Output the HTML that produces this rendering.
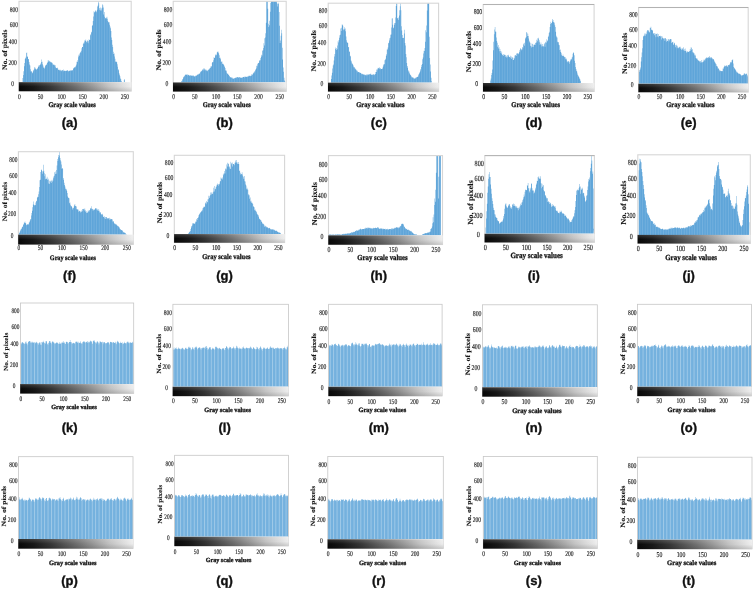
<!DOCTYPE html><html><head><meta charset="utf-8"><title>Histograms</title>
<style>html,body{margin:0;padding:0;background:#fff}svg{display:block}text{text-rendering:geometricPrecision}.t{font-family:"Liberation Serif",serif;fill:#1c1c1c;stroke:#1c1c1c;stroke-width:0.15px}.ax{font-family:"Liberation Serif",serif;font-weight:bold;fill:#151515;stroke:#151515;stroke-width:0.3px}.ay{font-family:"Liberation Serif",serif;font-weight:bold;fill:#151515;stroke:#151515;stroke-width:0.1px}.pl{font-family:"Liberation Sans",sans-serif;font-size:13px;font-weight:bold;fill:#111;stroke:#111;stroke-width:0.35px}</style></head><body>
<svg width="753" height="589" viewBox="0 0 753 589">
<defs>
<linearGradient id="gg" x1="0" y1="0" x2="1" y2="0"><stop offset="0" stop-color="rgb(8,8,8)"/><stop offset="0.13" stop-color="rgb(24,24,24)"/><stop offset="0.28" stop-color="rgb(54,54,54)"/><stop offset="0.4" stop-color="rgb(84,84,84)"/><stop offset="0.52" stop-color="rgb(114,114,114)"/><stop offset="0.65" stop-color="rgb(150,150,150)"/><stop offset="0.8" stop-color="rgb(194,194,194)"/><stop offset="1" stop-color="rgb(238,238,238)"/></linearGradient>
<linearGradient id="gv" x1="0" y1="0" x2="0" y2="1"><stop offset="0" stop-color="#fff" stop-opacity="0.17"/><stop offset="0.5" stop-color="#fff" stop-opacity="0"/><stop offset="0.5" stop-color="#000" stop-opacity="0"/><stop offset="1" stop-color="#000" stop-opacity="0.14"/></linearGradient>
<pattern id="st" width="2.6" height="10" patternUnits="userSpaceOnUse"><rect x="0" y="0" width="0.5" height="10" fill="#ffffff" fill-opacity="0.22"/></pattern>
<pattern id="st2" width="3.4" height="10" patternUnits="userSpaceOnUse"><rect x="0" y="0" width="0.9" height="10" fill="#ffffff" fill-opacity="0.33"/></pattern>
</defs>
<rect width="753" height="589" fill="#ffffff"/>
<g>
<clipPath id="ca"><rect x="19.00" y="1.30" width="112.20" height="80.90"/></clipPath>
<g clip-path="url(#ca)"><polygon points="22.18,82.20 22.18,82.18 22.63,82.18 22.63,78.00 23.08,78.00 23.08,75.01 23.53,75.01 23.53,71.17 23.98,71.17 23.98,66.34 24.43,66.34 24.43,63.00 24.88,63.00 24.88,59.01 25.33,59.01 25.33,57.98 25.78,57.98 25.78,56.87 26.23,56.87 26.23,52.99 26.68,52.99 26.68,52.45 27.13,52.45 27.13,56.56 27.58,56.56 27.58,56.66 28.03,56.66 28.03,59.29 28.48,59.29 28.48,58.92 28.93,58.92 28.93,61.96 29.38,61.96 29.38,64.46 29.83,64.46 29.83,65.58 30.28,65.58 30.28,69.31 30.73,69.31 30.73,71.38 31.18,71.38 31.18,71.16 31.63,71.16 31.63,71.38 32.08,71.38 32.08,72.44 32.53,72.44 32.53,73.28 32.98,73.28 32.98,71.34 33.43,71.34 33.43,69.91 33.88,69.91 33.88,69.14 34.33,69.14 34.33,67.22 34.78,67.22 34.78,67.62 35.23,67.62 35.23,68.58 35.68,68.58 35.68,69.21 36.13,69.21 36.13,69.24 36.58,69.24 36.58,69.65 37.03,69.65 37.03,68.70 37.48,68.70 37.48,68.26 37.93,68.26 37.93,67.00 38.38,67.00 38.38,65.50 38.83,65.50 38.83,66.40 39.28,66.40 39.28,65.21 39.73,65.21 39.73,64.97 40.18,64.97 40.18,63.43 40.63,63.43 40.63,64.56 41.08,64.56 41.08,62.06 41.53,62.06 41.53,59.51 41.98,59.51 41.98,61.73 42.43,61.73 42.43,64.31 42.88,64.31 42.88,65.62 43.33,65.62 43.33,67.43 43.78,67.43 43.78,67.67 44.23,67.67 44.23,68.84 44.68,68.84 44.68,67.50 45.13,67.50 45.13,65.67 45.58,65.67 45.58,65.27 46.03,65.27 46.03,64.95 46.48,64.95 46.48,64.21 46.93,64.21 46.93,62.78 47.38,62.78 47.38,62.41 47.83,62.41 47.83,60.35 48.28,60.35 48.28,60.45 48.73,60.45 48.73,62.08 49.18,62.08 49.18,61.18 49.63,61.18 49.63,60.67 50.08,60.67 50.08,61.80 50.53,61.80 50.53,62.34 50.98,62.34 50.98,62.46 51.43,62.46 51.43,62.19 51.88,62.19 51.88,62.87 52.33,62.87 52.33,63.55 52.78,63.55 52.78,64.71 53.23,64.71 53.23,64.60 53.68,64.60 53.68,64.76 54.13,64.76 54.13,65.44 54.58,65.44 54.58,64.86 55.03,64.86 55.03,65.36 55.48,65.36 55.48,67.25 55.93,67.25 55.93,68.27 56.38,68.27 56.38,67.90 56.83,67.90 56.83,67.84 57.28,67.84 57.28,67.70 57.73,67.70 57.73,68.67 58.18,68.67 58.18,69.90 58.63,69.90 58.63,69.79 59.08,69.79 59.08,69.66 59.53,69.66 59.53,70.55 59.98,70.55 59.98,69.71 60.43,69.71 60.43,70.52 60.88,70.52 60.88,71.30 61.33,71.30 61.33,70.60 61.78,70.60 61.78,70.36 62.23,70.36 62.23,69.98 62.68,69.98 62.68,70.44 63.13,70.44 63.13,71.14 63.58,71.14 63.58,69.40 64.03,69.40 64.03,70.76 64.48,70.76 64.48,70.79 64.93,70.79 64.93,70.98 65.38,70.98 65.38,70.79 65.83,70.79 65.83,70.99 66.28,70.99 66.28,70.55 66.73,70.55 66.73,70.70 67.18,70.70 67.18,70.54 67.63,70.54 67.63,69.96 68.08,69.96 68.08,71.46 68.53,71.46 68.53,71.01 68.98,71.01 68.98,70.45 69.43,70.45 69.43,70.97 69.88,70.97 69.88,70.83 70.33,70.83 70.33,70.49 70.78,70.49 70.78,70.36 71.23,70.36 71.23,70.58 71.68,70.58 71.68,70.62 72.13,70.62 72.13,70.49 72.58,70.49 72.58,69.94 73.03,69.94 73.03,68.45 73.48,68.45 73.48,68.13 73.93,68.13 73.93,67.33 74.38,67.33 74.38,67.49 74.83,67.49 74.83,67.42 75.28,67.42 75.28,66.63 75.73,66.63 75.73,65.83 76.18,65.83 76.18,64.57 76.63,64.57 76.63,61.82 77.08,61.82 77.08,62.02 77.53,62.02 77.53,60.24 77.98,60.24 77.98,57.16 78.43,57.16 78.43,55.54 78.88,55.54 78.88,54.17 79.33,54.17 79.33,55.70 79.78,55.70 79.78,53.09 80.23,53.09 80.23,51.68 80.68,51.68 80.68,52.60 81.13,52.60 81.13,50.67 81.58,50.67 81.58,48.22 82.03,48.22 82.03,47.02 82.48,47.02 82.48,46.99 82.93,46.99 82.93,43.95 83.38,43.95 83.38,42.87 83.83,42.87 83.83,43.56 84.28,43.56 84.28,41.46 84.73,41.46 84.73,39.92 85.18,39.92 85.18,41.02 85.63,41.02 85.63,39.49 86.08,39.49 86.08,41.54 86.53,41.54 86.53,42.14 86.98,42.14 86.98,41.21 87.43,41.21 87.43,40.37 87.88,40.37 87.88,43.36 88.33,43.36 88.33,41.16 88.78,41.16 88.78,39.28 89.23,39.28 89.23,39.99 89.68,39.99 89.68,39.88 90.13,39.88 90.13,35.34 90.58,35.34 90.58,34.28 91.03,34.28 91.03,32.60 91.48,32.60 91.48,31.74 91.93,31.74 91.93,25.91 92.38,25.91 92.38,24.93 92.83,24.93 92.83,21.00 93.28,21.00 93.28,16.59 93.73,16.59 93.73,11.34 94.18,11.34 94.18,12.59 94.63,12.59 94.63,12.11 95.08,12.11 95.08,11.17 95.53,11.17 95.53,10.18 95.98,10.18 95.98,12.35 96.43,12.35 96.43,11.27 96.88,11.27 96.88,9.81 97.33,9.81 97.33,6.44 97.78,6.44 97.78,5.55 98.23,5.55 98.23,0.79 98.68,0.79 98.68,3.18 99.13,3.18 99.13,8.10 99.58,8.10 99.58,9.64 100.03,9.64 100.03,7.58 100.48,7.58 100.48,10.46 100.93,10.46 100.93,8.50 101.38,8.50 101.38,10.59 101.83,10.59 101.83,7.76 102.28,7.76 102.28,4.35 102.73,4.35 102.73,5.13 103.18,5.13 103.18,7.59 103.63,7.59 103.63,14.61 104.08,14.61 104.08,12.11 104.53,12.11 104.53,16.75 104.98,16.75 104.98,18.58 105.43,18.58 105.43,18.05 105.88,18.05 105.88,17.50 106.33,17.50 106.33,18.53 106.78,18.53 106.78,16.63 107.23,16.63 107.23,18.66 107.68,18.66 107.68,21.01 108.13,21.01 108.13,22.06 108.58,22.06 108.58,22.38 109.03,22.38 109.03,22.20 109.48,22.20 109.48,24.78 109.93,24.78 109.93,26.53 110.38,26.53 110.38,28.30 110.83,28.30 110.83,30.95 111.28,30.95 111.28,37.47 111.73,37.47 111.73,39.89 112.18,39.89 112.18,44.84 112.63,44.84 112.63,47.12 113.08,47.12 113.08,51.64 113.53,51.64 113.53,54.05 113.98,54.05 113.98,53.43 114.43,53.43 114.43,56.50 114.88,56.50 114.88,58.84 115.33,58.84 115.33,61.60 115.78,61.60 115.78,61.90 116.23,61.90 116.23,61.62 116.68,61.62 116.68,62.21 117.13,62.21 117.13,64.27 117.58,64.27 117.58,66.84 118.03,66.84 118.03,69.20 118.48,69.20 118.48,70.32 118.93,70.32 118.93,73.23 119.38,73.23 119.38,74.70 119.83,74.70 119.83,76.22 120.28,76.22 120.28,78.53 120.73,78.53 120.73,79.25 121.18,79.25 121.18,81.05 121.63,81.05 121.63,82.18 122.08,82.18 122.08,82.18 122.53,82.18 122.53,82.18 122.98,82.18 122.98,82.18 123.43,82.18 123.43,82.18 123.88,82.18 123.88,79.71 124.33,79.71 124.33,79.27 124.78,79.27 124.78,82.14 125.23,82.14 124.79,82.20" fill="#5fa5d9"/><polygon points="22.18,82.20 22.18,82.18 22.63,82.18 22.63,78.00 23.08,78.00 23.08,75.01 23.53,75.01 23.53,71.17 23.98,71.17 23.98,66.34 24.43,66.34 24.43,63.00 24.88,63.00 24.88,59.01 25.33,59.01 25.33,57.98 25.78,57.98 25.78,56.87 26.23,56.87 26.23,52.99 26.68,52.99 26.68,52.45 27.13,52.45 27.13,56.56 27.58,56.56 27.58,56.66 28.03,56.66 28.03,59.29 28.48,59.29 28.48,58.92 28.93,58.92 28.93,61.96 29.38,61.96 29.38,64.46 29.83,64.46 29.83,65.58 30.28,65.58 30.28,69.31 30.73,69.31 30.73,71.38 31.18,71.38 31.18,71.16 31.63,71.16 31.63,71.38 32.08,71.38 32.08,72.44 32.53,72.44 32.53,73.28 32.98,73.28 32.98,71.34 33.43,71.34 33.43,69.91 33.88,69.91 33.88,69.14 34.33,69.14 34.33,67.22 34.78,67.22 34.78,67.62 35.23,67.62 35.23,68.58 35.68,68.58 35.68,69.21 36.13,69.21 36.13,69.24 36.58,69.24 36.58,69.65 37.03,69.65 37.03,68.70 37.48,68.70 37.48,68.26 37.93,68.26 37.93,67.00 38.38,67.00 38.38,65.50 38.83,65.50 38.83,66.40 39.28,66.40 39.28,65.21 39.73,65.21 39.73,64.97 40.18,64.97 40.18,63.43 40.63,63.43 40.63,64.56 41.08,64.56 41.08,62.06 41.53,62.06 41.53,59.51 41.98,59.51 41.98,61.73 42.43,61.73 42.43,64.31 42.88,64.31 42.88,65.62 43.33,65.62 43.33,67.43 43.78,67.43 43.78,67.67 44.23,67.67 44.23,68.84 44.68,68.84 44.68,67.50 45.13,67.50 45.13,65.67 45.58,65.67 45.58,65.27 46.03,65.27 46.03,64.95 46.48,64.95 46.48,64.21 46.93,64.21 46.93,62.78 47.38,62.78 47.38,62.41 47.83,62.41 47.83,60.35 48.28,60.35 48.28,60.45 48.73,60.45 48.73,62.08 49.18,62.08 49.18,61.18 49.63,61.18 49.63,60.67 50.08,60.67 50.08,61.80 50.53,61.80 50.53,62.34 50.98,62.34 50.98,62.46 51.43,62.46 51.43,62.19 51.88,62.19 51.88,62.87 52.33,62.87 52.33,63.55 52.78,63.55 52.78,64.71 53.23,64.71 53.23,64.60 53.68,64.60 53.68,64.76 54.13,64.76 54.13,65.44 54.58,65.44 54.58,64.86 55.03,64.86 55.03,65.36 55.48,65.36 55.48,67.25 55.93,67.25 55.93,68.27 56.38,68.27 56.38,67.90 56.83,67.90 56.83,67.84 57.28,67.84 57.28,67.70 57.73,67.70 57.73,68.67 58.18,68.67 58.18,69.90 58.63,69.90 58.63,69.79 59.08,69.79 59.08,69.66 59.53,69.66 59.53,70.55 59.98,70.55 59.98,69.71 60.43,69.71 60.43,70.52 60.88,70.52 60.88,71.30 61.33,71.30 61.33,70.60 61.78,70.60 61.78,70.36 62.23,70.36 62.23,69.98 62.68,69.98 62.68,70.44 63.13,70.44 63.13,71.14 63.58,71.14 63.58,69.40 64.03,69.40 64.03,70.76 64.48,70.76 64.48,70.79 64.93,70.79 64.93,70.98 65.38,70.98 65.38,70.79 65.83,70.79 65.83,70.99 66.28,70.99 66.28,70.55 66.73,70.55 66.73,70.70 67.18,70.70 67.18,70.54 67.63,70.54 67.63,69.96 68.08,69.96 68.08,71.46 68.53,71.46 68.53,71.01 68.98,71.01 68.98,70.45 69.43,70.45 69.43,70.97 69.88,70.97 69.88,70.83 70.33,70.83 70.33,70.49 70.78,70.49 70.78,70.36 71.23,70.36 71.23,70.58 71.68,70.58 71.68,70.62 72.13,70.62 72.13,70.49 72.58,70.49 72.58,69.94 73.03,69.94 73.03,68.45 73.48,68.45 73.48,68.13 73.93,68.13 73.93,67.33 74.38,67.33 74.38,67.49 74.83,67.49 74.83,67.42 75.28,67.42 75.28,66.63 75.73,66.63 75.73,65.83 76.18,65.83 76.18,64.57 76.63,64.57 76.63,61.82 77.08,61.82 77.08,62.02 77.53,62.02 77.53,60.24 77.98,60.24 77.98,57.16 78.43,57.16 78.43,55.54 78.88,55.54 78.88,54.17 79.33,54.17 79.33,55.70 79.78,55.70 79.78,53.09 80.23,53.09 80.23,51.68 80.68,51.68 80.68,52.60 81.13,52.60 81.13,50.67 81.58,50.67 81.58,48.22 82.03,48.22 82.03,47.02 82.48,47.02 82.48,46.99 82.93,46.99 82.93,43.95 83.38,43.95 83.38,42.87 83.83,42.87 83.83,43.56 84.28,43.56 84.28,41.46 84.73,41.46 84.73,39.92 85.18,39.92 85.18,41.02 85.63,41.02 85.63,39.49 86.08,39.49 86.08,41.54 86.53,41.54 86.53,42.14 86.98,42.14 86.98,41.21 87.43,41.21 87.43,40.37 87.88,40.37 87.88,43.36 88.33,43.36 88.33,41.16 88.78,41.16 88.78,39.28 89.23,39.28 89.23,39.99 89.68,39.99 89.68,39.88 90.13,39.88 90.13,35.34 90.58,35.34 90.58,34.28 91.03,34.28 91.03,32.60 91.48,32.60 91.48,31.74 91.93,31.74 91.93,25.91 92.38,25.91 92.38,24.93 92.83,24.93 92.83,21.00 93.28,21.00 93.28,16.59 93.73,16.59 93.73,11.34 94.18,11.34 94.18,12.59 94.63,12.59 94.63,12.11 95.08,12.11 95.08,11.17 95.53,11.17 95.53,10.18 95.98,10.18 95.98,12.35 96.43,12.35 96.43,11.27 96.88,11.27 96.88,9.81 97.33,9.81 97.33,6.44 97.78,6.44 97.78,5.55 98.23,5.55 98.23,0.79 98.68,0.79 98.68,3.18 99.13,3.18 99.13,8.10 99.58,8.10 99.58,9.64 100.03,9.64 100.03,7.58 100.48,7.58 100.48,10.46 100.93,10.46 100.93,8.50 101.38,8.50 101.38,10.59 101.83,10.59 101.83,7.76 102.28,7.76 102.28,4.35 102.73,4.35 102.73,5.13 103.18,5.13 103.18,7.59 103.63,7.59 103.63,14.61 104.08,14.61 104.08,12.11 104.53,12.11 104.53,16.75 104.98,16.75 104.98,18.58 105.43,18.58 105.43,18.05 105.88,18.05 105.88,17.50 106.33,17.50 106.33,18.53 106.78,18.53 106.78,16.63 107.23,16.63 107.23,18.66 107.68,18.66 107.68,21.01 108.13,21.01 108.13,22.06 108.58,22.06 108.58,22.38 109.03,22.38 109.03,22.20 109.48,22.20 109.48,24.78 109.93,24.78 109.93,26.53 110.38,26.53 110.38,28.30 110.83,28.30 110.83,30.95 111.28,30.95 111.28,37.47 111.73,37.47 111.73,39.89 112.18,39.89 112.18,44.84 112.63,44.84 112.63,47.12 113.08,47.12 113.08,51.64 113.53,51.64 113.53,54.05 113.98,54.05 113.98,53.43 114.43,53.43 114.43,56.50 114.88,56.50 114.88,58.84 115.33,58.84 115.33,61.60 115.78,61.60 115.78,61.90 116.23,61.90 116.23,61.62 116.68,61.62 116.68,62.21 117.13,62.21 117.13,64.27 117.58,64.27 117.58,66.84 118.03,66.84 118.03,69.20 118.48,69.20 118.48,70.32 118.93,70.32 118.93,73.23 119.38,73.23 119.38,74.70 119.83,74.70 119.83,76.22 120.28,76.22 120.28,78.53 120.73,78.53 120.73,79.25 121.18,79.25 121.18,81.05 121.63,81.05 121.63,82.18 122.08,82.18 122.08,82.18 122.53,82.18 122.53,82.18 122.98,82.18 122.98,82.18 123.43,82.18 123.43,82.18 123.88,82.18 123.88,79.71 124.33,79.71 124.33,79.27 124.78,79.27 124.78,82.14 125.23,82.14 124.79,82.20" fill="url(#st)"/></g>
<rect x="19.00" y="1.30" width="112.20" height="89.70" fill="none" stroke="#d6d6d6" stroke-width="1.1"/>
<rect x="18.80" y="82.20" width="112.60" height="9.00" fill="url(#gg)"/><rect x="18.80" y="82.20" width="112.60" height="9.00" fill="url(#gv)"/>
<text font-size="7.2" class="t" transform="translate(18.00,11.80) scale(0.77,1)" text-anchor="end">800</text>
<text font-size="7.2" class="t" transform="translate(18.00,27.20) scale(0.77,1)" text-anchor="end">600</text>
<text font-size="7.2" class="t" transform="translate(17.10,44.20) scale(0.77,1)" text-anchor="end">400</text>
<text font-size="7.2" class="t" transform="translate(16.70,65.10) scale(0.77,1)" text-anchor="end">200</text>
<text font-size="7.2" class="t" transform="translate(14.00,85.90) scale(0.77,1)" text-anchor="end">0</text>
<text font-size="7.2" class="t" transform="translate(19.40,98.70) scale(0.77,1)" text-anchor="middle">0</text>
<text font-size="7.2" class="t" transform="translate(40.49,98.70) scale(0.77,1)" text-anchor="middle">50</text>
<text font-size="7.2" class="t" transform="translate(61.58,98.70) scale(0.77,1)" text-anchor="middle">100</text>
<text font-size="7.2" class="t" transform="translate(82.67,98.70) scale(0.77,1)" text-anchor="middle">150</text>
<text font-size="7.2" class="t" transform="translate(103.76,98.70) scale(0.77,1)" text-anchor="middle">200</text>
<text font-size="7.2" class="t" transform="translate(124.85,98.70) scale(0.77,1)" text-anchor="middle">250</text>
<text font-size="7.2" class="ax" transform="translate(72.10,107.10) scale(0.886,1)" text-anchor="middle">Gray scale values</text>
<text font-size="7.0" class="ay" transform="translate(7.10,49.75) rotate(-90) scale(1.103,1)" text-anchor="middle">No. of pixels</text>
<text class="pl" x="69.60" y="127.00" text-anchor="middle">(a)</text>
</g>
<g>
<clipPath id="cb"><rect x="173.20" y="1.30" width="113.00" height="81.20"/></clipPath>
<g clip-path="url(#cb)"><polygon points="180.85,82.50 180.85,82.50 181.30,82.50 181.30,81.21 181.75,81.21 181.75,80.64 182.20,80.64 182.20,79.60 182.65,79.60 182.65,78.89 183.10,78.89 183.10,77.43 183.55,77.43 183.55,76.71 184.00,76.71 184.00,76.58 184.45,76.58 184.45,75.81 184.90,75.81 184.90,74.65 185.35,74.65 185.35,74.82 185.80,74.82 185.80,74.51 186.25,74.51 186.25,75.12 186.70,75.12 186.70,74.31 187.15,74.31 187.15,74.54 187.60,74.54 187.60,75.55 188.05,75.55 188.05,74.91 188.50,74.91 188.50,74.87 188.95,74.87 188.95,75.68 189.40,75.68 189.40,75.54 189.85,75.54 189.85,75.00 190.30,75.00 190.30,75.62 190.75,75.62 190.75,75.85 191.20,75.85 191.20,75.30 191.65,75.30 191.65,76.01 192.10,76.01 192.10,75.43 192.55,75.43 192.55,75.80 193.00,75.80 193.00,75.57 193.45,75.57 193.45,75.82 193.90,75.82 193.90,76.85 194.35,76.85 194.35,75.98 194.80,75.98 194.80,76.52 195.25,76.52 195.25,75.63 195.70,75.63 195.70,75.65 196.15,75.65 196.15,75.81 196.60,75.81 196.60,75.37 197.05,75.37 197.05,74.40 197.50,74.40 197.50,74.85 197.95,74.85 197.95,74.72 198.40,74.72 198.40,73.89 198.85,73.89 198.85,73.46 199.30,73.46 199.30,74.04 199.75,74.04 199.75,72.94 200.20,72.94 200.20,71.86 200.65,71.86 200.65,71.71 201.10,71.71 201.10,70.74 201.55,70.74 201.55,71.20 202.00,71.20 202.00,70.16 202.45,70.16 202.45,69.16 202.90,69.16 202.90,70.24 203.35,70.24 203.35,68.59 203.80,68.59 203.80,68.69 204.25,68.69 204.25,68.47 204.70,68.47 204.70,70.13 205.15,70.13 205.15,69.26 205.60,69.26 205.60,70.32 206.05,70.32 206.05,69.85 206.50,69.85 206.50,70.84 206.95,70.84 206.95,71.15 207.40,71.15 207.40,70.55 207.85,70.55 207.85,70.07 208.30,70.07 208.30,69.78 208.75,69.78 208.75,69.35 209.20,69.35 209.20,69.32 209.65,69.32 209.65,68.00 210.10,68.00 210.10,68.08 210.55,68.08 210.55,66.52 211.00,66.52 211.00,66.85 211.45,66.85 211.45,66.02 211.90,66.02 211.90,62.87 212.35,62.87 212.35,61.92 212.80,61.92 212.80,62.00 213.25,62.00 213.25,60.27 213.70,60.27 213.70,57.25 214.15,57.25 214.15,57.94 214.60,57.94 214.60,57.74 215.05,57.74 215.05,55.41 215.50,55.41 215.50,54.51 215.95,54.51 215.95,54.62 216.40,54.62 216.40,55.26 216.85,55.26 216.85,52.39 217.30,52.39 217.30,52.11 217.75,52.11 217.75,51.28 218.20,51.28 218.20,52.47 218.65,52.47 218.65,53.47 219.10,53.47 219.10,55.36 219.55,55.36 219.55,58.05 220.00,58.05 220.00,57.77 220.45,57.77 220.45,59.35 220.90,59.35 220.90,61.98 221.35,61.98 221.35,61.62 221.80,61.62 221.80,61.56 222.25,61.56 222.25,64.12 222.70,64.12 222.70,63.56 223.15,63.56 223.15,64.22 223.60,64.22 223.60,64.65 224.05,64.65 224.05,65.84 224.50,65.84 224.50,66.97 224.95,66.97 224.95,68.11 225.40,68.11 225.40,70.40 225.85,70.40 225.85,70.33 226.30,70.33 226.30,71.37 226.75,71.37 226.75,72.90 227.20,72.90 227.20,73.93 227.65,73.93 227.65,73.55 228.10,73.55 228.10,74.79 228.55,74.79 228.55,74.81 229.00,74.81 229.00,75.63 229.45,75.63 229.45,76.23 229.90,76.23 229.90,77.16 230.35,77.16 230.35,77.20 230.80,77.20 230.80,77.18 231.25,77.18 231.25,77.82 231.70,77.82 231.70,77.57 232.15,77.57 232.15,77.86 232.60,77.86 232.60,78.72 233.05,78.72 233.05,78.55 233.50,78.55 233.50,78.66 233.95,78.66 233.95,78.06 234.40,78.06 234.40,78.56 234.85,78.56 234.85,78.12 235.30,78.12 235.30,77.61 235.75,77.61 235.75,78.22 236.20,78.22 236.20,77.59 236.65,77.59 236.65,77.32 237.10,77.32 237.10,77.14 237.55,77.14 237.55,76.99 238.00,76.99 238.00,77.13 238.45,77.13 238.45,77.70 238.90,77.70 238.90,77.12 239.35,77.12 239.35,77.28 239.80,77.28 239.80,77.52 240.25,77.52 240.25,77.66 240.70,77.66 240.70,77.51 241.15,77.51 241.15,77.98 241.60,77.98 241.60,77.44 242.05,77.44 242.05,77.51 242.50,77.51 242.50,77.47 242.95,77.47 242.95,77.04 243.40,77.04 243.40,77.03 243.85,77.03 243.85,76.84 244.30,76.84 244.30,77.39 244.75,77.39 244.75,76.62 245.20,76.62 245.20,77.12 245.65,77.12 245.65,76.49 246.10,76.49 246.10,76.88 246.55,76.88 246.55,76.79 247.00,76.79 247.00,76.34 247.45,76.34 247.45,76.95 247.90,76.95 247.90,76.53 248.35,76.53 248.35,76.31 248.80,76.31 248.80,75.59 249.25,75.59 249.25,75.95 249.70,75.95 249.70,75.68 250.15,75.68 250.15,75.85 250.60,75.85 250.60,76.33 251.05,76.33 251.05,75.81 251.50,75.81 251.50,74.29 251.95,74.29 251.95,74.69 252.40,74.69 252.40,74.61 252.85,74.61 252.85,73.60 253.30,73.60 253.30,72.46 253.75,72.46 253.75,73.21 254.20,73.21 254.20,71.53 254.65,71.53 254.65,71.50 255.10,71.50 255.10,70.33 255.55,70.33 255.55,69.27 256.00,69.27 256.00,68.50 256.45,68.50 256.45,65.64 256.90,65.64 256.90,66.25 257.35,66.25 257.35,64.33 257.80,64.33 257.80,63.14 258.25,63.14 258.25,62.98 258.70,62.98 258.70,62.77 259.15,62.77 259.15,60.46 259.60,60.46 259.60,60.58 260.05,60.58 260.05,60.20 260.50,60.20 260.50,58.00 260.95,58.00 260.95,56.76 261.40,56.76 261.40,54.64 261.85,54.64 261.85,55.44 262.30,55.44 262.30,50.78 262.75,50.78 262.75,50.31 263.20,50.31 263.20,48.11 263.65,48.11 263.65,43.26 264.10,43.26 264.10,45.49 264.55,45.49 264.55,38.30 265.00,38.30 265.00,37.57 265.45,37.57 265.45,33.25 265.90,33.25 265.90,22.67 266.35,22.67 266.35,-0.03 266.80,-0.03 266.80,-3.64 267.25,-3.64 267.25,-3.43 267.70,-3.43 267.70,8.75 268.15,8.75 268.15,23.82 268.60,23.82 268.60,27.04 269.05,27.04 269.05,25.29 269.50,25.29 269.50,20.64 269.95,20.64 269.95,11.73 270.40,11.73 270.40,3.04 270.85,3.04 270.85,-1.13 271.30,-1.13 271.30,-3.09 271.75,-3.09 271.75,-1.72 272.20,-1.72 272.20,-3.44 272.65,-3.44 272.65,-1.43 273.10,-1.43 273.10,-5.09 273.55,-5.09 273.55,-3.46 274.00,-3.46 274.00,-2.85 274.45,-2.85 274.45,-1.90 274.90,-1.90 274.90,-3.53 275.35,-3.53 275.35,-2.40 275.80,-2.40 275.80,-1.13 276.25,-1.13 276.25,-1.94 276.70,-1.94 276.70,2.50 277.15,2.50 277.15,3.84 277.60,3.84 277.60,6.60 278.05,6.60 278.05,4.01 278.50,4.01 278.50,2.72 278.95,2.72 278.95,12.09 279.40,12.09 279.40,25.63 279.85,25.63 279.85,43.07 280.30,43.07 280.30,40.44 280.75,40.44 280.75,35.66 281.20,35.66 281.20,29.77 281.65,29.77 281.65,33.34 282.10,33.34 282.10,47.87 282.55,47.87 282.55,59.57 283.00,59.57 283.00,67.40 283.45,67.40 283.45,71.66 283.90,71.66 283.90,77.75 284.35,77.75 284.35,80.56 284.80,80.56 284.80,81.60 285.25,81.60 285.21,82.50" fill="#5fa5d9"/><polygon points="180.85,82.50 180.85,82.50 181.30,82.50 181.30,81.21 181.75,81.21 181.75,80.64 182.20,80.64 182.20,79.60 182.65,79.60 182.65,78.89 183.10,78.89 183.10,77.43 183.55,77.43 183.55,76.71 184.00,76.71 184.00,76.58 184.45,76.58 184.45,75.81 184.90,75.81 184.90,74.65 185.35,74.65 185.35,74.82 185.80,74.82 185.80,74.51 186.25,74.51 186.25,75.12 186.70,75.12 186.70,74.31 187.15,74.31 187.15,74.54 187.60,74.54 187.60,75.55 188.05,75.55 188.05,74.91 188.50,74.91 188.50,74.87 188.95,74.87 188.95,75.68 189.40,75.68 189.40,75.54 189.85,75.54 189.85,75.00 190.30,75.00 190.30,75.62 190.75,75.62 190.75,75.85 191.20,75.85 191.20,75.30 191.65,75.30 191.65,76.01 192.10,76.01 192.10,75.43 192.55,75.43 192.55,75.80 193.00,75.80 193.00,75.57 193.45,75.57 193.45,75.82 193.90,75.82 193.90,76.85 194.35,76.85 194.35,75.98 194.80,75.98 194.80,76.52 195.25,76.52 195.25,75.63 195.70,75.63 195.70,75.65 196.15,75.65 196.15,75.81 196.60,75.81 196.60,75.37 197.05,75.37 197.05,74.40 197.50,74.40 197.50,74.85 197.95,74.85 197.95,74.72 198.40,74.72 198.40,73.89 198.85,73.89 198.85,73.46 199.30,73.46 199.30,74.04 199.75,74.04 199.75,72.94 200.20,72.94 200.20,71.86 200.65,71.86 200.65,71.71 201.10,71.71 201.10,70.74 201.55,70.74 201.55,71.20 202.00,71.20 202.00,70.16 202.45,70.16 202.45,69.16 202.90,69.16 202.90,70.24 203.35,70.24 203.35,68.59 203.80,68.59 203.80,68.69 204.25,68.69 204.25,68.47 204.70,68.47 204.70,70.13 205.15,70.13 205.15,69.26 205.60,69.26 205.60,70.32 206.05,70.32 206.05,69.85 206.50,69.85 206.50,70.84 206.95,70.84 206.95,71.15 207.40,71.15 207.40,70.55 207.85,70.55 207.85,70.07 208.30,70.07 208.30,69.78 208.75,69.78 208.75,69.35 209.20,69.35 209.20,69.32 209.65,69.32 209.65,68.00 210.10,68.00 210.10,68.08 210.55,68.08 210.55,66.52 211.00,66.52 211.00,66.85 211.45,66.85 211.45,66.02 211.90,66.02 211.90,62.87 212.35,62.87 212.35,61.92 212.80,61.92 212.80,62.00 213.25,62.00 213.25,60.27 213.70,60.27 213.70,57.25 214.15,57.25 214.15,57.94 214.60,57.94 214.60,57.74 215.05,57.74 215.05,55.41 215.50,55.41 215.50,54.51 215.95,54.51 215.95,54.62 216.40,54.62 216.40,55.26 216.85,55.26 216.85,52.39 217.30,52.39 217.30,52.11 217.75,52.11 217.75,51.28 218.20,51.28 218.20,52.47 218.65,52.47 218.65,53.47 219.10,53.47 219.10,55.36 219.55,55.36 219.55,58.05 220.00,58.05 220.00,57.77 220.45,57.77 220.45,59.35 220.90,59.35 220.90,61.98 221.35,61.98 221.35,61.62 221.80,61.62 221.80,61.56 222.25,61.56 222.25,64.12 222.70,64.12 222.70,63.56 223.15,63.56 223.15,64.22 223.60,64.22 223.60,64.65 224.05,64.65 224.05,65.84 224.50,65.84 224.50,66.97 224.95,66.97 224.95,68.11 225.40,68.11 225.40,70.40 225.85,70.40 225.85,70.33 226.30,70.33 226.30,71.37 226.75,71.37 226.75,72.90 227.20,72.90 227.20,73.93 227.65,73.93 227.65,73.55 228.10,73.55 228.10,74.79 228.55,74.79 228.55,74.81 229.00,74.81 229.00,75.63 229.45,75.63 229.45,76.23 229.90,76.23 229.90,77.16 230.35,77.16 230.35,77.20 230.80,77.20 230.80,77.18 231.25,77.18 231.25,77.82 231.70,77.82 231.70,77.57 232.15,77.57 232.15,77.86 232.60,77.86 232.60,78.72 233.05,78.72 233.05,78.55 233.50,78.55 233.50,78.66 233.95,78.66 233.95,78.06 234.40,78.06 234.40,78.56 234.85,78.56 234.85,78.12 235.30,78.12 235.30,77.61 235.75,77.61 235.75,78.22 236.20,78.22 236.20,77.59 236.65,77.59 236.65,77.32 237.10,77.32 237.10,77.14 237.55,77.14 237.55,76.99 238.00,76.99 238.00,77.13 238.45,77.13 238.45,77.70 238.90,77.70 238.90,77.12 239.35,77.12 239.35,77.28 239.80,77.28 239.80,77.52 240.25,77.52 240.25,77.66 240.70,77.66 240.70,77.51 241.15,77.51 241.15,77.98 241.60,77.98 241.60,77.44 242.05,77.44 242.05,77.51 242.50,77.51 242.50,77.47 242.95,77.47 242.95,77.04 243.40,77.04 243.40,77.03 243.85,77.03 243.85,76.84 244.30,76.84 244.30,77.39 244.75,77.39 244.75,76.62 245.20,76.62 245.20,77.12 245.65,77.12 245.65,76.49 246.10,76.49 246.10,76.88 246.55,76.88 246.55,76.79 247.00,76.79 247.00,76.34 247.45,76.34 247.45,76.95 247.90,76.95 247.90,76.53 248.35,76.53 248.35,76.31 248.80,76.31 248.80,75.59 249.25,75.59 249.25,75.95 249.70,75.95 249.70,75.68 250.15,75.68 250.15,75.85 250.60,75.85 250.60,76.33 251.05,76.33 251.05,75.81 251.50,75.81 251.50,74.29 251.95,74.29 251.95,74.69 252.40,74.69 252.40,74.61 252.85,74.61 252.85,73.60 253.30,73.60 253.30,72.46 253.75,72.46 253.75,73.21 254.20,73.21 254.20,71.53 254.65,71.53 254.65,71.50 255.10,71.50 255.10,70.33 255.55,70.33 255.55,69.27 256.00,69.27 256.00,68.50 256.45,68.50 256.45,65.64 256.90,65.64 256.90,66.25 257.35,66.25 257.35,64.33 257.80,64.33 257.80,63.14 258.25,63.14 258.25,62.98 258.70,62.98 258.70,62.77 259.15,62.77 259.15,60.46 259.60,60.46 259.60,60.58 260.05,60.58 260.05,60.20 260.50,60.20 260.50,58.00 260.95,58.00 260.95,56.76 261.40,56.76 261.40,54.64 261.85,54.64 261.85,55.44 262.30,55.44 262.30,50.78 262.75,50.78 262.75,50.31 263.20,50.31 263.20,48.11 263.65,48.11 263.65,43.26 264.10,43.26 264.10,45.49 264.55,45.49 264.55,38.30 265.00,38.30 265.00,37.57 265.45,37.57 265.45,33.25 265.90,33.25 265.90,22.67 266.35,22.67 266.35,-0.03 266.80,-0.03 266.80,-3.64 267.25,-3.64 267.25,-3.43 267.70,-3.43 267.70,8.75 268.15,8.75 268.15,23.82 268.60,23.82 268.60,27.04 269.05,27.04 269.05,25.29 269.50,25.29 269.50,20.64 269.95,20.64 269.95,11.73 270.40,11.73 270.40,3.04 270.85,3.04 270.85,-1.13 271.30,-1.13 271.30,-3.09 271.75,-3.09 271.75,-1.72 272.20,-1.72 272.20,-3.44 272.65,-3.44 272.65,-1.43 273.10,-1.43 273.10,-5.09 273.55,-5.09 273.55,-3.46 274.00,-3.46 274.00,-2.85 274.45,-2.85 274.45,-1.90 274.90,-1.90 274.90,-3.53 275.35,-3.53 275.35,-2.40 275.80,-2.40 275.80,-1.13 276.25,-1.13 276.25,-1.94 276.70,-1.94 276.70,2.50 277.15,2.50 277.15,3.84 277.60,3.84 277.60,6.60 278.05,6.60 278.05,4.01 278.50,4.01 278.50,2.72 278.95,2.72 278.95,12.09 279.40,12.09 279.40,25.63 279.85,25.63 279.85,43.07 280.30,43.07 280.30,40.44 280.75,40.44 280.75,35.66 281.20,35.66 281.20,29.77 281.65,29.77 281.65,33.34 282.10,33.34 282.10,47.87 282.55,47.87 282.55,59.57 283.00,59.57 283.00,67.40 283.45,67.40 283.45,71.66 283.90,71.66 283.90,77.75 284.35,77.75 284.35,80.56 284.80,80.56 284.80,81.60 285.25,81.60 285.21,82.50" fill="url(#st)"/></g>
<rect x="173.20" y="1.30" width="113.00" height="90.00" fill="none" stroke="#d6d6d6" stroke-width="1.1"/>
<rect x="173.00" y="82.50" width="113.40" height="9.00" fill="url(#gg)"/><rect x="173.00" y="82.50" width="113.40" height="9.00" fill="url(#gv)"/>
<text font-size="7.31" class="t" transform="translate(172.20,11.83) scale(0.77,1)" text-anchor="end">800</text>
<text font-size="7.31" class="t" transform="translate(172.20,27.23) scale(0.77,1)" text-anchor="end">600</text>
<text font-size="7.31" class="t" transform="translate(171.30,44.23) scale(0.77,1)" text-anchor="end">400</text>
<text font-size="7.31" class="t" transform="translate(170.90,65.13) scale(0.77,1)" text-anchor="end">200</text>
<text font-size="7.31" class="t" transform="translate(168.20,85.93) scale(0.77,1)" text-anchor="end">0</text>
<text font-size="7.31" class="t" transform="translate(173.60,98.70) scale(0.77,1)" text-anchor="middle">0</text>
<text font-size="7.31" class="t" transform="translate(194.84,98.70) scale(0.77,1)" text-anchor="middle">50</text>
<text font-size="7.31" class="t" transform="translate(216.08,98.70) scale(0.77,1)" text-anchor="middle">100</text>
<text font-size="7.31" class="t" transform="translate(237.32,98.70) scale(0.77,1)" text-anchor="middle">150</text>
<text font-size="7.31" class="t" transform="translate(258.56,98.70) scale(0.77,1)" text-anchor="middle">200</text>
<text font-size="7.31" class="t" transform="translate(279.80,98.70) scale(0.77,1)" text-anchor="middle">250</text>
<text font-size="7.31" class="ax" transform="translate(226.70,107.10) scale(0.886,1)" text-anchor="middle">Gray scale values</text>
<text font-size="7.1" class="ay" transform="translate(161.30,49.90) rotate(-90) scale(1.103,1)" text-anchor="middle">No. of pixels</text>
<text class="pl" x="224.60" y="127.00" text-anchor="middle">(b)</text>
</g>
<g>
<clipPath id="cc"><rect x="328.20" y="3.20" width="110.40" height="79.50"/></clipPath>
<g clip-path="url(#cc)"><polygon points="330.59,82.70 330.59,82.66 331.04,82.66 331.04,79.08 331.49,79.08 331.49,75.47 331.94,75.47 331.94,72.74 332.39,72.74 332.39,68.61 332.84,68.61 332.84,65.46 333.29,65.46 333.29,64.47 333.74,64.47 333.74,60.43 334.19,60.43 334.19,56.56 334.64,56.56 334.64,54.04 335.09,54.04 335.09,47.60 335.54,47.60 335.54,48.95 335.99,48.95 335.99,49.92 336.44,49.92 336.44,48.07 336.89,48.07 336.89,49.21 337.34,49.21 337.34,45.56 337.79,45.56 337.79,41.14 338.24,41.14 338.24,42.39 338.69,42.39 338.69,40.00 339.14,40.00 339.14,37.75 339.59,37.75 339.59,35.29 340.04,35.29 340.04,34.66 340.49,34.66 340.49,28.52 340.94,28.52 340.94,31.02 341.39,31.02 341.39,27.83 341.84,27.83 341.84,24.38 342.29,24.38 342.29,24.69 342.74,24.69 342.74,25.73 343.19,25.73 343.19,29.35 343.64,29.35 343.64,30.28 344.09,30.28 344.09,29.26 344.54,29.26 344.54,27.16 344.99,27.16 344.99,28.52 345.44,28.52 345.44,31.27 345.89,31.27 345.89,36.39 346.34,36.39 346.34,40.34 346.79,40.34 346.79,42.08 347.24,42.08 347.24,42.80 347.69,42.80 347.69,43.01 348.14,43.01 348.14,47.14 348.59,47.14 348.59,47.11 349.04,47.11 349.04,51.92 349.49,51.92 349.49,51.21 349.94,51.21 349.94,56.38 350.39,56.38 350.39,55.67 350.84,55.67 350.84,60.41 351.29,60.41 351.29,61.59 351.74,61.59 351.74,63.23 352.19,63.23 352.19,63.74 352.64,63.74 352.64,64.39 353.09,64.39 353.09,65.60 353.54,65.60 353.54,67.34 353.99,67.34 353.99,67.06 354.44,67.06 354.44,67.68 354.89,67.68 354.89,69.14 355.34,69.14 355.34,68.54 355.79,68.54 355.79,69.50 356.24,69.50 356.24,70.36 356.69,70.36 356.69,70.81 357.14,70.81 357.14,70.65 357.59,70.65 357.59,72.13 358.04,72.13 358.04,72.11 358.49,72.11 358.49,71.92 358.94,71.92 358.94,72.52 359.39,72.52 359.39,72.26 359.84,72.26 359.84,72.89 360.29,72.89 360.29,72.72 360.74,72.72 360.74,73.12 361.19,73.12 361.19,73.76 361.64,73.76 361.64,74.14 362.09,74.14 362.09,73.74 362.54,73.74 362.54,74.16 362.99,74.16 362.99,74.32 363.44,74.32 363.44,74.51 363.89,74.51 363.89,75.06 364.34,75.06 364.34,74.17 364.79,74.17 364.79,75.04 365.24,75.04 365.24,74.82 365.69,74.82 365.69,75.39 366.14,75.39 366.14,75.18 366.59,75.18 366.59,74.30 367.04,74.30 367.04,74.30 367.49,74.30 367.49,75.25 367.94,75.25 367.94,74.47 368.39,74.47 368.39,74.84 368.84,74.84 368.84,74.04 369.29,74.04 369.29,74.62 369.74,74.62 369.74,74.33 370.19,74.33 370.19,74.33 370.64,74.33 370.64,73.59 371.09,73.59 371.09,74.81 371.54,74.81 371.54,74.76 371.99,74.76 371.99,74.73 372.44,74.73 372.44,74.66 372.89,74.66 372.89,74.22 373.34,74.22 373.34,74.29 373.79,74.29 373.79,75.30 374.24,75.30 374.24,74.71 374.69,74.71 374.69,74.29 375.14,74.29 375.14,73.92 375.59,73.92 375.59,71.95 376.04,71.95 376.04,71.95 376.49,71.95 376.49,69.51 376.94,69.51 376.94,70.25 377.39,70.25 377.39,68.65 377.84,68.65 377.84,67.81 378.29,67.81 378.29,67.94 378.74,67.94 378.74,68.63 379.19,68.63 379.19,67.37 379.64,67.37 379.64,68.60 380.09,68.60 380.09,69.35 380.54,69.35 380.54,67.93 380.99,67.93 380.99,69.07 381.44,69.07 381.44,68.94 381.89,68.94 381.89,68.80 382.34,68.80 382.34,68.51 382.79,68.51 382.79,66.63 383.24,66.63 383.24,65.26 383.69,65.26 383.69,63.95 384.14,63.95 384.14,64.20 384.59,64.20 384.59,60.34 385.04,60.34 385.04,59.83 385.49,59.83 385.49,58.66 385.94,58.66 385.94,55.64 386.39,55.64 386.39,54.33 386.84,54.33 386.84,49.51 387.29,49.51 387.29,49.41 387.74,49.41 387.74,47.48 388.19,47.48 388.19,43.25 388.64,43.25 388.64,42.84 389.09,42.84 389.09,40.54 389.54,40.54 389.54,38.17 389.99,38.17 389.99,37.81 390.44,37.81 390.44,34.80 390.89,34.80 390.89,34.61 391.34,34.61 391.34,27.44 391.79,27.44 391.79,18.44 392.24,18.44 392.24,18.34 392.69,18.34 392.69,24.75 393.14,24.75 393.14,28.16 393.59,28.16 393.59,27.42 394.04,27.42 394.04,24.63 394.49,24.63 394.49,23.02 394.94,23.02 394.94,23.12 395.39,23.12 395.39,17.46 395.84,17.46 395.84,6.04 396.29,6.04 396.29,1.89 396.74,1.89 396.74,3.43 397.19,3.43 397.19,18.05 397.64,18.05 397.64,18.50 398.09,18.50 398.09,19.97 398.54,19.97 398.54,17.58 398.99,17.58 398.99,15.39 399.44,15.39 399.44,10.13 399.89,10.13 399.89,6.35 400.34,6.35 400.34,-1.49 400.79,-1.49 400.79,10.35 401.24,10.35 401.24,26.19 401.69,26.19 401.69,30.59 402.14,30.59 402.14,34.89 402.59,34.89 402.59,37.96 403.04,37.96 403.04,37.73 403.49,37.73 403.49,37.88 403.94,37.88 403.94,33.52 404.39,33.52 404.39,29.79 404.84,29.79 404.84,43.09 405.29,43.09 405.29,45.60 405.74,45.60 405.74,53.92 406.19,53.92 406.19,57.14 406.64,57.14 406.64,63.03 407.09,63.03 407.09,66.00 407.54,66.00 407.54,67.65 407.99,67.65 407.99,70.13 408.44,70.13 408.44,71.40 408.89,71.40 408.89,71.42 409.34,71.42 409.34,73.17 409.79,73.17 409.79,74.28 410.24,74.28 410.24,75.12 410.69,75.12 410.69,75.53 411.14,75.53 411.14,76.28 411.59,76.28 411.59,77.31 412.04,77.31 412.04,77.29 412.49,77.29 412.49,77.45 412.94,77.45 412.94,78.38 413.39,78.38 413.39,77.59 413.84,77.59 413.84,78.10 414.29,78.10 414.29,78.72 414.74,78.72 414.74,78.75 415.19,78.75 415.19,78.34 415.64,78.34 415.64,77.40 416.09,77.40 416.09,77.81 416.54,77.81 416.54,76.89 416.99,76.89 416.99,76.97 417.44,76.97 417.44,76.80 417.89,76.80 417.89,76.55 418.34,76.55 418.34,74.65 418.79,74.65 418.79,73.91 419.24,73.91 419.24,72.94 419.69,72.94 419.69,72.00 420.14,72.00 420.14,70.46 420.59,70.46 420.59,69.07 421.04,69.07 421.04,66.96 421.49,66.96 421.49,65.11 421.94,65.11 421.94,63.92 422.39,63.92 422.39,59.26 422.84,59.26 422.84,57.55 423.29,57.55 423.29,53.42 423.74,53.42 423.74,50.66 424.19,50.66 424.19,50.93 424.64,50.93 424.64,48.06 425.09,48.06 425.09,41.85 425.54,41.85 425.54,30.20 425.99,30.20 425.99,32.23 426.44,32.23 426.44,25.43 426.89,25.43 426.89,10.49 427.34,10.49 427.34,0.29 427.79,0.29 427.79,-0.29 428.24,-0.29 428.24,0.53 428.69,0.53 428.69,-1.06 429.14,-1.06 429.14,36.70 429.59,36.70 429.59,57.96 430.04,57.96 430.04,64.43 430.49,64.43 430.49,71.39 430.94,71.39 430.94,77.77 431.39,77.77 431.39,81.12 431.84,81.12 431.60,82.70" fill="#5fa5d9"/><polygon points="330.59,82.70 330.59,82.66 331.04,82.66 331.04,79.08 331.49,79.08 331.49,75.47 331.94,75.47 331.94,72.74 332.39,72.74 332.39,68.61 332.84,68.61 332.84,65.46 333.29,65.46 333.29,64.47 333.74,64.47 333.74,60.43 334.19,60.43 334.19,56.56 334.64,56.56 334.64,54.04 335.09,54.04 335.09,47.60 335.54,47.60 335.54,48.95 335.99,48.95 335.99,49.92 336.44,49.92 336.44,48.07 336.89,48.07 336.89,49.21 337.34,49.21 337.34,45.56 337.79,45.56 337.79,41.14 338.24,41.14 338.24,42.39 338.69,42.39 338.69,40.00 339.14,40.00 339.14,37.75 339.59,37.75 339.59,35.29 340.04,35.29 340.04,34.66 340.49,34.66 340.49,28.52 340.94,28.52 340.94,31.02 341.39,31.02 341.39,27.83 341.84,27.83 341.84,24.38 342.29,24.38 342.29,24.69 342.74,24.69 342.74,25.73 343.19,25.73 343.19,29.35 343.64,29.35 343.64,30.28 344.09,30.28 344.09,29.26 344.54,29.26 344.54,27.16 344.99,27.16 344.99,28.52 345.44,28.52 345.44,31.27 345.89,31.27 345.89,36.39 346.34,36.39 346.34,40.34 346.79,40.34 346.79,42.08 347.24,42.08 347.24,42.80 347.69,42.80 347.69,43.01 348.14,43.01 348.14,47.14 348.59,47.14 348.59,47.11 349.04,47.11 349.04,51.92 349.49,51.92 349.49,51.21 349.94,51.21 349.94,56.38 350.39,56.38 350.39,55.67 350.84,55.67 350.84,60.41 351.29,60.41 351.29,61.59 351.74,61.59 351.74,63.23 352.19,63.23 352.19,63.74 352.64,63.74 352.64,64.39 353.09,64.39 353.09,65.60 353.54,65.60 353.54,67.34 353.99,67.34 353.99,67.06 354.44,67.06 354.44,67.68 354.89,67.68 354.89,69.14 355.34,69.14 355.34,68.54 355.79,68.54 355.79,69.50 356.24,69.50 356.24,70.36 356.69,70.36 356.69,70.81 357.14,70.81 357.14,70.65 357.59,70.65 357.59,72.13 358.04,72.13 358.04,72.11 358.49,72.11 358.49,71.92 358.94,71.92 358.94,72.52 359.39,72.52 359.39,72.26 359.84,72.26 359.84,72.89 360.29,72.89 360.29,72.72 360.74,72.72 360.74,73.12 361.19,73.12 361.19,73.76 361.64,73.76 361.64,74.14 362.09,74.14 362.09,73.74 362.54,73.74 362.54,74.16 362.99,74.16 362.99,74.32 363.44,74.32 363.44,74.51 363.89,74.51 363.89,75.06 364.34,75.06 364.34,74.17 364.79,74.17 364.79,75.04 365.24,75.04 365.24,74.82 365.69,74.82 365.69,75.39 366.14,75.39 366.14,75.18 366.59,75.18 366.59,74.30 367.04,74.30 367.04,74.30 367.49,74.30 367.49,75.25 367.94,75.25 367.94,74.47 368.39,74.47 368.39,74.84 368.84,74.84 368.84,74.04 369.29,74.04 369.29,74.62 369.74,74.62 369.74,74.33 370.19,74.33 370.19,74.33 370.64,74.33 370.64,73.59 371.09,73.59 371.09,74.81 371.54,74.81 371.54,74.76 371.99,74.76 371.99,74.73 372.44,74.73 372.44,74.66 372.89,74.66 372.89,74.22 373.34,74.22 373.34,74.29 373.79,74.29 373.79,75.30 374.24,75.30 374.24,74.71 374.69,74.71 374.69,74.29 375.14,74.29 375.14,73.92 375.59,73.92 375.59,71.95 376.04,71.95 376.04,71.95 376.49,71.95 376.49,69.51 376.94,69.51 376.94,70.25 377.39,70.25 377.39,68.65 377.84,68.65 377.84,67.81 378.29,67.81 378.29,67.94 378.74,67.94 378.74,68.63 379.19,68.63 379.19,67.37 379.64,67.37 379.64,68.60 380.09,68.60 380.09,69.35 380.54,69.35 380.54,67.93 380.99,67.93 380.99,69.07 381.44,69.07 381.44,68.94 381.89,68.94 381.89,68.80 382.34,68.80 382.34,68.51 382.79,68.51 382.79,66.63 383.24,66.63 383.24,65.26 383.69,65.26 383.69,63.95 384.14,63.95 384.14,64.20 384.59,64.20 384.59,60.34 385.04,60.34 385.04,59.83 385.49,59.83 385.49,58.66 385.94,58.66 385.94,55.64 386.39,55.64 386.39,54.33 386.84,54.33 386.84,49.51 387.29,49.51 387.29,49.41 387.74,49.41 387.74,47.48 388.19,47.48 388.19,43.25 388.64,43.25 388.64,42.84 389.09,42.84 389.09,40.54 389.54,40.54 389.54,38.17 389.99,38.17 389.99,37.81 390.44,37.81 390.44,34.80 390.89,34.80 390.89,34.61 391.34,34.61 391.34,27.44 391.79,27.44 391.79,18.44 392.24,18.44 392.24,18.34 392.69,18.34 392.69,24.75 393.14,24.75 393.14,28.16 393.59,28.16 393.59,27.42 394.04,27.42 394.04,24.63 394.49,24.63 394.49,23.02 394.94,23.02 394.94,23.12 395.39,23.12 395.39,17.46 395.84,17.46 395.84,6.04 396.29,6.04 396.29,1.89 396.74,1.89 396.74,3.43 397.19,3.43 397.19,18.05 397.64,18.05 397.64,18.50 398.09,18.50 398.09,19.97 398.54,19.97 398.54,17.58 398.99,17.58 398.99,15.39 399.44,15.39 399.44,10.13 399.89,10.13 399.89,6.35 400.34,6.35 400.34,-1.49 400.79,-1.49 400.79,10.35 401.24,10.35 401.24,26.19 401.69,26.19 401.69,30.59 402.14,30.59 402.14,34.89 402.59,34.89 402.59,37.96 403.04,37.96 403.04,37.73 403.49,37.73 403.49,37.88 403.94,37.88 403.94,33.52 404.39,33.52 404.39,29.79 404.84,29.79 404.84,43.09 405.29,43.09 405.29,45.60 405.74,45.60 405.74,53.92 406.19,53.92 406.19,57.14 406.64,57.14 406.64,63.03 407.09,63.03 407.09,66.00 407.54,66.00 407.54,67.65 407.99,67.65 407.99,70.13 408.44,70.13 408.44,71.40 408.89,71.40 408.89,71.42 409.34,71.42 409.34,73.17 409.79,73.17 409.79,74.28 410.24,74.28 410.24,75.12 410.69,75.12 410.69,75.53 411.14,75.53 411.14,76.28 411.59,76.28 411.59,77.31 412.04,77.31 412.04,77.29 412.49,77.29 412.49,77.45 412.94,77.45 412.94,78.38 413.39,78.38 413.39,77.59 413.84,77.59 413.84,78.10 414.29,78.10 414.29,78.72 414.74,78.72 414.74,78.75 415.19,78.75 415.19,78.34 415.64,78.34 415.64,77.40 416.09,77.40 416.09,77.81 416.54,77.81 416.54,76.89 416.99,76.89 416.99,76.97 417.44,76.97 417.44,76.80 417.89,76.80 417.89,76.55 418.34,76.55 418.34,74.65 418.79,74.65 418.79,73.91 419.24,73.91 419.24,72.94 419.69,72.94 419.69,72.00 420.14,72.00 420.14,70.46 420.59,70.46 420.59,69.07 421.04,69.07 421.04,66.96 421.49,66.96 421.49,65.11 421.94,65.11 421.94,63.92 422.39,63.92 422.39,59.26 422.84,59.26 422.84,57.55 423.29,57.55 423.29,53.42 423.74,53.42 423.74,50.66 424.19,50.66 424.19,50.93 424.64,50.93 424.64,48.06 425.09,48.06 425.09,41.85 425.54,41.85 425.54,30.20 425.99,30.20 425.99,32.23 426.44,32.23 426.44,25.43 426.89,25.43 426.89,10.49 427.34,10.49 427.34,0.29 427.79,0.29 427.79,-0.29 428.24,-0.29 428.24,0.53 428.69,0.53 428.69,-1.06 429.14,-1.06 429.14,36.70 429.59,36.70 429.59,57.96 430.04,57.96 430.04,64.43 430.49,64.43 430.49,71.39 430.94,71.39 430.94,77.77 431.39,77.77 431.39,81.12 431.84,81.12 431.60,82.70" fill="url(#st)"/></g>
<rect x="328.20" y="3.20" width="110.40" height="88.10" fill="none" stroke="#d6d6d6" stroke-width="1.1"/>
<rect x="328.00" y="82.70" width="110.80" height="8.80" fill="url(#gg)"/><rect x="328.00" y="82.70" width="110.80" height="8.80" fill="url(#gv)"/>
<text font-size="7.32" class="t" transform="translate(327.20,13.14) scale(0.77,1)" text-anchor="end">800</text>
<text font-size="7.32" class="t" transform="translate(327.20,28.34) scale(0.77,1)" text-anchor="end">600</text>
<text font-size="7.32" class="t" transform="translate(326.30,45.44) scale(0.77,1)" text-anchor="end">400</text>
<text font-size="7.32" class="t" transform="translate(325.90,65.94) scale(0.77,1)" text-anchor="end">200</text>
<text font-size="7.32" class="t" transform="translate(323.20,85.94) scale(0.77,1)" text-anchor="end">0</text>
<text font-size="7.32" class="t" transform="translate(328.60,98.70) scale(0.77,1)" text-anchor="middle">0</text>
<text font-size="7.32" class="t" transform="translate(349.35,98.70) scale(0.77,1)" text-anchor="middle">50</text>
<text font-size="7.32" class="t" transform="translate(370.10,98.70) scale(0.77,1)" text-anchor="middle">100</text>
<text font-size="7.32" class="t" transform="translate(390.86,98.70) scale(0.77,1)" text-anchor="middle">150</text>
<text font-size="7.32" class="t" transform="translate(411.61,98.70) scale(0.77,1)" text-anchor="middle">200</text>
<text font-size="7.32" class="t" transform="translate(432.36,98.70) scale(0.77,1)" text-anchor="middle">250</text>
<text font-size="7.32" class="ax" transform="translate(380.40,107.10) scale(0.886,1)" text-anchor="middle">Gray scale values</text>
<text font-size="7.12" class="ay" transform="translate(316.30,50.85) rotate(-90) scale(1.102,1)" text-anchor="middle">No. of pixels</text>
<text class="pl" x="378.80" y="127.00" text-anchor="middle">(c)</text>
</g>
<g>
<clipPath id="cd"><rect x="483.20" y="4.50" width="110.90" height="78.50"/></clipPath>
<g clip-path="url(#cd)"><polygon points="489.89,83.00 489.89,82.98 490.34,82.98 490.34,80.52 490.79,80.52 490.79,78.54 491.24,78.54 491.24,75.09 491.69,75.09 491.69,72.94 492.14,72.94 492.14,69.46 492.59,69.46 492.59,60.56 493.04,60.56 493.04,50.25 493.49,50.25 493.49,41.73 493.94,41.73 493.94,34.17 494.39,34.17 494.39,29.56 494.84,29.56 494.84,27.10 495.29,27.10 495.29,31.54 495.74,31.54 495.74,31.77 496.19,31.77 496.19,37.62 496.64,37.62 496.64,41.12 497.09,41.12 497.09,42.67 497.54,42.67 497.54,46.68 497.99,46.68 497.99,45.07 498.44,45.07 498.44,48.46 498.89,48.46 498.89,47.22 499.34,47.22 499.34,51.36 499.79,51.36 499.79,48.90 500.24,48.90 500.24,51.08 500.69,51.08 500.69,53.01 501.14,53.01 501.14,53.76 501.59,53.76 501.59,51.47 502.04,51.47 502.04,54.83 502.49,54.83 502.49,55.25 502.94,55.25 502.94,53.98 503.39,53.98 503.39,56.04 503.84,56.04 503.84,54.83 504.29,54.83 504.29,54.70 504.74,54.70 504.74,54.73 505.19,54.73 505.19,55.22 505.64,55.22 505.64,56.93 506.09,56.93 506.09,55.72 506.54,55.72 506.54,57.47 506.99,57.47 506.99,57.16 507.44,57.16 507.44,54.89 507.89,54.89 507.89,55.63 508.34,55.63 508.34,54.67 508.79,54.67 508.79,56.65 509.24,56.65 509.24,57.00 509.69,57.00 509.69,57.19 510.14,57.19 510.14,55.87 510.59,55.87 510.59,57.80 511.04,57.80 511.04,56.51 511.49,56.51 511.49,58.98 511.94,58.98 511.94,57.98 512.39,57.98 512.39,57.05 512.84,57.05 512.84,59.92 513.29,59.92 513.29,59.98 513.74,59.98 513.74,57.67 514.19,57.67 514.19,58.52 514.64,58.52 514.64,55.41 515.09,55.41 515.09,55.20 515.54,55.20 515.54,55.30 515.99,55.30 515.99,56.04 516.44,56.04 516.44,53.59 516.89,53.59 516.89,53.48 517.34,53.48 517.34,53.35 517.79,53.35 517.79,53.46 518.24,53.46 518.24,54.23 518.69,54.23 518.69,53.30 519.14,53.30 519.14,50.33 519.59,50.33 519.59,52.02 520.04,52.02 520.04,49.27 520.49,49.27 520.49,47.92 520.94,47.92 520.94,49.06 521.39,49.06 521.39,50.14 521.84,50.14 521.84,49.49 522.29,49.49 522.29,46.88 522.74,46.88 522.74,47.70 523.19,47.70 523.19,44.42 523.64,44.42 523.64,43.55 524.09,43.55 524.09,45.86 524.54,45.86 524.54,42.79 524.99,42.79 524.99,38.80 525.44,38.80 525.44,37.72 525.89,37.72 525.89,37.17 526.34,37.17 526.34,31.94 526.79,31.94 526.79,32.86 527.24,32.86 527.24,35.94 527.69,35.94 527.69,33.80 528.14,33.80 528.14,36.11 528.59,36.11 528.59,38.41 529.04,38.41 529.04,40.86 529.49,40.86 529.49,42.29 529.94,42.29 529.94,42.69 530.39,42.69 530.39,45.80 530.84,45.80 530.84,46.28 531.29,46.28 531.29,47.42 531.74,47.42 531.74,43.48 532.19,43.48 532.19,43.99 532.64,43.99 532.64,47.01 533.09,47.01 533.09,44.66 533.54,44.66 533.54,46.75 533.99,46.75 533.99,44.62 534.44,44.62 534.44,44.64 534.89,44.64 534.89,44.95 535.34,44.95 535.34,42.98 535.79,42.98 535.79,42.51 536.24,42.51 536.24,39.66 536.69,39.66 536.69,42.58 537.14,42.58 537.14,40.87 537.59,40.87 537.59,38.29 538.04,38.29 538.04,37.63 538.49,37.63 538.49,38.81 538.94,38.81 538.94,42.22 539.39,42.22 539.39,40.23 539.84,40.23 539.84,44.90 540.29,44.90 540.29,44.11 540.74,44.11 540.74,42.39 541.19,42.39 541.19,44.52 541.64,44.52 541.64,46.52 542.09,46.52 542.09,44.02 542.54,44.02 542.54,46.23 542.99,46.23 542.99,46.26 543.44,46.26 543.44,46.47 543.89,46.47 543.89,44.14 544.34,44.14 544.34,43.32 544.79,43.32 544.79,46.72 545.24,46.72 545.24,42.45 545.69,42.45 545.69,41.79 546.14,41.79 546.14,42.72 546.59,42.72 546.59,39.24 547.04,39.24 547.04,41.26 547.49,41.26 547.49,40.27 547.94,40.27 547.94,36.96 548.39,36.96 548.39,35.87 548.84,35.87 548.84,33.10 549.29,33.10 549.29,31.75 549.74,31.75 549.74,27.08 550.19,27.08 550.19,23.96 550.64,23.96 550.64,21.78 551.09,21.78 551.09,23.33 551.54,23.33 551.54,22.92 551.99,22.92 551.99,19.10 552.44,19.10 552.44,21.43 552.89,21.43 552.89,19.91 553.34,19.91 553.34,22.20 553.79,22.20 553.79,21.94 554.24,21.94 554.24,23.26 554.69,23.26 554.69,25.36 555.14,25.36 555.14,27.02 555.59,27.02 555.59,31.77 556.04,31.77 556.04,35.83 556.49,35.83 556.49,37.33 556.94,37.33 556.94,37.61 557.39,37.61 557.39,41.87 557.84,41.87 557.84,42.57 558.29,42.57 558.29,41.93 558.74,41.93 558.74,44.83 559.19,44.83 559.19,45.22 559.64,45.22 559.64,50.00 560.09,50.00 560.09,51.88 560.54,51.88 560.54,49.38 560.99,49.38 560.99,52.76 561.44,52.76 561.44,54.75 561.89,54.75 561.89,55.74 562.34,55.74 562.34,55.99 562.79,55.99 562.79,54.40 563.24,54.40 563.24,56.32 563.69,56.32 563.69,56.05 564.14,56.05 564.14,57.27 564.59,57.27 564.59,57.03 565.04,57.03 565.04,57.34 565.49,57.34 565.49,59.27 565.94,59.27 565.94,58.60 566.39,58.60 566.39,59.43 566.84,59.43 566.84,61.56 567.29,61.56 567.29,62.31 567.74,62.31 567.74,60.92 568.19,60.92 568.19,61.10 568.64,61.10 568.64,62.36 569.09,62.36 569.09,61.79 569.54,61.79 569.54,63.82 569.99,63.82 569.99,61.15 570.44,61.15 570.44,59.41 570.89,59.41 570.89,59.79 571.34,59.79 571.34,58.99 571.79,58.99 571.79,57.54 572.24,57.54 572.24,56.87 572.69,56.87 572.69,53.83 573.14,53.83 573.14,52.17 573.59,52.17 573.59,52.97 574.04,52.97 574.04,55.24 574.49,55.24 574.49,60.63 574.94,60.63 574.94,62.95 575.39,62.95 575.39,67.00 575.84,67.00 575.84,68.99 576.29,68.99 576.29,70.63 576.74,70.63 576.74,71.60 577.19,71.60 577.19,73.44 577.64,73.44 577.64,74.91 578.09,74.91 578.09,75.80 578.54,75.80 578.54,76.83 578.99,76.83 578.99,77.56 579.44,77.56 579.44,78.70 579.89,78.70 579.89,79.48 580.34,79.48 580.34,80.95 580.79,80.95 580.79,82.77 581.24,82.77 580.85,83.00" fill="#5fa5d9"/><polygon points="489.89,83.00 489.89,82.98 490.34,82.98 490.34,80.52 490.79,80.52 490.79,78.54 491.24,78.54 491.24,75.09 491.69,75.09 491.69,72.94 492.14,72.94 492.14,69.46 492.59,69.46 492.59,60.56 493.04,60.56 493.04,50.25 493.49,50.25 493.49,41.73 493.94,41.73 493.94,34.17 494.39,34.17 494.39,29.56 494.84,29.56 494.84,27.10 495.29,27.10 495.29,31.54 495.74,31.54 495.74,31.77 496.19,31.77 496.19,37.62 496.64,37.62 496.64,41.12 497.09,41.12 497.09,42.67 497.54,42.67 497.54,46.68 497.99,46.68 497.99,45.07 498.44,45.07 498.44,48.46 498.89,48.46 498.89,47.22 499.34,47.22 499.34,51.36 499.79,51.36 499.79,48.90 500.24,48.90 500.24,51.08 500.69,51.08 500.69,53.01 501.14,53.01 501.14,53.76 501.59,53.76 501.59,51.47 502.04,51.47 502.04,54.83 502.49,54.83 502.49,55.25 502.94,55.25 502.94,53.98 503.39,53.98 503.39,56.04 503.84,56.04 503.84,54.83 504.29,54.83 504.29,54.70 504.74,54.70 504.74,54.73 505.19,54.73 505.19,55.22 505.64,55.22 505.64,56.93 506.09,56.93 506.09,55.72 506.54,55.72 506.54,57.47 506.99,57.47 506.99,57.16 507.44,57.16 507.44,54.89 507.89,54.89 507.89,55.63 508.34,55.63 508.34,54.67 508.79,54.67 508.79,56.65 509.24,56.65 509.24,57.00 509.69,57.00 509.69,57.19 510.14,57.19 510.14,55.87 510.59,55.87 510.59,57.80 511.04,57.80 511.04,56.51 511.49,56.51 511.49,58.98 511.94,58.98 511.94,57.98 512.39,57.98 512.39,57.05 512.84,57.05 512.84,59.92 513.29,59.92 513.29,59.98 513.74,59.98 513.74,57.67 514.19,57.67 514.19,58.52 514.64,58.52 514.64,55.41 515.09,55.41 515.09,55.20 515.54,55.20 515.54,55.30 515.99,55.30 515.99,56.04 516.44,56.04 516.44,53.59 516.89,53.59 516.89,53.48 517.34,53.48 517.34,53.35 517.79,53.35 517.79,53.46 518.24,53.46 518.24,54.23 518.69,54.23 518.69,53.30 519.14,53.30 519.14,50.33 519.59,50.33 519.59,52.02 520.04,52.02 520.04,49.27 520.49,49.27 520.49,47.92 520.94,47.92 520.94,49.06 521.39,49.06 521.39,50.14 521.84,50.14 521.84,49.49 522.29,49.49 522.29,46.88 522.74,46.88 522.74,47.70 523.19,47.70 523.19,44.42 523.64,44.42 523.64,43.55 524.09,43.55 524.09,45.86 524.54,45.86 524.54,42.79 524.99,42.79 524.99,38.80 525.44,38.80 525.44,37.72 525.89,37.72 525.89,37.17 526.34,37.17 526.34,31.94 526.79,31.94 526.79,32.86 527.24,32.86 527.24,35.94 527.69,35.94 527.69,33.80 528.14,33.80 528.14,36.11 528.59,36.11 528.59,38.41 529.04,38.41 529.04,40.86 529.49,40.86 529.49,42.29 529.94,42.29 529.94,42.69 530.39,42.69 530.39,45.80 530.84,45.80 530.84,46.28 531.29,46.28 531.29,47.42 531.74,47.42 531.74,43.48 532.19,43.48 532.19,43.99 532.64,43.99 532.64,47.01 533.09,47.01 533.09,44.66 533.54,44.66 533.54,46.75 533.99,46.75 533.99,44.62 534.44,44.62 534.44,44.64 534.89,44.64 534.89,44.95 535.34,44.95 535.34,42.98 535.79,42.98 535.79,42.51 536.24,42.51 536.24,39.66 536.69,39.66 536.69,42.58 537.14,42.58 537.14,40.87 537.59,40.87 537.59,38.29 538.04,38.29 538.04,37.63 538.49,37.63 538.49,38.81 538.94,38.81 538.94,42.22 539.39,42.22 539.39,40.23 539.84,40.23 539.84,44.90 540.29,44.90 540.29,44.11 540.74,44.11 540.74,42.39 541.19,42.39 541.19,44.52 541.64,44.52 541.64,46.52 542.09,46.52 542.09,44.02 542.54,44.02 542.54,46.23 542.99,46.23 542.99,46.26 543.44,46.26 543.44,46.47 543.89,46.47 543.89,44.14 544.34,44.14 544.34,43.32 544.79,43.32 544.79,46.72 545.24,46.72 545.24,42.45 545.69,42.45 545.69,41.79 546.14,41.79 546.14,42.72 546.59,42.72 546.59,39.24 547.04,39.24 547.04,41.26 547.49,41.26 547.49,40.27 547.94,40.27 547.94,36.96 548.39,36.96 548.39,35.87 548.84,35.87 548.84,33.10 549.29,33.10 549.29,31.75 549.74,31.75 549.74,27.08 550.19,27.08 550.19,23.96 550.64,23.96 550.64,21.78 551.09,21.78 551.09,23.33 551.54,23.33 551.54,22.92 551.99,22.92 551.99,19.10 552.44,19.10 552.44,21.43 552.89,21.43 552.89,19.91 553.34,19.91 553.34,22.20 553.79,22.20 553.79,21.94 554.24,21.94 554.24,23.26 554.69,23.26 554.69,25.36 555.14,25.36 555.14,27.02 555.59,27.02 555.59,31.77 556.04,31.77 556.04,35.83 556.49,35.83 556.49,37.33 556.94,37.33 556.94,37.61 557.39,37.61 557.39,41.87 557.84,41.87 557.84,42.57 558.29,42.57 558.29,41.93 558.74,41.93 558.74,44.83 559.19,44.83 559.19,45.22 559.64,45.22 559.64,50.00 560.09,50.00 560.09,51.88 560.54,51.88 560.54,49.38 560.99,49.38 560.99,52.76 561.44,52.76 561.44,54.75 561.89,54.75 561.89,55.74 562.34,55.74 562.34,55.99 562.79,55.99 562.79,54.40 563.24,54.40 563.24,56.32 563.69,56.32 563.69,56.05 564.14,56.05 564.14,57.27 564.59,57.27 564.59,57.03 565.04,57.03 565.04,57.34 565.49,57.34 565.49,59.27 565.94,59.27 565.94,58.60 566.39,58.60 566.39,59.43 566.84,59.43 566.84,61.56 567.29,61.56 567.29,62.31 567.74,62.31 567.74,60.92 568.19,60.92 568.19,61.10 568.64,61.10 568.64,62.36 569.09,62.36 569.09,61.79 569.54,61.79 569.54,63.82 569.99,63.82 569.99,61.15 570.44,61.15 570.44,59.41 570.89,59.41 570.89,59.79 571.34,59.79 571.34,58.99 571.79,58.99 571.79,57.54 572.24,57.54 572.24,56.87 572.69,56.87 572.69,53.83 573.14,53.83 573.14,52.17 573.59,52.17 573.59,52.97 574.04,52.97 574.04,55.24 574.49,55.24 574.49,60.63 574.94,60.63 574.94,62.95 575.39,62.95 575.39,67.00 575.84,67.00 575.84,68.99 576.29,68.99 576.29,70.63 576.74,70.63 576.74,71.60 577.19,71.60 577.19,73.44 577.64,73.44 577.64,74.91 578.09,74.91 578.09,75.80 578.54,75.80 578.54,76.83 578.99,76.83 578.99,77.56 579.44,77.56 579.44,78.70 579.89,78.70 579.89,79.48 580.34,79.48 580.34,80.95 580.79,80.95 580.79,82.77 581.24,82.77 580.85,83.00" fill="url(#st)"/></g>
<rect x="483.20" y="4.50" width="110.90" height="86.90" fill="none" stroke="#d6d6d6" stroke-width="1.1"/>
<line x1="483.20" y1="4.50" x2="594.10" y2="4.50" stroke="#a8a8a8" stroke-width="0.8"/>
<rect x="483.00" y="83.00" width="111.30" height="8.60" fill="url(#gg)"/><rect x="483.00" y="83.00" width="111.30" height="8.60" fill="url(#gv)"/>
<text font-size="7.38" class="t" transform="translate(482.20,14.36) scale(0.77,1)" text-anchor="end">800</text>
<text font-size="7.38" class="t" transform="translate(482.20,29.56) scale(0.77,1)" text-anchor="end">600</text>
<text font-size="7.38" class="t" transform="translate(481.30,46.16) scale(0.77,1)" text-anchor="end">400</text>
<text font-size="7.38" class="t" transform="translate(480.90,66.26) scale(0.77,1)" text-anchor="end">200</text>
<text font-size="7.38" class="t" transform="translate(478.20,86.26) scale(0.77,1)" text-anchor="end">0</text>
<text font-size="7.38" class="t" transform="translate(483.60,98.70) scale(0.77,1)" text-anchor="middle">0</text>
<text font-size="7.38" class="t" transform="translate(504.45,98.70) scale(0.77,1)" text-anchor="middle">50</text>
<text font-size="7.38" class="t" transform="translate(525.29,98.70) scale(0.77,1)" text-anchor="middle">100</text>
<text font-size="7.38" class="t" transform="translate(546.14,98.70) scale(0.77,1)" text-anchor="middle">150</text>
<text font-size="7.38" class="t" transform="translate(566.98,98.70) scale(0.77,1)" text-anchor="middle">200</text>
<text font-size="7.38" class="t" transform="translate(587.83,98.70) scale(0.77,1)" text-anchor="middle">250</text>
<text font-size="7.38" class="ax" transform="translate(535.65,107.10) scale(0.886,1)" text-anchor="middle">Gray scale values</text>
<text font-size="7.18" class="ay" transform="translate(471.30,51.55) rotate(-90) scale(1.102,1)" text-anchor="middle">No. of pixels</text>
<text class="pl" x="533.80" y="127.00" text-anchor="middle">(d)</text>
</g>
<g>
<clipPath id="ce"><rect x="638.60" y="7.50" width="109.60" height="76.30"/></clipPath>
<g clip-path="url(#ce)"><polygon points="638.59,83.80 638.59,72.02 639.04,72.02 639.04,71.65 639.49,71.65 639.49,69.92 639.94,69.92 639.94,69.55 640.39,69.55 640.39,67.39 640.84,67.39 640.84,61.48 641.29,61.48 641.29,57.25 641.74,57.25 641.74,52.39 642.19,52.39 642.19,48.32 642.64,48.32 642.64,40.01 643.09,40.01 643.09,35.87 643.54,35.87 643.54,36.55 643.99,36.55 643.99,35.60 644.44,35.60 644.44,33.61 644.89,33.61 644.89,35.88 645.34,35.88 645.34,33.51 645.79,33.51 645.79,34.44 646.24,34.44 646.24,33.67 646.69,33.67 646.69,31.62 647.14,31.62 647.14,30.09 647.59,30.09 647.59,30.59 648.04,30.59 648.04,31.19 648.49,31.19 648.49,30.02 648.94,30.02 648.94,31.81 649.39,31.81 649.39,32.51 649.84,32.51 649.84,27.67 650.29,27.67 650.29,27.88 650.74,27.88 650.74,26.87 651.19,26.87 651.19,30.11 651.64,30.11 651.64,29.61 652.09,29.61 652.09,30.38 652.54,30.38 652.54,30.20 652.99,30.20 652.99,33.18 653.44,33.18 653.44,33.71 653.89,33.71 653.89,32.93 654.34,32.93 654.34,35.20 654.79,35.20 654.79,33.18 655.24,33.18 655.24,34.28 655.69,34.28 655.69,37.21 656.14,37.21 656.14,34.11 656.59,34.11 656.59,33.85 657.04,33.85 657.04,33.47 657.49,33.47 657.49,36.40 657.94,36.40 657.94,37.17 658.39,37.17 658.39,33.90 658.84,33.90 658.84,36.01 659.29,36.01 659.29,35.95 659.74,35.95 659.74,35.95 660.19,35.95 660.19,35.84 660.64,35.84 660.64,36.80 661.09,36.80 661.09,35.96 661.54,35.96 661.54,39.51 661.99,39.51 661.99,36.44 662.44,36.44 662.44,38.03 662.89,38.03 662.89,38.61 663.34,38.61 663.34,38.80 663.79,38.80 663.79,38.10 664.24,38.10 664.24,38.52 664.69,38.52 664.69,40.79 665.14,40.79 665.14,37.88 665.59,37.88 665.59,38.45 666.04,38.45 666.04,39.35 666.49,39.35 666.49,41.72 666.94,41.72 666.94,40.78 667.39,40.78 667.39,40.97 667.84,40.97 667.84,39.37 668.29,39.37 668.29,39.36 668.74,39.36 668.74,41.44 669.19,41.44 669.19,39.36 669.64,39.36 669.64,40.15 670.09,40.15 670.09,38.95 670.54,38.95 670.54,39.11 670.99,39.11 670.99,39.18 671.44,39.18 671.44,42.94 671.89,42.94 671.89,42.29 672.34,42.29 672.34,42.28 672.79,42.28 672.79,41.75 673.24,41.75 673.24,44.91 673.69,44.91 673.69,44.15 674.14,44.15 674.14,42.72 674.59,42.72 674.59,43.37 675.04,43.37 675.04,47.21 675.49,47.21 675.49,44.89 675.94,44.89 675.94,45.74 676.39,45.74 676.39,44.68 676.84,44.68 676.84,48.26 677.29,48.26 677.29,45.78 677.74,45.78 677.74,47.37 678.19,47.37 678.19,48.27 678.64,48.27 678.64,47.71 679.09,47.71 679.09,47.26 679.54,47.26 679.54,46.87 679.99,46.87 679.99,48.68 680.44,48.68 680.44,46.85 680.89,46.85 680.89,48.36 681.34,48.36 681.34,49.79 681.79,49.79 681.79,49.65 682.24,49.65 682.24,48.59 682.69,48.59 682.69,48.49 683.14,48.49 683.14,47.13 683.59,47.13 683.59,50.27 684.04,50.27 684.04,51.09 684.49,51.09 684.49,49.28 684.94,49.28 684.94,48.61 685.39,48.61 685.39,50.92 685.84,50.92 685.84,50.86 686.29,50.86 686.29,52.62 686.74,52.62 686.74,52.39 687.19,52.39 687.19,51.31 687.64,51.31 687.64,51.84 688.09,51.84 688.09,51.75 688.54,51.75 688.54,52.00 688.99,52.00 688.99,51.47 689.44,51.47 689.44,51.11 689.89,51.11 689.89,48.91 690.34,48.91 690.34,50.80 690.79,50.80 690.79,47.31 691.24,47.31 691.24,47.70 691.69,47.70 691.69,49.92 692.14,49.92 692.14,48.89 692.59,48.89 692.59,52.19 693.04,52.19 693.04,52.19 693.49,52.19 693.49,53.31 693.94,53.31 693.94,53.15 694.39,53.15 694.39,54.77 694.84,54.77 694.84,56.01 695.29,56.01 695.29,54.80 695.74,54.80 695.74,57.98 696.19,57.98 696.19,59.00 696.64,59.00 696.64,58.07 697.09,58.07 697.09,58.73 697.54,58.73 697.54,60.10 697.99,60.10 697.99,60.15 698.44,60.15 698.44,60.74 698.89,60.74 698.89,60.74 699.34,60.74 699.34,61.44 699.79,61.44 699.79,61.56 700.24,61.56 700.24,61.03 700.69,61.03 700.69,62.68 701.14,62.68 701.14,62.14 701.59,62.14 701.59,60.05 702.04,60.05 702.04,62.02 702.49,62.02 702.49,62.40 702.94,62.40 702.94,60.51 703.39,60.51 703.39,61.73 703.84,61.73 703.84,59.33 704.29,59.33 704.29,60.23 704.74,60.23 704.74,60.41 705.19,60.41 705.19,58.87 705.64,58.87 705.64,58.17 706.09,58.17 706.09,57.34 706.54,57.34 706.54,58.35 706.99,58.35 706.99,57.49 707.44,57.49 707.44,57.91 707.89,57.91 707.89,58.24 708.34,58.24 708.34,56.91 708.79,56.91 708.79,57.35 709.24,57.35 709.24,56.06 709.69,56.06 709.69,58.00 710.14,58.00 710.14,58.33 710.59,58.33 710.59,57.03 711.04,57.03 711.04,56.88 711.49,56.88 711.49,58.35 711.94,58.35 711.94,57.88 712.39,57.88 712.39,59.15 712.84,59.15 712.84,59.12 713.29,59.12 713.29,59.09 713.74,59.09 713.74,59.93 714.19,59.93 714.19,61.27 714.64,61.27 714.64,62.22 715.09,62.22 715.09,62.78 715.54,62.78 715.54,63.86 715.99,63.86 715.99,64.32 716.44,64.32 716.44,66.01 716.89,66.01 716.89,66.41 717.34,66.41 717.34,66.51 717.79,66.51 717.79,68.39 718.24,68.39 718.24,68.33 718.69,68.33 718.69,68.97 719.14,68.97 719.14,70.07 719.59,70.07 719.59,71.22 720.04,71.22 720.04,70.81 720.49,70.81 720.49,70.65 720.94,70.65 720.94,70.95 721.39,70.95 721.39,71.21 721.84,71.21 721.84,70.97 722.29,70.97 722.29,71.19 722.74,71.19 722.74,68.58 723.19,68.58 723.19,68.63 723.64,68.63 723.64,67.36 724.09,67.36 724.09,66.45 724.54,66.45 724.54,65.41 724.99,65.41 724.99,65.73 725.44,65.73 725.44,66.28 725.89,66.28 725.89,66.18 726.34,66.18 726.34,64.93 726.79,64.93 726.79,66.02 727.24,66.02 727.24,66.94 727.69,66.94 727.69,65.59 728.14,65.59 728.14,65.03 728.59,65.03 728.59,64.91 729.04,64.91 729.04,65.24 729.49,65.24 729.49,64.17 729.94,64.17 729.94,63.20 730.39,63.20 730.39,62.07 730.84,62.07 730.84,61.69 731.29,61.69 731.29,62.51 731.74,62.51 731.74,60.11 732.19,60.11 732.19,60.17 732.64,60.17 732.64,59.32 733.09,59.32 733.09,63.45 733.54,63.45 733.54,66.91 733.99,66.91 733.99,67.81 734.44,67.81 734.44,68.55 734.89,68.55 734.89,69.32 735.34,69.32 735.34,69.66 735.79,69.66 735.79,70.81 736.24,70.81 736.24,72.14 736.69,72.14 736.69,71.59 737.14,71.59 737.14,72.54 737.59,72.54 737.59,72.69 738.04,72.69 738.04,73.82 738.49,73.82 738.49,73.35 738.94,73.35 738.94,74.12 739.39,74.12 739.39,73.61 739.84,73.61 739.84,74.35 740.29,74.35 740.29,74.19 740.74,74.19 740.74,75.24 741.19,75.24 741.19,75.75 741.64,75.75 741.64,75.27 742.09,75.27 742.09,75.34 742.54,75.34 742.54,75.30 742.99,75.30 742.99,74.43 743.44,74.43 743.44,75.02 743.89,75.02 743.89,73.35 744.34,73.35 744.34,73.45 744.79,73.45 744.79,74.22 745.24,74.22 745.24,74.39 745.69,74.39 745.69,73.81 746.14,73.81 746.14,73.49 746.59,73.49 746.59,73.93 747.04,73.93 747.04,75.11 747.49,75.11 747.49,76.18 747.94,76.18 747.94,77.42 748.39,77.42 748.21,83.80" fill="#5fa5d9"/><polygon points="638.59,83.80 638.59,72.02 639.04,72.02 639.04,71.65 639.49,71.65 639.49,69.92 639.94,69.92 639.94,69.55 640.39,69.55 640.39,67.39 640.84,67.39 640.84,61.48 641.29,61.48 641.29,57.25 641.74,57.25 641.74,52.39 642.19,52.39 642.19,48.32 642.64,48.32 642.64,40.01 643.09,40.01 643.09,35.87 643.54,35.87 643.54,36.55 643.99,36.55 643.99,35.60 644.44,35.60 644.44,33.61 644.89,33.61 644.89,35.88 645.34,35.88 645.34,33.51 645.79,33.51 645.79,34.44 646.24,34.44 646.24,33.67 646.69,33.67 646.69,31.62 647.14,31.62 647.14,30.09 647.59,30.09 647.59,30.59 648.04,30.59 648.04,31.19 648.49,31.19 648.49,30.02 648.94,30.02 648.94,31.81 649.39,31.81 649.39,32.51 649.84,32.51 649.84,27.67 650.29,27.67 650.29,27.88 650.74,27.88 650.74,26.87 651.19,26.87 651.19,30.11 651.64,30.11 651.64,29.61 652.09,29.61 652.09,30.38 652.54,30.38 652.54,30.20 652.99,30.20 652.99,33.18 653.44,33.18 653.44,33.71 653.89,33.71 653.89,32.93 654.34,32.93 654.34,35.20 654.79,35.20 654.79,33.18 655.24,33.18 655.24,34.28 655.69,34.28 655.69,37.21 656.14,37.21 656.14,34.11 656.59,34.11 656.59,33.85 657.04,33.85 657.04,33.47 657.49,33.47 657.49,36.40 657.94,36.40 657.94,37.17 658.39,37.17 658.39,33.90 658.84,33.90 658.84,36.01 659.29,36.01 659.29,35.95 659.74,35.95 659.74,35.95 660.19,35.95 660.19,35.84 660.64,35.84 660.64,36.80 661.09,36.80 661.09,35.96 661.54,35.96 661.54,39.51 661.99,39.51 661.99,36.44 662.44,36.44 662.44,38.03 662.89,38.03 662.89,38.61 663.34,38.61 663.34,38.80 663.79,38.80 663.79,38.10 664.24,38.10 664.24,38.52 664.69,38.52 664.69,40.79 665.14,40.79 665.14,37.88 665.59,37.88 665.59,38.45 666.04,38.45 666.04,39.35 666.49,39.35 666.49,41.72 666.94,41.72 666.94,40.78 667.39,40.78 667.39,40.97 667.84,40.97 667.84,39.37 668.29,39.37 668.29,39.36 668.74,39.36 668.74,41.44 669.19,41.44 669.19,39.36 669.64,39.36 669.64,40.15 670.09,40.15 670.09,38.95 670.54,38.95 670.54,39.11 670.99,39.11 670.99,39.18 671.44,39.18 671.44,42.94 671.89,42.94 671.89,42.29 672.34,42.29 672.34,42.28 672.79,42.28 672.79,41.75 673.24,41.75 673.24,44.91 673.69,44.91 673.69,44.15 674.14,44.15 674.14,42.72 674.59,42.72 674.59,43.37 675.04,43.37 675.04,47.21 675.49,47.21 675.49,44.89 675.94,44.89 675.94,45.74 676.39,45.74 676.39,44.68 676.84,44.68 676.84,48.26 677.29,48.26 677.29,45.78 677.74,45.78 677.74,47.37 678.19,47.37 678.19,48.27 678.64,48.27 678.64,47.71 679.09,47.71 679.09,47.26 679.54,47.26 679.54,46.87 679.99,46.87 679.99,48.68 680.44,48.68 680.44,46.85 680.89,46.85 680.89,48.36 681.34,48.36 681.34,49.79 681.79,49.79 681.79,49.65 682.24,49.65 682.24,48.59 682.69,48.59 682.69,48.49 683.14,48.49 683.14,47.13 683.59,47.13 683.59,50.27 684.04,50.27 684.04,51.09 684.49,51.09 684.49,49.28 684.94,49.28 684.94,48.61 685.39,48.61 685.39,50.92 685.84,50.92 685.84,50.86 686.29,50.86 686.29,52.62 686.74,52.62 686.74,52.39 687.19,52.39 687.19,51.31 687.64,51.31 687.64,51.84 688.09,51.84 688.09,51.75 688.54,51.75 688.54,52.00 688.99,52.00 688.99,51.47 689.44,51.47 689.44,51.11 689.89,51.11 689.89,48.91 690.34,48.91 690.34,50.80 690.79,50.80 690.79,47.31 691.24,47.31 691.24,47.70 691.69,47.70 691.69,49.92 692.14,49.92 692.14,48.89 692.59,48.89 692.59,52.19 693.04,52.19 693.04,52.19 693.49,52.19 693.49,53.31 693.94,53.31 693.94,53.15 694.39,53.15 694.39,54.77 694.84,54.77 694.84,56.01 695.29,56.01 695.29,54.80 695.74,54.80 695.74,57.98 696.19,57.98 696.19,59.00 696.64,59.00 696.64,58.07 697.09,58.07 697.09,58.73 697.54,58.73 697.54,60.10 697.99,60.10 697.99,60.15 698.44,60.15 698.44,60.74 698.89,60.74 698.89,60.74 699.34,60.74 699.34,61.44 699.79,61.44 699.79,61.56 700.24,61.56 700.24,61.03 700.69,61.03 700.69,62.68 701.14,62.68 701.14,62.14 701.59,62.14 701.59,60.05 702.04,60.05 702.04,62.02 702.49,62.02 702.49,62.40 702.94,62.40 702.94,60.51 703.39,60.51 703.39,61.73 703.84,61.73 703.84,59.33 704.29,59.33 704.29,60.23 704.74,60.23 704.74,60.41 705.19,60.41 705.19,58.87 705.64,58.87 705.64,58.17 706.09,58.17 706.09,57.34 706.54,57.34 706.54,58.35 706.99,58.35 706.99,57.49 707.44,57.49 707.44,57.91 707.89,57.91 707.89,58.24 708.34,58.24 708.34,56.91 708.79,56.91 708.79,57.35 709.24,57.35 709.24,56.06 709.69,56.06 709.69,58.00 710.14,58.00 710.14,58.33 710.59,58.33 710.59,57.03 711.04,57.03 711.04,56.88 711.49,56.88 711.49,58.35 711.94,58.35 711.94,57.88 712.39,57.88 712.39,59.15 712.84,59.15 712.84,59.12 713.29,59.12 713.29,59.09 713.74,59.09 713.74,59.93 714.19,59.93 714.19,61.27 714.64,61.27 714.64,62.22 715.09,62.22 715.09,62.78 715.54,62.78 715.54,63.86 715.99,63.86 715.99,64.32 716.44,64.32 716.44,66.01 716.89,66.01 716.89,66.41 717.34,66.41 717.34,66.51 717.79,66.51 717.79,68.39 718.24,68.39 718.24,68.33 718.69,68.33 718.69,68.97 719.14,68.97 719.14,70.07 719.59,70.07 719.59,71.22 720.04,71.22 720.04,70.81 720.49,70.81 720.49,70.65 720.94,70.65 720.94,70.95 721.39,70.95 721.39,71.21 721.84,71.21 721.84,70.97 722.29,70.97 722.29,71.19 722.74,71.19 722.74,68.58 723.19,68.58 723.19,68.63 723.64,68.63 723.64,67.36 724.09,67.36 724.09,66.45 724.54,66.45 724.54,65.41 724.99,65.41 724.99,65.73 725.44,65.73 725.44,66.28 725.89,66.28 725.89,66.18 726.34,66.18 726.34,64.93 726.79,64.93 726.79,66.02 727.24,66.02 727.24,66.94 727.69,66.94 727.69,65.59 728.14,65.59 728.14,65.03 728.59,65.03 728.59,64.91 729.04,64.91 729.04,65.24 729.49,65.24 729.49,64.17 729.94,64.17 729.94,63.20 730.39,63.20 730.39,62.07 730.84,62.07 730.84,61.69 731.29,61.69 731.29,62.51 731.74,62.51 731.74,60.11 732.19,60.11 732.19,60.17 732.64,60.17 732.64,59.32 733.09,59.32 733.09,63.45 733.54,63.45 733.54,66.91 733.99,66.91 733.99,67.81 734.44,67.81 734.44,68.55 734.89,68.55 734.89,69.32 735.34,69.32 735.34,69.66 735.79,69.66 735.79,70.81 736.24,70.81 736.24,72.14 736.69,72.14 736.69,71.59 737.14,71.59 737.14,72.54 737.59,72.54 737.59,72.69 738.04,72.69 738.04,73.82 738.49,73.82 738.49,73.35 738.94,73.35 738.94,74.12 739.39,74.12 739.39,73.61 739.84,73.61 739.84,74.35 740.29,74.35 740.29,74.19 740.74,74.19 740.74,75.24 741.19,75.24 741.19,75.75 741.64,75.75 741.64,75.27 742.09,75.27 742.09,75.34 742.54,75.34 742.54,75.30 742.99,75.30 742.99,74.43 743.44,74.43 743.44,75.02 743.89,75.02 743.89,73.35 744.34,73.35 744.34,73.45 744.79,73.45 744.79,74.22 745.24,74.22 745.24,74.39 745.69,74.39 745.69,73.81 746.14,73.81 746.14,73.49 746.59,73.49 746.59,73.93 747.04,73.93 747.04,75.11 747.49,75.11 747.49,76.18 747.94,76.18 747.94,77.42 748.39,77.42 748.21,83.80" fill="url(#st)"/></g>
<rect x="638.60" y="7.50" width="109.60" height="84.50" fill="none" stroke="#d6d6d6" stroke-width="1.1"/>
<line x1="638.60" y1="7.50" x2="748.20" y2="7.50" stroke="#a8a8a8" stroke-width="0.8"/>
<rect x="638.40" y="83.80" width="110.00" height="8.40" fill="url(#gg)"/><rect x="638.40" y="83.80" width="110.00" height="8.40" fill="url(#gv)"/>
<text font-size="7.32" class="t" transform="translate(637.60,17.44) scale(0.77,1)" text-anchor="end">800</text>
<text font-size="7.32" class="t" transform="translate(637.60,31.94) scale(0.77,1)" text-anchor="end">600</text>
<text font-size="7.32" class="t" transform="translate(636.70,47.84) scale(0.77,1)" text-anchor="end">400</text>
<text font-size="7.32" class="t" transform="translate(636.30,67.64) scale(0.77,1)" text-anchor="end">200</text>
<text font-size="7.32" class="t" transform="translate(633.60,87.04) scale(0.77,1)" text-anchor="end">0</text>
<text font-size="7.32" class="t" transform="translate(639.00,99.40) scale(0.77,1)" text-anchor="middle">0</text>
<text font-size="7.32" class="t" transform="translate(659.60,99.40) scale(0.77,1)" text-anchor="middle">50</text>
<text font-size="7.32" class="t" transform="translate(680.20,99.40) scale(0.77,1)" text-anchor="middle">100</text>
<text font-size="7.32" class="t" transform="translate(700.80,99.40) scale(0.77,1)" text-anchor="middle">150</text>
<text font-size="7.32" class="t" transform="translate(721.41,99.40) scale(0.77,1)" text-anchor="middle">200</text>
<text font-size="7.32" class="t" transform="translate(742.01,99.40) scale(0.77,1)" text-anchor="middle">250</text>
<text font-size="7.32" class="ax" transform="translate(690.40,107.40) scale(0.886,1)" text-anchor="middle">Gray scale values</text>
<text font-size="7.12" class="ay" transform="translate(626.70,53.35) rotate(-90) scale(1.102,1)" text-anchor="middle">No. of pixels</text>
<text class="pl" x="688.70" y="127.00" text-anchor="middle">(e)</text>
</g>
<g>
<clipPath id="cf"><rect x="18.40" y="151.70" width="114.90" height="83.00"/></clipPath>
<g clip-path="url(#cf)"><polygon points="18.51,234.70 18.51,234.57 18.96,234.57 18.96,233.23 19.41,233.23 19.41,232.44 19.86,232.44 19.86,231.22 20.31,231.22 20.31,230.36 20.76,230.36 20.76,229.16 21.21,229.16 21.21,228.98 21.66,228.98 21.66,227.72 22.11,227.72 22.11,227.08 22.56,227.08 22.56,226.47 23.01,226.47 23.01,224.93 23.46,224.93 23.46,223.98 23.91,223.98 23.91,222.48 24.36,222.48 24.36,222.76 24.81,222.76 24.81,221.49 25.26,221.49 25.26,222.94 25.71,222.94 25.71,223.53 26.16,223.53 26.16,225.34 26.61,225.34 26.61,224.64 27.06,224.64 27.06,224.41 27.51,224.41 27.51,224.15 27.96,224.15 27.96,224.39 28.41,224.39 28.41,224.33 28.86,224.33 28.86,222.38 29.31,222.38 29.31,222.15 29.76,222.15 29.76,220.64 30.21,220.64 30.21,219.44 30.66,219.44 30.66,218.90 31.11,218.90 31.11,215.38 31.56,215.38 31.56,212.91 32.01,212.91 32.01,210.65 32.46,210.65 32.46,207.37 32.91,207.37 32.91,204.56 33.36,204.56 33.36,201.53 33.81,201.53 33.81,204.70 34.26,204.70 34.26,205.32 34.71,205.32 34.71,205.40 35.16,205.40 35.16,204.91 35.61,204.91 35.61,202.57 36.06,202.57 36.06,201.29 36.51,201.29 36.51,200.75 36.96,200.75 36.96,197.84 37.41,197.84 37.41,196.85 37.86,196.85 37.86,197.00 38.31,197.00 38.31,194.33 38.76,194.33 38.76,191.44 39.21,191.44 39.21,186.95 39.66,186.95 39.66,180.25 40.11,180.25 40.11,179.70 40.56,179.70 40.56,172.02 41.01,172.02 41.01,169.42 41.46,169.42 41.46,169.90 41.91,169.90 41.91,171.00 42.36,171.00 42.36,173.69 42.81,173.69 42.81,171.72 43.26,171.72 43.26,164.78 43.71,164.78 43.71,170.65 44.16,170.65 44.16,173.22 44.61,173.22 44.61,176.15 45.06,176.15 45.06,174.25 45.51,174.25 45.51,179.29 45.96,179.29 45.96,178.75 46.41,178.75 46.41,178.77 46.86,178.77 46.86,176.68 47.31,176.68 47.31,180.02 47.76,180.02 47.76,178.41 48.21,178.41 48.21,179.55 48.66,179.55 48.66,183.44 49.11,183.44 49.11,180.79 49.56,180.79 49.56,184.01 50.01,184.01 50.01,181.84 50.46,181.84 50.46,180.85 50.91,180.85 50.91,182.91 51.36,182.91 51.36,180.66 51.81,180.66 51.81,179.65 52.26,179.65 52.26,181.84 52.71,181.84 52.71,180.87 53.16,180.87 53.16,176.43 53.61,176.43 53.61,178.37 54.06,178.37 54.06,175.85 54.51,175.85 54.51,172.30 54.96,172.30 54.96,171.40 55.41,171.40 55.41,174.11 55.86,174.11 55.86,173.63 56.31,173.63 56.31,169.95 56.76,169.95 56.76,165.46 57.21,165.46 57.21,159.11 57.66,159.11 57.66,161.02 58.11,161.02 58.11,155.02 58.56,155.02 58.56,157.28 59.01,157.28 59.01,150.88 59.46,150.88 59.46,155.62 59.91,155.62 59.91,158.07 60.36,158.07 60.36,160.33 60.81,160.33 60.81,161.55 61.26,161.55 61.26,164.47 61.71,164.47 61.71,168.81 62.16,168.81 62.16,167.89 62.61,167.89 62.61,168.87 63.06,168.87 63.06,178.06 63.51,178.06 63.51,179.73 63.96,179.73 63.96,182.81 64.41,182.81 64.41,184.91 64.86,184.91 64.86,186.41 65.31,186.41 65.31,188.69 65.76,188.69 65.76,188.75 66.21,188.75 66.21,189.40 66.66,189.40 66.66,190.86 67.11,190.86 67.11,193.08 67.56,193.08 67.56,196.43 68.01,196.43 68.01,197.58 68.46,197.58 68.46,198.10 68.91,198.10 68.91,198.30 69.36,198.30 69.36,203.17 69.81,203.17 69.81,202.42 70.26,202.42 70.26,204.75 70.71,204.75 70.71,205.78 71.16,205.78 71.16,206.19 71.61,206.19 71.61,206.46 72.06,206.46 72.06,209.56 72.51,209.56 72.51,207.71 72.96,207.71 72.96,207.81 73.41,207.81 73.41,208.33 73.86,208.33 73.86,206.34 74.31,206.34 74.31,204.81 74.76,204.81 74.76,204.37 75.21,204.37 75.21,206.01 75.66,206.01 75.66,205.99 76.11,205.99 76.11,206.57 76.56,206.57 76.56,209.27 77.01,209.27 77.01,209.74 77.46,209.74 77.46,209.06 77.91,209.06 77.91,209.40 78.36,209.40 78.36,211.77 78.81,211.77 78.81,210.61 79.26,210.61 79.26,211.35 79.71,211.35 79.71,211.00 80.16,211.00 80.16,212.56 80.61,212.56 80.61,211.43 81.06,211.43 81.06,211.93 81.51,211.93 81.51,210.53 81.96,210.53 81.96,211.21 82.41,211.21 82.41,209.09 82.86,209.09 82.86,208.93 83.31,208.93 83.31,209.16 83.76,209.16 83.76,208.82 84.21,208.82 84.21,210.61 84.66,210.61 84.66,208.51 85.11,208.51 85.11,210.14 85.56,210.14 85.56,211.69 86.01,211.69 86.01,211.28 86.46,211.28 86.46,212.92 86.91,212.92 86.91,212.76 87.36,212.76 87.36,212.59 87.81,212.59 87.81,210.53 88.26,210.53 88.26,210.69 88.71,210.69 88.71,212.06 89.16,212.06 89.16,210.31 89.61,210.31 89.61,210.23 90.06,210.23 90.06,208.50 90.51,208.50 90.51,208.36 90.96,208.36 90.96,206.28 91.41,206.28 91.41,208.43 91.86,208.43 91.86,208.71 92.31,208.71 92.31,209.03 92.76,209.03 92.76,210.57 93.21,210.57 93.21,210.37 93.66,210.37 93.66,209.21 94.11,209.21 94.11,209.94 94.56,209.94 94.56,209.14 95.01,209.14 95.01,208.23 95.46,208.23 95.46,208.38 95.91,208.38 95.91,207.90 96.36,207.90 96.36,209.50 96.81,209.50 96.81,208.77 97.26,208.77 97.26,210.38 97.71,210.38 97.71,209.41 98.16,209.41 98.16,211.03 98.61,211.03 98.61,209.28 99.06,209.28 99.06,212.60 99.51,212.60 99.51,210.83 99.96,210.83 99.96,212.20 100.41,212.20 100.41,212.44 100.86,212.44 100.86,214.37 101.31,214.37 101.31,214.44 101.76,214.44 101.76,214.23 102.21,214.23 102.21,213.79 102.66,213.79 102.66,215.26 103.11,215.26 103.11,216.69 103.56,216.69 103.56,217.11 104.01,217.11 104.01,216.24 104.46,216.24 104.46,218.26 104.91,218.26 104.91,217.08 105.36,217.08 105.36,218.89 105.81,218.89 105.81,217.09 106.26,217.09 106.26,217.05 106.71,217.05 106.71,218.46 107.16,218.46 107.16,217.90 107.61,217.90 107.61,218.68 108.06,218.68 108.06,218.54 108.51,218.54 108.51,217.99 108.96,217.99 108.96,219.66 109.41,219.66 109.41,217.84 109.86,217.84 109.86,218.56 110.31,218.56 110.31,219.26 110.76,219.26 110.76,219.48 111.21,219.48 111.21,218.96 111.66,218.96 111.66,219.10 112.11,219.10 112.11,219.52 112.56,219.52 112.56,221.42 113.01,221.42 113.01,221.16 113.46,221.16 113.46,221.42 113.91,221.42 113.91,223.26 114.36,223.26 114.36,223.43 114.81,223.43 114.81,223.92 115.26,223.92 115.26,223.70 115.71,223.70 115.71,224.75 116.16,224.75 116.16,224.13 116.61,224.13 116.61,225.26 117.06,225.26 117.06,225.68 117.51,225.68 117.51,225.63 117.96,225.63 117.96,226.05 118.41,226.05 118.41,226.78 118.86,226.78 118.86,227.43 119.31,227.43 119.31,227.40 119.76,227.40 119.76,228.91 120.21,228.91 120.21,229.13 120.66,229.13 120.66,229.82 121.11,229.82 121.11,230.17 121.56,230.17 121.56,229.91 122.01,229.91 122.01,230.21 122.46,230.21 122.46,230.90 122.91,230.90 122.91,231.85 123.36,231.85 123.36,232.42 123.81,232.42 123.81,232.19 124.26,232.19 124.26,232.63 124.71,232.63 124.71,232.71 125.16,232.71 125.16,233.31 125.61,233.31 125.61,233.51 126.06,233.51 126.06,234.18 126.51,234.18 126.51,234.43 126.96,234.43 126.70,234.70" fill="#5fa5d9"/><polygon points="18.51,234.70 18.51,234.57 18.96,234.57 18.96,233.23 19.41,233.23 19.41,232.44 19.86,232.44 19.86,231.22 20.31,231.22 20.31,230.36 20.76,230.36 20.76,229.16 21.21,229.16 21.21,228.98 21.66,228.98 21.66,227.72 22.11,227.72 22.11,227.08 22.56,227.08 22.56,226.47 23.01,226.47 23.01,224.93 23.46,224.93 23.46,223.98 23.91,223.98 23.91,222.48 24.36,222.48 24.36,222.76 24.81,222.76 24.81,221.49 25.26,221.49 25.26,222.94 25.71,222.94 25.71,223.53 26.16,223.53 26.16,225.34 26.61,225.34 26.61,224.64 27.06,224.64 27.06,224.41 27.51,224.41 27.51,224.15 27.96,224.15 27.96,224.39 28.41,224.39 28.41,224.33 28.86,224.33 28.86,222.38 29.31,222.38 29.31,222.15 29.76,222.15 29.76,220.64 30.21,220.64 30.21,219.44 30.66,219.44 30.66,218.90 31.11,218.90 31.11,215.38 31.56,215.38 31.56,212.91 32.01,212.91 32.01,210.65 32.46,210.65 32.46,207.37 32.91,207.37 32.91,204.56 33.36,204.56 33.36,201.53 33.81,201.53 33.81,204.70 34.26,204.70 34.26,205.32 34.71,205.32 34.71,205.40 35.16,205.40 35.16,204.91 35.61,204.91 35.61,202.57 36.06,202.57 36.06,201.29 36.51,201.29 36.51,200.75 36.96,200.75 36.96,197.84 37.41,197.84 37.41,196.85 37.86,196.85 37.86,197.00 38.31,197.00 38.31,194.33 38.76,194.33 38.76,191.44 39.21,191.44 39.21,186.95 39.66,186.95 39.66,180.25 40.11,180.25 40.11,179.70 40.56,179.70 40.56,172.02 41.01,172.02 41.01,169.42 41.46,169.42 41.46,169.90 41.91,169.90 41.91,171.00 42.36,171.00 42.36,173.69 42.81,173.69 42.81,171.72 43.26,171.72 43.26,164.78 43.71,164.78 43.71,170.65 44.16,170.65 44.16,173.22 44.61,173.22 44.61,176.15 45.06,176.15 45.06,174.25 45.51,174.25 45.51,179.29 45.96,179.29 45.96,178.75 46.41,178.75 46.41,178.77 46.86,178.77 46.86,176.68 47.31,176.68 47.31,180.02 47.76,180.02 47.76,178.41 48.21,178.41 48.21,179.55 48.66,179.55 48.66,183.44 49.11,183.44 49.11,180.79 49.56,180.79 49.56,184.01 50.01,184.01 50.01,181.84 50.46,181.84 50.46,180.85 50.91,180.85 50.91,182.91 51.36,182.91 51.36,180.66 51.81,180.66 51.81,179.65 52.26,179.65 52.26,181.84 52.71,181.84 52.71,180.87 53.16,180.87 53.16,176.43 53.61,176.43 53.61,178.37 54.06,178.37 54.06,175.85 54.51,175.85 54.51,172.30 54.96,172.30 54.96,171.40 55.41,171.40 55.41,174.11 55.86,174.11 55.86,173.63 56.31,173.63 56.31,169.95 56.76,169.95 56.76,165.46 57.21,165.46 57.21,159.11 57.66,159.11 57.66,161.02 58.11,161.02 58.11,155.02 58.56,155.02 58.56,157.28 59.01,157.28 59.01,150.88 59.46,150.88 59.46,155.62 59.91,155.62 59.91,158.07 60.36,158.07 60.36,160.33 60.81,160.33 60.81,161.55 61.26,161.55 61.26,164.47 61.71,164.47 61.71,168.81 62.16,168.81 62.16,167.89 62.61,167.89 62.61,168.87 63.06,168.87 63.06,178.06 63.51,178.06 63.51,179.73 63.96,179.73 63.96,182.81 64.41,182.81 64.41,184.91 64.86,184.91 64.86,186.41 65.31,186.41 65.31,188.69 65.76,188.69 65.76,188.75 66.21,188.75 66.21,189.40 66.66,189.40 66.66,190.86 67.11,190.86 67.11,193.08 67.56,193.08 67.56,196.43 68.01,196.43 68.01,197.58 68.46,197.58 68.46,198.10 68.91,198.10 68.91,198.30 69.36,198.30 69.36,203.17 69.81,203.17 69.81,202.42 70.26,202.42 70.26,204.75 70.71,204.75 70.71,205.78 71.16,205.78 71.16,206.19 71.61,206.19 71.61,206.46 72.06,206.46 72.06,209.56 72.51,209.56 72.51,207.71 72.96,207.71 72.96,207.81 73.41,207.81 73.41,208.33 73.86,208.33 73.86,206.34 74.31,206.34 74.31,204.81 74.76,204.81 74.76,204.37 75.21,204.37 75.21,206.01 75.66,206.01 75.66,205.99 76.11,205.99 76.11,206.57 76.56,206.57 76.56,209.27 77.01,209.27 77.01,209.74 77.46,209.74 77.46,209.06 77.91,209.06 77.91,209.40 78.36,209.40 78.36,211.77 78.81,211.77 78.81,210.61 79.26,210.61 79.26,211.35 79.71,211.35 79.71,211.00 80.16,211.00 80.16,212.56 80.61,212.56 80.61,211.43 81.06,211.43 81.06,211.93 81.51,211.93 81.51,210.53 81.96,210.53 81.96,211.21 82.41,211.21 82.41,209.09 82.86,209.09 82.86,208.93 83.31,208.93 83.31,209.16 83.76,209.16 83.76,208.82 84.21,208.82 84.21,210.61 84.66,210.61 84.66,208.51 85.11,208.51 85.11,210.14 85.56,210.14 85.56,211.69 86.01,211.69 86.01,211.28 86.46,211.28 86.46,212.92 86.91,212.92 86.91,212.76 87.36,212.76 87.36,212.59 87.81,212.59 87.81,210.53 88.26,210.53 88.26,210.69 88.71,210.69 88.71,212.06 89.16,212.06 89.16,210.31 89.61,210.31 89.61,210.23 90.06,210.23 90.06,208.50 90.51,208.50 90.51,208.36 90.96,208.36 90.96,206.28 91.41,206.28 91.41,208.43 91.86,208.43 91.86,208.71 92.31,208.71 92.31,209.03 92.76,209.03 92.76,210.57 93.21,210.57 93.21,210.37 93.66,210.37 93.66,209.21 94.11,209.21 94.11,209.94 94.56,209.94 94.56,209.14 95.01,209.14 95.01,208.23 95.46,208.23 95.46,208.38 95.91,208.38 95.91,207.90 96.36,207.90 96.36,209.50 96.81,209.50 96.81,208.77 97.26,208.77 97.26,210.38 97.71,210.38 97.71,209.41 98.16,209.41 98.16,211.03 98.61,211.03 98.61,209.28 99.06,209.28 99.06,212.60 99.51,212.60 99.51,210.83 99.96,210.83 99.96,212.20 100.41,212.20 100.41,212.44 100.86,212.44 100.86,214.37 101.31,214.37 101.31,214.44 101.76,214.44 101.76,214.23 102.21,214.23 102.21,213.79 102.66,213.79 102.66,215.26 103.11,215.26 103.11,216.69 103.56,216.69 103.56,217.11 104.01,217.11 104.01,216.24 104.46,216.24 104.46,218.26 104.91,218.26 104.91,217.08 105.36,217.08 105.36,218.89 105.81,218.89 105.81,217.09 106.26,217.09 106.26,217.05 106.71,217.05 106.71,218.46 107.16,218.46 107.16,217.90 107.61,217.90 107.61,218.68 108.06,218.68 108.06,218.54 108.51,218.54 108.51,217.99 108.96,217.99 108.96,219.66 109.41,219.66 109.41,217.84 109.86,217.84 109.86,218.56 110.31,218.56 110.31,219.26 110.76,219.26 110.76,219.48 111.21,219.48 111.21,218.96 111.66,218.96 111.66,219.10 112.11,219.10 112.11,219.52 112.56,219.52 112.56,221.42 113.01,221.42 113.01,221.16 113.46,221.16 113.46,221.42 113.91,221.42 113.91,223.26 114.36,223.26 114.36,223.43 114.81,223.43 114.81,223.92 115.26,223.92 115.26,223.70 115.71,223.70 115.71,224.75 116.16,224.75 116.16,224.13 116.61,224.13 116.61,225.26 117.06,225.26 117.06,225.68 117.51,225.68 117.51,225.63 117.96,225.63 117.96,226.05 118.41,226.05 118.41,226.78 118.86,226.78 118.86,227.43 119.31,227.43 119.31,227.40 119.76,227.40 119.76,228.91 120.21,228.91 120.21,229.13 120.66,229.13 120.66,229.82 121.11,229.82 121.11,230.17 121.56,230.17 121.56,229.91 122.01,229.91 122.01,230.21 122.46,230.21 122.46,230.90 122.91,230.90 122.91,231.85 123.36,231.85 123.36,232.42 123.81,232.42 123.81,232.19 124.26,232.19 124.26,232.63 124.71,232.63 124.71,232.71 125.16,232.71 125.16,233.31 125.61,233.31 125.61,233.51 126.06,233.51 126.06,234.18 126.51,234.18 126.51,234.43 126.96,234.43 126.70,234.70" fill="url(#st)"/></g>
<rect x="18.40" y="151.70" width="114.90" height="92.60" fill="none" stroke="#d6d6d6" stroke-width="1.1"/>
<rect x="18.20" y="234.70" width="115.30" height="9.80" fill="url(#gg)"/><rect x="18.20" y="234.70" width="115.30" height="9.80" fill="url(#gv)"/>
<text font-size="6.99" class="t" transform="translate(17.40,162.14) scale(0.77,1)" text-anchor="end">800</text>
<text font-size="6.99" class="t" transform="translate(17.40,178.14) scale(0.77,1)" text-anchor="end">600</text>
<text font-size="6.99" class="t" transform="translate(16.50,195.14) scale(0.77,1)" text-anchor="end">400</text>
<text font-size="6.99" class="t" transform="translate(16.10,216.14) scale(0.77,1)" text-anchor="end">200</text>
<text font-size="6.99" class="t" transform="translate(13.40,238.14) scale(0.77,1)" text-anchor="end">0</text>
<text font-size="6.99" class="t" transform="translate(18.80,250.40) scale(0.77,1)" text-anchor="middle">0</text>
<text font-size="6.99" class="t" transform="translate(40.40,250.40) scale(0.77,1)" text-anchor="middle">50</text>
<text font-size="6.99" class="t" transform="translate(62.00,250.40) scale(0.77,1)" text-anchor="middle">100</text>
<text font-size="6.99" class="t" transform="translate(83.59,250.40) scale(0.77,1)" text-anchor="middle">150</text>
<text font-size="6.99" class="t" transform="translate(105.19,250.40) scale(0.77,1)" text-anchor="middle">200</text>
<text font-size="6.99" class="t" transform="translate(126.79,250.40) scale(0.77,1)" text-anchor="middle">250</text>
<text font-size="6.99" class="ax" transform="translate(72.85,259.70) scale(0.886,1)" text-anchor="middle">Gray scale values</text>
<text font-size="6.79" class="ay" transform="translate(6.50,201.60) rotate(-90) scale(1.103,1)" text-anchor="middle">No. of pixels</text>
<text class="pl" x="69.60" y="280.30" text-anchor="middle">(f)</text>
</g>
<g>
<clipPath id="cg"><rect x="174.30" y="155.30" width="110.30" height="78.80"/></clipPath>
<g clip-path="url(#cg)"><polygon points="187.87,234.10 187.87,234.10 188.32,234.10 188.32,233.27 188.77,233.27 188.77,232.81 189.22,232.81 189.22,232.07 189.67,232.07 189.67,231.53 190.12,231.53 190.12,230.98 190.57,230.98 190.57,228.93 191.02,228.93 191.02,227.61 191.47,227.61 191.47,225.88 191.92,225.88 191.92,225.52 192.37,225.52 192.37,223.39 192.82,223.39 192.82,223.09 193.27,223.09 193.27,223.25 193.72,223.25 193.72,223.95 194.17,223.95 194.17,223.18 194.62,223.18 194.62,223.93 195.07,223.93 195.07,222.52 195.52,222.52 195.52,221.39 195.97,221.39 195.97,221.70 196.42,221.70 196.42,219.11 196.87,219.11 196.87,219.99 197.32,219.99 197.32,217.93 197.77,217.93 197.77,218.08 198.22,218.08 198.22,216.69 198.67,216.69 198.67,215.03 199.12,215.03 199.12,214.20 199.57,214.20 199.57,213.51 200.02,213.51 200.02,212.78 200.47,212.78 200.47,212.19 200.92,212.19 200.92,211.66 201.37,211.66 201.37,210.74 201.82,210.74 201.82,211.37 202.27,211.37 202.27,209.82 202.72,209.82 202.72,208.02 203.17,208.02 203.17,206.63 203.62,206.63 203.62,207.75 204.07,207.75 204.07,206.50 204.52,206.50 204.52,206.90 204.97,206.90 204.97,203.27 205.42,203.27 205.42,202.56 205.87,202.56 205.87,204.35 206.32,204.35 206.32,200.95 206.77,200.95 206.77,202.59 207.22,202.59 207.22,202.02 207.67,202.02 207.67,199.25 208.12,199.25 208.12,199.14 208.57,199.14 208.57,195.86 209.02,195.86 209.02,197.90 209.47,197.90 209.47,196.30 209.92,196.30 209.92,195.25 210.37,195.25 210.37,192.40 210.82,192.40 210.82,194.83 211.27,194.83 211.27,193.60 211.72,193.60 211.72,192.04 212.17,192.04 212.17,193.97 212.62,193.97 212.62,193.51 213.07,193.51 213.07,191.70 213.52,191.70 213.52,187.79 213.97,187.79 213.97,191.47 214.42,191.47 214.42,186.04 214.87,186.04 214.87,189.23 215.32,189.23 215.32,188.80 215.77,188.80 215.77,186.69 216.22,186.69 216.22,186.43 216.67,186.43 216.67,184.72 217.12,184.72 217.12,184.85 217.57,184.85 217.57,183.59 218.02,183.59 218.02,185.71 218.47,185.71 218.47,184.12 218.92,184.12 218.92,184.51 219.37,184.51 219.37,183.63 219.82,183.63 219.82,181.43 220.27,181.43 220.27,181.07 220.72,181.07 220.72,177.40 221.17,177.40 221.17,178.47 221.62,178.47 221.62,178.70 222.07,178.70 222.07,177.44 222.52,177.44 222.52,179.54 222.97,179.54 222.97,173.74 223.42,173.74 223.42,175.18 223.87,175.18 223.87,173.58 224.32,173.58 224.32,170.90 224.77,170.90 224.77,173.61 225.22,173.61 225.22,169.32 225.67,169.32 225.67,168.14 226.12,168.14 226.12,169.40 226.57,169.40 226.57,164.44 227.02,164.44 227.02,166.56 227.47,166.56 227.47,162.83 227.92,162.83 227.92,163.68 228.37,163.68 228.37,163.67 228.82,163.67 228.82,166.79 229.27,166.79 229.27,166.45 229.72,166.45 229.72,168.38 230.17,168.38 230.17,168.88 230.62,168.88 230.62,161.83 231.07,161.83 231.07,163.02 231.52,163.02 231.52,164.14 231.97,164.14 231.97,162.43 232.42,162.43 232.42,166.62 232.87,166.62 232.87,164.05 233.32,164.05 233.32,163.98 233.77,163.98 233.77,164.28 234.22,164.28 234.22,165.23 234.67,165.23 234.67,162.70 235.12,162.70 235.12,160.52 235.57,160.52 235.57,162.58 236.02,162.58 236.02,162.39 236.47,162.39 236.47,159.98 236.92,159.98 236.92,162.17 237.37,162.17 237.37,163.65 237.82,163.65 237.82,164.05 238.27,164.05 238.27,161.93 238.72,161.93 238.72,163.99 239.17,163.99 239.17,170.93 239.62,170.93 239.62,170.41 240.07,170.41 240.07,172.68 240.52,172.68 240.52,174.55 240.97,174.55 240.97,173.98 241.42,173.98 241.42,174.36 241.87,174.36 241.87,172.20 242.32,172.20 242.32,174.45 242.77,174.45 242.77,175.91 243.22,175.91 243.22,177.22 243.67,177.22 243.67,178.90 244.12,178.90 244.12,175.93 244.57,175.93 244.57,181.34 245.02,181.34 245.02,181.39 245.47,181.39 245.47,184.39 245.92,184.39 245.92,185.60 246.37,185.60 246.37,189.24 246.82,189.24 246.82,187.85 247.27,187.85 247.27,189.25 247.72,189.25 247.72,189.70 248.17,189.70 248.17,195.16 248.62,195.16 248.62,194.08 249.07,194.08 249.07,195.14 249.52,195.14 249.52,198.67 249.97,198.67 249.97,197.47 250.42,197.47 250.42,201.53 250.87,201.53 250.87,200.63 251.32,200.63 251.32,202.83 251.77,202.83 251.77,202.46 252.22,202.46 252.22,203.28 252.67,203.28 252.67,203.88 253.12,203.88 253.12,206.10 253.57,206.10 253.57,206.97 254.02,206.97 254.02,207.22 254.47,207.22 254.47,210.34 254.92,210.34 254.92,209.48 255.37,209.48 255.37,210.78 255.82,210.78 255.82,210.97 256.27,210.97 256.27,212.12 256.72,212.12 256.72,213.55 257.17,213.55 257.17,214.38 257.62,214.38 257.62,214.49 258.07,214.49 258.07,215.27 258.52,215.27 258.52,216.73 258.97,216.73 258.97,218.54 259.42,218.54 259.42,218.98 259.87,218.98 259.87,219.67 260.32,219.67 260.32,219.66 260.77,219.66 260.77,220.35 261.22,220.35 261.22,221.46 261.67,221.46 261.67,221.95 262.12,221.95 262.12,223.86 262.57,223.86 262.57,223.28 263.02,223.28 263.02,223.71 263.47,223.71 263.47,224.22 263.92,224.22 263.92,224.85 264.37,224.85 264.37,226.51 264.82,226.51 264.82,226.65 265.27,226.65 265.27,225.72 265.72,225.72 265.72,226.37 266.17,226.37 266.17,226.78 266.62,226.78 266.62,227.39 267.07,227.39 267.07,227.66 267.52,227.66 267.52,227.09 267.97,227.09 267.97,228.33 268.42,228.33 268.42,228.17 268.87,228.17 268.87,227.83 269.32,227.83 269.32,228.00 269.77,228.00 269.77,228.40 270.22,228.40 270.22,229.09 270.67,229.09 270.67,229.54 271.12,229.54 271.12,229.27 271.57,229.27 271.57,229.60 272.02,229.60 272.02,229.18 272.47,229.18 272.47,229.41 272.92,229.41 272.92,229.52 273.37,229.52 273.37,229.45 273.82,229.45 273.82,229.88 274.27,229.88 274.27,229.81 274.72,229.81 274.72,230.63 275.17,230.63 275.17,230.74 275.62,230.74 275.62,230.82 276.07,230.82 276.07,230.53 276.52,230.53 276.52,230.89 276.97,230.89 276.97,231.75 277.42,231.75 277.42,231.41 277.87,231.41 277.87,231.93 278.32,231.93 278.32,232.38 278.77,232.38 278.77,232.57 279.22,232.57 279.22,232.78 279.67,232.78 279.67,232.46 280.12,232.46 280.12,233.04 280.57,233.04 280.57,233.63 281.02,233.63 280.90,234.10" fill="#5fa5d9"/><polygon points="187.87,234.10 187.87,234.10 188.32,234.10 188.32,233.27 188.77,233.27 188.77,232.81 189.22,232.81 189.22,232.07 189.67,232.07 189.67,231.53 190.12,231.53 190.12,230.98 190.57,230.98 190.57,228.93 191.02,228.93 191.02,227.61 191.47,227.61 191.47,225.88 191.92,225.88 191.92,225.52 192.37,225.52 192.37,223.39 192.82,223.39 192.82,223.09 193.27,223.09 193.27,223.25 193.72,223.25 193.72,223.95 194.17,223.95 194.17,223.18 194.62,223.18 194.62,223.93 195.07,223.93 195.07,222.52 195.52,222.52 195.52,221.39 195.97,221.39 195.97,221.70 196.42,221.70 196.42,219.11 196.87,219.11 196.87,219.99 197.32,219.99 197.32,217.93 197.77,217.93 197.77,218.08 198.22,218.08 198.22,216.69 198.67,216.69 198.67,215.03 199.12,215.03 199.12,214.20 199.57,214.20 199.57,213.51 200.02,213.51 200.02,212.78 200.47,212.78 200.47,212.19 200.92,212.19 200.92,211.66 201.37,211.66 201.37,210.74 201.82,210.74 201.82,211.37 202.27,211.37 202.27,209.82 202.72,209.82 202.72,208.02 203.17,208.02 203.17,206.63 203.62,206.63 203.62,207.75 204.07,207.75 204.07,206.50 204.52,206.50 204.52,206.90 204.97,206.90 204.97,203.27 205.42,203.27 205.42,202.56 205.87,202.56 205.87,204.35 206.32,204.35 206.32,200.95 206.77,200.95 206.77,202.59 207.22,202.59 207.22,202.02 207.67,202.02 207.67,199.25 208.12,199.25 208.12,199.14 208.57,199.14 208.57,195.86 209.02,195.86 209.02,197.90 209.47,197.90 209.47,196.30 209.92,196.30 209.92,195.25 210.37,195.25 210.37,192.40 210.82,192.40 210.82,194.83 211.27,194.83 211.27,193.60 211.72,193.60 211.72,192.04 212.17,192.04 212.17,193.97 212.62,193.97 212.62,193.51 213.07,193.51 213.07,191.70 213.52,191.70 213.52,187.79 213.97,187.79 213.97,191.47 214.42,191.47 214.42,186.04 214.87,186.04 214.87,189.23 215.32,189.23 215.32,188.80 215.77,188.80 215.77,186.69 216.22,186.69 216.22,186.43 216.67,186.43 216.67,184.72 217.12,184.72 217.12,184.85 217.57,184.85 217.57,183.59 218.02,183.59 218.02,185.71 218.47,185.71 218.47,184.12 218.92,184.12 218.92,184.51 219.37,184.51 219.37,183.63 219.82,183.63 219.82,181.43 220.27,181.43 220.27,181.07 220.72,181.07 220.72,177.40 221.17,177.40 221.17,178.47 221.62,178.47 221.62,178.70 222.07,178.70 222.07,177.44 222.52,177.44 222.52,179.54 222.97,179.54 222.97,173.74 223.42,173.74 223.42,175.18 223.87,175.18 223.87,173.58 224.32,173.58 224.32,170.90 224.77,170.90 224.77,173.61 225.22,173.61 225.22,169.32 225.67,169.32 225.67,168.14 226.12,168.14 226.12,169.40 226.57,169.40 226.57,164.44 227.02,164.44 227.02,166.56 227.47,166.56 227.47,162.83 227.92,162.83 227.92,163.68 228.37,163.68 228.37,163.67 228.82,163.67 228.82,166.79 229.27,166.79 229.27,166.45 229.72,166.45 229.72,168.38 230.17,168.38 230.17,168.88 230.62,168.88 230.62,161.83 231.07,161.83 231.07,163.02 231.52,163.02 231.52,164.14 231.97,164.14 231.97,162.43 232.42,162.43 232.42,166.62 232.87,166.62 232.87,164.05 233.32,164.05 233.32,163.98 233.77,163.98 233.77,164.28 234.22,164.28 234.22,165.23 234.67,165.23 234.67,162.70 235.12,162.70 235.12,160.52 235.57,160.52 235.57,162.58 236.02,162.58 236.02,162.39 236.47,162.39 236.47,159.98 236.92,159.98 236.92,162.17 237.37,162.17 237.37,163.65 237.82,163.65 237.82,164.05 238.27,164.05 238.27,161.93 238.72,161.93 238.72,163.99 239.17,163.99 239.17,170.93 239.62,170.93 239.62,170.41 240.07,170.41 240.07,172.68 240.52,172.68 240.52,174.55 240.97,174.55 240.97,173.98 241.42,173.98 241.42,174.36 241.87,174.36 241.87,172.20 242.32,172.20 242.32,174.45 242.77,174.45 242.77,175.91 243.22,175.91 243.22,177.22 243.67,177.22 243.67,178.90 244.12,178.90 244.12,175.93 244.57,175.93 244.57,181.34 245.02,181.34 245.02,181.39 245.47,181.39 245.47,184.39 245.92,184.39 245.92,185.60 246.37,185.60 246.37,189.24 246.82,189.24 246.82,187.85 247.27,187.85 247.27,189.25 247.72,189.25 247.72,189.70 248.17,189.70 248.17,195.16 248.62,195.16 248.62,194.08 249.07,194.08 249.07,195.14 249.52,195.14 249.52,198.67 249.97,198.67 249.97,197.47 250.42,197.47 250.42,201.53 250.87,201.53 250.87,200.63 251.32,200.63 251.32,202.83 251.77,202.83 251.77,202.46 252.22,202.46 252.22,203.28 252.67,203.28 252.67,203.88 253.12,203.88 253.12,206.10 253.57,206.10 253.57,206.97 254.02,206.97 254.02,207.22 254.47,207.22 254.47,210.34 254.92,210.34 254.92,209.48 255.37,209.48 255.37,210.78 255.82,210.78 255.82,210.97 256.27,210.97 256.27,212.12 256.72,212.12 256.72,213.55 257.17,213.55 257.17,214.38 257.62,214.38 257.62,214.49 258.07,214.49 258.07,215.27 258.52,215.27 258.52,216.73 258.97,216.73 258.97,218.54 259.42,218.54 259.42,218.98 259.87,218.98 259.87,219.67 260.32,219.67 260.32,219.66 260.77,219.66 260.77,220.35 261.22,220.35 261.22,221.46 261.67,221.46 261.67,221.95 262.12,221.95 262.12,223.86 262.57,223.86 262.57,223.28 263.02,223.28 263.02,223.71 263.47,223.71 263.47,224.22 263.92,224.22 263.92,224.85 264.37,224.85 264.37,226.51 264.82,226.51 264.82,226.65 265.27,226.65 265.27,225.72 265.72,225.72 265.72,226.37 266.17,226.37 266.17,226.78 266.62,226.78 266.62,227.39 267.07,227.39 267.07,227.66 267.52,227.66 267.52,227.09 267.97,227.09 267.97,228.33 268.42,228.33 268.42,228.17 268.87,228.17 268.87,227.83 269.32,227.83 269.32,228.00 269.77,228.00 269.77,228.40 270.22,228.40 270.22,229.09 270.67,229.09 270.67,229.54 271.12,229.54 271.12,229.27 271.57,229.27 271.57,229.60 272.02,229.60 272.02,229.18 272.47,229.18 272.47,229.41 272.92,229.41 272.92,229.52 273.37,229.52 273.37,229.45 273.82,229.45 273.82,229.88 274.27,229.88 274.27,229.81 274.72,229.81 274.72,230.63 275.17,230.63 275.17,230.74 275.62,230.74 275.62,230.82 276.07,230.82 276.07,230.53 276.52,230.53 276.52,230.89 276.97,230.89 276.97,231.75 277.42,231.75 277.42,231.41 277.87,231.41 277.87,231.93 278.32,231.93 278.32,232.38 278.77,232.38 278.77,232.57 279.22,232.57 279.22,232.78 279.67,232.78 279.67,232.46 280.12,232.46 280.12,233.04 280.57,233.04 280.57,233.63 281.02,233.63 280.90,234.10" fill="url(#st)"/></g>
<rect x="174.30" y="155.30" width="110.30" height="87.20" fill="none" stroke="#d6d6d6" stroke-width="1.1"/>
<rect x="174.10" y="234.10" width="110.70" height="8.60" fill="url(#gg)"/><rect x="174.10" y="234.10" width="110.70" height="8.60" fill="url(#gv)"/>
<text font-size="7.34" class="t" transform="translate(173.30,165.24) scale(0.77,1)" text-anchor="end">800</text>
<text font-size="7.34" class="t" transform="translate(173.30,180.24) scale(0.77,1)" text-anchor="end">600</text>
<text font-size="7.34" class="t" transform="translate(172.40,197.24) scale(0.77,1)" text-anchor="end">400</text>
<text font-size="7.34" class="t" transform="translate(172.00,217.24) scale(0.77,1)" text-anchor="end">200</text>
<text font-size="7.34" class="t" transform="translate(169.30,237.74) scale(0.77,1)" text-anchor="end">0</text>
<text font-size="7.34" class="t" transform="translate(174.70,249.90) scale(0.77,1)" text-anchor="middle">0</text>
<text font-size="7.34" class="t" transform="translate(195.43,249.90) scale(0.77,1)" text-anchor="middle">50</text>
<text font-size="7.34" class="t" transform="translate(216.17,249.90) scale(0.77,1)" text-anchor="middle">100</text>
<text font-size="7.34" class="t" transform="translate(236.90,249.90) scale(0.77,1)" text-anchor="middle">150</text>
<text font-size="7.34" class="t" transform="translate(257.63,249.90) scale(0.77,1)" text-anchor="middle">200</text>
<text font-size="7.34" class="t" transform="translate(278.37,249.90) scale(0.77,1)" text-anchor="middle">250</text>
<text font-size="7.34" class="ax" transform="translate(226.45,258.60) scale(0.886,1)" text-anchor="middle">Gray scale values</text>
<text font-size="7.13" class="ay" transform="translate(162.40,202.50) rotate(-90) scale(1.103,1)" text-anchor="middle">No. of pixels</text>
<text class="pl" x="224.60" y="280.30" text-anchor="middle">(g)</text>
</g>
<g>
<clipPath id="ch"><rect x="328.50" y="155.60" width="114.00" height="79.80"/></clipPath>
<g clip-path="url(#ch)"><polygon points="328.83,235.40 328.83,235.37 329.28,235.37 329.28,234.36 329.73,234.36 329.73,234.48 330.18,234.48 330.18,234.49 330.63,234.49 330.63,234.52 331.08,234.52 331.08,234.68 331.53,234.68 331.53,234.81 331.98,234.81 331.98,234.62 332.43,234.62 332.43,234.72 332.88,234.72 332.88,234.57 333.33,234.57 333.33,234.52 333.78,234.52 333.78,234.78 334.23,234.78 334.23,234.90 334.68,234.90 334.68,234.62 335.13,234.62 335.13,234.65 335.58,234.65 335.58,234.25 336.03,234.25 336.03,234.79 336.48,234.79 336.48,234.62 336.93,234.62 336.93,234.61 337.38,234.61 337.38,234.27 337.83,234.27 337.83,234.55 338.28,234.55 338.28,234.56 338.73,234.56 338.73,234.23 339.18,234.23 339.18,234.40 339.63,234.40 339.63,234.62 340.08,234.62 340.08,234.63 340.53,234.63 340.53,234.57 340.98,234.57 340.98,234.53 341.43,234.53 341.43,234.67 341.88,234.67 341.88,234.51 342.33,234.51 342.33,233.93 342.78,233.93 342.78,234.09 343.23,234.09 343.23,233.79 343.68,233.79 343.68,234.37 344.13,234.37 344.13,234.16 344.58,234.16 344.58,233.75 345.03,233.75 345.03,233.67 345.48,233.67 345.48,233.64 345.93,233.64 345.93,233.88 346.38,233.88 346.38,233.72 346.83,233.72 346.83,233.30 347.28,233.30 347.28,233.74 347.73,233.74 347.73,233.35 348.18,233.35 348.18,233.23 348.63,233.23 348.63,233.69 349.08,233.69 349.08,233.50 349.53,233.50 349.53,233.37 349.98,233.37 349.98,233.27 350.43,233.27 350.43,232.88 350.88,232.88 350.88,232.32 351.33,232.32 351.33,232.48 351.78,232.48 351.78,232.57 352.23,232.57 352.23,232.75 352.68,232.75 352.68,232.09 353.13,232.09 353.13,231.70 353.58,231.70 353.58,232.33 354.03,232.33 354.03,231.92 354.48,231.92 354.48,231.85 354.93,231.85 354.93,231.31 355.38,231.31 355.38,230.92 355.83,230.92 355.83,230.75 356.28,230.75 356.28,230.36 356.73,230.36 356.73,230.41 357.18,230.41 357.18,230.43 357.63,230.43 357.63,230.69 358.08,230.69 358.08,230.50 358.53,230.50 358.53,229.77 358.98,229.77 358.98,229.33 359.43,229.33 359.43,230.09 359.88,230.09 359.88,228.83 360.33,228.83 360.33,228.79 360.78,228.79 360.78,229.40 361.23,229.40 361.23,229.19 361.68,229.19 361.68,229.54 362.13,229.54 362.13,229.05 362.58,229.05 362.58,229.10 363.03,229.10 363.03,229.07 363.48,229.07 363.48,229.07 363.93,229.07 363.93,228.93 364.38,228.93 364.38,228.38 364.83,228.38 364.83,228.49 365.28,228.49 365.28,228.60 365.73,228.60 365.73,227.56 366.18,227.56 366.18,228.16 366.63,228.16 366.63,227.95 367.08,227.95 367.08,228.39 367.53,228.39 367.53,227.54 367.98,227.54 367.98,228.34 368.43,228.34 368.43,227.52 368.88,227.52 368.88,227.87 369.33,227.87 369.33,228.02 369.78,228.02 369.78,227.73 370.23,227.73 370.23,228.31 370.68,228.31 370.68,228.45 371.13,228.45 371.13,228.73 371.58,228.73 371.58,227.98 372.03,227.98 372.03,228.70 372.48,228.70 372.48,228.29 372.93,228.29 372.93,228.58 373.38,228.58 373.38,227.69 373.83,227.69 373.83,227.98 374.28,227.98 374.28,228.33 374.73,228.33 374.73,228.10 375.18,228.10 375.18,227.42 375.63,227.42 375.63,227.90 376.08,227.90 376.08,228.08 376.53,228.08 376.53,228.28 376.98,228.28 376.98,227.27 377.43,227.27 377.43,227.44 377.88,227.44 377.88,227.82 378.33,227.82 378.33,227.51 378.78,227.51 378.78,228.74 379.23,228.74 379.23,228.75 379.68,228.75 379.68,228.81 380.13,228.81 380.13,228.61 380.58,228.61 380.58,228.38 381.03,228.38 381.03,228.65 381.48,228.65 381.48,228.21 381.93,228.21 381.93,229.22 382.38,229.22 382.38,228.50 382.83,228.50 382.83,229.24 383.28,229.24 383.28,228.79 383.73,228.79 383.73,228.63 384.18,228.63 384.18,228.97 384.63,228.97 384.63,228.94 385.08,228.94 385.08,229.77 385.53,229.77 385.53,228.73 385.98,228.73 385.98,229.13 386.43,229.13 386.43,229.22 386.88,229.22 386.88,229.32 387.33,229.32 387.33,228.72 387.78,228.72 387.78,229.67 388.23,229.67 388.23,229.15 388.68,229.15 388.68,229.48 389.13,229.48 389.13,228.99 389.58,228.99 389.58,229.02 390.03,229.02 390.03,229.05 390.48,229.05 390.48,229.07 390.93,229.07 390.93,229.60 391.38,229.60 391.38,228.59 391.83,228.59 391.83,228.20 392.28,228.20 392.28,229.25 392.73,229.25 392.73,228.13 393.18,228.13 393.18,228.92 393.63,228.92 393.63,228.42 394.08,228.42 394.08,228.54 394.53,228.54 394.53,227.80 394.98,227.80 394.98,227.69 395.43,227.69 395.43,227.99 395.88,227.99 395.88,227.35 396.33,227.35 396.33,227.40 396.78,227.40 396.78,226.99 397.23,226.99 397.23,227.82 397.68,227.82 397.68,227.41 398.13,227.41 398.13,228.32 398.58,228.32 398.58,227.30 399.03,227.30 399.03,227.63 399.48,227.63 399.48,226.83 399.93,226.83 399.93,226.40 400.38,226.40 400.38,226.11 400.83,226.11 400.83,225.48 401.28,225.48 401.28,223.93 401.73,223.93 401.73,223.86 402.18,223.86 402.18,223.96 402.63,223.96 402.63,223.47 403.08,223.47 403.08,223.94 403.53,223.94 403.53,225.27 403.98,225.27 403.98,227.04 404.43,227.04 404.43,226.60 404.88,226.60 404.88,228.54 405.33,228.54 405.33,228.01 405.78,228.01 405.78,229.18 406.23,229.18 406.23,228.88 406.68,228.88 406.68,228.83 407.13,228.83 407.13,229.87 407.58,229.87 407.58,230.05 408.03,230.05 408.03,229.42 408.48,229.42 408.48,229.88 408.93,229.88 408.93,229.93 409.38,229.93 409.38,230.74 409.83,230.74 409.83,231.15 410.28,231.15 410.28,231.32 410.73,231.32 410.73,230.84 411.18,230.84 411.18,231.17 411.63,231.17 411.63,231.93 412.08,231.93 412.08,232.70 412.53,232.70 412.53,232.52 412.98,232.52 412.98,233.40 413.43,233.40 413.43,233.49 413.88,233.49 413.88,233.94 414.33,233.94 414.33,234.59 414.78,234.59 414.78,234.32 415.23,234.32 415.23,234.61 415.68,234.61 415.68,234.43 416.13,234.43 416.13,234.48 416.58,234.48 416.58,234.54 417.03,234.54 417.03,234.94 417.48,234.94 417.48,234.91 417.93,234.91 417.93,235.09 418.38,235.09 418.38,234.90 418.83,234.90 418.83,234.91 419.28,234.91 419.28,234.94 419.73,234.94 419.73,234.98 420.18,234.98 420.18,235.01 420.63,235.01 420.63,235.04 421.08,235.04 421.08,234.91 421.53,234.91 421.53,234.94 421.98,234.94 421.98,234.40 422.43,234.40 422.43,234.50 422.88,234.50 422.88,234.23 423.33,234.23 423.33,234.09 423.78,234.09 423.78,233.70 424.23,233.70 424.23,233.61 424.68,233.61 424.68,233.45 425.13,233.45 425.13,233.14 425.58,233.14 425.58,233.12 426.03,233.12 426.03,232.93 426.48,232.93 426.48,233.14 426.93,233.14 426.93,232.77 427.38,232.77 427.38,232.85 427.83,232.85 427.83,232.52 428.28,232.52 428.28,232.58 428.73,232.58 428.73,232.52 429.18,232.52 429.18,231.71 429.63,231.71 429.63,232.22 430.08,232.22 430.08,231.41 430.53,231.41 430.53,229.10 430.98,229.10 430.98,228.84 431.43,228.84 431.43,228.06 431.88,228.06 431.88,226.62 432.33,226.62 432.33,223.22 432.78,223.22 432.78,217.16 433.23,217.16 433.23,222.26 433.68,222.26 433.68,214.60 434.13,214.60 434.13,204.98 434.58,204.98 434.58,198.40 435.03,198.40 435.03,201.67 435.48,201.67 435.48,189.85 435.93,189.85 435.93,172.76 436.38,172.76 436.38,149.77 436.83,149.77 436.83,151.60 437.28,151.60 437.28,149.53 437.73,149.53 437.73,148.58 438.18,148.58 438.18,198.53 438.63,198.53 438.63,176.65 439.08,176.65 439.08,150.16 439.53,150.16 439.53,152.07 439.98,152.07 439.98,151.62 440.43,151.62 440.43,152.09 440.88,152.09 440.85,235.40" fill="#5fa5d9"/><polygon points="328.83,235.40 328.83,235.37 329.28,235.37 329.28,234.36 329.73,234.36 329.73,234.48 330.18,234.48 330.18,234.49 330.63,234.49 330.63,234.52 331.08,234.52 331.08,234.68 331.53,234.68 331.53,234.81 331.98,234.81 331.98,234.62 332.43,234.62 332.43,234.72 332.88,234.72 332.88,234.57 333.33,234.57 333.33,234.52 333.78,234.52 333.78,234.78 334.23,234.78 334.23,234.90 334.68,234.90 334.68,234.62 335.13,234.62 335.13,234.65 335.58,234.65 335.58,234.25 336.03,234.25 336.03,234.79 336.48,234.79 336.48,234.62 336.93,234.62 336.93,234.61 337.38,234.61 337.38,234.27 337.83,234.27 337.83,234.55 338.28,234.55 338.28,234.56 338.73,234.56 338.73,234.23 339.18,234.23 339.18,234.40 339.63,234.40 339.63,234.62 340.08,234.62 340.08,234.63 340.53,234.63 340.53,234.57 340.98,234.57 340.98,234.53 341.43,234.53 341.43,234.67 341.88,234.67 341.88,234.51 342.33,234.51 342.33,233.93 342.78,233.93 342.78,234.09 343.23,234.09 343.23,233.79 343.68,233.79 343.68,234.37 344.13,234.37 344.13,234.16 344.58,234.16 344.58,233.75 345.03,233.75 345.03,233.67 345.48,233.67 345.48,233.64 345.93,233.64 345.93,233.88 346.38,233.88 346.38,233.72 346.83,233.72 346.83,233.30 347.28,233.30 347.28,233.74 347.73,233.74 347.73,233.35 348.18,233.35 348.18,233.23 348.63,233.23 348.63,233.69 349.08,233.69 349.08,233.50 349.53,233.50 349.53,233.37 349.98,233.37 349.98,233.27 350.43,233.27 350.43,232.88 350.88,232.88 350.88,232.32 351.33,232.32 351.33,232.48 351.78,232.48 351.78,232.57 352.23,232.57 352.23,232.75 352.68,232.75 352.68,232.09 353.13,232.09 353.13,231.70 353.58,231.70 353.58,232.33 354.03,232.33 354.03,231.92 354.48,231.92 354.48,231.85 354.93,231.85 354.93,231.31 355.38,231.31 355.38,230.92 355.83,230.92 355.83,230.75 356.28,230.75 356.28,230.36 356.73,230.36 356.73,230.41 357.18,230.41 357.18,230.43 357.63,230.43 357.63,230.69 358.08,230.69 358.08,230.50 358.53,230.50 358.53,229.77 358.98,229.77 358.98,229.33 359.43,229.33 359.43,230.09 359.88,230.09 359.88,228.83 360.33,228.83 360.33,228.79 360.78,228.79 360.78,229.40 361.23,229.40 361.23,229.19 361.68,229.19 361.68,229.54 362.13,229.54 362.13,229.05 362.58,229.05 362.58,229.10 363.03,229.10 363.03,229.07 363.48,229.07 363.48,229.07 363.93,229.07 363.93,228.93 364.38,228.93 364.38,228.38 364.83,228.38 364.83,228.49 365.28,228.49 365.28,228.60 365.73,228.60 365.73,227.56 366.18,227.56 366.18,228.16 366.63,228.16 366.63,227.95 367.08,227.95 367.08,228.39 367.53,228.39 367.53,227.54 367.98,227.54 367.98,228.34 368.43,228.34 368.43,227.52 368.88,227.52 368.88,227.87 369.33,227.87 369.33,228.02 369.78,228.02 369.78,227.73 370.23,227.73 370.23,228.31 370.68,228.31 370.68,228.45 371.13,228.45 371.13,228.73 371.58,228.73 371.58,227.98 372.03,227.98 372.03,228.70 372.48,228.70 372.48,228.29 372.93,228.29 372.93,228.58 373.38,228.58 373.38,227.69 373.83,227.69 373.83,227.98 374.28,227.98 374.28,228.33 374.73,228.33 374.73,228.10 375.18,228.10 375.18,227.42 375.63,227.42 375.63,227.90 376.08,227.90 376.08,228.08 376.53,228.08 376.53,228.28 376.98,228.28 376.98,227.27 377.43,227.27 377.43,227.44 377.88,227.44 377.88,227.82 378.33,227.82 378.33,227.51 378.78,227.51 378.78,228.74 379.23,228.74 379.23,228.75 379.68,228.75 379.68,228.81 380.13,228.81 380.13,228.61 380.58,228.61 380.58,228.38 381.03,228.38 381.03,228.65 381.48,228.65 381.48,228.21 381.93,228.21 381.93,229.22 382.38,229.22 382.38,228.50 382.83,228.50 382.83,229.24 383.28,229.24 383.28,228.79 383.73,228.79 383.73,228.63 384.18,228.63 384.18,228.97 384.63,228.97 384.63,228.94 385.08,228.94 385.08,229.77 385.53,229.77 385.53,228.73 385.98,228.73 385.98,229.13 386.43,229.13 386.43,229.22 386.88,229.22 386.88,229.32 387.33,229.32 387.33,228.72 387.78,228.72 387.78,229.67 388.23,229.67 388.23,229.15 388.68,229.15 388.68,229.48 389.13,229.48 389.13,228.99 389.58,228.99 389.58,229.02 390.03,229.02 390.03,229.05 390.48,229.05 390.48,229.07 390.93,229.07 390.93,229.60 391.38,229.60 391.38,228.59 391.83,228.59 391.83,228.20 392.28,228.20 392.28,229.25 392.73,229.25 392.73,228.13 393.18,228.13 393.18,228.92 393.63,228.92 393.63,228.42 394.08,228.42 394.08,228.54 394.53,228.54 394.53,227.80 394.98,227.80 394.98,227.69 395.43,227.69 395.43,227.99 395.88,227.99 395.88,227.35 396.33,227.35 396.33,227.40 396.78,227.40 396.78,226.99 397.23,226.99 397.23,227.82 397.68,227.82 397.68,227.41 398.13,227.41 398.13,228.32 398.58,228.32 398.58,227.30 399.03,227.30 399.03,227.63 399.48,227.63 399.48,226.83 399.93,226.83 399.93,226.40 400.38,226.40 400.38,226.11 400.83,226.11 400.83,225.48 401.28,225.48 401.28,223.93 401.73,223.93 401.73,223.86 402.18,223.86 402.18,223.96 402.63,223.96 402.63,223.47 403.08,223.47 403.08,223.94 403.53,223.94 403.53,225.27 403.98,225.27 403.98,227.04 404.43,227.04 404.43,226.60 404.88,226.60 404.88,228.54 405.33,228.54 405.33,228.01 405.78,228.01 405.78,229.18 406.23,229.18 406.23,228.88 406.68,228.88 406.68,228.83 407.13,228.83 407.13,229.87 407.58,229.87 407.58,230.05 408.03,230.05 408.03,229.42 408.48,229.42 408.48,229.88 408.93,229.88 408.93,229.93 409.38,229.93 409.38,230.74 409.83,230.74 409.83,231.15 410.28,231.15 410.28,231.32 410.73,231.32 410.73,230.84 411.18,230.84 411.18,231.17 411.63,231.17 411.63,231.93 412.08,231.93 412.08,232.70 412.53,232.70 412.53,232.52 412.98,232.52 412.98,233.40 413.43,233.40 413.43,233.49 413.88,233.49 413.88,233.94 414.33,233.94 414.33,234.59 414.78,234.59 414.78,234.32 415.23,234.32 415.23,234.61 415.68,234.61 415.68,234.43 416.13,234.43 416.13,234.48 416.58,234.48 416.58,234.54 417.03,234.54 417.03,234.94 417.48,234.94 417.48,234.91 417.93,234.91 417.93,235.09 418.38,235.09 418.38,234.90 418.83,234.90 418.83,234.91 419.28,234.91 419.28,234.94 419.73,234.94 419.73,234.98 420.18,234.98 420.18,235.01 420.63,235.01 420.63,235.04 421.08,235.04 421.08,234.91 421.53,234.91 421.53,234.94 421.98,234.94 421.98,234.40 422.43,234.40 422.43,234.50 422.88,234.50 422.88,234.23 423.33,234.23 423.33,234.09 423.78,234.09 423.78,233.70 424.23,233.70 424.23,233.61 424.68,233.61 424.68,233.45 425.13,233.45 425.13,233.14 425.58,233.14 425.58,233.12 426.03,233.12 426.03,232.93 426.48,232.93 426.48,233.14 426.93,233.14 426.93,232.77 427.38,232.77 427.38,232.85 427.83,232.85 427.83,232.52 428.28,232.52 428.28,232.58 428.73,232.58 428.73,232.52 429.18,232.52 429.18,231.71 429.63,231.71 429.63,232.22 430.08,232.22 430.08,231.41 430.53,231.41 430.53,229.10 430.98,229.10 430.98,228.84 431.43,228.84 431.43,228.06 431.88,228.06 431.88,226.62 432.33,226.62 432.33,223.22 432.78,223.22 432.78,217.16 433.23,217.16 433.23,222.26 433.68,222.26 433.68,214.60 434.13,214.60 434.13,204.98 434.58,204.98 434.58,198.40 435.03,198.40 435.03,201.67 435.48,201.67 435.48,189.85 435.93,189.85 435.93,172.76 436.38,172.76 436.38,149.77 436.83,149.77 436.83,151.60 437.28,151.60 437.28,149.53 437.73,149.53 437.73,148.58 438.18,148.58 438.18,198.53 438.63,198.53 438.63,176.65 439.08,176.65 439.08,150.16 439.53,150.16 439.53,152.07 439.98,152.07 439.98,151.62 440.43,151.62 440.43,152.09 440.88,152.09 440.85,235.40" fill="url(#st)"/></g>
<rect x="328.50" y="155.60" width="114.00" height="88.90" fill="none" stroke="#d6d6d6" stroke-width="1.1"/>
<rect x="328.30" y="235.40" width="114.40" height="9.30" fill="url(#gg)"/><rect x="328.30" y="235.40" width="114.40" height="9.30" fill="url(#gv)"/>
<text font-size="7.65" class="t" transform="translate(327.50,166.54) scale(0.77,1)" text-anchor="end">800</text>
<text font-size="7.65" class="t" transform="translate(327.50,181.84) scale(0.77,1)" text-anchor="end">600</text>
<text font-size="7.65" class="t" transform="translate(326.60,198.34) scale(0.77,1)" text-anchor="end">400</text>
<text font-size="7.65" class="t" transform="translate(326.20,218.74) scale(0.77,1)" text-anchor="end">200</text>
<text font-size="7.65" class="t" transform="translate(323.50,238.94) scale(0.77,1)" text-anchor="end">0</text>
<text font-size="7.65" class="t" transform="translate(328.90,251.60) scale(0.77,1)" text-anchor="middle">0</text>
<text font-size="7.65" class="t" transform="translate(350.33,251.60) scale(0.77,1)" text-anchor="middle">50</text>
<text font-size="7.65" class="t" transform="translate(371.76,251.60) scale(0.77,1)" text-anchor="middle">100</text>
<text font-size="7.65" class="t" transform="translate(393.19,251.60) scale(0.77,1)" text-anchor="middle">150</text>
<text font-size="7.65" class="t" transform="translate(414.61,251.60) scale(0.77,1)" text-anchor="middle">200</text>
<text font-size="7.65" class="t" transform="translate(436.04,251.60) scale(0.77,1)" text-anchor="middle">250</text>
<text font-size="7.65" class="ax" transform="translate(382.50,260.00) scale(0.886,1)" text-anchor="middle">Gray scale values</text>
<text font-size="7.44" class="ay" transform="translate(316.60,203.65) rotate(-90) scale(1.103,1)" text-anchor="middle">No. of pixels</text>
<text class="pl" x="378.80" y="280.30" text-anchor="middle">(h)</text>
</g>
<g>
<clipPath id="ci"><rect x="484.80" y="155.60" width="109.60" height="78.20"/></clipPath>
<g clip-path="url(#ci)"><polygon points="485.11,233.80 485.11,233.78 485.56,233.78 485.56,227.51 486.01,227.51 486.01,218.45 486.46,218.45 486.46,211.27 486.91,211.27 486.91,203.73 487.36,203.73 487.36,192.72 487.81,192.72 487.81,186.61 488.26,186.61 488.26,178.84 488.71,178.84 488.71,174.33 489.16,174.33 489.16,172.11 489.61,172.11 489.61,176.96 490.06,176.96 490.06,177.07 490.51,177.07 490.51,184.53 490.96,184.53 490.96,188.67 491.41,188.67 491.41,193.73 491.86,193.73 491.86,198.28 492.31,198.28 492.31,200.95 492.76,200.95 492.76,204.05 493.21,204.05 493.21,207.73 493.66,207.73 493.66,210.01 494.11,210.01 494.11,210.17 494.56,210.17 494.56,214.13 495.01,214.13 495.01,214.46 495.46,214.46 495.46,216.63 495.91,216.63 495.91,217.59 496.36,217.59 496.36,217.74 496.81,217.74 496.81,217.90 497.26,217.90 497.26,220.07 497.71,220.07 497.71,220.93 498.16,220.93 498.16,221.16 498.61,221.16 498.61,221.37 499.06,221.37 499.06,223.71 499.51,223.71 499.51,223.32 499.96,223.32 499.96,222.86 500.41,222.86 500.41,222.39 500.86,222.39 500.86,221.96 501.31,221.96 501.31,221.73 501.76,221.73 501.76,221.32 502.21,221.32 502.21,221.80 502.66,221.80 502.66,220.24 503.11,220.24 503.11,218.55 503.56,218.55 503.56,216.03 504.01,216.03 504.01,214.00 504.46,214.00 504.46,208.68 504.91,208.68 504.91,205.13 505.36,205.13 505.36,203.86 505.81,203.86 505.81,203.53 506.26,203.53 506.26,206.20 506.71,206.20 506.71,207.59 507.16,207.59 507.16,207.81 507.61,207.81 507.61,207.59 508.06,207.59 508.06,206.03 508.51,206.03 508.51,204.78 508.96,204.78 508.96,204.00 509.41,204.00 509.41,204.41 509.86,204.41 509.86,206.12 510.31,206.12 510.31,207.57 510.76,207.57 510.76,208.29 511.21,208.29 511.21,208.85 511.66,208.85 511.66,207.00 512.11,207.00 512.11,204.49 512.56,204.49 512.56,204.47 513.01,204.47 513.01,203.38 513.46,203.38 513.46,205.63 513.91,205.63 513.91,204.02 514.36,204.02 514.36,205.88 514.81,205.88 514.81,205.38 515.26,205.38 515.26,206.28 515.71,206.28 515.71,207.62 516.16,207.62 516.16,207.42 516.61,207.42 516.61,205.97 517.06,205.97 517.06,208.23 517.51,208.23 517.51,207.80 517.96,207.80 517.96,210.18 518.41,210.18 518.41,208.11 518.86,208.11 518.86,207.10 519.31,207.10 519.31,208.41 519.76,208.41 519.76,205.84 520.21,205.84 520.21,203.78 520.66,203.78 520.66,205.38 521.11,205.38 521.11,204.95 521.56,204.95 521.56,202.50 522.01,202.50 522.01,200.36 522.46,200.36 522.46,202.16 522.91,202.16 522.91,199.19 523.36,199.19 523.36,197.33 523.81,197.33 523.81,194.61 524.26,194.61 524.26,196.50 524.71,196.50 524.71,191.77 525.16,191.77 525.16,189.83 525.61,189.83 525.61,189.63 526.06,189.63 526.06,189.98 526.51,189.98 526.51,190.31 526.96,190.31 526.96,185.06 527.41,185.06 527.41,186.11 527.86,186.11 527.86,183.07 528.31,183.07 528.31,188.20 528.76,188.20 528.76,188.22 529.21,188.22 529.21,191.22 529.66,191.22 529.66,192.52 530.11,192.52 530.11,189.54 530.56,189.54 530.56,187.71 531.01,187.71 531.01,183.74 531.46,183.74 531.46,183.57 531.91,183.57 531.91,188.13 532.36,188.13 532.36,190.18 532.81,190.18 532.81,190.96 533.26,190.96 533.26,190.17 533.71,190.17 533.71,193.51 534.16,193.51 534.16,192.69 534.61,192.69 534.61,191.42 535.06,191.42 535.06,189.58 535.51,189.58 535.51,187.80 535.96,187.80 535.96,184.77 536.41,184.77 536.41,183.47 536.86,183.47 536.86,180.70 537.31,180.70 537.31,181.08 537.76,181.08 537.76,176.98 538.21,176.98 538.21,177.70 538.66,177.70 538.66,176.23 539.11,176.23 539.11,179.05 539.56,179.05 539.56,178.16 540.01,178.16 540.01,176.25 540.46,176.25 540.46,178.65 540.91,178.65 540.91,183.30 541.36,183.30 541.36,188.15 541.81,188.15 541.81,183.85 542.26,183.85 542.26,186.88 542.71,186.88 542.71,185.77 543.16,185.77 543.16,184.92 543.61,184.92 543.61,190.26 544.06,190.26 544.06,191.13 544.51,191.13 544.51,191.60 544.96,191.60 544.96,195.58 545.41,195.58 545.41,195.17 545.86,195.17 545.86,196.64 546.31,196.64 546.31,197.94 546.76,197.94 546.76,198.84 547.21,198.84 547.21,197.94 547.66,197.94 547.66,201.99 548.11,201.99 548.11,200.88 548.56,200.88 548.56,202.35 549.01,202.35 549.01,201.99 549.46,201.99 549.46,204.02 549.91,204.02 549.91,202.86 550.36,202.86 550.36,203.34 550.81,203.34 550.81,204.59 551.26,204.59 551.26,207.06 551.71,207.06 551.71,206.24 552.16,206.24 552.16,206.23 552.61,206.23 552.61,203.91 553.06,203.91 553.06,205.00 553.51,205.00 553.51,206.04 553.96,206.04 553.96,206.80 554.41,206.80 554.41,206.56 554.86,206.56 554.86,206.11 555.31,206.11 555.31,207.84 555.76,207.84 555.76,210.35 556.21,210.35 556.21,210.90 556.66,210.90 556.66,210.81 557.11,210.81 557.11,210.80 557.56,210.80 557.56,212.26 558.01,212.26 558.01,212.93 558.46,212.93 558.46,212.75 558.91,212.75 558.91,213.52 559.36,213.52 559.36,212.43 559.81,212.43 559.81,210.83 560.26,210.83 560.26,212.31 560.71,212.31 560.71,212.08 561.16,212.08 561.16,210.70 561.61,210.70 561.61,212.18 562.06,212.18 562.06,213.73 562.51,213.73 562.51,213.12 562.96,213.12 562.96,213.48 563.41,213.48 563.41,213.54 563.86,213.54 563.86,214.01 564.31,214.01 564.31,216.02 564.76,216.02 564.76,214.87 565.21,214.87 565.21,215.92 565.66,215.92 565.66,215.56 566.11,215.56 566.11,216.99 566.56,216.99 566.56,217.77 567.01,217.77 567.01,218.28 567.46,218.28 567.46,219.33 567.91,219.33 567.91,218.35 568.36,218.35 568.36,219.01 568.81,219.01 568.81,220.08 569.26,220.08 569.26,220.79 569.71,220.79 569.71,222.59 570.16,222.59 570.16,222.10 570.61,222.10 570.61,221.81 571.06,221.81 571.06,222.04 571.51,222.04 571.51,220.18 571.96,220.18 571.96,219.53 572.41,219.53 572.41,218.69 572.86,218.69 572.86,217.47 573.31,217.47 573.31,216.32 573.76,216.32 573.76,216.42 574.21,216.42 574.21,213.26 574.66,213.26 574.66,210.25 575.11,210.25 575.11,206.89 575.56,206.89 575.56,201.11 576.01,201.11 576.01,194.92 576.46,194.92 576.46,190.66 576.91,190.66 576.91,190.12 577.36,190.12 577.36,189.51 577.81,189.51 577.81,190.83 578.26,190.83 578.26,190.03 578.71,190.03 578.71,188.31 579.16,188.31 579.16,184.05 579.61,184.05 579.61,186.76 580.06,186.76 580.06,186.47 580.51,186.47 580.51,193.72 580.96,193.72 580.96,188.47 581.41,188.47 581.41,190.04 581.86,190.04 581.86,188.88 582.31,188.88 582.31,187.87 582.76,187.87 582.76,193.59 583.21,193.59 583.21,192.63 583.66,192.63 583.66,193.02 584.11,193.02 584.11,195.85 584.56,195.85 584.56,197.57 585.01,197.57 585.01,201.22 585.46,201.22 585.46,201.69 585.91,201.69 585.91,200.27 586.36,200.27 586.36,195.84 586.81,195.84 586.81,195.13 587.26,195.13 587.26,189.99 587.71,189.99 587.71,186.61 588.16,186.61 588.16,181.39 588.61,181.39 588.61,178.88 589.06,178.88 589.06,177.46 589.51,177.46 589.51,179.85 589.96,179.85 589.96,171.24 590.41,171.24 590.41,167.95 590.86,167.95 590.86,163.68 591.31,163.68 591.31,153.99 591.76,153.99 591.76,160.60 592.21,160.60 592.21,173.80 592.66,173.80 592.66,171.55 593.11,171.55 593.11,188.56 593.56,188.56 593.56,228.64 594.01,228.64 593.62,233.80" fill="#5fa5d9"/><polygon points="485.11,233.80 485.11,233.78 485.56,233.78 485.56,227.51 486.01,227.51 486.01,218.45 486.46,218.45 486.46,211.27 486.91,211.27 486.91,203.73 487.36,203.73 487.36,192.72 487.81,192.72 487.81,186.61 488.26,186.61 488.26,178.84 488.71,178.84 488.71,174.33 489.16,174.33 489.16,172.11 489.61,172.11 489.61,176.96 490.06,176.96 490.06,177.07 490.51,177.07 490.51,184.53 490.96,184.53 490.96,188.67 491.41,188.67 491.41,193.73 491.86,193.73 491.86,198.28 492.31,198.28 492.31,200.95 492.76,200.95 492.76,204.05 493.21,204.05 493.21,207.73 493.66,207.73 493.66,210.01 494.11,210.01 494.11,210.17 494.56,210.17 494.56,214.13 495.01,214.13 495.01,214.46 495.46,214.46 495.46,216.63 495.91,216.63 495.91,217.59 496.36,217.59 496.36,217.74 496.81,217.74 496.81,217.90 497.26,217.90 497.26,220.07 497.71,220.07 497.71,220.93 498.16,220.93 498.16,221.16 498.61,221.16 498.61,221.37 499.06,221.37 499.06,223.71 499.51,223.71 499.51,223.32 499.96,223.32 499.96,222.86 500.41,222.86 500.41,222.39 500.86,222.39 500.86,221.96 501.31,221.96 501.31,221.73 501.76,221.73 501.76,221.32 502.21,221.32 502.21,221.80 502.66,221.80 502.66,220.24 503.11,220.24 503.11,218.55 503.56,218.55 503.56,216.03 504.01,216.03 504.01,214.00 504.46,214.00 504.46,208.68 504.91,208.68 504.91,205.13 505.36,205.13 505.36,203.86 505.81,203.86 505.81,203.53 506.26,203.53 506.26,206.20 506.71,206.20 506.71,207.59 507.16,207.59 507.16,207.81 507.61,207.81 507.61,207.59 508.06,207.59 508.06,206.03 508.51,206.03 508.51,204.78 508.96,204.78 508.96,204.00 509.41,204.00 509.41,204.41 509.86,204.41 509.86,206.12 510.31,206.12 510.31,207.57 510.76,207.57 510.76,208.29 511.21,208.29 511.21,208.85 511.66,208.85 511.66,207.00 512.11,207.00 512.11,204.49 512.56,204.49 512.56,204.47 513.01,204.47 513.01,203.38 513.46,203.38 513.46,205.63 513.91,205.63 513.91,204.02 514.36,204.02 514.36,205.88 514.81,205.88 514.81,205.38 515.26,205.38 515.26,206.28 515.71,206.28 515.71,207.62 516.16,207.62 516.16,207.42 516.61,207.42 516.61,205.97 517.06,205.97 517.06,208.23 517.51,208.23 517.51,207.80 517.96,207.80 517.96,210.18 518.41,210.18 518.41,208.11 518.86,208.11 518.86,207.10 519.31,207.10 519.31,208.41 519.76,208.41 519.76,205.84 520.21,205.84 520.21,203.78 520.66,203.78 520.66,205.38 521.11,205.38 521.11,204.95 521.56,204.95 521.56,202.50 522.01,202.50 522.01,200.36 522.46,200.36 522.46,202.16 522.91,202.16 522.91,199.19 523.36,199.19 523.36,197.33 523.81,197.33 523.81,194.61 524.26,194.61 524.26,196.50 524.71,196.50 524.71,191.77 525.16,191.77 525.16,189.83 525.61,189.83 525.61,189.63 526.06,189.63 526.06,189.98 526.51,189.98 526.51,190.31 526.96,190.31 526.96,185.06 527.41,185.06 527.41,186.11 527.86,186.11 527.86,183.07 528.31,183.07 528.31,188.20 528.76,188.20 528.76,188.22 529.21,188.22 529.21,191.22 529.66,191.22 529.66,192.52 530.11,192.52 530.11,189.54 530.56,189.54 530.56,187.71 531.01,187.71 531.01,183.74 531.46,183.74 531.46,183.57 531.91,183.57 531.91,188.13 532.36,188.13 532.36,190.18 532.81,190.18 532.81,190.96 533.26,190.96 533.26,190.17 533.71,190.17 533.71,193.51 534.16,193.51 534.16,192.69 534.61,192.69 534.61,191.42 535.06,191.42 535.06,189.58 535.51,189.58 535.51,187.80 535.96,187.80 535.96,184.77 536.41,184.77 536.41,183.47 536.86,183.47 536.86,180.70 537.31,180.70 537.31,181.08 537.76,181.08 537.76,176.98 538.21,176.98 538.21,177.70 538.66,177.70 538.66,176.23 539.11,176.23 539.11,179.05 539.56,179.05 539.56,178.16 540.01,178.16 540.01,176.25 540.46,176.25 540.46,178.65 540.91,178.65 540.91,183.30 541.36,183.30 541.36,188.15 541.81,188.15 541.81,183.85 542.26,183.85 542.26,186.88 542.71,186.88 542.71,185.77 543.16,185.77 543.16,184.92 543.61,184.92 543.61,190.26 544.06,190.26 544.06,191.13 544.51,191.13 544.51,191.60 544.96,191.60 544.96,195.58 545.41,195.58 545.41,195.17 545.86,195.17 545.86,196.64 546.31,196.64 546.31,197.94 546.76,197.94 546.76,198.84 547.21,198.84 547.21,197.94 547.66,197.94 547.66,201.99 548.11,201.99 548.11,200.88 548.56,200.88 548.56,202.35 549.01,202.35 549.01,201.99 549.46,201.99 549.46,204.02 549.91,204.02 549.91,202.86 550.36,202.86 550.36,203.34 550.81,203.34 550.81,204.59 551.26,204.59 551.26,207.06 551.71,207.06 551.71,206.24 552.16,206.24 552.16,206.23 552.61,206.23 552.61,203.91 553.06,203.91 553.06,205.00 553.51,205.00 553.51,206.04 553.96,206.04 553.96,206.80 554.41,206.80 554.41,206.56 554.86,206.56 554.86,206.11 555.31,206.11 555.31,207.84 555.76,207.84 555.76,210.35 556.21,210.35 556.21,210.90 556.66,210.90 556.66,210.81 557.11,210.81 557.11,210.80 557.56,210.80 557.56,212.26 558.01,212.26 558.01,212.93 558.46,212.93 558.46,212.75 558.91,212.75 558.91,213.52 559.36,213.52 559.36,212.43 559.81,212.43 559.81,210.83 560.26,210.83 560.26,212.31 560.71,212.31 560.71,212.08 561.16,212.08 561.16,210.70 561.61,210.70 561.61,212.18 562.06,212.18 562.06,213.73 562.51,213.73 562.51,213.12 562.96,213.12 562.96,213.48 563.41,213.48 563.41,213.54 563.86,213.54 563.86,214.01 564.31,214.01 564.31,216.02 564.76,216.02 564.76,214.87 565.21,214.87 565.21,215.92 565.66,215.92 565.66,215.56 566.11,215.56 566.11,216.99 566.56,216.99 566.56,217.77 567.01,217.77 567.01,218.28 567.46,218.28 567.46,219.33 567.91,219.33 567.91,218.35 568.36,218.35 568.36,219.01 568.81,219.01 568.81,220.08 569.26,220.08 569.26,220.79 569.71,220.79 569.71,222.59 570.16,222.59 570.16,222.10 570.61,222.10 570.61,221.81 571.06,221.81 571.06,222.04 571.51,222.04 571.51,220.18 571.96,220.18 571.96,219.53 572.41,219.53 572.41,218.69 572.86,218.69 572.86,217.47 573.31,217.47 573.31,216.32 573.76,216.32 573.76,216.42 574.21,216.42 574.21,213.26 574.66,213.26 574.66,210.25 575.11,210.25 575.11,206.89 575.56,206.89 575.56,201.11 576.01,201.11 576.01,194.92 576.46,194.92 576.46,190.66 576.91,190.66 576.91,190.12 577.36,190.12 577.36,189.51 577.81,189.51 577.81,190.83 578.26,190.83 578.26,190.03 578.71,190.03 578.71,188.31 579.16,188.31 579.16,184.05 579.61,184.05 579.61,186.76 580.06,186.76 580.06,186.47 580.51,186.47 580.51,193.72 580.96,193.72 580.96,188.47 581.41,188.47 581.41,190.04 581.86,190.04 581.86,188.88 582.31,188.88 582.31,187.87 582.76,187.87 582.76,193.59 583.21,193.59 583.21,192.63 583.66,192.63 583.66,193.02 584.11,193.02 584.11,195.85 584.56,195.85 584.56,197.57 585.01,197.57 585.01,201.22 585.46,201.22 585.46,201.69 585.91,201.69 585.91,200.27 586.36,200.27 586.36,195.84 586.81,195.84 586.81,195.13 587.26,195.13 587.26,189.99 587.71,189.99 587.71,186.61 588.16,186.61 588.16,181.39 588.61,181.39 588.61,178.88 589.06,178.88 589.06,177.46 589.51,177.46 589.51,179.85 589.96,179.85 589.96,171.24 590.41,171.24 590.41,167.95 590.86,167.95 590.86,163.68 591.31,163.68 591.31,153.99 591.76,153.99 591.76,160.60 592.21,160.60 592.21,173.80 592.66,173.80 592.66,171.55 593.11,171.55 593.11,188.56 593.56,188.56 593.56,228.64 594.01,228.64 593.62,233.80" fill="url(#st)"/></g>
<rect x="484.80" y="155.60" width="109.60" height="86.60" fill="none" stroke="#d6d6d6" stroke-width="1.1"/>
<line x1="484.80" y1="155.60" x2="594.40" y2="155.60" stroke="#a8a8a8" stroke-width="0.8"/>
<rect x="484.60" y="233.80" width="110.00" height="8.60" fill="url(#gg)"/><rect x="484.60" y="233.80" width="110.00" height="8.60" fill="url(#gv)"/>
<text font-size="7.96" class="t" transform="translate(483.80,166.03) scale(0.77,1)" text-anchor="end">800</text>
<text font-size="7.96" class="t" transform="translate(483.80,180.93) scale(0.77,1)" text-anchor="end">600</text>
<text font-size="7.96" class="t" transform="translate(482.90,198.03) scale(0.77,1)" text-anchor="end">400</text>
<text font-size="7.96" class="t" transform="translate(482.50,217.93) scale(0.77,1)" text-anchor="end">200</text>
<text font-size="7.96" class="t" transform="translate(479.80,237.43) scale(0.77,1)" text-anchor="end">0</text>
<text font-size="7.96" class="t" transform="translate(485.20,250.00) scale(0.77,1)" text-anchor="middle">0</text>
<text font-size="7.96" class="t" transform="translate(505.80,250.00) scale(0.77,1)" text-anchor="middle">50</text>
<text font-size="7.96" class="t" transform="translate(526.40,250.00) scale(0.77,1)" text-anchor="middle">100</text>
<text font-size="7.96" class="t" transform="translate(547.00,250.00) scale(0.77,1)" text-anchor="middle">150</text>
<text font-size="7.96" class="t" transform="translate(567.61,250.00) scale(0.77,1)" text-anchor="middle">200</text>
<text font-size="7.96" class="t" transform="translate(588.21,250.00) scale(0.77,1)" text-anchor="middle">250</text>
<text font-size="7.96" class="ax" transform="translate(536.60,258.10) scale(0.886,1)" text-anchor="middle">Gray scale values</text>
<text font-size="7.74" class="ay" transform="translate(472.90,202.50) rotate(-90) scale(1.102,1)" text-anchor="middle">No. of pixels</text>
<text class="pl" x="533.80" y="280.30" text-anchor="middle">(i)</text>
</g>
<g>
<clipPath id="cj"><rect x="637.80" y="154.80" width="112.50" height="80.10"/></clipPath>
<g clip-path="url(#cj)"><polygon points="638.27,234.90 638.27,234.89 638.72,234.89 638.72,170.36 639.17,170.36 639.17,163.54 639.62,163.54 639.62,158.67 640.07,158.67 640.07,159.27 640.52,159.27 640.52,161.43 640.97,161.43 640.97,162.35 641.42,162.35 641.42,169.09 641.87,169.09 641.87,172.11 642.32,172.11 642.32,176.17 642.77,176.17 642.77,181.11 643.22,181.11 643.22,185.12 643.67,185.12 643.67,188.94 644.12,188.94 644.12,194.29 644.57,194.29 644.57,197.62 645.02,197.62 645.02,199.98 645.47,199.98 645.47,201.17 645.92,201.17 645.92,205.14 646.37,205.14 646.37,208.10 646.82,208.10 646.82,212.43 647.27,212.43 647.27,213.81 647.72,213.81 647.72,213.38 648.17,213.38 648.17,215.57 648.62,215.57 648.62,215.03 649.07,215.03 649.07,218.01 649.52,218.01 649.52,216.85 649.97,216.85 649.97,219.25 650.42,219.25 650.42,219.52 650.87,219.52 650.87,220.68 651.32,220.68 651.32,221.10 651.77,221.10 651.77,221.15 652.22,221.15 652.22,221.11 652.67,221.11 652.67,221.88 653.12,221.88 653.12,223.66 653.57,223.66 653.57,223.87 654.02,223.87 654.02,223.31 654.47,223.31 654.47,225.14 654.92,225.14 654.92,224.61 655.37,224.61 655.37,225.07 655.82,225.07 655.82,226.68 656.27,226.68 656.27,226.96 656.72,226.96 656.72,226.42 657.17,226.42 657.17,227.31 657.62,227.31 657.62,226.78 658.07,226.78 658.07,227.00 658.52,227.00 658.52,228.07 658.97,228.07 658.97,227.68 659.42,227.68 659.42,227.69 659.87,227.69 659.87,228.82 660.32,228.82 660.32,228.53 660.77,228.53 660.77,228.98 661.22,228.98 661.22,229.24 661.67,229.24 661.67,229.12 662.12,229.12 662.12,228.64 662.57,228.64 662.57,228.85 663.02,228.85 663.02,229.79 663.47,229.79 663.47,229.49 663.92,229.49 663.92,229.12 664.37,229.12 664.37,229.76 664.82,229.76 664.82,229.89 665.27,229.89 665.27,229.08 665.72,229.08 665.72,229.56 666.17,229.56 666.17,229.99 666.62,229.99 666.62,229.04 667.07,229.04 667.07,229.76 667.52,229.76 667.52,229.30 667.97,229.30 667.97,229.54 668.42,229.54 668.42,228.64 668.87,228.64 668.87,229.01 669.32,229.01 669.32,228.49 669.77,228.49 669.77,228.22 670.22,228.22 670.22,228.94 670.67,228.94 670.67,227.84 671.12,227.84 671.12,227.76 671.57,227.76 671.57,228.62 672.02,228.62 672.02,227.65 672.47,227.65 672.47,228.62 672.92,228.62 672.92,227.88 673.37,227.88 673.37,228.09 673.82,228.09 673.82,227.98 674.27,227.98 674.27,227.48 674.72,227.48 674.72,227.55 675.17,227.55 675.17,227.58 675.62,227.58 675.62,227.44 676.07,227.44 676.07,227.76 676.52,227.76 676.52,228.21 676.97,228.21 676.97,227.43 677.42,227.43 677.42,227.43 677.87,227.43 677.87,227.85 678.32,227.85 678.32,228.13 678.77,228.13 678.77,227.78 679.22,227.78 679.22,227.70 679.67,227.70 679.67,227.69 680.12,227.69 680.12,228.70 680.57,228.70 680.57,228.58 681.02,228.58 681.02,227.86 681.47,227.86 681.47,228.03 681.92,228.03 681.92,228.05 682.37,228.05 682.37,228.59 682.82,228.59 682.82,228.09 683.27,228.09 683.27,227.51 683.72,227.51 683.72,227.93 684.17,227.93 684.17,228.44 684.62,228.44 684.62,227.77 685.07,227.77 685.07,228.19 685.52,228.19 685.52,227.28 685.97,227.28 685.97,227.51 686.42,227.51 686.42,227.29 686.87,227.29 686.87,227.20 687.32,227.20 687.32,227.44 687.77,227.44 687.77,226.61 688.22,226.61 688.22,226.12 688.67,226.12 688.67,226.59 689.12,226.59 689.12,226.46 689.57,226.46 689.57,226.14 690.02,226.14 690.02,226.67 690.47,226.67 690.47,225.13 690.92,225.13 690.92,225.90 691.37,225.90 691.37,225.68 691.82,225.68 691.82,224.98 692.27,224.98 692.27,225.12 692.72,225.12 692.72,225.27 693.17,225.27 693.17,224.71 693.62,224.71 693.62,224.83 694.07,224.83 694.07,223.28 694.52,223.28 694.52,222.48 694.97,222.48 694.97,222.71 695.42,222.71 695.42,221.08 695.87,221.08 695.87,221.89 696.32,221.89 696.32,220.43 696.77,220.43 696.77,220.22 697.22,220.22 697.22,219.74 697.67,219.74 697.67,217.49 698.12,217.49 698.12,216.72 698.57,216.72 698.57,217.33 699.02,217.33 699.02,214.91 699.47,214.91 699.47,215.61 699.92,215.61 699.92,213.81 700.37,213.81 700.37,215.40 700.82,215.40 700.82,214.13 701.27,214.13 701.27,213.70 701.72,213.70 701.72,212.99 702.17,212.99 702.17,212.35 702.62,212.35 702.62,212.50 703.07,212.50 703.07,209.96 703.52,209.96 703.52,211.92 703.97,211.92 703.97,211.37 704.42,211.37 704.42,208.34 704.87,208.34 704.87,206.49 705.32,206.49 705.32,207.65 705.77,207.65 705.77,207.33 706.22,207.33 706.22,205.92 706.67,205.92 706.67,205.25 707.12,205.25 707.12,204.72 707.57,204.72 707.57,203.75 708.02,203.75 708.02,199.70 708.47,199.70 708.47,200.21 708.92,200.21 708.92,198.99 709.37,198.99 709.37,203.36 709.82,203.36 709.82,205.70 710.27,205.70 710.27,206.63 710.72,206.63 710.72,209.40 711.17,209.40 711.17,208.86 711.62,208.86 711.62,209.24 712.07,209.24 712.07,210.15 712.52,210.15 712.52,203.60 712.97,203.60 712.97,195.55 713.42,195.55 713.42,188.79 713.87,188.79 713.87,185.10 714.32,185.10 714.32,176.20 714.77,176.20 714.77,177.47 715.22,177.47 715.22,180.22 715.67,180.22 715.67,174.97 716.12,174.97 716.12,172.53 716.57,172.53 716.57,170.72 717.02,170.72 717.02,166.60 717.47,166.60 717.47,165.34 717.92,165.34 717.92,164.71 718.37,164.71 718.37,161.98 718.82,161.98 718.82,169.00 719.27,169.00 719.27,175.98 719.72,175.98 719.72,178.43 720.17,178.43 720.17,178.90 720.62,178.90 720.62,179.06 721.07,179.06 721.07,180.16 721.52,180.16 721.52,184.47 721.97,184.47 721.97,186.78 722.42,186.78 722.42,187.20 722.87,187.20 722.87,189.81 723.32,189.81 723.32,193.68 723.77,193.68 723.77,194.02 724.22,194.02 724.22,193.57 724.67,193.57 724.67,193.58 725.12,193.58 725.12,196.94 725.57,196.94 725.57,197.47 726.02,197.47 726.02,196.12 726.47,196.12 726.47,195.40 726.92,195.40 726.92,197.05 727.37,197.05 727.37,195.17 727.82,195.17 727.82,191.24 728.27,191.24 728.27,188.79 728.72,188.79 728.72,193.48 729.17,193.48 729.17,193.43 729.62,193.43 729.62,195.53 730.07,195.53 730.07,200.42 730.52,200.42 730.52,200.00 730.97,200.00 730.97,202.91 731.42,202.91 731.42,205.73 731.87,205.73 731.87,205.46 732.32,205.46 732.32,205.79 732.77,205.79 732.77,208.96 733.22,208.96 733.22,208.19 733.67,208.19 733.67,206.44 734.12,206.44 734.12,209.02 734.57,209.02 734.57,208.47 735.02,208.47 735.02,206.58 735.47,206.58 735.47,203.43 735.92,203.43 735.92,203.13 736.37,203.13 736.37,196.12 736.82,196.12 736.82,204.78 737.27,204.78 737.27,211.58 737.72,211.58 737.72,214.39 738.17,214.39 738.17,216.27 738.62,216.27 738.62,218.48 739.07,218.48 739.07,221.53 739.52,221.53 739.52,223.08 739.97,223.08 739.97,224.73 740.42,224.73 740.42,225.74 740.87,225.74 740.87,226.63 741.32,226.63 741.32,226.38 741.77,226.38 741.77,225.65 742.22,225.65 742.22,224.91 742.67,224.91 742.67,219.96 743.12,219.96 743.12,214.05 743.57,214.05 743.57,209.62 744.02,209.62 744.02,206.23 744.47,206.23 744.47,201.49 744.92,201.49 744.92,198.18 745.37,198.18 745.37,198.01 745.82,198.01 745.82,195.42 746.27,195.42 746.27,191.96 746.72,191.96 746.72,189.59 747.17,189.59 747.17,185.21 747.62,185.21 747.62,186.82 748.07,186.82 748.07,194.18 748.52,194.18 748.52,203.84 748.97,203.84 748.97,222.31 749.42,222.31 749.17,234.90" fill="#5fa5d9"/><polygon points="638.27,234.90 638.27,234.89 638.72,234.89 638.72,170.36 639.17,170.36 639.17,163.54 639.62,163.54 639.62,158.67 640.07,158.67 640.07,159.27 640.52,159.27 640.52,161.43 640.97,161.43 640.97,162.35 641.42,162.35 641.42,169.09 641.87,169.09 641.87,172.11 642.32,172.11 642.32,176.17 642.77,176.17 642.77,181.11 643.22,181.11 643.22,185.12 643.67,185.12 643.67,188.94 644.12,188.94 644.12,194.29 644.57,194.29 644.57,197.62 645.02,197.62 645.02,199.98 645.47,199.98 645.47,201.17 645.92,201.17 645.92,205.14 646.37,205.14 646.37,208.10 646.82,208.10 646.82,212.43 647.27,212.43 647.27,213.81 647.72,213.81 647.72,213.38 648.17,213.38 648.17,215.57 648.62,215.57 648.62,215.03 649.07,215.03 649.07,218.01 649.52,218.01 649.52,216.85 649.97,216.85 649.97,219.25 650.42,219.25 650.42,219.52 650.87,219.52 650.87,220.68 651.32,220.68 651.32,221.10 651.77,221.10 651.77,221.15 652.22,221.15 652.22,221.11 652.67,221.11 652.67,221.88 653.12,221.88 653.12,223.66 653.57,223.66 653.57,223.87 654.02,223.87 654.02,223.31 654.47,223.31 654.47,225.14 654.92,225.14 654.92,224.61 655.37,224.61 655.37,225.07 655.82,225.07 655.82,226.68 656.27,226.68 656.27,226.96 656.72,226.96 656.72,226.42 657.17,226.42 657.17,227.31 657.62,227.31 657.62,226.78 658.07,226.78 658.07,227.00 658.52,227.00 658.52,228.07 658.97,228.07 658.97,227.68 659.42,227.68 659.42,227.69 659.87,227.69 659.87,228.82 660.32,228.82 660.32,228.53 660.77,228.53 660.77,228.98 661.22,228.98 661.22,229.24 661.67,229.24 661.67,229.12 662.12,229.12 662.12,228.64 662.57,228.64 662.57,228.85 663.02,228.85 663.02,229.79 663.47,229.79 663.47,229.49 663.92,229.49 663.92,229.12 664.37,229.12 664.37,229.76 664.82,229.76 664.82,229.89 665.27,229.89 665.27,229.08 665.72,229.08 665.72,229.56 666.17,229.56 666.17,229.99 666.62,229.99 666.62,229.04 667.07,229.04 667.07,229.76 667.52,229.76 667.52,229.30 667.97,229.30 667.97,229.54 668.42,229.54 668.42,228.64 668.87,228.64 668.87,229.01 669.32,229.01 669.32,228.49 669.77,228.49 669.77,228.22 670.22,228.22 670.22,228.94 670.67,228.94 670.67,227.84 671.12,227.84 671.12,227.76 671.57,227.76 671.57,228.62 672.02,228.62 672.02,227.65 672.47,227.65 672.47,228.62 672.92,228.62 672.92,227.88 673.37,227.88 673.37,228.09 673.82,228.09 673.82,227.98 674.27,227.98 674.27,227.48 674.72,227.48 674.72,227.55 675.17,227.55 675.17,227.58 675.62,227.58 675.62,227.44 676.07,227.44 676.07,227.76 676.52,227.76 676.52,228.21 676.97,228.21 676.97,227.43 677.42,227.43 677.42,227.43 677.87,227.43 677.87,227.85 678.32,227.85 678.32,228.13 678.77,228.13 678.77,227.78 679.22,227.78 679.22,227.70 679.67,227.70 679.67,227.69 680.12,227.69 680.12,228.70 680.57,228.70 680.57,228.58 681.02,228.58 681.02,227.86 681.47,227.86 681.47,228.03 681.92,228.03 681.92,228.05 682.37,228.05 682.37,228.59 682.82,228.59 682.82,228.09 683.27,228.09 683.27,227.51 683.72,227.51 683.72,227.93 684.17,227.93 684.17,228.44 684.62,228.44 684.62,227.77 685.07,227.77 685.07,228.19 685.52,228.19 685.52,227.28 685.97,227.28 685.97,227.51 686.42,227.51 686.42,227.29 686.87,227.29 686.87,227.20 687.32,227.20 687.32,227.44 687.77,227.44 687.77,226.61 688.22,226.61 688.22,226.12 688.67,226.12 688.67,226.59 689.12,226.59 689.12,226.46 689.57,226.46 689.57,226.14 690.02,226.14 690.02,226.67 690.47,226.67 690.47,225.13 690.92,225.13 690.92,225.90 691.37,225.90 691.37,225.68 691.82,225.68 691.82,224.98 692.27,224.98 692.27,225.12 692.72,225.12 692.72,225.27 693.17,225.27 693.17,224.71 693.62,224.71 693.62,224.83 694.07,224.83 694.07,223.28 694.52,223.28 694.52,222.48 694.97,222.48 694.97,222.71 695.42,222.71 695.42,221.08 695.87,221.08 695.87,221.89 696.32,221.89 696.32,220.43 696.77,220.43 696.77,220.22 697.22,220.22 697.22,219.74 697.67,219.74 697.67,217.49 698.12,217.49 698.12,216.72 698.57,216.72 698.57,217.33 699.02,217.33 699.02,214.91 699.47,214.91 699.47,215.61 699.92,215.61 699.92,213.81 700.37,213.81 700.37,215.40 700.82,215.40 700.82,214.13 701.27,214.13 701.27,213.70 701.72,213.70 701.72,212.99 702.17,212.99 702.17,212.35 702.62,212.35 702.62,212.50 703.07,212.50 703.07,209.96 703.52,209.96 703.52,211.92 703.97,211.92 703.97,211.37 704.42,211.37 704.42,208.34 704.87,208.34 704.87,206.49 705.32,206.49 705.32,207.65 705.77,207.65 705.77,207.33 706.22,207.33 706.22,205.92 706.67,205.92 706.67,205.25 707.12,205.25 707.12,204.72 707.57,204.72 707.57,203.75 708.02,203.75 708.02,199.70 708.47,199.70 708.47,200.21 708.92,200.21 708.92,198.99 709.37,198.99 709.37,203.36 709.82,203.36 709.82,205.70 710.27,205.70 710.27,206.63 710.72,206.63 710.72,209.40 711.17,209.40 711.17,208.86 711.62,208.86 711.62,209.24 712.07,209.24 712.07,210.15 712.52,210.15 712.52,203.60 712.97,203.60 712.97,195.55 713.42,195.55 713.42,188.79 713.87,188.79 713.87,185.10 714.32,185.10 714.32,176.20 714.77,176.20 714.77,177.47 715.22,177.47 715.22,180.22 715.67,180.22 715.67,174.97 716.12,174.97 716.12,172.53 716.57,172.53 716.57,170.72 717.02,170.72 717.02,166.60 717.47,166.60 717.47,165.34 717.92,165.34 717.92,164.71 718.37,164.71 718.37,161.98 718.82,161.98 718.82,169.00 719.27,169.00 719.27,175.98 719.72,175.98 719.72,178.43 720.17,178.43 720.17,178.90 720.62,178.90 720.62,179.06 721.07,179.06 721.07,180.16 721.52,180.16 721.52,184.47 721.97,184.47 721.97,186.78 722.42,186.78 722.42,187.20 722.87,187.20 722.87,189.81 723.32,189.81 723.32,193.68 723.77,193.68 723.77,194.02 724.22,194.02 724.22,193.57 724.67,193.57 724.67,193.58 725.12,193.58 725.12,196.94 725.57,196.94 725.57,197.47 726.02,197.47 726.02,196.12 726.47,196.12 726.47,195.40 726.92,195.40 726.92,197.05 727.37,197.05 727.37,195.17 727.82,195.17 727.82,191.24 728.27,191.24 728.27,188.79 728.72,188.79 728.72,193.48 729.17,193.48 729.17,193.43 729.62,193.43 729.62,195.53 730.07,195.53 730.07,200.42 730.52,200.42 730.52,200.00 730.97,200.00 730.97,202.91 731.42,202.91 731.42,205.73 731.87,205.73 731.87,205.46 732.32,205.46 732.32,205.79 732.77,205.79 732.77,208.96 733.22,208.96 733.22,208.19 733.67,208.19 733.67,206.44 734.12,206.44 734.12,209.02 734.57,209.02 734.57,208.47 735.02,208.47 735.02,206.58 735.47,206.58 735.47,203.43 735.92,203.43 735.92,203.13 736.37,203.13 736.37,196.12 736.82,196.12 736.82,204.78 737.27,204.78 737.27,211.58 737.72,211.58 737.72,214.39 738.17,214.39 738.17,216.27 738.62,216.27 738.62,218.48 739.07,218.48 739.07,221.53 739.52,221.53 739.52,223.08 739.97,223.08 739.97,224.73 740.42,224.73 740.42,225.74 740.87,225.74 740.87,226.63 741.32,226.63 741.32,226.38 741.77,226.38 741.77,225.65 742.22,225.65 742.22,224.91 742.67,224.91 742.67,219.96 743.12,219.96 743.12,214.05 743.57,214.05 743.57,209.62 744.02,209.62 744.02,206.23 744.47,206.23 744.47,201.49 744.92,201.49 744.92,198.18 745.37,198.18 745.37,198.01 745.82,198.01 745.82,195.42 746.27,195.42 746.27,191.96 746.72,191.96 746.72,189.59 747.17,189.59 747.17,185.21 747.62,185.21 747.62,186.82 748.07,186.82 748.07,194.18 748.52,194.18 748.52,203.84 748.97,203.84 748.97,222.31 749.42,222.31 749.17,234.90" fill="url(#st)"/></g>
<rect x="637.80" y="154.80" width="112.50" height="88.50" fill="none" stroke="#d6d6d6" stroke-width="1.1"/>
<rect x="637.60" y="234.90" width="112.90" height="8.60" fill="url(#gg)"/><rect x="637.60" y="234.90" width="112.90" height="8.60" fill="url(#gv)"/>
<text font-size="7.85" class="t" transform="translate(636.80,165.40) scale(0.77,1)" text-anchor="end">800</text>
<text font-size="7.85" class="t" transform="translate(636.80,180.90) scale(0.77,1)" text-anchor="end">600</text>
<text font-size="7.85" class="t" transform="translate(635.90,197.80) scale(0.77,1)" text-anchor="end">400</text>
<text font-size="7.85" class="t" transform="translate(635.50,218.00) scale(0.77,1)" text-anchor="end">200</text>
<text font-size="7.85" class="t" transform="translate(632.80,238.80) scale(0.77,1)" text-anchor="end">0</text>
<text font-size="7.85" class="t" transform="translate(638.20,250.90) scale(0.77,1)" text-anchor="middle">0</text>
<text font-size="7.85" class="t" transform="translate(659.35,250.90) scale(0.77,1)" text-anchor="middle">50</text>
<text font-size="7.85" class="t" transform="translate(680.49,250.90) scale(0.77,1)" text-anchor="middle">100</text>
<text font-size="7.85" class="t" transform="translate(701.64,250.90) scale(0.77,1)" text-anchor="middle">150</text>
<text font-size="7.85" class="t" transform="translate(722.79,250.90) scale(0.77,1)" text-anchor="middle">200</text>
<text font-size="7.85" class="t" transform="translate(743.93,250.90) scale(0.77,1)" text-anchor="middle">250</text>
<text font-size="7.85" class="ax" transform="translate(691.05,259.90) scale(0.886,1)" text-anchor="middle">Gray scale values</text>
<text font-size="7.63" class="ay" transform="translate(625.90,202.65) rotate(-90) scale(1.103,1)" text-anchor="middle">No. of pixels</text>
<text class="pl" x="688.70" y="280.30" text-anchor="middle">(j)</text>
</g>
<g>
<clipPath id="ck"><rect x="20.40" y="303.00" width="113.30" height="81.10"/></clipPath>
<g clip-path="url(#ck)"><polygon points="20.40,384.10 20.40,343.24 20.85,343.24 20.85,344.37 21.30,344.37 21.30,343.28 21.75,343.28 21.75,342.31 22.20,342.31 22.20,342.49 22.65,342.49 22.65,341.99 23.10,341.99 23.10,343.25 23.55,343.25 23.55,343.31 24.00,343.31 24.00,343.41 24.45,343.41 24.45,343.91 24.90,343.91 24.90,343.44 25.35,343.44 25.35,341.93 25.80,341.93 25.80,341.36 26.25,341.36 26.25,342.84 26.70,342.84 26.70,343.88 27.15,343.88 27.15,343.35 27.60,343.35 27.60,345.27 28.05,345.27 28.05,342.02 28.50,342.02 28.50,341.50 28.95,341.50 28.95,341.08 29.40,341.08 29.40,341.34 29.85,341.34 29.85,341.04 30.30,341.04 30.30,342.51 30.75,342.51 30.75,342.60 31.20,342.60 31.20,342.65 31.65,342.65 31.65,341.66 32.10,341.66 32.10,342.70 32.55,342.70 32.55,341.74 33.00,341.74 33.00,342.09 33.45,342.09 33.45,342.94 33.90,342.94 33.90,342.70 34.35,342.70 34.35,341.99 34.80,341.99 34.80,343.52 35.25,343.52 35.25,342.81 35.70,342.81 35.70,342.42 36.15,342.42 36.15,341.75 36.60,341.75 36.60,342.54 37.05,342.54 37.05,343.54 37.50,343.54 37.50,342.83 37.95,342.83 37.95,344.77 38.40,344.77 38.40,343.35 38.85,343.35 38.85,343.27 39.30,343.27 39.30,342.38 39.75,342.38 39.75,342.00 40.20,342.00 40.20,343.45 40.65,343.45 40.65,345.03 41.10,345.03 41.10,344.63 41.55,344.63 41.55,342.05 42.00,342.05 42.00,342.66 42.45,342.66 42.45,342.03 42.90,342.03 42.90,340.75 43.35,340.75 43.35,341.90 43.80,341.90 43.80,342.42 44.25,342.42 44.25,342.90 44.70,342.90 44.70,343.52 45.15,343.52 45.15,343.55 45.60,343.55 45.60,341.19 46.05,341.19 46.05,341.41 46.50,341.41 46.50,341.07 46.95,341.07 46.95,343.53 47.40,343.53 47.40,344.17 47.85,344.17 47.85,344.86 48.30,344.86 48.30,342.91 48.75,342.91 48.75,342.54 49.20,342.54 49.20,340.96 49.65,340.96 49.65,341.12 50.10,341.12 50.10,341.47 50.55,341.47 50.55,343.12 51.00,343.12 51.00,344.13 51.45,344.13 51.45,342.68 51.90,342.68 51.90,342.11 52.35,342.11 52.35,341.37 52.80,341.37 52.80,341.41 53.25,341.41 53.25,342.10 53.70,342.10 53.70,342.96 54.15,342.96 54.15,342.69 54.60,342.69 54.60,343.98 55.05,343.98 55.05,343.77 55.50,343.77 55.50,343.09 55.95,343.09 55.95,342.94 56.40,342.94 56.40,342.13 56.85,342.13 56.85,342.47 57.30,342.47 57.30,342.87 57.75,342.87 57.75,343.21 58.20,343.21 58.20,343.69 58.65,343.69 58.65,343.98 59.10,343.98 59.10,343.64 59.55,343.64 59.55,342.33 60.00,342.33 60.00,343.76 60.45,343.76 60.45,343.57 60.90,343.57 60.90,342.62 61.35,342.62 61.35,343.42 61.80,343.42 61.80,342.84 62.25,342.84 62.25,342.82 62.70,342.82 62.70,341.79 63.15,341.79 63.15,341.30 63.60,341.30 63.60,342.95 64.05,342.95 64.05,342.26 64.50,342.26 64.50,343.24 64.95,343.24 64.95,344.00 65.40,344.00 65.40,343.63 65.85,343.63 65.85,342.04 66.30,342.04 66.30,341.77 66.75,341.77 66.75,341.63 67.20,341.63 67.20,342.04 67.65,342.04 67.65,343.58 68.10,343.58 68.10,343.61 68.55,343.61 68.55,342.71 69.00,342.71 69.00,342.01 69.45,342.01 69.45,342.05 69.90,342.05 69.90,339.92 70.35,339.92 70.35,341.98 70.80,341.98 70.80,342.18 71.25,342.18 71.25,342.19 71.70,342.19 71.70,343.80 72.15,343.80 72.15,343.12 72.60,343.12 72.60,343.75 73.05,343.75 73.05,342.82 73.50,342.82 73.50,342.96 73.95,342.96 73.95,343.53 74.40,343.53 74.40,343.21 74.85,343.21 74.85,343.44 75.30,343.44 75.30,341.79 75.75,341.79 75.75,341.93 76.20,341.93 76.20,341.58 76.65,341.58 76.65,341.74 77.10,341.74 77.10,341.75 77.55,341.75 77.55,342.95 78.00,342.95 78.00,343.29 78.45,343.29 78.45,341.72 78.90,341.72 78.90,342.79 79.35,342.79 79.35,342.94 79.80,342.94 79.80,342.52 80.25,342.52 80.25,341.22 80.70,341.22 80.70,343.36 81.15,343.36 81.15,343.59 81.60,343.59 81.60,343.49 82.05,343.49 82.05,343.43 82.50,343.43 82.50,342.07 82.95,342.07 82.95,341.85 83.40,341.85 83.40,341.38 83.85,341.38 83.85,341.17 84.30,341.17 84.30,341.74 84.75,341.74 84.75,342.49 85.20,342.49 85.20,342.51 85.65,342.51 85.65,342.40 86.10,342.40 86.10,341.74 86.55,341.74 86.55,342.01 87.00,342.01 87.00,341.06 87.45,341.06 87.45,342.74 87.90,342.74 87.90,341.80 88.35,341.80 88.35,342.24 88.80,342.24 88.80,343.08 89.25,343.08 89.25,342.02 89.70,342.02 89.70,341.38 90.15,341.38 90.15,341.15 90.60,341.15 90.60,340.58 91.05,340.58 91.05,341.36 91.50,341.36 91.50,341.85 91.95,341.85 91.95,343.87 92.40,343.87 92.40,343.74 92.85,343.74 92.85,341.34 93.30,341.34 93.30,341.00 93.75,341.00 93.75,340.04 94.20,340.04 94.20,340.74 94.65,340.74 94.65,341.98 95.10,341.98 95.10,342.62 95.55,342.62 95.55,342.72 96.00,342.72 96.00,343.46 96.45,343.46 96.45,342.15 96.90,342.15 96.90,341.21 97.35,341.21 97.35,341.48 97.80,341.48 97.80,342.28 98.25,342.28 98.25,342.64 98.70,342.64 98.70,344.45 99.15,344.45 99.15,343.16 99.60,343.16 99.60,341.39 100.05,341.39 100.05,341.51 100.50,341.51 100.50,341.63 100.95,341.63 100.95,342.23 101.40,342.23 101.40,342.15 101.85,342.15 101.85,342.23 102.30,342.23 102.30,341.85 102.75,341.85 102.75,344.13 103.20,344.13 103.20,342.60 103.65,342.60 103.65,342.36 104.10,342.36 104.10,341.90 104.55,341.90 104.55,342.57 105.00,342.57 105.00,343.04 105.45,343.04 105.45,343.41 105.90,343.41 105.90,343.45 106.35,343.45 106.35,343.00 106.80,343.00 106.80,343.07 107.25,343.07 107.25,341.96 107.70,341.96 107.70,342.62 108.15,342.62 108.15,341.93 108.60,341.93 108.60,342.86 109.05,342.86 109.05,344.75 109.50,344.75 109.50,343.49 109.95,343.49 109.95,341.95 110.40,341.95 110.40,341.80 110.85,341.80 110.85,341.97 111.30,341.97 111.30,342.21 111.75,342.21 111.75,342.58 112.20,342.58 112.20,342.93 112.65,342.93 112.65,342.18 113.10,342.18 113.10,341.98 113.55,341.98 113.55,342.42 114.00,342.42 114.00,342.72 114.45,342.72 114.45,343.02 114.90,343.02 114.90,342.76 115.35,342.76 115.35,341.87 115.80,341.87 115.80,343.53 116.25,343.53 116.25,344.36 116.70,344.36 116.70,342.19 117.15,342.19 117.15,341.41 117.60,341.41 117.60,340.74 118.05,340.74 118.05,341.78 118.50,341.78 118.50,342.50 118.95,342.50 118.95,343.42 119.40,343.42 119.40,343.37 119.85,343.37 119.85,342.98 120.30,342.98 120.30,341.65 120.75,341.65 120.75,342.88 121.20,342.88 121.20,342.80 121.65,342.80 121.65,343.00 122.10,343.00 122.10,342.36 122.55,342.36 122.55,344.26 123.00,344.26 123.00,343.75 123.45,343.75 123.45,343.52 123.90,343.52 123.90,343.10 124.35,343.10 124.35,341.65 124.80,341.65 124.80,342.88 125.25,342.88 125.25,343.45 125.70,343.45 125.70,343.06 126.15,343.06 126.15,343.60 126.60,343.60 126.60,342.16 127.05,342.16 127.05,342.34 127.50,342.34 127.50,341.51 127.95,341.51 127.95,341.82 128.40,341.82 128.40,342.68 128.85,342.68 128.85,343.56 129.30,343.56 129.30,342.49 129.75,342.49 129.75,343.11 130.20,343.11 130.20,342.30 130.65,342.30 130.65,342.59 131.10,342.59 131.10,342.89 131.55,342.89 131.55,342.70 132.00,342.70 132.00,341.65 132.45,341.65 132.45,342.55 132.90,342.55 132.90,343.32 133.35,343.32 133.35,342.20 133.70,342.20 133.70,384.10" fill="#74b1de"/><polygon points="20.40,384.10 20.40,343.24 20.85,343.24 20.85,344.37 21.30,344.37 21.30,343.28 21.75,343.28 21.75,342.31 22.20,342.31 22.20,342.49 22.65,342.49 22.65,341.99 23.10,341.99 23.10,343.25 23.55,343.25 23.55,343.31 24.00,343.31 24.00,343.41 24.45,343.41 24.45,343.91 24.90,343.91 24.90,343.44 25.35,343.44 25.35,341.93 25.80,341.93 25.80,341.36 26.25,341.36 26.25,342.84 26.70,342.84 26.70,343.88 27.15,343.88 27.15,343.35 27.60,343.35 27.60,345.27 28.05,345.27 28.05,342.02 28.50,342.02 28.50,341.50 28.95,341.50 28.95,341.08 29.40,341.08 29.40,341.34 29.85,341.34 29.85,341.04 30.30,341.04 30.30,342.51 30.75,342.51 30.75,342.60 31.20,342.60 31.20,342.65 31.65,342.65 31.65,341.66 32.10,341.66 32.10,342.70 32.55,342.70 32.55,341.74 33.00,341.74 33.00,342.09 33.45,342.09 33.45,342.94 33.90,342.94 33.90,342.70 34.35,342.70 34.35,341.99 34.80,341.99 34.80,343.52 35.25,343.52 35.25,342.81 35.70,342.81 35.70,342.42 36.15,342.42 36.15,341.75 36.60,341.75 36.60,342.54 37.05,342.54 37.05,343.54 37.50,343.54 37.50,342.83 37.95,342.83 37.95,344.77 38.40,344.77 38.40,343.35 38.85,343.35 38.85,343.27 39.30,343.27 39.30,342.38 39.75,342.38 39.75,342.00 40.20,342.00 40.20,343.45 40.65,343.45 40.65,345.03 41.10,345.03 41.10,344.63 41.55,344.63 41.55,342.05 42.00,342.05 42.00,342.66 42.45,342.66 42.45,342.03 42.90,342.03 42.90,340.75 43.35,340.75 43.35,341.90 43.80,341.90 43.80,342.42 44.25,342.42 44.25,342.90 44.70,342.90 44.70,343.52 45.15,343.52 45.15,343.55 45.60,343.55 45.60,341.19 46.05,341.19 46.05,341.41 46.50,341.41 46.50,341.07 46.95,341.07 46.95,343.53 47.40,343.53 47.40,344.17 47.85,344.17 47.85,344.86 48.30,344.86 48.30,342.91 48.75,342.91 48.75,342.54 49.20,342.54 49.20,340.96 49.65,340.96 49.65,341.12 50.10,341.12 50.10,341.47 50.55,341.47 50.55,343.12 51.00,343.12 51.00,344.13 51.45,344.13 51.45,342.68 51.90,342.68 51.90,342.11 52.35,342.11 52.35,341.37 52.80,341.37 52.80,341.41 53.25,341.41 53.25,342.10 53.70,342.10 53.70,342.96 54.15,342.96 54.15,342.69 54.60,342.69 54.60,343.98 55.05,343.98 55.05,343.77 55.50,343.77 55.50,343.09 55.95,343.09 55.95,342.94 56.40,342.94 56.40,342.13 56.85,342.13 56.85,342.47 57.30,342.47 57.30,342.87 57.75,342.87 57.75,343.21 58.20,343.21 58.20,343.69 58.65,343.69 58.65,343.98 59.10,343.98 59.10,343.64 59.55,343.64 59.55,342.33 60.00,342.33 60.00,343.76 60.45,343.76 60.45,343.57 60.90,343.57 60.90,342.62 61.35,342.62 61.35,343.42 61.80,343.42 61.80,342.84 62.25,342.84 62.25,342.82 62.70,342.82 62.70,341.79 63.15,341.79 63.15,341.30 63.60,341.30 63.60,342.95 64.05,342.95 64.05,342.26 64.50,342.26 64.50,343.24 64.95,343.24 64.95,344.00 65.40,344.00 65.40,343.63 65.85,343.63 65.85,342.04 66.30,342.04 66.30,341.77 66.75,341.77 66.75,341.63 67.20,341.63 67.20,342.04 67.65,342.04 67.65,343.58 68.10,343.58 68.10,343.61 68.55,343.61 68.55,342.71 69.00,342.71 69.00,342.01 69.45,342.01 69.45,342.05 69.90,342.05 69.90,339.92 70.35,339.92 70.35,341.98 70.80,341.98 70.80,342.18 71.25,342.18 71.25,342.19 71.70,342.19 71.70,343.80 72.15,343.80 72.15,343.12 72.60,343.12 72.60,343.75 73.05,343.75 73.05,342.82 73.50,342.82 73.50,342.96 73.95,342.96 73.95,343.53 74.40,343.53 74.40,343.21 74.85,343.21 74.85,343.44 75.30,343.44 75.30,341.79 75.75,341.79 75.75,341.93 76.20,341.93 76.20,341.58 76.65,341.58 76.65,341.74 77.10,341.74 77.10,341.75 77.55,341.75 77.55,342.95 78.00,342.95 78.00,343.29 78.45,343.29 78.45,341.72 78.90,341.72 78.90,342.79 79.35,342.79 79.35,342.94 79.80,342.94 79.80,342.52 80.25,342.52 80.25,341.22 80.70,341.22 80.70,343.36 81.15,343.36 81.15,343.59 81.60,343.59 81.60,343.49 82.05,343.49 82.05,343.43 82.50,343.43 82.50,342.07 82.95,342.07 82.95,341.85 83.40,341.85 83.40,341.38 83.85,341.38 83.85,341.17 84.30,341.17 84.30,341.74 84.75,341.74 84.75,342.49 85.20,342.49 85.20,342.51 85.65,342.51 85.65,342.40 86.10,342.40 86.10,341.74 86.55,341.74 86.55,342.01 87.00,342.01 87.00,341.06 87.45,341.06 87.45,342.74 87.90,342.74 87.90,341.80 88.35,341.80 88.35,342.24 88.80,342.24 88.80,343.08 89.25,343.08 89.25,342.02 89.70,342.02 89.70,341.38 90.15,341.38 90.15,341.15 90.60,341.15 90.60,340.58 91.05,340.58 91.05,341.36 91.50,341.36 91.50,341.85 91.95,341.85 91.95,343.87 92.40,343.87 92.40,343.74 92.85,343.74 92.85,341.34 93.30,341.34 93.30,341.00 93.75,341.00 93.75,340.04 94.20,340.04 94.20,340.74 94.65,340.74 94.65,341.98 95.10,341.98 95.10,342.62 95.55,342.62 95.55,342.72 96.00,342.72 96.00,343.46 96.45,343.46 96.45,342.15 96.90,342.15 96.90,341.21 97.35,341.21 97.35,341.48 97.80,341.48 97.80,342.28 98.25,342.28 98.25,342.64 98.70,342.64 98.70,344.45 99.15,344.45 99.15,343.16 99.60,343.16 99.60,341.39 100.05,341.39 100.05,341.51 100.50,341.51 100.50,341.63 100.95,341.63 100.95,342.23 101.40,342.23 101.40,342.15 101.85,342.15 101.85,342.23 102.30,342.23 102.30,341.85 102.75,341.85 102.75,344.13 103.20,344.13 103.20,342.60 103.65,342.60 103.65,342.36 104.10,342.36 104.10,341.90 104.55,341.90 104.55,342.57 105.00,342.57 105.00,343.04 105.45,343.04 105.45,343.41 105.90,343.41 105.90,343.45 106.35,343.45 106.35,343.00 106.80,343.00 106.80,343.07 107.25,343.07 107.25,341.96 107.70,341.96 107.70,342.62 108.15,342.62 108.15,341.93 108.60,341.93 108.60,342.86 109.05,342.86 109.05,344.75 109.50,344.75 109.50,343.49 109.95,343.49 109.95,341.95 110.40,341.95 110.40,341.80 110.85,341.80 110.85,341.97 111.30,341.97 111.30,342.21 111.75,342.21 111.75,342.58 112.20,342.58 112.20,342.93 112.65,342.93 112.65,342.18 113.10,342.18 113.10,341.98 113.55,341.98 113.55,342.42 114.00,342.42 114.00,342.72 114.45,342.72 114.45,343.02 114.90,343.02 114.90,342.76 115.35,342.76 115.35,341.87 115.80,341.87 115.80,343.53 116.25,343.53 116.25,344.36 116.70,344.36 116.70,342.19 117.15,342.19 117.15,341.41 117.60,341.41 117.60,340.74 118.05,340.74 118.05,341.78 118.50,341.78 118.50,342.50 118.95,342.50 118.95,343.42 119.40,343.42 119.40,343.37 119.85,343.37 119.85,342.98 120.30,342.98 120.30,341.65 120.75,341.65 120.75,342.88 121.20,342.88 121.20,342.80 121.65,342.80 121.65,343.00 122.10,343.00 122.10,342.36 122.55,342.36 122.55,344.26 123.00,344.26 123.00,343.75 123.45,343.75 123.45,343.52 123.90,343.52 123.90,343.10 124.35,343.10 124.35,341.65 124.80,341.65 124.80,342.88 125.25,342.88 125.25,343.45 125.70,343.45 125.70,343.06 126.15,343.06 126.15,343.60 126.60,343.60 126.60,342.16 127.05,342.16 127.05,342.34 127.50,342.34 127.50,341.51 127.95,341.51 127.95,341.82 128.40,341.82 128.40,342.68 128.85,342.68 128.85,343.56 129.30,343.56 129.30,342.49 129.75,342.49 129.75,343.11 130.20,343.11 130.20,342.30 130.65,342.30 130.65,342.59 131.10,342.59 131.10,342.89 131.55,342.89 131.55,342.70 132.00,342.70 132.00,341.65 132.45,341.65 132.45,342.55 132.90,342.55 132.90,343.32 133.35,343.32 133.35,342.20 133.70,342.20 133.70,384.10" fill="url(#st2)"/></g>
<rect x="20.40" y="303.00" width="113.30" height="90.30" fill="none" stroke="#c6c6c6" stroke-width="0.8"/>
<rect x="20.20" y="384.10" width="113.70" height="9.40" fill="url(#gg)"/><rect x="20.20" y="384.10" width="113.70" height="9.40" fill="url(#gv)"/>
<text font-size="6.94" class="t" transform="translate(19.40,312.92) scale(0.77,1)" text-anchor="end">800</text>
<text font-size="6.94" class="t" transform="translate(19.40,328.72) scale(0.77,1)" text-anchor="end">600</text>
<text font-size="6.94" class="t" transform="translate(18.50,345.82) scale(0.77,1)" text-anchor="end">400</text>
<text font-size="6.94" class="t" transform="translate(18.10,366.72) scale(0.77,1)" text-anchor="end">200</text>
<text font-size="6.94" class="t" transform="translate(15.40,387.72) scale(0.77,1)" text-anchor="end">0</text>
<text font-size="6.94" class="t" transform="translate(20.80,400.80) scale(0.77,1)" text-anchor="middle">0</text>
<text font-size="6.94" class="t" transform="translate(42.10,400.80) scale(0.77,1)" text-anchor="middle">50</text>
<text font-size="6.94" class="t" transform="translate(63.39,400.80) scale(0.77,1)" text-anchor="middle">100</text>
<text font-size="6.94" class="t" transform="translate(84.69,400.80) scale(0.77,1)" text-anchor="middle">150</text>
<text font-size="6.94" class="t" transform="translate(105.99,400.80) scale(0.77,1)" text-anchor="middle">200</text>
<text font-size="6.94" class="t" transform="translate(127.28,400.80) scale(0.77,1)" text-anchor="middle">250</text>
<text font-size="6.39" class="ax" transform="translate(74.05,409.10) scale(0.963,1)" text-anchor="middle">Gray scale values</text>
<text font-size="6.21" class="ay" transform="translate(8.00,351.75) rotate(-90) scale(1.178,1)" text-anchor="middle">No. of pixels</text>
<text class="pl" x="69.60" y="432.00" text-anchor="middle">(k)</text>
</g>
<g>
<clipPath id="cl"><rect x="172.90" y="304.30" width="115.50" height="82.50"/></clipPath>
<g clip-path="url(#cl)"><polygon points="172.90,386.80 172.90,347.63 173.35,347.63 173.35,349.53 173.80,349.53 173.80,349.94 174.25,349.94 174.25,349.11 174.70,349.11 174.70,347.41 175.15,347.41 175.15,348.44 175.60,348.44 175.60,348.35 176.05,348.35 176.05,348.97 176.50,348.97 176.50,347.56 176.95,347.56 176.95,349.41 177.40,349.41 177.40,349.03 177.85,349.03 177.85,348.37 178.30,348.37 178.30,347.61 178.75,347.61 178.75,348.93 179.20,348.93 179.20,348.88 179.65,348.88 179.65,348.05 180.10,348.05 180.10,349.06 180.55,349.06 180.55,349.42 181.00,349.42 181.00,349.16 181.45,349.16 181.45,348.59 181.90,348.59 181.90,348.01 182.35,348.01 182.35,347.67 182.80,347.67 182.80,348.77 183.25,348.77 183.25,348.82 183.70,348.82 183.70,349.73 184.15,349.73 184.15,349.89 184.60,349.89 184.60,348.93 185.05,348.93 185.05,348.31 185.50,348.31 185.50,347.63 185.95,347.63 185.95,347.84 186.40,347.84 186.40,349.09 186.85,349.09 186.85,348.80 187.30,348.80 187.30,349.08 187.75,349.08 187.75,348.67 188.20,348.67 188.20,346.83 188.65,346.83 188.65,347.49 189.10,347.49 189.10,346.67 189.55,346.67 189.55,347.98 190.00,347.98 190.00,347.40 190.45,347.40 190.45,348.20 190.90,348.20 190.90,350.13 191.35,350.13 191.35,349.30 191.80,349.30 191.80,349.01 192.25,349.01 192.25,347.13 192.70,347.13 192.70,347.56 193.15,347.56 193.15,348.79 193.60,348.79 193.60,349.40 194.05,349.40 194.05,349.87 194.50,349.87 194.50,347.73 194.95,347.73 194.95,347.70 195.40,347.70 195.40,347.01 195.85,347.01 195.85,346.23 196.30,346.23 196.30,347.22 196.75,347.22 196.75,347.83 197.20,347.83 197.20,349.43 197.65,349.43 197.65,349.35 198.10,349.35 198.10,348.10 198.55,348.10 198.55,347.65 199.00,347.65 199.00,347.71 199.45,347.71 199.45,347.04 199.90,347.04 199.90,347.67 200.35,347.67 200.35,348.81 200.80,348.81 200.80,350.11 201.25,350.11 201.25,348.32 201.70,348.32 201.70,348.33 202.15,348.33 202.15,348.19 202.60,348.19 202.60,347.59 203.05,347.59 203.05,348.05 203.50,348.05 203.50,347.25 203.95,347.25 203.95,347.39 204.40,347.39 204.40,348.11 204.85,348.11 204.85,348.70 205.30,348.70 205.30,346.83 205.75,346.83 205.75,346.43 206.20,346.43 206.20,345.94 206.65,345.94 206.65,347.98 207.10,347.98 207.10,347.65 207.55,347.65 207.55,349.67 208.00,349.67 208.00,349.41 208.45,349.41 208.45,348.65 208.90,348.65 208.90,347.92 209.35,347.92 209.35,346.93 209.80,346.93 209.80,347.30 210.25,347.30 210.25,347.35 210.70,347.35 210.70,349.24 211.15,349.24 211.15,349.93 211.60,349.93 211.60,349.34 212.05,349.34 212.05,348.87 212.50,348.87 212.50,347.84 212.95,347.84 212.95,348.21 213.40,348.21 213.40,348.87 213.85,348.87 213.85,349.20 214.30,349.20 214.30,350.11 214.75,350.11 214.75,348.71 215.20,348.71 215.20,346.92 215.65,346.92 215.65,346.52 216.10,346.52 216.10,346.80 216.55,346.80 216.55,347.41 217.00,347.41 217.00,348.43 217.45,348.43 217.45,347.79 217.90,347.79 217.90,348.05 218.35,348.05 218.35,349.28 218.80,349.28 218.80,348.63 219.25,348.63 219.25,347.77 219.70,347.77 219.70,348.06 220.15,348.06 220.15,348.99 220.60,348.99 220.60,349.05 221.05,349.05 221.05,349.34 221.50,349.34 221.50,350.20 221.95,350.20 221.95,348.61 222.40,348.61 222.40,348.45 222.85,348.45 222.85,348.39 223.30,348.39 223.30,348.31 223.75,348.31 223.75,348.54 224.20,348.54 224.20,349.72 224.65,349.72 224.65,350.23 225.10,350.23 225.10,347.90 225.55,347.90 225.55,348.10 226.00,348.10 226.00,346.50 226.45,346.50 226.45,346.27 226.90,346.27 226.90,346.90 227.35,346.90 227.35,348.57 227.80,348.57 227.80,348.27 228.25,348.27 228.25,349.68 228.70,349.68 228.70,348.50 229.15,348.50 229.15,347.73 229.60,347.73 229.60,346.69 230.05,346.69 230.05,347.12 230.50,347.12 230.50,347.59 230.95,347.59 230.95,348.80 231.40,348.80 231.40,348.55 231.85,348.55 231.85,348.41 232.30,348.41 232.30,348.19 232.75,348.19 232.75,348.13 233.20,348.13 233.20,346.60 233.65,346.60 233.65,347.38 234.10,347.38 234.10,348.08 234.55,348.08 234.55,349.14 235.00,349.14 235.00,349.41 235.45,349.41 235.45,348.06 235.90,348.06 235.90,347.82 236.35,347.82 236.35,345.65 236.80,345.65 236.80,346.14 237.25,346.14 237.25,347.43 237.70,347.43 237.70,348.19 238.15,348.19 238.15,349.35 238.60,349.35 238.60,347.91 239.05,347.91 239.05,347.61 239.50,347.61 239.50,348.72 239.95,348.72 239.95,348.64 240.40,348.64 240.40,348.18 240.85,348.18 240.85,348.96 241.30,348.96 241.30,349.30 241.75,349.30 241.75,348.01 242.20,348.01 242.20,348.84 242.65,348.84 242.65,346.92 243.10,346.92 243.10,347.92 243.55,347.92 243.55,346.48 244.00,346.48 244.00,348.32 244.45,348.32 244.45,348.63 244.90,348.63 244.90,348.38 245.35,348.38 245.35,348.76 245.80,348.76 245.80,348.09 246.25,348.09 246.25,347.46 246.70,347.46 246.70,347.78 247.15,347.78 247.15,348.14 247.60,348.14 247.60,348.33 248.05,348.33 248.05,347.96 248.50,347.96 248.50,348.17 248.95,348.17 248.95,348.51 249.40,348.51 249.40,347.77 249.85,347.77 249.85,348.19 250.30,348.19 250.30,346.58 250.75,346.58 250.75,346.99 251.20,346.99 251.20,348.52 251.65,348.52 251.65,348.11 252.10,348.11 252.10,349.20 252.55,349.20 252.55,349.03 253.00,349.03 253.00,347.40 253.45,347.40 253.45,347.31 253.90,347.31 253.90,348.21 254.35,348.21 254.35,348.66 254.80,348.66 254.80,349.28 255.25,349.28 255.25,349.07 255.70,349.07 255.70,349.82 256.15,349.82 256.15,348.95 256.60,348.95 256.60,346.87 257.05,346.87 257.05,347.09 257.50,347.09 257.50,348.31 257.95,348.31 257.95,348.66 258.40,348.66 258.40,348.95 258.85,348.95 258.85,350.27 259.30,350.27 259.30,348.27 259.75,348.27 259.75,347.82 260.20,347.82 260.20,346.18 260.65,346.18 260.65,347.25 261.10,347.25 261.10,348.30 261.55,348.30 261.55,349.61 262.00,349.61 262.00,350.75 262.45,350.75 262.45,348.99 262.90,348.99 262.90,348.63 263.35,348.63 263.35,347.84 263.80,347.84 263.80,347.24 264.25,347.24 264.25,347.97 264.70,347.97 264.70,348.83 265.15,348.83 265.15,349.09 265.60,349.09 265.60,348.72 266.05,348.72 266.05,348.96 266.50,348.96 266.50,348.32 266.95,348.32 266.95,347.50 267.40,347.50 267.40,347.71 267.85,347.71 267.85,348.89 268.30,348.89 268.30,348.96 268.75,348.96 268.75,348.79 269.20,348.79 269.20,348.73 269.65,348.73 269.65,347.42 270.10,347.42 270.10,347.58 270.55,347.58 270.55,346.23 271.00,346.23 271.00,347.46 271.45,347.46 271.45,347.88 271.90,347.88 271.90,348.08 272.35,348.08 272.35,347.39 272.80,347.39 272.80,348.32 273.25,348.32 273.25,347.52 273.70,347.52 273.70,348.61 274.15,348.61 274.15,348.98 274.60,348.98 274.60,348.74 275.05,348.74 275.05,347.97 275.50,347.97 275.50,348.27 275.95,348.27 275.95,348.56 276.40,348.56 276.40,347.98 276.85,347.98 276.85,348.53 277.30,348.53 277.30,347.38 277.75,347.38 277.75,347.78 278.20,347.78 278.20,348.60 278.65,348.60 278.65,348.31 279.10,348.31 279.10,348.54 279.55,348.54 279.55,348.70 280.00,348.70 280.00,348.53 280.45,348.53 280.45,347.95 280.90,347.95 280.90,347.96 281.35,347.96 281.35,348.16 281.80,348.16 281.80,348.88 282.25,348.88 282.25,348.43 282.70,348.43 282.70,349.93 283.15,349.93 283.15,348.09 283.60,348.09 283.60,348.15 284.05,348.15 284.05,346.84 284.50,346.84 284.50,347.97 284.95,347.97 284.95,348.98 285.40,348.98 285.40,348.24 285.85,348.24 285.85,350.08 286.30,350.08 286.30,349.11 286.75,349.11 286.75,347.22 287.20,347.22 287.20,347.22 287.65,347.22 287.65,345.66 288.10,345.66 288.10,348.22 288.40,348.22 288.40,386.80" fill="#74b1de"/><polygon points="172.90,386.80 172.90,347.63 173.35,347.63 173.35,349.53 173.80,349.53 173.80,349.94 174.25,349.94 174.25,349.11 174.70,349.11 174.70,347.41 175.15,347.41 175.15,348.44 175.60,348.44 175.60,348.35 176.05,348.35 176.05,348.97 176.50,348.97 176.50,347.56 176.95,347.56 176.95,349.41 177.40,349.41 177.40,349.03 177.85,349.03 177.85,348.37 178.30,348.37 178.30,347.61 178.75,347.61 178.75,348.93 179.20,348.93 179.20,348.88 179.65,348.88 179.65,348.05 180.10,348.05 180.10,349.06 180.55,349.06 180.55,349.42 181.00,349.42 181.00,349.16 181.45,349.16 181.45,348.59 181.90,348.59 181.90,348.01 182.35,348.01 182.35,347.67 182.80,347.67 182.80,348.77 183.25,348.77 183.25,348.82 183.70,348.82 183.70,349.73 184.15,349.73 184.15,349.89 184.60,349.89 184.60,348.93 185.05,348.93 185.05,348.31 185.50,348.31 185.50,347.63 185.95,347.63 185.95,347.84 186.40,347.84 186.40,349.09 186.85,349.09 186.85,348.80 187.30,348.80 187.30,349.08 187.75,349.08 187.75,348.67 188.20,348.67 188.20,346.83 188.65,346.83 188.65,347.49 189.10,347.49 189.10,346.67 189.55,346.67 189.55,347.98 190.00,347.98 190.00,347.40 190.45,347.40 190.45,348.20 190.90,348.20 190.90,350.13 191.35,350.13 191.35,349.30 191.80,349.30 191.80,349.01 192.25,349.01 192.25,347.13 192.70,347.13 192.70,347.56 193.15,347.56 193.15,348.79 193.60,348.79 193.60,349.40 194.05,349.40 194.05,349.87 194.50,349.87 194.50,347.73 194.95,347.73 194.95,347.70 195.40,347.70 195.40,347.01 195.85,347.01 195.85,346.23 196.30,346.23 196.30,347.22 196.75,347.22 196.75,347.83 197.20,347.83 197.20,349.43 197.65,349.43 197.65,349.35 198.10,349.35 198.10,348.10 198.55,348.10 198.55,347.65 199.00,347.65 199.00,347.71 199.45,347.71 199.45,347.04 199.90,347.04 199.90,347.67 200.35,347.67 200.35,348.81 200.80,348.81 200.80,350.11 201.25,350.11 201.25,348.32 201.70,348.32 201.70,348.33 202.15,348.33 202.15,348.19 202.60,348.19 202.60,347.59 203.05,347.59 203.05,348.05 203.50,348.05 203.50,347.25 203.95,347.25 203.95,347.39 204.40,347.39 204.40,348.11 204.85,348.11 204.85,348.70 205.30,348.70 205.30,346.83 205.75,346.83 205.75,346.43 206.20,346.43 206.20,345.94 206.65,345.94 206.65,347.98 207.10,347.98 207.10,347.65 207.55,347.65 207.55,349.67 208.00,349.67 208.00,349.41 208.45,349.41 208.45,348.65 208.90,348.65 208.90,347.92 209.35,347.92 209.35,346.93 209.80,346.93 209.80,347.30 210.25,347.30 210.25,347.35 210.70,347.35 210.70,349.24 211.15,349.24 211.15,349.93 211.60,349.93 211.60,349.34 212.05,349.34 212.05,348.87 212.50,348.87 212.50,347.84 212.95,347.84 212.95,348.21 213.40,348.21 213.40,348.87 213.85,348.87 213.85,349.20 214.30,349.20 214.30,350.11 214.75,350.11 214.75,348.71 215.20,348.71 215.20,346.92 215.65,346.92 215.65,346.52 216.10,346.52 216.10,346.80 216.55,346.80 216.55,347.41 217.00,347.41 217.00,348.43 217.45,348.43 217.45,347.79 217.90,347.79 217.90,348.05 218.35,348.05 218.35,349.28 218.80,349.28 218.80,348.63 219.25,348.63 219.25,347.77 219.70,347.77 219.70,348.06 220.15,348.06 220.15,348.99 220.60,348.99 220.60,349.05 221.05,349.05 221.05,349.34 221.50,349.34 221.50,350.20 221.95,350.20 221.95,348.61 222.40,348.61 222.40,348.45 222.85,348.45 222.85,348.39 223.30,348.39 223.30,348.31 223.75,348.31 223.75,348.54 224.20,348.54 224.20,349.72 224.65,349.72 224.65,350.23 225.10,350.23 225.10,347.90 225.55,347.90 225.55,348.10 226.00,348.10 226.00,346.50 226.45,346.50 226.45,346.27 226.90,346.27 226.90,346.90 227.35,346.90 227.35,348.57 227.80,348.57 227.80,348.27 228.25,348.27 228.25,349.68 228.70,349.68 228.70,348.50 229.15,348.50 229.15,347.73 229.60,347.73 229.60,346.69 230.05,346.69 230.05,347.12 230.50,347.12 230.50,347.59 230.95,347.59 230.95,348.80 231.40,348.80 231.40,348.55 231.85,348.55 231.85,348.41 232.30,348.41 232.30,348.19 232.75,348.19 232.75,348.13 233.20,348.13 233.20,346.60 233.65,346.60 233.65,347.38 234.10,347.38 234.10,348.08 234.55,348.08 234.55,349.14 235.00,349.14 235.00,349.41 235.45,349.41 235.45,348.06 235.90,348.06 235.90,347.82 236.35,347.82 236.35,345.65 236.80,345.65 236.80,346.14 237.25,346.14 237.25,347.43 237.70,347.43 237.70,348.19 238.15,348.19 238.15,349.35 238.60,349.35 238.60,347.91 239.05,347.91 239.05,347.61 239.50,347.61 239.50,348.72 239.95,348.72 239.95,348.64 240.40,348.64 240.40,348.18 240.85,348.18 240.85,348.96 241.30,348.96 241.30,349.30 241.75,349.30 241.75,348.01 242.20,348.01 242.20,348.84 242.65,348.84 242.65,346.92 243.10,346.92 243.10,347.92 243.55,347.92 243.55,346.48 244.00,346.48 244.00,348.32 244.45,348.32 244.45,348.63 244.90,348.63 244.90,348.38 245.35,348.38 245.35,348.76 245.80,348.76 245.80,348.09 246.25,348.09 246.25,347.46 246.70,347.46 246.70,347.78 247.15,347.78 247.15,348.14 247.60,348.14 247.60,348.33 248.05,348.33 248.05,347.96 248.50,347.96 248.50,348.17 248.95,348.17 248.95,348.51 249.40,348.51 249.40,347.77 249.85,347.77 249.85,348.19 250.30,348.19 250.30,346.58 250.75,346.58 250.75,346.99 251.20,346.99 251.20,348.52 251.65,348.52 251.65,348.11 252.10,348.11 252.10,349.20 252.55,349.20 252.55,349.03 253.00,349.03 253.00,347.40 253.45,347.40 253.45,347.31 253.90,347.31 253.90,348.21 254.35,348.21 254.35,348.66 254.80,348.66 254.80,349.28 255.25,349.28 255.25,349.07 255.70,349.07 255.70,349.82 256.15,349.82 256.15,348.95 256.60,348.95 256.60,346.87 257.05,346.87 257.05,347.09 257.50,347.09 257.50,348.31 257.95,348.31 257.95,348.66 258.40,348.66 258.40,348.95 258.85,348.95 258.85,350.27 259.30,350.27 259.30,348.27 259.75,348.27 259.75,347.82 260.20,347.82 260.20,346.18 260.65,346.18 260.65,347.25 261.10,347.25 261.10,348.30 261.55,348.30 261.55,349.61 262.00,349.61 262.00,350.75 262.45,350.75 262.45,348.99 262.90,348.99 262.90,348.63 263.35,348.63 263.35,347.84 263.80,347.84 263.80,347.24 264.25,347.24 264.25,347.97 264.70,347.97 264.70,348.83 265.15,348.83 265.15,349.09 265.60,349.09 265.60,348.72 266.05,348.72 266.05,348.96 266.50,348.96 266.50,348.32 266.95,348.32 266.95,347.50 267.40,347.50 267.40,347.71 267.85,347.71 267.85,348.89 268.30,348.89 268.30,348.96 268.75,348.96 268.75,348.79 269.20,348.79 269.20,348.73 269.65,348.73 269.65,347.42 270.10,347.42 270.10,347.58 270.55,347.58 270.55,346.23 271.00,346.23 271.00,347.46 271.45,347.46 271.45,347.88 271.90,347.88 271.90,348.08 272.35,348.08 272.35,347.39 272.80,347.39 272.80,348.32 273.25,348.32 273.25,347.52 273.70,347.52 273.70,348.61 274.15,348.61 274.15,348.98 274.60,348.98 274.60,348.74 275.05,348.74 275.05,347.97 275.50,347.97 275.50,348.27 275.95,348.27 275.95,348.56 276.40,348.56 276.40,347.98 276.85,347.98 276.85,348.53 277.30,348.53 277.30,347.38 277.75,347.38 277.75,347.78 278.20,347.78 278.20,348.60 278.65,348.60 278.65,348.31 279.10,348.31 279.10,348.54 279.55,348.54 279.55,348.70 280.00,348.70 280.00,348.53 280.45,348.53 280.45,347.95 280.90,347.95 280.90,347.96 281.35,347.96 281.35,348.16 281.80,348.16 281.80,348.88 282.25,348.88 282.25,348.43 282.70,348.43 282.70,349.93 283.15,349.93 283.15,348.09 283.60,348.09 283.60,348.15 284.05,348.15 284.05,346.84 284.50,346.84 284.50,347.97 284.95,347.97 284.95,348.98 285.40,348.98 285.40,348.24 285.85,348.24 285.85,350.08 286.30,350.08 286.30,349.11 286.75,349.11 286.75,347.22 287.20,347.22 287.20,347.22 287.65,347.22 287.65,345.66 288.10,345.66 288.10,348.22 288.40,348.22 288.40,386.80" fill="url(#st2)"/></g>
<rect x="172.90" y="304.30" width="115.50" height="91.60" fill="none" stroke="#c6c6c6" stroke-width="0.8"/>
<rect x="172.70" y="386.80" width="115.90" height="9.30" fill="url(#gg)"/><rect x="172.70" y="386.80" width="115.90" height="9.30" fill="url(#gv)"/>
<text font-size="7.11" class="t" transform="translate(171.90,315.07) scale(0.77,1)" text-anchor="end">800</text>
<text font-size="7.11" class="t" transform="translate(171.90,330.87) scale(0.77,1)" text-anchor="end">600</text>
<text font-size="7.11" class="t" transform="translate(171.00,348.37) scale(0.77,1)" text-anchor="end">400</text>
<text font-size="7.11" class="t" transform="translate(170.60,368.97) scale(0.77,1)" text-anchor="end">200</text>
<text font-size="7.11" class="t" transform="translate(167.90,389.97) scale(0.77,1)" text-anchor="end">0</text>
<text font-size="7.11" class="t" transform="translate(173.30,403.20) scale(0.77,1)" text-anchor="middle">0</text>
<text font-size="7.11" class="t" transform="translate(195.01,403.20) scale(0.77,1)" text-anchor="middle">50</text>
<text font-size="7.11" class="t" transform="translate(216.72,403.20) scale(0.77,1)" text-anchor="middle">100</text>
<text font-size="7.11" class="t" transform="translate(238.43,403.20) scale(0.77,1)" text-anchor="middle">150</text>
<text font-size="7.11" class="t" transform="translate(260.14,403.20) scale(0.77,1)" text-anchor="middle">200</text>
<text font-size="7.11" class="t" transform="translate(281.85,403.20) scale(0.77,1)" text-anchor="middle">250</text>
<text font-size="6.54" class="ax" transform="translate(227.65,412.40) scale(0.963,1)" text-anchor="middle">Gray scale values</text>
<text font-size="6.36" class="ay" transform="translate(160.50,353.70) rotate(-90) scale(1.198,1)" text-anchor="middle">No. of pixels</text>
<text class="pl" x="224.60" y="432.00" text-anchor="middle">(l)</text>
</g>
<g>
<clipPath id="cm"><rect x="328.60" y="304.30" width="113.50" height="82.50"/></clipPath>
<g clip-path="url(#cm)"><polygon points="328.60,386.80 328.60,344.13 329.05,344.13 329.05,345.11 329.50,345.11 329.50,346.13 329.95,346.13 329.95,345.68 330.40,345.68 330.40,345.20 330.85,345.20 330.85,345.61 331.30,345.61 331.30,345.66 331.75,345.66 331.75,344.04 332.20,344.04 332.20,344.82 332.65,344.82 332.65,344.71 333.10,344.71 333.10,345.19 333.55,345.19 333.55,346.38 334.00,346.38 334.00,344.46 334.45,344.46 334.45,344.12 334.90,344.12 334.90,343.78 335.35,343.78 335.35,343.66 335.80,343.66 335.80,345.27 336.25,345.27 336.25,345.35 336.70,345.35 336.70,344.99 337.15,344.99 337.15,346.09 337.60,346.09 337.60,346.00 338.05,346.00 338.05,344.26 338.50,344.26 338.50,343.75 338.95,343.75 338.95,344.59 339.40,344.59 339.40,345.57 339.85,345.57 339.85,346.67 340.30,346.67 340.30,346.73 340.75,346.73 340.75,345.47 341.20,345.47 341.20,345.63 341.65,345.63 341.65,345.30 342.10,345.30 342.10,345.49 342.55,345.49 342.55,344.70 343.00,344.70 343.00,345.15 343.45,345.15 343.45,346.49 343.90,346.49 343.90,345.11 344.35,345.11 344.35,345.84 344.80,345.84 344.80,344.76 345.25,344.76 345.25,343.88 345.70,343.88 345.70,345.37 346.15,345.37 346.15,344.12 346.60,344.12 346.60,344.93 347.05,344.93 347.05,345.91 347.50,345.91 347.50,346.63 347.95,346.63 347.95,345.43 348.40,345.43 348.40,344.93 348.85,344.93 348.85,345.57 349.30,345.57 349.30,345.44 349.75,345.44 349.75,345.92 350.20,345.92 350.20,346.08 350.65,346.08 350.65,346.54 351.10,346.54 351.10,344.18 351.55,344.18 351.55,342.98 352.00,342.98 352.00,342.46 352.45,342.46 352.45,342.98 352.90,342.98 352.90,344.04 353.35,344.04 353.35,344.95 353.80,344.95 353.80,346.15 354.25,346.15 354.25,344.37 354.70,344.37 354.70,344.87 355.15,344.87 355.15,344.47 355.60,344.47 355.60,342.35 356.05,342.35 356.05,343.44 356.50,343.44 356.50,344.62 356.95,344.62 356.95,345.14 357.40,345.14 357.40,344.71 357.85,344.71 357.85,345.39 358.30,345.39 358.30,344.34 358.75,344.34 358.75,343.09 359.20,343.09 359.20,343.48 359.65,343.48 359.65,345.74 360.10,345.74 360.10,346.60 360.55,346.60 360.55,346.39 361.00,346.39 361.00,345.68 361.45,345.68 361.45,343.77 361.90,343.77 361.90,344.08 362.35,344.08 362.35,343.87 362.80,343.87 362.80,343.83 363.25,343.83 363.25,345.20 363.70,345.20 363.70,344.49 364.15,344.49 364.15,344.50 364.60,344.50 364.60,343.87 365.05,343.87 365.05,344.16 365.50,344.16 365.50,343.57 365.95,343.57 365.95,343.45 366.40,343.45 366.40,343.63 366.85,343.63 366.85,345.10 367.30,345.10 367.30,345.23 367.75,345.23 367.75,347.38 368.20,347.38 368.20,345.47 368.65,345.47 368.65,345.17 369.10,345.17 369.10,343.93 369.55,343.93 369.55,344.11 370.00,344.11 370.00,346.48 370.45,346.48 370.45,347.02 370.90,347.02 370.90,347.32 371.35,347.32 371.35,345.97 371.80,345.97 371.80,345.35 372.25,345.35 372.25,344.96 372.70,344.96 372.70,345.92 373.15,345.92 373.15,345.08 373.60,345.08 373.60,346.07 374.05,346.07 374.05,345.55 374.50,345.55 374.50,345.63 374.95,345.63 374.95,344.20 375.40,344.20 375.40,343.75 375.85,343.75 375.85,344.64 376.30,344.64 376.30,344.28 376.75,344.28 376.75,344.45 377.20,344.45 377.20,344.31 377.65,344.31 377.65,344.05 378.10,344.05 378.10,343.99 378.55,343.99 378.55,343.44 379.00,343.44 379.00,343.39 379.45,343.39 379.45,343.03 379.90,343.03 379.90,344.55 380.35,344.55 380.35,344.63 380.80,344.63 380.80,344.02 381.25,344.02 381.25,345.04 381.70,345.04 381.70,345.03 382.15,345.03 382.15,344.40 382.60,344.40 382.60,343.94 383.05,343.94 383.05,345.06 383.50,345.06 383.50,345.55 383.95,345.55 383.95,346.66 384.40,346.66 384.40,346.26 384.85,346.26 384.85,345.16 385.30,345.16 385.30,345.63 385.75,345.63 385.75,345.75 386.20,345.75 386.20,344.95 386.65,344.95 386.65,345.73 387.10,345.73 387.10,346.07 387.55,346.07 387.55,345.64 388.00,345.64 388.00,345.28 388.45,345.28 388.45,346.22 388.90,346.22 388.90,345.17 389.35,345.17 389.35,343.53 389.80,343.53 389.80,344.34 390.25,344.34 390.25,345.01 390.70,345.01 390.70,346.55 391.15,346.55 391.15,346.51 391.60,346.51 391.60,344.47 392.05,344.47 392.05,345.26 392.50,345.26 392.50,344.77 392.95,344.77 392.95,344.22 393.40,344.22 393.40,344.68 393.85,344.68 393.85,343.88 394.30,343.88 394.30,344.93 394.75,344.93 394.75,345.44 395.20,345.44 395.20,344.83 395.65,344.83 395.65,344.64 396.10,344.64 396.10,344.15 396.55,344.15 396.55,343.54 397.00,343.54 397.00,344.77 397.45,344.77 397.45,345.40 397.90,345.40 397.90,346.55 398.35,346.55 398.35,346.54 398.80,346.54 398.80,344.71 399.25,344.71 399.25,345.69 399.70,345.69 399.70,343.80 400.15,343.80 400.15,344.11 400.60,344.11 400.60,345.30 401.05,345.30 401.05,345.38 401.50,345.38 401.50,346.04 401.95,346.04 401.95,346.86 402.40,346.86 402.40,344.89 402.85,344.89 402.85,344.43 403.30,344.43 403.30,343.69 403.75,343.69 403.75,344.93 404.20,344.93 404.20,345.07 404.65,345.07 404.65,346.45 405.10,346.45 405.10,347.12 405.55,347.12 405.55,344.80 406.00,344.80 406.00,344.84 406.45,344.84 406.45,343.56 406.90,343.56 406.90,344.75 407.35,344.75 407.35,345.96 407.80,345.96 407.80,345.58 408.25,345.58 408.25,347.43 408.70,347.43 408.70,345.25 409.15,345.25 409.15,345.96 409.60,345.96 409.60,344.61 410.05,344.61 410.05,344.97 410.50,344.97 410.50,344.27 410.95,344.27 410.95,344.81 411.40,344.81 411.40,345.88 411.85,345.88 411.85,346.48 412.30,346.48 412.30,344.77 412.75,344.77 412.75,344.14 413.20,344.14 413.20,343.79 413.65,343.79 413.65,343.60 414.10,343.60 414.10,345.51 414.55,345.51 414.55,345.30 415.00,345.30 415.00,346.71 415.45,346.71 415.45,345.37 415.90,345.37 415.90,345.10 416.35,345.10 416.35,345.05 416.80,345.05 416.80,343.42 417.25,343.42 417.25,344.08 417.70,344.08 417.70,344.24 418.15,344.24 418.15,345.28 418.60,345.28 418.60,344.89 419.05,344.89 419.05,344.44 419.50,344.44 419.50,345.03 419.95,345.03 419.95,344.90 420.40,344.90 420.40,344.41 420.85,344.41 420.85,344.89 421.30,344.89 421.30,343.78 421.75,343.78 421.75,345.60 422.20,345.60 422.20,344.89 422.65,344.89 422.65,344.70 423.10,344.70 423.10,344.41 423.55,344.41 423.55,342.20 424.00,342.20 424.00,344.38 424.45,344.38 424.45,345.11 424.90,345.11 424.90,345.54 425.35,345.54 425.35,345.50 425.80,345.50 425.80,344.42 426.25,344.42 426.25,344.69 426.70,344.69 426.70,344.48 427.15,344.48 427.15,344.62 427.60,344.62 427.60,343.52 428.05,343.52 428.05,344.99 428.50,344.99 428.50,345.67 428.95,345.67 428.95,344.93 429.40,344.93 429.40,344.38 429.85,344.38 429.85,345.30 430.30,345.30 430.30,343.37 430.75,343.37 430.75,344.84 431.20,344.84 431.20,344.66 431.65,344.66 431.65,344.91 432.10,344.91 432.10,345.57 432.55,345.57 432.55,344.54 433.00,344.54 433.00,344.49 433.45,344.49 433.45,342.96 433.90,342.96 433.90,343.32 434.35,343.32 434.35,344.03 434.80,344.03 434.80,344.54 435.25,344.54 435.25,344.86 435.70,344.86 435.70,344.98 436.15,344.98 436.15,345.09 436.60,345.09 436.60,344.66 437.05,344.66 437.05,343.52 437.50,343.52 437.50,344.41 437.95,344.41 437.95,344.85 438.40,344.85 438.40,345.25 438.85,345.25 438.85,345.49 439.30,345.49 439.30,345.08 439.75,345.08 439.75,344.50 440.20,344.50 440.20,343.60 440.65,343.60 440.65,343.47 441.10,343.47 441.10,343.79 441.55,343.79 441.55,345.19 442.00,345.19 442.00,344.76 442.10,344.76 442.10,386.80" fill="#74b1de"/><polygon points="328.60,386.80 328.60,344.13 329.05,344.13 329.05,345.11 329.50,345.11 329.50,346.13 329.95,346.13 329.95,345.68 330.40,345.68 330.40,345.20 330.85,345.20 330.85,345.61 331.30,345.61 331.30,345.66 331.75,345.66 331.75,344.04 332.20,344.04 332.20,344.82 332.65,344.82 332.65,344.71 333.10,344.71 333.10,345.19 333.55,345.19 333.55,346.38 334.00,346.38 334.00,344.46 334.45,344.46 334.45,344.12 334.90,344.12 334.90,343.78 335.35,343.78 335.35,343.66 335.80,343.66 335.80,345.27 336.25,345.27 336.25,345.35 336.70,345.35 336.70,344.99 337.15,344.99 337.15,346.09 337.60,346.09 337.60,346.00 338.05,346.00 338.05,344.26 338.50,344.26 338.50,343.75 338.95,343.75 338.95,344.59 339.40,344.59 339.40,345.57 339.85,345.57 339.85,346.67 340.30,346.67 340.30,346.73 340.75,346.73 340.75,345.47 341.20,345.47 341.20,345.63 341.65,345.63 341.65,345.30 342.10,345.30 342.10,345.49 342.55,345.49 342.55,344.70 343.00,344.70 343.00,345.15 343.45,345.15 343.45,346.49 343.90,346.49 343.90,345.11 344.35,345.11 344.35,345.84 344.80,345.84 344.80,344.76 345.25,344.76 345.25,343.88 345.70,343.88 345.70,345.37 346.15,345.37 346.15,344.12 346.60,344.12 346.60,344.93 347.05,344.93 347.05,345.91 347.50,345.91 347.50,346.63 347.95,346.63 347.95,345.43 348.40,345.43 348.40,344.93 348.85,344.93 348.85,345.57 349.30,345.57 349.30,345.44 349.75,345.44 349.75,345.92 350.20,345.92 350.20,346.08 350.65,346.08 350.65,346.54 351.10,346.54 351.10,344.18 351.55,344.18 351.55,342.98 352.00,342.98 352.00,342.46 352.45,342.46 352.45,342.98 352.90,342.98 352.90,344.04 353.35,344.04 353.35,344.95 353.80,344.95 353.80,346.15 354.25,346.15 354.25,344.37 354.70,344.37 354.70,344.87 355.15,344.87 355.15,344.47 355.60,344.47 355.60,342.35 356.05,342.35 356.05,343.44 356.50,343.44 356.50,344.62 356.95,344.62 356.95,345.14 357.40,345.14 357.40,344.71 357.85,344.71 357.85,345.39 358.30,345.39 358.30,344.34 358.75,344.34 358.75,343.09 359.20,343.09 359.20,343.48 359.65,343.48 359.65,345.74 360.10,345.74 360.10,346.60 360.55,346.60 360.55,346.39 361.00,346.39 361.00,345.68 361.45,345.68 361.45,343.77 361.90,343.77 361.90,344.08 362.35,344.08 362.35,343.87 362.80,343.87 362.80,343.83 363.25,343.83 363.25,345.20 363.70,345.20 363.70,344.49 364.15,344.49 364.15,344.50 364.60,344.50 364.60,343.87 365.05,343.87 365.05,344.16 365.50,344.16 365.50,343.57 365.95,343.57 365.95,343.45 366.40,343.45 366.40,343.63 366.85,343.63 366.85,345.10 367.30,345.10 367.30,345.23 367.75,345.23 367.75,347.38 368.20,347.38 368.20,345.47 368.65,345.47 368.65,345.17 369.10,345.17 369.10,343.93 369.55,343.93 369.55,344.11 370.00,344.11 370.00,346.48 370.45,346.48 370.45,347.02 370.90,347.02 370.90,347.32 371.35,347.32 371.35,345.97 371.80,345.97 371.80,345.35 372.25,345.35 372.25,344.96 372.70,344.96 372.70,345.92 373.15,345.92 373.15,345.08 373.60,345.08 373.60,346.07 374.05,346.07 374.05,345.55 374.50,345.55 374.50,345.63 374.95,345.63 374.95,344.20 375.40,344.20 375.40,343.75 375.85,343.75 375.85,344.64 376.30,344.64 376.30,344.28 376.75,344.28 376.75,344.45 377.20,344.45 377.20,344.31 377.65,344.31 377.65,344.05 378.10,344.05 378.10,343.99 378.55,343.99 378.55,343.44 379.00,343.44 379.00,343.39 379.45,343.39 379.45,343.03 379.90,343.03 379.90,344.55 380.35,344.55 380.35,344.63 380.80,344.63 380.80,344.02 381.25,344.02 381.25,345.04 381.70,345.04 381.70,345.03 382.15,345.03 382.15,344.40 382.60,344.40 382.60,343.94 383.05,343.94 383.05,345.06 383.50,345.06 383.50,345.55 383.95,345.55 383.95,346.66 384.40,346.66 384.40,346.26 384.85,346.26 384.85,345.16 385.30,345.16 385.30,345.63 385.75,345.63 385.75,345.75 386.20,345.75 386.20,344.95 386.65,344.95 386.65,345.73 387.10,345.73 387.10,346.07 387.55,346.07 387.55,345.64 388.00,345.64 388.00,345.28 388.45,345.28 388.45,346.22 388.90,346.22 388.90,345.17 389.35,345.17 389.35,343.53 389.80,343.53 389.80,344.34 390.25,344.34 390.25,345.01 390.70,345.01 390.70,346.55 391.15,346.55 391.15,346.51 391.60,346.51 391.60,344.47 392.05,344.47 392.05,345.26 392.50,345.26 392.50,344.77 392.95,344.77 392.95,344.22 393.40,344.22 393.40,344.68 393.85,344.68 393.85,343.88 394.30,343.88 394.30,344.93 394.75,344.93 394.75,345.44 395.20,345.44 395.20,344.83 395.65,344.83 395.65,344.64 396.10,344.64 396.10,344.15 396.55,344.15 396.55,343.54 397.00,343.54 397.00,344.77 397.45,344.77 397.45,345.40 397.90,345.40 397.90,346.55 398.35,346.55 398.35,346.54 398.80,346.54 398.80,344.71 399.25,344.71 399.25,345.69 399.70,345.69 399.70,343.80 400.15,343.80 400.15,344.11 400.60,344.11 400.60,345.30 401.05,345.30 401.05,345.38 401.50,345.38 401.50,346.04 401.95,346.04 401.95,346.86 402.40,346.86 402.40,344.89 402.85,344.89 402.85,344.43 403.30,344.43 403.30,343.69 403.75,343.69 403.75,344.93 404.20,344.93 404.20,345.07 404.65,345.07 404.65,346.45 405.10,346.45 405.10,347.12 405.55,347.12 405.55,344.80 406.00,344.80 406.00,344.84 406.45,344.84 406.45,343.56 406.90,343.56 406.90,344.75 407.35,344.75 407.35,345.96 407.80,345.96 407.80,345.58 408.25,345.58 408.25,347.43 408.70,347.43 408.70,345.25 409.15,345.25 409.15,345.96 409.60,345.96 409.60,344.61 410.05,344.61 410.05,344.97 410.50,344.97 410.50,344.27 410.95,344.27 410.95,344.81 411.40,344.81 411.40,345.88 411.85,345.88 411.85,346.48 412.30,346.48 412.30,344.77 412.75,344.77 412.75,344.14 413.20,344.14 413.20,343.79 413.65,343.79 413.65,343.60 414.10,343.60 414.10,345.51 414.55,345.51 414.55,345.30 415.00,345.30 415.00,346.71 415.45,346.71 415.45,345.37 415.90,345.37 415.90,345.10 416.35,345.10 416.35,345.05 416.80,345.05 416.80,343.42 417.25,343.42 417.25,344.08 417.70,344.08 417.70,344.24 418.15,344.24 418.15,345.28 418.60,345.28 418.60,344.89 419.05,344.89 419.05,344.44 419.50,344.44 419.50,345.03 419.95,345.03 419.95,344.90 420.40,344.90 420.40,344.41 420.85,344.41 420.85,344.89 421.30,344.89 421.30,343.78 421.75,343.78 421.75,345.60 422.20,345.60 422.20,344.89 422.65,344.89 422.65,344.70 423.10,344.70 423.10,344.41 423.55,344.41 423.55,342.20 424.00,342.20 424.00,344.38 424.45,344.38 424.45,345.11 424.90,345.11 424.90,345.54 425.35,345.54 425.35,345.50 425.80,345.50 425.80,344.42 426.25,344.42 426.25,344.69 426.70,344.69 426.70,344.48 427.15,344.48 427.15,344.62 427.60,344.62 427.60,343.52 428.05,343.52 428.05,344.99 428.50,344.99 428.50,345.67 428.95,345.67 428.95,344.93 429.40,344.93 429.40,344.38 429.85,344.38 429.85,345.30 430.30,345.30 430.30,343.37 430.75,343.37 430.75,344.84 431.20,344.84 431.20,344.66 431.65,344.66 431.65,344.91 432.10,344.91 432.10,345.57 432.55,345.57 432.55,344.54 433.00,344.54 433.00,344.49 433.45,344.49 433.45,342.96 433.90,342.96 433.90,343.32 434.35,343.32 434.35,344.03 434.80,344.03 434.80,344.54 435.25,344.54 435.25,344.86 435.70,344.86 435.70,344.98 436.15,344.98 436.15,345.09 436.60,345.09 436.60,344.66 437.05,344.66 437.05,343.52 437.50,343.52 437.50,344.41 437.95,344.41 437.95,344.85 438.40,344.85 438.40,345.25 438.85,345.25 438.85,345.49 439.30,345.49 439.30,345.08 439.75,345.08 439.75,344.50 440.20,344.50 440.20,343.60 440.65,343.60 440.65,343.47 441.10,343.47 441.10,343.79 441.55,343.79 441.55,345.19 442.00,345.19 442.00,344.76 442.10,344.76 442.10,386.80" fill="url(#st2)"/></g>
<rect x="328.60" y="304.30" width="113.50" height="91.60" fill="none" stroke="#c6c6c6" stroke-width="0.8"/>
<rect x="328.40" y="386.80" width="113.90" height="9.30" fill="url(#gg)"/><rect x="328.40" y="386.80" width="113.90" height="9.30" fill="url(#gv)"/>
<text font-size="7.25" class="t" transform="translate(327.60,315.11) scale(0.77,1)" text-anchor="end">800</text>
<text font-size="7.25" class="t" transform="translate(327.60,330.91) scale(0.77,1)" text-anchor="end">600</text>
<text font-size="7.25" class="t" transform="translate(326.70,348.41) scale(0.77,1)" text-anchor="end">400</text>
<text font-size="7.25" class="t" transform="translate(326.30,369.01) scale(0.77,1)" text-anchor="end">200</text>
<text font-size="7.25" class="t" transform="translate(323.60,390.01) scale(0.77,1)" text-anchor="end">0</text>
<text font-size="7.25" class="t" transform="translate(329.00,403.70) scale(0.77,1)" text-anchor="middle">0</text>
<text font-size="7.25" class="t" transform="translate(350.33,403.70) scale(0.77,1)" text-anchor="middle">50</text>
<text font-size="7.25" class="t" transform="translate(371.67,403.70) scale(0.77,1)" text-anchor="middle">100</text>
<text font-size="7.25" class="t" transform="translate(393.00,403.70) scale(0.77,1)" text-anchor="middle">150</text>
<text font-size="7.25" class="t" transform="translate(414.34,403.70) scale(0.77,1)" text-anchor="middle">200</text>
<text font-size="7.25" class="t" transform="translate(435.67,403.70) scale(0.77,1)" text-anchor="middle">250</text>
<text font-size="6.67" class="ax" transform="translate(382.35,412.40) scale(0.963,1)" text-anchor="middle">Gray scale values</text>
<text font-size="6.48" class="ay" transform="translate(316.20,353.70) rotate(-90) scale(1.199,1)" text-anchor="middle">No. of pixels</text>
<text class="pl" x="378.80" y="432.00" text-anchor="middle">(m)</text>
</g>
<g>
<clipPath id="cn"><rect x="482.50" y="304.80" width="114.80" height="82.50"/></clipPath>
<g clip-path="url(#cn)"><polygon points="482.50,387.30 482.50,346.71 482.95,346.71 482.95,347.63 483.40,347.63 483.40,346.71 483.85,346.71 483.85,346.92 484.30,346.92 484.30,347.69 484.75,347.69 484.75,346.84 485.20,346.84 485.20,346.08 485.65,346.08 485.65,346.76 486.10,346.76 486.10,347.30 486.55,347.30 486.55,346.57 487.00,346.57 487.00,347.15 487.45,347.15 487.45,346.41 487.90,346.41 487.90,345.24 488.35,345.24 488.35,345.50 488.80,345.50 488.80,346.93 489.25,346.93 489.25,347.81 489.70,347.81 489.70,348.68 490.15,348.68 490.15,348.18 490.60,348.18 490.60,347.56 491.05,347.56 491.05,346.36 491.50,346.36 491.50,344.40 491.95,344.40 491.95,346.76 492.40,346.76 492.40,347.47 492.85,347.47 492.85,347.05 493.30,347.05 493.30,348.31 493.75,348.31 493.75,347.59 494.20,347.59 494.20,347.67 494.65,347.67 494.65,347.38 495.10,347.38 495.10,348.13 495.55,348.13 495.55,348.12 496.00,348.12 496.00,347.43 496.45,347.43 496.45,347.88 496.90,347.88 496.90,348.93 497.35,348.93 497.35,348.32 497.80,348.32 497.80,346.36 498.25,346.36 498.25,346.01 498.70,346.01 498.70,346.16 499.15,346.16 499.15,346.74 499.60,346.74 499.60,348.17 500.05,348.17 500.05,349.30 500.50,349.30 500.50,347.34 500.95,347.34 500.95,347.60 501.40,347.60 501.40,346.38 501.85,346.38 501.85,346.03 502.30,346.03 502.30,345.61 502.75,345.61 502.75,347.78 503.20,347.78 503.20,348.33 503.65,348.33 503.65,347.69 504.10,347.69 504.10,347.53 504.55,347.53 504.55,347.53 505.00,347.53 505.00,347.77 505.45,347.77 505.45,346.68 505.90,346.68 505.90,347.78 506.35,347.78 506.35,347.18 506.80,347.18 506.80,348.45 507.25,348.45 507.25,347.97 507.70,347.97 507.70,347.50 508.15,347.50 508.15,347.28 508.60,347.28 508.60,346.13 509.05,346.13 509.05,346.61 509.50,346.61 509.50,348.16 509.95,348.16 509.95,347.53 510.40,347.53 510.40,348.52 510.85,348.52 510.85,345.85 511.30,345.85 511.30,346.25 511.75,346.25 511.75,345.92 512.20,345.92 512.20,347.32 512.65,347.32 512.65,345.68 513.10,345.68 513.10,347.35 513.55,347.35 513.55,346.42 514.00,346.42 514.00,349.37 514.45,349.37 514.45,347.40 514.90,347.40 514.90,345.98 515.35,345.98 515.35,345.43 515.80,345.43 515.80,345.85 516.25,345.85 516.25,348.36 516.70,348.36 516.70,348.85 517.15,348.85 517.15,348.70 517.60,348.70 517.60,348.44 518.05,348.44 518.05,347.59 518.50,347.59 518.50,346.43 518.95,346.43 518.95,347.28 519.40,347.28 519.40,346.73 519.85,346.73 519.85,348.32 520.30,348.32 520.30,347.43 520.75,347.43 520.75,347.01 521.20,347.01 521.20,347.40 521.65,347.40 521.65,346.41 522.10,346.41 522.10,346.30 522.55,346.30 522.55,346.99 523.00,346.99 523.00,346.22 523.45,346.22 523.45,347.76 523.90,347.76 523.90,347.55 524.35,347.55 524.35,348.35 524.80,348.35 524.80,346.67 525.25,346.67 525.25,346.64 525.70,346.64 525.70,346.40 526.15,346.40 526.15,346.23 526.60,346.23 526.60,348.18 527.05,348.18 527.05,348.96 527.50,348.96 527.50,346.62 527.95,346.62 527.95,346.92 528.40,346.92 528.40,345.89 528.85,345.89 528.85,346.43 529.30,346.43 529.30,345.17 529.75,345.17 529.75,346.42 530.20,346.42 530.20,347.44 530.65,347.44 530.65,347.10 531.10,347.10 531.10,347.51 531.55,347.51 531.55,347.58 532.00,347.58 532.00,347.29 532.45,347.29 532.45,347.30 532.90,347.30 532.90,347.37 533.35,347.37 533.35,348.01 533.80,348.01 533.80,347.07 534.25,347.07 534.25,346.59 534.70,346.59 534.70,347.96 535.15,347.96 535.15,346.91 535.60,346.91 535.60,346.34 536.05,346.34 536.05,347.59 536.50,347.59 536.50,346.90 536.95,346.90 536.95,347.13 537.40,347.13 537.40,347.35 537.85,347.35 537.85,346.69 538.30,346.69 538.30,346.74 538.75,346.74 538.75,345.62 539.20,345.62 539.20,345.52 539.65,345.52 539.65,346.48 540.10,346.48 540.10,347.39 540.55,347.39 540.55,346.44 541.00,346.44 541.00,347.51 541.45,347.51 541.45,346.92 541.90,346.92 541.90,346.02 542.35,346.02 542.35,346.50 542.80,346.50 542.80,345.06 543.25,345.06 543.25,346.36 543.70,346.36 543.70,346.88 544.15,346.88 544.15,349.40 544.60,349.40 544.60,348.48 545.05,348.48 545.05,347.86 545.50,347.86 545.50,346.84 545.95,346.84 545.95,345.88 546.40,345.88 546.40,346.82 546.85,346.82 546.85,347.85 547.30,347.85 547.30,348.10 547.75,348.10 547.75,348.61 548.20,348.61 548.20,347.77 548.65,347.77 548.65,347.20 549.10,347.20 549.10,345.78 549.55,345.78 549.55,345.08 550.00,345.08 550.00,346.63 550.45,346.63 550.45,347.48 550.90,347.48 550.90,348.33 551.35,348.33 551.35,346.39 551.80,346.39 551.80,345.84 552.25,345.84 552.25,344.99 552.70,344.99 552.70,345.57 553.15,345.57 553.15,346.49 553.60,346.49 553.60,346.72 554.05,346.72 554.05,346.46 554.50,346.46 554.50,347.38 554.95,347.38 554.95,348.01 555.40,348.01 555.40,347.91 555.85,347.91 555.85,346.88 556.30,346.88 556.30,345.77 556.75,345.77 556.75,347.45 557.20,347.45 557.20,348.16 557.65,348.16 557.65,349.41 558.10,349.41 558.10,347.54 558.55,347.54 558.55,346.79 559.00,346.79 559.00,345.35 559.45,345.35 559.45,344.85 559.90,344.85 559.90,344.73 560.35,344.73 560.35,346.40 560.80,346.40 560.80,346.86 561.25,346.86 561.25,347.65 561.70,347.65 561.70,346.71 562.15,346.71 562.15,345.52 562.60,345.52 562.60,345.87 563.05,345.87 563.05,345.95 563.50,345.95 563.50,346.20 563.95,346.20 563.95,345.93 564.40,345.93 564.40,345.92 564.85,345.92 564.85,348.96 565.30,348.96 565.30,347.77 565.75,347.77 565.75,347.73 566.20,347.73 566.20,346.29 566.65,346.29 566.65,346.45 567.10,346.45 567.10,347.75 567.55,347.75 567.55,348.39 568.00,348.39 568.00,348.65 568.45,348.65 568.45,347.37 568.90,347.37 568.90,346.38 569.35,346.38 569.35,346.08 569.80,346.08 569.80,344.85 570.25,344.85 570.25,346.88 570.70,346.88 570.70,347.03 571.15,347.03 571.15,347.79 571.60,347.79 571.60,346.67 572.05,346.67 572.05,347.50 572.50,347.50 572.50,346.63 572.95,346.63 572.95,346.91 573.40,346.91 573.40,346.93 573.85,346.93 573.85,347.89 574.30,347.89 574.30,348.56 574.75,348.56 574.75,349.29 575.20,349.29 575.20,346.71 575.65,346.71 575.65,346.53 576.10,346.53 576.10,345.82 576.55,345.82 576.55,346.01 577.00,346.01 577.00,345.95 577.45,345.95 577.45,346.36 577.90,346.36 577.90,347.99 578.35,347.99 578.35,347.39 578.80,347.39 578.80,346.67 579.25,346.67 579.25,347.11 579.70,347.11 579.70,344.53 580.15,344.53 580.15,346.08 580.60,346.08 580.60,346.73 581.05,346.73 581.05,346.65 581.50,346.65 581.50,348.46 581.95,348.46 581.95,347.06 582.40,347.06 582.40,345.98 582.85,345.98 582.85,346.66 583.30,346.66 583.30,345.31 583.75,345.31 583.75,345.17 584.20,345.17 584.20,345.62 584.65,345.62 584.65,346.42 585.10,346.42 585.10,347.19 585.55,347.19 585.55,347.24 586.00,347.24 586.00,346.62 586.45,346.62 586.45,346.45 586.90,346.45 586.90,346.87 587.35,346.87 587.35,346.07 587.80,346.07 587.80,346.79 588.25,346.79 588.25,348.29 588.70,348.29 588.70,347.23 589.15,347.23 589.15,345.96 589.60,345.96 589.60,346.30 590.05,346.30 590.05,345.58 590.50,345.58 590.50,346.75 590.95,346.75 590.95,346.07 591.40,346.07 591.40,346.82 591.85,346.82 591.85,348.06 592.30,348.06 592.30,348.44 592.75,348.44 592.75,346.58 593.20,346.58 593.20,347.20 593.65,347.20 593.65,346.48 594.10,346.48 594.10,346.33 594.55,346.33 594.55,347.62 595.00,347.62 595.00,348.85 595.45,348.85 595.45,347.59 595.90,347.59 595.90,346.97 596.35,346.97 596.35,346.15 596.80,346.15 596.80,346.07 597.25,346.07 597.25,345.61 597.30,345.61 597.30,387.30" fill="#74b1de"/><polygon points="482.50,387.30 482.50,346.71 482.95,346.71 482.95,347.63 483.40,347.63 483.40,346.71 483.85,346.71 483.85,346.92 484.30,346.92 484.30,347.69 484.75,347.69 484.75,346.84 485.20,346.84 485.20,346.08 485.65,346.08 485.65,346.76 486.10,346.76 486.10,347.30 486.55,347.30 486.55,346.57 487.00,346.57 487.00,347.15 487.45,347.15 487.45,346.41 487.90,346.41 487.90,345.24 488.35,345.24 488.35,345.50 488.80,345.50 488.80,346.93 489.25,346.93 489.25,347.81 489.70,347.81 489.70,348.68 490.15,348.68 490.15,348.18 490.60,348.18 490.60,347.56 491.05,347.56 491.05,346.36 491.50,346.36 491.50,344.40 491.95,344.40 491.95,346.76 492.40,346.76 492.40,347.47 492.85,347.47 492.85,347.05 493.30,347.05 493.30,348.31 493.75,348.31 493.75,347.59 494.20,347.59 494.20,347.67 494.65,347.67 494.65,347.38 495.10,347.38 495.10,348.13 495.55,348.13 495.55,348.12 496.00,348.12 496.00,347.43 496.45,347.43 496.45,347.88 496.90,347.88 496.90,348.93 497.35,348.93 497.35,348.32 497.80,348.32 497.80,346.36 498.25,346.36 498.25,346.01 498.70,346.01 498.70,346.16 499.15,346.16 499.15,346.74 499.60,346.74 499.60,348.17 500.05,348.17 500.05,349.30 500.50,349.30 500.50,347.34 500.95,347.34 500.95,347.60 501.40,347.60 501.40,346.38 501.85,346.38 501.85,346.03 502.30,346.03 502.30,345.61 502.75,345.61 502.75,347.78 503.20,347.78 503.20,348.33 503.65,348.33 503.65,347.69 504.10,347.69 504.10,347.53 504.55,347.53 504.55,347.53 505.00,347.53 505.00,347.77 505.45,347.77 505.45,346.68 505.90,346.68 505.90,347.78 506.35,347.78 506.35,347.18 506.80,347.18 506.80,348.45 507.25,348.45 507.25,347.97 507.70,347.97 507.70,347.50 508.15,347.50 508.15,347.28 508.60,347.28 508.60,346.13 509.05,346.13 509.05,346.61 509.50,346.61 509.50,348.16 509.95,348.16 509.95,347.53 510.40,347.53 510.40,348.52 510.85,348.52 510.85,345.85 511.30,345.85 511.30,346.25 511.75,346.25 511.75,345.92 512.20,345.92 512.20,347.32 512.65,347.32 512.65,345.68 513.10,345.68 513.10,347.35 513.55,347.35 513.55,346.42 514.00,346.42 514.00,349.37 514.45,349.37 514.45,347.40 514.90,347.40 514.90,345.98 515.35,345.98 515.35,345.43 515.80,345.43 515.80,345.85 516.25,345.85 516.25,348.36 516.70,348.36 516.70,348.85 517.15,348.85 517.15,348.70 517.60,348.70 517.60,348.44 518.05,348.44 518.05,347.59 518.50,347.59 518.50,346.43 518.95,346.43 518.95,347.28 519.40,347.28 519.40,346.73 519.85,346.73 519.85,348.32 520.30,348.32 520.30,347.43 520.75,347.43 520.75,347.01 521.20,347.01 521.20,347.40 521.65,347.40 521.65,346.41 522.10,346.41 522.10,346.30 522.55,346.30 522.55,346.99 523.00,346.99 523.00,346.22 523.45,346.22 523.45,347.76 523.90,347.76 523.90,347.55 524.35,347.55 524.35,348.35 524.80,348.35 524.80,346.67 525.25,346.67 525.25,346.64 525.70,346.64 525.70,346.40 526.15,346.40 526.15,346.23 526.60,346.23 526.60,348.18 527.05,348.18 527.05,348.96 527.50,348.96 527.50,346.62 527.95,346.62 527.95,346.92 528.40,346.92 528.40,345.89 528.85,345.89 528.85,346.43 529.30,346.43 529.30,345.17 529.75,345.17 529.75,346.42 530.20,346.42 530.20,347.44 530.65,347.44 530.65,347.10 531.10,347.10 531.10,347.51 531.55,347.51 531.55,347.58 532.00,347.58 532.00,347.29 532.45,347.29 532.45,347.30 532.90,347.30 532.90,347.37 533.35,347.37 533.35,348.01 533.80,348.01 533.80,347.07 534.25,347.07 534.25,346.59 534.70,346.59 534.70,347.96 535.15,347.96 535.15,346.91 535.60,346.91 535.60,346.34 536.05,346.34 536.05,347.59 536.50,347.59 536.50,346.90 536.95,346.90 536.95,347.13 537.40,347.13 537.40,347.35 537.85,347.35 537.85,346.69 538.30,346.69 538.30,346.74 538.75,346.74 538.75,345.62 539.20,345.62 539.20,345.52 539.65,345.52 539.65,346.48 540.10,346.48 540.10,347.39 540.55,347.39 540.55,346.44 541.00,346.44 541.00,347.51 541.45,347.51 541.45,346.92 541.90,346.92 541.90,346.02 542.35,346.02 542.35,346.50 542.80,346.50 542.80,345.06 543.25,345.06 543.25,346.36 543.70,346.36 543.70,346.88 544.15,346.88 544.15,349.40 544.60,349.40 544.60,348.48 545.05,348.48 545.05,347.86 545.50,347.86 545.50,346.84 545.95,346.84 545.95,345.88 546.40,345.88 546.40,346.82 546.85,346.82 546.85,347.85 547.30,347.85 547.30,348.10 547.75,348.10 547.75,348.61 548.20,348.61 548.20,347.77 548.65,347.77 548.65,347.20 549.10,347.20 549.10,345.78 549.55,345.78 549.55,345.08 550.00,345.08 550.00,346.63 550.45,346.63 550.45,347.48 550.90,347.48 550.90,348.33 551.35,348.33 551.35,346.39 551.80,346.39 551.80,345.84 552.25,345.84 552.25,344.99 552.70,344.99 552.70,345.57 553.15,345.57 553.15,346.49 553.60,346.49 553.60,346.72 554.05,346.72 554.05,346.46 554.50,346.46 554.50,347.38 554.95,347.38 554.95,348.01 555.40,348.01 555.40,347.91 555.85,347.91 555.85,346.88 556.30,346.88 556.30,345.77 556.75,345.77 556.75,347.45 557.20,347.45 557.20,348.16 557.65,348.16 557.65,349.41 558.10,349.41 558.10,347.54 558.55,347.54 558.55,346.79 559.00,346.79 559.00,345.35 559.45,345.35 559.45,344.85 559.90,344.85 559.90,344.73 560.35,344.73 560.35,346.40 560.80,346.40 560.80,346.86 561.25,346.86 561.25,347.65 561.70,347.65 561.70,346.71 562.15,346.71 562.15,345.52 562.60,345.52 562.60,345.87 563.05,345.87 563.05,345.95 563.50,345.95 563.50,346.20 563.95,346.20 563.95,345.93 564.40,345.93 564.40,345.92 564.85,345.92 564.85,348.96 565.30,348.96 565.30,347.77 565.75,347.77 565.75,347.73 566.20,347.73 566.20,346.29 566.65,346.29 566.65,346.45 567.10,346.45 567.10,347.75 567.55,347.75 567.55,348.39 568.00,348.39 568.00,348.65 568.45,348.65 568.45,347.37 568.90,347.37 568.90,346.38 569.35,346.38 569.35,346.08 569.80,346.08 569.80,344.85 570.25,344.85 570.25,346.88 570.70,346.88 570.70,347.03 571.15,347.03 571.15,347.79 571.60,347.79 571.60,346.67 572.05,346.67 572.05,347.50 572.50,347.50 572.50,346.63 572.95,346.63 572.95,346.91 573.40,346.91 573.40,346.93 573.85,346.93 573.85,347.89 574.30,347.89 574.30,348.56 574.75,348.56 574.75,349.29 575.20,349.29 575.20,346.71 575.65,346.71 575.65,346.53 576.10,346.53 576.10,345.82 576.55,345.82 576.55,346.01 577.00,346.01 577.00,345.95 577.45,345.95 577.45,346.36 577.90,346.36 577.90,347.99 578.35,347.99 578.35,347.39 578.80,347.39 578.80,346.67 579.25,346.67 579.25,347.11 579.70,347.11 579.70,344.53 580.15,344.53 580.15,346.08 580.60,346.08 580.60,346.73 581.05,346.73 581.05,346.65 581.50,346.65 581.50,348.46 581.95,348.46 581.95,347.06 582.40,347.06 582.40,345.98 582.85,345.98 582.85,346.66 583.30,346.66 583.30,345.31 583.75,345.31 583.75,345.17 584.20,345.17 584.20,345.62 584.65,345.62 584.65,346.42 585.10,346.42 585.10,347.19 585.55,347.19 585.55,347.24 586.00,347.24 586.00,346.62 586.45,346.62 586.45,346.45 586.90,346.45 586.90,346.87 587.35,346.87 587.35,346.07 587.80,346.07 587.80,346.79 588.25,346.79 588.25,348.29 588.70,348.29 588.70,347.23 589.15,347.23 589.15,345.96 589.60,345.96 589.60,346.30 590.05,346.30 590.05,345.58 590.50,345.58 590.50,346.75 590.95,346.75 590.95,346.07 591.40,346.07 591.40,346.82 591.85,346.82 591.85,348.06 592.30,348.06 592.30,348.44 592.75,348.44 592.75,346.58 593.20,346.58 593.20,347.20 593.65,347.20 593.65,346.48 594.10,346.48 594.10,346.33 594.55,346.33 594.55,347.62 595.00,347.62 595.00,348.85 595.45,348.85 595.45,347.59 595.90,347.59 595.90,346.97 596.35,346.97 596.35,346.15 596.80,346.15 596.80,346.07 597.25,346.07 597.25,345.61 597.30,345.61 597.30,387.30" fill="url(#st2)"/></g>
<rect x="482.50" y="304.80" width="114.80" height="91.60" fill="none" stroke="#c6c6c6" stroke-width="0.8"/>
<rect x="482.30" y="387.30" width="115.20" height="9.30" fill="url(#gg)"/><rect x="482.30" y="387.30" width="115.20" height="9.30" fill="url(#gv)"/>
<text font-size="7.52" class="t" transform="translate(481.50,315.70) scale(0.77,1)" text-anchor="end">800</text>
<text font-size="7.52" class="t" transform="translate(481.50,331.50) scale(0.77,1)" text-anchor="end">600</text>
<text font-size="7.52" class="t" transform="translate(480.60,349.00) scale(0.77,1)" text-anchor="end">400</text>
<text font-size="7.52" class="t" transform="translate(480.20,369.60) scale(0.77,1)" text-anchor="end">200</text>
<text font-size="7.52" class="t" transform="translate(477.50,390.60) scale(0.77,1)" text-anchor="end">0</text>
<text font-size="7.52" class="t" transform="translate(482.90,403.70) scale(0.77,1)" text-anchor="middle">0</text>
<text font-size="7.52" class="t" transform="translate(504.48,403.70) scale(0.77,1)" text-anchor="middle">50</text>
<text font-size="7.52" class="t" transform="translate(526.06,403.70) scale(0.77,1)" text-anchor="middle">100</text>
<text font-size="7.52" class="t" transform="translate(547.64,403.70) scale(0.77,1)" text-anchor="middle">150</text>
<text font-size="7.52" class="t" transform="translate(569.22,403.70) scale(0.77,1)" text-anchor="middle">200</text>
<text font-size="7.52" class="t" transform="translate(590.79,403.70) scale(0.77,1)" text-anchor="middle">250</text>
<text font-size="6.92" class="ax" transform="translate(536.90,412.60) scale(0.963,1)" text-anchor="middle">Gray scale values</text>
<text font-size="6.72" class="ay" transform="translate(470.10,354.20) rotate(-90) scale(1.199,1)" text-anchor="middle">No. of pixels</text>
<text class="pl" x="533.80" y="432.00" text-anchor="middle">(n)</text>
</g>
<g>
<clipPath id="co"><rect x="637.50" y="304.30" width="114.00" height="82.50"/></clipPath>
<g clip-path="url(#co)"><polygon points="637.50,386.80 637.50,345.88 637.95,345.88 637.95,346.00 638.40,346.00 638.40,345.97 638.85,345.97 638.85,347.28 639.30,347.28 639.30,347.99 639.75,347.99 639.75,347.14 640.20,347.14 640.20,346.15 640.65,346.15 640.65,346.03 641.10,346.03 641.10,345.75 641.55,345.75 641.55,346.16 642.00,346.16 642.00,346.07 642.45,346.07 642.45,347.68 642.90,347.68 642.90,346.62 643.35,346.62 643.35,347.40 643.80,347.40 643.80,346.39 644.25,346.39 644.25,345.53 644.70,345.53 644.70,345.24 645.15,345.24 645.15,345.56 645.60,345.56 645.60,346.36 646.05,346.36 646.05,348.98 646.50,348.98 646.50,348.30 646.95,348.30 646.95,346.53 647.40,346.53 647.40,345.87 647.85,345.87 647.85,346.09 648.30,346.09 648.30,345.94 648.75,345.94 648.75,347.13 649.20,347.13 649.20,346.81 649.65,346.81 649.65,347.43 650.10,347.43 650.10,346.38 650.55,346.38 650.55,346.98 651.00,346.98 651.00,345.85 651.45,345.85 651.45,346.58 651.90,346.58 651.90,346.68 652.35,346.68 652.35,345.67 652.80,345.67 652.80,345.84 653.25,345.84 653.25,345.98 653.70,345.98 653.70,345.74 654.15,345.74 654.15,345.08 654.60,345.08 654.60,344.88 655.05,344.88 655.05,344.38 655.50,344.38 655.50,346.06 655.95,346.06 655.95,346.04 656.40,346.04 656.40,346.52 656.85,346.52 656.85,348.15 657.30,348.15 657.30,347.17 657.75,347.17 657.75,346.70 658.20,346.70 658.20,344.74 658.65,344.74 658.65,345.62 659.10,345.62 659.10,348.06 659.55,348.06 659.55,347.76 660.00,347.76 660.00,348.74 660.45,348.74 660.45,347.20 660.90,347.20 660.90,346.74 661.35,346.74 661.35,345.62 661.80,345.62 661.80,345.73 662.25,345.73 662.25,346.50 662.70,346.50 662.70,348.21 663.15,348.21 663.15,347.58 663.60,347.58 663.60,345.94 664.05,345.94 664.05,345.47 664.50,345.47 664.50,345.12 664.95,345.12 664.95,344.08 665.40,344.08 665.40,344.69 665.85,344.69 665.85,345.84 666.30,345.84 666.30,347.19 666.75,347.19 666.75,346.71 667.20,346.71 667.20,346.25 667.65,346.25 667.65,347.05 668.10,347.05 668.10,345.78 668.55,345.78 668.55,346.53 669.00,346.53 669.00,346.27 669.45,346.27 669.45,346.44 669.90,346.44 669.90,347.36 670.35,347.36 670.35,347.48 670.80,347.48 670.80,346.39 671.25,346.39 671.25,346.65 671.70,346.65 671.70,345.94 672.15,345.94 672.15,345.31 672.60,345.31 672.60,347.04 673.05,347.04 673.05,346.17 673.50,346.17 673.50,347.28 673.95,347.28 673.95,346.57 674.40,346.57 674.40,345.82 674.85,345.82 674.85,346.49 675.30,346.49 675.30,345.40 675.75,345.40 675.75,346.21 676.20,346.21 676.20,347.97 676.65,347.97 676.65,348.26 677.10,348.26 677.10,347.76 677.55,347.76 677.55,345.92 678.00,345.92 678.00,345.77 678.45,345.77 678.45,345.24 678.90,345.24 678.90,345.52 679.35,345.52 679.35,346.43 679.80,346.43 679.80,346.51 680.25,346.51 680.25,346.95 680.70,346.95 680.70,346.79 681.15,346.79 681.15,345.56 681.60,345.56 681.60,346.09 682.05,346.09 682.05,345.13 682.50,345.13 682.50,346.84 682.95,346.84 682.95,346.42 683.40,346.42 683.40,347.20 683.85,347.20 683.85,347.12 684.30,347.12 684.30,346.60 684.75,346.60 684.75,345.93 685.20,345.93 685.20,345.73 685.65,345.73 685.65,346.90 686.10,346.90 686.10,346.67 686.55,346.67 686.55,346.83 687.00,346.83 687.00,348.75 687.45,348.75 687.45,348.39 687.90,348.39 687.90,346.74 688.35,346.74 688.35,346.97 688.80,346.97 688.80,344.94 689.25,344.94 689.25,346.25 689.70,346.25 689.70,346.26 690.15,346.26 690.15,348.06 690.60,348.06 690.60,347.47 691.05,347.47 691.05,345.64 691.50,345.64 691.50,345.86 691.95,345.86 691.95,345.66 692.40,345.66 692.40,345.33 692.85,345.33 692.85,346.40 693.30,346.40 693.30,345.84 693.75,345.84 693.75,346.65 694.20,346.65 694.20,347.93 694.65,347.93 694.65,347.44 695.10,347.44 695.10,346.91 695.55,346.91 695.55,346.85 696.00,346.85 696.00,347.35 696.45,347.35 696.45,346.83 696.90,346.83 696.90,347.57 697.35,347.57 697.35,347.08 697.80,347.08 697.80,346.52 698.25,346.52 698.25,346.92 698.70,346.92 698.70,344.88 699.15,344.88 699.15,345.70 699.60,345.70 699.60,346.75 700.05,346.75 700.05,347.23 700.50,347.23 700.50,348.06 700.95,348.06 700.95,348.86 701.40,348.86 701.40,347.03 701.85,347.03 701.85,345.91 702.30,345.91 702.30,345.54 702.75,345.54 702.75,346.13 703.20,346.13 703.20,347.16 703.65,347.16 703.65,347.30 704.10,347.30 704.10,349.28 704.55,349.28 704.55,346.95 705.00,346.95 705.00,345.19 705.45,345.19 705.45,345.89 705.90,345.89 705.90,345.87 706.35,345.87 706.35,346.26 706.80,346.26 706.80,347.29 707.25,347.29 707.25,347.39 707.70,347.39 707.70,348.03 708.15,348.03 708.15,346.78 708.60,346.78 708.60,345.46 709.05,345.46 709.05,345.40 709.50,345.40 709.50,346.04 709.95,346.04 709.95,346.06 710.40,346.06 710.40,346.48 710.85,346.48 710.85,346.84 711.30,346.84 711.30,346.16 711.75,346.16 711.75,345.74 712.20,345.74 712.20,344.82 712.65,344.82 712.65,344.36 713.10,344.36 713.10,346.07 713.55,346.07 713.55,346.30 714.00,346.30 714.00,347.42 714.45,347.42 714.45,348.03 714.90,348.03 714.90,347.71 715.35,347.71 715.35,347.00 715.80,347.00 715.80,346.26 716.25,346.26 716.25,346.68 716.70,346.68 716.70,346.56 717.15,346.56 717.15,347.33 717.60,347.33 717.60,348.61 718.05,348.61 718.05,345.87 718.50,345.87 718.50,346.33 718.95,346.33 718.95,345.69 719.40,345.69 719.40,345.41 719.85,345.41 719.85,345.73 720.30,345.73 720.30,346.76 720.75,346.76 720.75,347.10 721.20,347.10 721.20,345.98 721.65,345.98 721.65,347.88 722.10,347.88 722.10,347.19 722.55,347.19 722.55,345.66 723.00,345.66 723.00,346.24 723.45,346.24 723.45,346.35 723.90,346.35 723.90,348.42 724.35,348.42 724.35,349.31 724.80,349.31 724.80,346.78 725.25,346.78 725.25,346.94 725.70,346.94 725.70,345.43 726.15,345.43 726.15,344.72 726.60,344.72 726.60,346.44 727.05,346.44 727.05,346.15 727.50,346.15 727.50,346.06 727.95,346.06 727.95,347.29 728.40,347.29 728.40,346.95 728.85,346.95 728.85,346.25 729.30,346.25 729.30,345.15 729.75,345.15 729.75,345.80 730.20,345.80 730.20,345.92 730.65,345.92 730.65,346.78 731.10,346.78 731.10,348.36 731.55,348.36 731.55,346.21 732.00,346.21 732.00,347.04 732.45,347.04 732.45,346.92 732.90,346.92 732.90,345.49 733.35,345.49 733.35,346.72 733.80,346.72 733.80,346.83 734.25,346.83 734.25,346.74 734.70,346.74 734.70,346.49 735.15,346.49 735.15,347.23 735.60,347.23 735.60,345.94 736.05,345.94 736.05,345.13 736.50,345.13 736.50,345.84 736.95,345.84 736.95,346.33 737.40,346.33 737.40,346.38 737.85,346.38 737.85,347.74 738.30,347.74 738.30,347.05 738.75,347.05 738.75,346.03 739.20,346.03 739.20,345.49 739.65,345.49 739.65,345.58 740.10,345.58 740.10,346.03 740.55,346.03 740.55,345.81 741.00,345.81 741.00,346.02 741.45,346.02 741.45,347.58 741.90,347.58 741.90,347.85 742.35,347.85 742.35,346.54 742.80,346.54 742.80,347.31 743.25,347.31 743.25,346.71 743.70,346.71 743.70,345.96 744.15,345.96 744.15,346.23 744.60,346.23 744.60,346.48 745.05,346.48 745.05,347.80 745.50,347.80 745.50,346.53 745.95,346.53 745.95,345.21 746.40,345.21 746.40,345.19 746.85,345.19 746.85,344.26 747.30,344.26 747.30,346.28 747.75,346.28 747.75,346.57 748.20,346.57 748.20,347.52 748.65,347.52 748.65,346.60 749.10,346.60 749.10,345.80 749.55,345.80 749.55,345.73 750.00,345.73 750.00,344.95 750.45,344.95 750.45,345.50 750.90,345.50 750.90,346.06 751.35,346.06 751.35,348.19 751.50,348.19 751.50,386.80" fill="#74b1de"/><polygon points="637.50,386.80 637.50,345.88 637.95,345.88 637.95,346.00 638.40,346.00 638.40,345.97 638.85,345.97 638.85,347.28 639.30,347.28 639.30,347.99 639.75,347.99 639.75,347.14 640.20,347.14 640.20,346.15 640.65,346.15 640.65,346.03 641.10,346.03 641.10,345.75 641.55,345.75 641.55,346.16 642.00,346.16 642.00,346.07 642.45,346.07 642.45,347.68 642.90,347.68 642.90,346.62 643.35,346.62 643.35,347.40 643.80,347.40 643.80,346.39 644.25,346.39 644.25,345.53 644.70,345.53 644.70,345.24 645.15,345.24 645.15,345.56 645.60,345.56 645.60,346.36 646.05,346.36 646.05,348.98 646.50,348.98 646.50,348.30 646.95,348.30 646.95,346.53 647.40,346.53 647.40,345.87 647.85,345.87 647.85,346.09 648.30,346.09 648.30,345.94 648.75,345.94 648.75,347.13 649.20,347.13 649.20,346.81 649.65,346.81 649.65,347.43 650.10,347.43 650.10,346.38 650.55,346.38 650.55,346.98 651.00,346.98 651.00,345.85 651.45,345.85 651.45,346.58 651.90,346.58 651.90,346.68 652.35,346.68 652.35,345.67 652.80,345.67 652.80,345.84 653.25,345.84 653.25,345.98 653.70,345.98 653.70,345.74 654.15,345.74 654.15,345.08 654.60,345.08 654.60,344.88 655.05,344.88 655.05,344.38 655.50,344.38 655.50,346.06 655.95,346.06 655.95,346.04 656.40,346.04 656.40,346.52 656.85,346.52 656.85,348.15 657.30,348.15 657.30,347.17 657.75,347.17 657.75,346.70 658.20,346.70 658.20,344.74 658.65,344.74 658.65,345.62 659.10,345.62 659.10,348.06 659.55,348.06 659.55,347.76 660.00,347.76 660.00,348.74 660.45,348.74 660.45,347.20 660.90,347.20 660.90,346.74 661.35,346.74 661.35,345.62 661.80,345.62 661.80,345.73 662.25,345.73 662.25,346.50 662.70,346.50 662.70,348.21 663.15,348.21 663.15,347.58 663.60,347.58 663.60,345.94 664.05,345.94 664.05,345.47 664.50,345.47 664.50,345.12 664.95,345.12 664.95,344.08 665.40,344.08 665.40,344.69 665.85,344.69 665.85,345.84 666.30,345.84 666.30,347.19 666.75,347.19 666.75,346.71 667.20,346.71 667.20,346.25 667.65,346.25 667.65,347.05 668.10,347.05 668.10,345.78 668.55,345.78 668.55,346.53 669.00,346.53 669.00,346.27 669.45,346.27 669.45,346.44 669.90,346.44 669.90,347.36 670.35,347.36 670.35,347.48 670.80,347.48 670.80,346.39 671.25,346.39 671.25,346.65 671.70,346.65 671.70,345.94 672.15,345.94 672.15,345.31 672.60,345.31 672.60,347.04 673.05,347.04 673.05,346.17 673.50,346.17 673.50,347.28 673.95,347.28 673.95,346.57 674.40,346.57 674.40,345.82 674.85,345.82 674.85,346.49 675.30,346.49 675.30,345.40 675.75,345.40 675.75,346.21 676.20,346.21 676.20,347.97 676.65,347.97 676.65,348.26 677.10,348.26 677.10,347.76 677.55,347.76 677.55,345.92 678.00,345.92 678.00,345.77 678.45,345.77 678.45,345.24 678.90,345.24 678.90,345.52 679.35,345.52 679.35,346.43 679.80,346.43 679.80,346.51 680.25,346.51 680.25,346.95 680.70,346.95 680.70,346.79 681.15,346.79 681.15,345.56 681.60,345.56 681.60,346.09 682.05,346.09 682.05,345.13 682.50,345.13 682.50,346.84 682.95,346.84 682.95,346.42 683.40,346.42 683.40,347.20 683.85,347.20 683.85,347.12 684.30,347.12 684.30,346.60 684.75,346.60 684.75,345.93 685.20,345.93 685.20,345.73 685.65,345.73 685.65,346.90 686.10,346.90 686.10,346.67 686.55,346.67 686.55,346.83 687.00,346.83 687.00,348.75 687.45,348.75 687.45,348.39 687.90,348.39 687.90,346.74 688.35,346.74 688.35,346.97 688.80,346.97 688.80,344.94 689.25,344.94 689.25,346.25 689.70,346.25 689.70,346.26 690.15,346.26 690.15,348.06 690.60,348.06 690.60,347.47 691.05,347.47 691.05,345.64 691.50,345.64 691.50,345.86 691.95,345.86 691.95,345.66 692.40,345.66 692.40,345.33 692.85,345.33 692.85,346.40 693.30,346.40 693.30,345.84 693.75,345.84 693.75,346.65 694.20,346.65 694.20,347.93 694.65,347.93 694.65,347.44 695.10,347.44 695.10,346.91 695.55,346.91 695.55,346.85 696.00,346.85 696.00,347.35 696.45,347.35 696.45,346.83 696.90,346.83 696.90,347.57 697.35,347.57 697.35,347.08 697.80,347.08 697.80,346.52 698.25,346.52 698.25,346.92 698.70,346.92 698.70,344.88 699.15,344.88 699.15,345.70 699.60,345.70 699.60,346.75 700.05,346.75 700.05,347.23 700.50,347.23 700.50,348.06 700.95,348.06 700.95,348.86 701.40,348.86 701.40,347.03 701.85,347.03 701.85,345.91 702.30,345.91 702.30,345.54 702.75,345.54 702.75,346.13 703.20,346.13 703.20,347.16 703.65,347.16 703.65,347.30 704.10,347.30 704.10,349.28 704.55,349.28 704.55,346.95 705.00,346.95 705.00,345.19 705.45,345.19 705.45,345.89 705.90,345.89 705.90,345.87 706.35,345.87 706.35,346.26 706.80,346.26 706.80,347.29 707.25,347.29 707.25,347.39 707.70,347.39 707.70,348.03 708.15,348.03 708.15,346.78 708.60,346.78 708.60,345.46 709.05,345.46 709.05,345.40 709.50,345.40 709.50,346.04 709.95,346.04 709.95,346.06 710.40,346.06 710.40,346.48 710.85,346.48 710.85,346.84 711.30,346.84 711.30,346.16 711.75,346.16 711.75,345.74 712.20,345.74 712.20,344.82 712.65,344.82 712.65,344.36 713.10,344.36 713.10,346.07 713.55,346.07 713.55,346.30 714.00,346.30 714.00,347.42 714.45,347.42 714.45,348.03 714.90,348.03 714.90,347.71 715.35,347.71 715.35,347.00 715.80,347.00 715.80,346.26 716.25,346.26 716.25,346.68 716.70,346.68 716.70,346.56 717.15,346.56 717.15,347.33 717.60,347.33 717.60,348.61 718.05,348.61 718.05,345.87 718.50,345.87 718.50,346.33 718.95,346.33 718.95,345.69 719.40,345.69 719.40,345.41 719.85,345.41 719.85,345.73 720.30,345.73 720.30,346.76 720.75,346.76 720.75,347.10 721.20,347.10 721.20,345.98 721.65,345.98 721.65,347.88 722.10,347.88 722.10,347.19 722.55,347.19 722.55,345.66 723.00,345.66 723.00,346.24 723.45,346.24 723.45,346.35 723.90,346.35 723.90,348.42 724.35,348.42 724.35,349.31 724.80,349.31 724.80,346.78 725.25,346.78 725.25,346.94 725.70,346.94 725.70,345.43 726.15,345.43 726.15,344.72 726.60,344.72 726.60,346.44 727.05,346.44 727.05,346.15 727.50,346.15 727.50,346.06 727.95,346.06 727.95,347.29 728.40,347.29 728.40,346.95 728.85,346.95 728.85,346.25 729.30,346.25 729.30,345.15 729.75,345.15 729.75,345.80 730.20,345.80 730.20,345.92 730.65,345.92 730.65,346.78 731.10,346.78 731.10,348.36 731.55,348.36 731.55,346.21 732.00,346.21 732.00,347.04 732.45,347.04 732.45,346.92 732.90,346.92 732.90,345.49 733.35,345.49 733.35,346.72 733.80,346.72 733.80,346.83 734.25,346.83 734.25,346.74 734.70,346.74 734.70,346.49 735.15,346.49 735.15,347.23 735.60,347.23 735.60,345.94 736.05,345.94 736.05,345.13 736.50,345.13 736.50,345.84 736.95,345.84 736.95,346.33 737.40,346.33 737.40,346.38 737.85,346.38 737.85,347.74 738.30,347.74 738.30,347.05 738.75,347.05 738.75,346.03 739.20,346.03 739.20,345.49 739.65,345.49 739.65,345.58 740.10,345.58 740.10,346.03 740.55,346.03 740.55,345.81 741.00,345.81 741.00,346.02 741.45,346.02 741.45,347.58 741.90,347.58 741.90,347.85 742.35,347.85 742.35,346.54 742.80,346.54 742.80,347.31 743.25,347.31 743.25,346.71 743.70,346.71 743.70,345.96 744.15,345.96 744.15,346.23 744.60,346.23 744.60,346.48 745.05,346.48 745.05,347.80 745.50,347.80 745.50,346.53 745.95,346.53 745.95,345.21 746.40,345.21 746.40,345.19 746.85,345.19 746.85,344.26 747.30,344.26 747.30,346.28 747.75,346.28 747.75,346.57 748.20,346.57 748.20,347.52 748.65,347.52 748.65,346.60 749.10,346.60 749.10,345.80 749.55,345.80 749.55,345.73 750.00,345.73 750.00,344.95 750.45,344.95 750.45,345.50 750.90,345.50 750.90,346.06 751.35,346.06 751.35,348.19 751.50,348.19 751.50,386.80" fill="url(#st2)"/></g>
<rect x="637.50" y="304.30" width="114.00" height="91.60" fill="none" stroke="#c6c6c6" stroke-width="0.8"/>
<rect x="637.30" y="386.80" width="114.40" height="9.30" fill="url(#gg)"/><rect x="637.30" y="386.80" width="114.40" height="9.30" fill="url(#gv)"/>
<text font-size="7.28" class="t" transform="translate(636.50,315.12) scale(0.77,1)" text-anchor="end">800</text>
<text font-size="7.28" class="t" transform="translate(636.50,330.92) scale(0.77,1)" text-anchor="end">600</text>
<text font-size="7.28" class="t" transform="translate(635.60,348.42) scale(0.77,1)" text-anchor="end">400</text>
<text font-size="7.28" class="t" transform="translate(635.20,369.02) scale(0.77,1)" text-anchor="end">200</text>
<text font-size="7.28" class="t" transform="translate(632.50,390.02) scale(0.77,1)" text-anchor="end">0</text>
<text font-size="7.28" class="t" transform="translate(637.90,403.20) scale(0.77,1)" text-anchor="middle">0</text>
<text font-size="7.28" class="t" transform="translate(659.33,403.20) scale(0.77,1)" text-anchor="middle">50</text>
<text font-size="7.28" class="t" transform="translate(680.76,403.20) scale(0.77,1)" text-anchor="middle">100</text>
<text font-size="7.28" class="t" transform="translate(702.19,403.20) scale(0.77,1)" text-anchor="middle">150</text>
<text font-size="7.28" class="t" transform="translate(723.61,403.20) scale(0.77,1)" text-anchor="middle">200</text>
<text font-size="7.28" class="t" transform="translate(745.04,403.20) scale(0.77,1)" text-anchor="middle">250</text>
<text font-size="6.69" class="ax" transform="translate(691.50,411.90) scale(0.963,1)" text-anchor="middle">Gray scale values</text>
<text font-size="6.51" class="ay" transform="translate(625.10,353.70) rotate(-90) scale(1.198,1)" text-anchor="middle">No. of pixels</text>
<text class="pl" x="688.70" y="432.00" text-anchor="middle">(o)</text>
</g>
<g>
<clipPath id="cp"><rect x="18.50" y="456.70" width="114.50" height="82.30"/></clipPath>
<g clip-path="url(#cp)"><polygon points="18.50,539.00 18.50,499.03 18.95,499.03 18.95,497.37 19.40,497.37 19.40,499.60 19.85,499.60 19.85,499.39 20.30,499.39 20.30,499.56 20.75,499.56 20.75,500.02 21.20,500.02 21.20,499.11 21.65,499.11 21.65,498.60 22.10,498.60 22.10,497.79 22.55,497.79 22.55,499.22 23.00,499.22 23.00,499.83 23.45,499.83 23.45,500.52 23.90,500.52 23.90,500.66 24.35,500.66 24.35,499.46 24.80,499.46 24.80,500.38 25.25,500.38 25.25,500.47 25.70,500.47 25.70,499.52 26.15,499.52 26.15,500.27 26.60,500.27 26.60,499.98 27.05,499.98 27.05,500.58 27.50,500.58 27.50,500.79 27.95,500.79 27.95,499.79 28.40,499.79 28.40,499.74 28.85,499.74 28.85,497.47 29.30,497.47 29.30,498.09 29.75,498.09 29.75,498.98 30.20,498.98 30.20,499.39 30.65,499.39 30.65,499.54 31.10,499.54 31.10,501.40 31.55,501.40 31.55,500.81 32.00,500.81 32.00,499.81 32.45,499.81 32.45,499.42 32.90,499.42 32.90,499.82 33.35,499.82 33.35,499.74 33.80,499.74 33.80,501.41 34.25,501.41 34.25,501.63 34.70,501.63 34.70,499.91 35.15,499.91 35.15,498.61 35.60,498.61 35.60,498.47 36.05,498.47 36.05,498.44 36.50,498.44 36.50,499.19 36.95,499.19 36.95,500.21 37.40,500.21 37.40,499.55 37.85,499.55 37.85,499.51 38.30,499.51 38.30,499.72 38.75,499.72 38.75,498.03 39.20,498.03 39.20,497.09 39.65,497.09 39.65,497.57 40.10,497.57 40.10,498.20 40.55,498.20 40.55,499.29 41.00,499.29 41.00,500.82 41.45,500.82 41.45,499.27 41.90,499.27 41.90,498.42 42.35,498.42 42.35,497.60 42.80,497.60 42.80,497.57 43.25,497.57 43.25,498.02 43.70,498.02 43.70,498.54 44.15,498.54 44.15,500.39 44.60,500.39 44.60,500.38 45.05,500.38 45.05,501.27 45.50,501.27 45.50,499.06 45.95,499.06 45.95,498.05 46.40,498.05 46.40,498.03 46.85,498.03 46.85,499.90 47.30,499.90 47.30,501.11 47.75,501.11 47.75,501.08 48.20,501.08 48.20,500.10 48.65,500.10 48.65,498.27 49.10,498.27 49.10,497.59 49.55,497.59 49.55,498.23 50.00,498.23 50.00,497.92 50.45,497.92 50.45,498.90 50.90,498.90 50.90,499.80 51.35,499.80 51.35,500.95 51.80,500.95 51.80,499.91 52.25,499.91 52.25,498.80 52.70,498.80 52.70,498.75 53.15,498.75 53.15,499.82 53.60,499.82 53.60,498.93 54.05,498.93 54.05,498.91 54.50,498.91 54.50,499.19 54.95,499.19 54.95,500.51 55.40,500.51 55.40,500.45 55.85,500.45 55.85,499.52 56.30,499.52 56.30,499.25 56.75,499.25 56.75,499.97 57.20,499.97 57.20,499.31 57.65,499.31 57.65,500.81 58.10,500.81 58.10,500.74 58.55,500.74 58.55,498.54 59.00,498.54 59.00,498.87 59.45,498.87 59.45,497.84 59.90,497.84 59.90,497.31 60.35,497.31 60.35,498.97 60.80,498.97 60.80,499.78 61.25,499.78 61.25,500.29 61.70,500.29 61.70,501.33 62.15,501.33 62.15,500.86 62.60,500.86 62.60,499.06 63.05,499.06 63.05,497.66 63.50,497.66 63.50,498.87 63.95,498.87 63.95,500.41 64.40,500.41 64.40,501.22 64.85,501.22 64.85,500.61 65.30,500.61 65.30,499.71 65.75,499.71 65.75,500.10 66.20,500.10 66.20,499.45 66.65,499.45 66.65,499.22 67.10,499.22 67.10,499.21 67.55,499.21 67.55,499.49 68.00,499.49 68.00,500.71 68.45,500.71 68.45,498.85 68.90,498.85 68.90,499.59 69.35,499.59 69.35,499.09 69.80,499.09 69.80,498.17 70.25,498.17 70.25,497.60 70.70,497.60 70.70,499.15 71.15,499.15 71.15,498.48 71.60,498.48 71.60,500.43 72.05,500.43 72.05,499.28 72.50,499.28 72.50,499.71 72.95,499.71 72.95,498.43 73.40,498.43 73.40,497.47 73.85,497.47 73.85,499.70 74.30,499.70 74.30,500.14 74.75,500.14 74.75,500.34 75.20,500.34 75.20,500.07 75.65,500.07 75.65,498.79 76.10,498.79 76.10,498.76 76.55,498.76 76.55,496.74 77.00,496.74 77.00,497.56 77.45,497.56 77.45,499.56 77.90,499.56 77.90,499.27 78.35,499.27 78.35,499.97 78.80,499.97 78.80,499.77 79.25,499.77 79.25,499.52 79.70,499.52 79.70,498.33 80.15,498.33 80.15,496.95 80.60,496.95 80.60,497.70 81.05,497.70 81.05,498.13 81.50,498.13 81.50,500.67 81.95,500.67 81.95,499.48 82.40,499.48 82.40,499.81 82.85,499.81 82.85,500.14 83.30,500.14 83.30,499.04 83.75,499.04 83.75,498.98 84.20,498.98 84.20,499.43 84.65,499.43 84.65,500.32 85.10,500.32 85.10,501.86 85.55,501.86 85.55,499.52 86.00,499.52 86.00,500.76 86.45,500.76 86.45,500.09 86.90,500.09 86.90,499.58 87.35,499.58 87.35,499.77 87.80,499.77 87.80,499.55 88.25,499.55 88.25,499.94 88.70,499.94 88.70,500.66 89.15,500.66 89.15,500.39 89.60,500.39 89.60,499.27 90.05,499.27 90.05,499.28 90.50,499.28 90.50,498.61 90.95,498.61 90.95,499.42 91.40,499.42 91.40,499.89 91.85,499.89 91.85,501.50 92.30,501.50 92.30,500.72 92.75,500.72 92.75,499.38 93.20,499.38 93.20,499.65 93.65,499.65 93.65,497.65 94.10,497.65 94.10,499.19 94.55,499.19 94.55,499.88 95.00,499.88 95.00,499.84 95.45,499.84 95.45,499.82 95.90,499.82 95.90,500.55 96.35,500.55 96.35,499.06 96.80,499.06 96.80,499.19 97.25,499.19 97.25,498.35 97.70,498.35 97.70,499.54 98.15,499.54 98.15,500.35 98.60,500.35 98.60,500.50 99.05,500.50 99.05,498.64 99.50,498.64 99.50,498.94 99.95,498.94 99.95,498.33 100.40,498.33 100.40,499.10 100.85,499.10 100.85,498.36 101.30,498.36 101.30,499.68 101.75,499.68 101.75,498.20 102.20,498.20 102.20,499.16 102.65,499.16 102.65,501.02 103.10,501.02 103.10,500.58 103.55,500.58 103.55,498.91 104.00,498.91 104.00,499.48 104.45,499.48 104.45,500.07 104.90,500.07 104.90,500.48 105.35,500.48 105.35,501.15 105.80,501.15 105.80,501.00 106.25,501.00 106.25,500.58 106.70,500.58 106.70,499.77 107.15,499.77 107.15,498.97 107.60,498.97 107.60,498.48 108.05,498.48 108.05,498.58 108.50,498.58 108.50,499.31 108.95,499.31 108.95,499.93 109.40,499.93 109.40,500.49 109.85,500.49 109.85,499.33 110.30,499.33 110.30,499.58 110.75,499.58 110.75,498.52 111.20,498.52 111.20,498.18 111.65,498.18 111.65,499.72 112.10,499.72 112.10,500.50 112.55,500.50 112.55,500.07 113.00,500.07 113.00,500.97 113.45,500.97 113.45,499.47 113.90,499.47 113.90,499.18 114.35,499.18 114.35,498.65 114.80,498.65 114.80,498.97 115.25,498.97 115.25,500.18 115.70,500.18 115.70,500.51 116.15,500.51 116.15,499.47 116.60,499.47 116.60,498.24 117.05,498.24 117.05,497.60 117.50,497.60 117.50,496.70 117.95,496.70 117.95,498.58 118.40,498.58 118.40,498.75 118.85,498.75 118.85,499.17 119.30,499.17 119.30,500.44 119.75,500.44 119.75,500.47 120.20,500.47 120.20,499.73 120.65,499.73 120.65,498.40 121.10,498.40 121.10,499.32 121.55,499.32 121.55,500.05 122.00,500.05 122.00,500.03 122.45,500.03 122.45,500.90 122.90,500.90 122.90,500.76 123.35,500.76 123.35,498.59 123.80,498.59 123.80,498.65 124.25,498.65 124.25,497.84 124.70,497.84 124.70,497.74 125.15,497.74 125.15,498.74 125.60,498.74 125.60,499.38 126.05,499.38 126.05,501.19 126.50,501.19 126.50,500.46 126.95,500.46 126.95,498.69 127.40,498.69 127.40,498.87 127.85,498.87 127.85,500.00 128.30,500.00 128.30,498.61 128.75,498.61 128.75,499.82 129.20,499.82 129.20,499.64 129.65,499.64 129.65,500.16 130.10,500.16 130.10,499.64 130.55,499.64 130.55,499.24 131.00,499.24 131.00,497.69 131.45,497.69 131.45,498.69 131.90,498.69 131.90,499.56 132.35,499.56 132.35,500.01 132.80,500.01 132.80,500.21 133.00,500.21 133.00,539.00" fill="#74b1de"/><polygon points="18.50,539.00 18.50,499.03 18.95,499.03 18.95,497.37 19.40,497.37 19.40,499.60 19.85,499.60 19.85,499.39 20.30,499.39 20.30,499.56 20.75,499.56 20.75,500.02 21.20,500.02 21.20,499.11 21.65,499.11 21.65,498.60 22.10,498.60 22.10,497.79 22.55,497.79 22.55,499.22 23.00,499.22 23.00,499.83 23.45,499.83 23.45,500.52 23.90,500.52 23.90,500.66 24.35,500.66 24.35,499.46 24.80,499.46 24.80,500.38 25.25,500.38 25.25,500.47 25.70,500.47 25.70,499.52 26.15,499.52 26.15,500.27 26.60,500.27 26.60,499.98 27.05,499.98 27.05,500.58 27.50,500.58 27.50,500.79 27.95,500.79 27.95,499.79 28.40,499.79 28.40,499.74 28.85,499.74 28.85,497.47 29.30,497.47 29.30,498.09 29.75,498.09 29.75,498.98 30.20,498.98 30.20,499.39 30.65,499.39 30.65,499.54 31.10,499.54 31.10,501.40 31.55,501.40 31.55,500.81 32.00,500.81 32.00,499.81 32.45,499.81 32.45,499.42 32.90,499.42 32.90,499.82 33.35,499.82 33.35,499.74 33.80,499.74 33.80,501.41 34.25,501.41 34.25,501.63 34.70,501.63 34.70,499.91 35.15,499.91 35.15,498.61 35.60,498.61 35.60,498.47 36.05,498.47 36.05,498.44 36.50,498.44 36.50,499.19 36.95,499.19 36.95,500.21 37.40,500.21 37.40,499.55 37.85,499.55 37.85,499.51 38.30,499.51 38.30,499.72 38.75,499.72 38.75,498.03 39.20,498.03 39.20,497.09 39.65,497.09 39.65,497.57 40.10,497.57 40.10,498.20 40.55,498.20 40.55,499.29 41.00,499.29 41.00,500.82 41.45,500.82 41.45,499.27 41.90,499.27 41.90,498.42 42.35,498.42 42.35,497.60 42.80,497.60 42.80,497.57 43.25,497.57 43.25,498.02 43.70,498.02 43.70,498.54 44.15,498.54 44.15,500.39 44.60,500.39 44.60,500.38 45.05,500.38 45.05,501.27 45.50,501.27 45.50,499.06 45.95,499.06 45.95,498.05 46.40,498.05 46.40,498.03 46.85,498.03 46.85,499.90 47.30,499.90 47.30,501.11 47.75,501.11 47.75,501.08 48.20,501.08 48.20,500.10 48.65,500.10 48.65,498.27 49.10,498.27 49.10,497.59 49.55,497.59 49.55,498.23 50.00,498.23 50.00,497.92 50.45,497.92 50.45,498.90 50.90,498.90 50.90,499.80 51.35,499.80 51.35,500.95 51.80,500.95 51.80,499.91 52.25,499.91 52.25,498.80 52.70,498.80 52.70,498.75 53.15,498.75 53.15,499.82 53.60,499.82 53.60,498.93 54.05,498.93 54.05,498.91 54.50,498.91 54.50,499.19 54.95,499.19 54.95,500.51 55.40,500.51 55.40,500.45 55.85,500.45 55.85,499.52 56.30,499.52 56.30,499.25 56.75,499.25 56.75,499.97 57.20,499.97 57.20,499.31 57.65,499.31 57.65,500.81 58.10,500.81 58.10,500.74 58.55,500.74 58.55,498.54 59.00,498.54 59.00,498.87 59.45,498.87 59.45,497.84 59.90,497.84 59.90,497.31 60.35,497.31 60.35,498.97 60.80,498.97 60.80,499.78 61.25,499.78 61.25,500.29 61.70,500.29 61.70,501.33 62.15,501.33 62.15,500.86 62.60,500.86 62.60,499.06 63.05,499.06 63.05,497.66 63.50,497.66 63.50,498.87 63.95,498.87 63.95,500.41 64.40,500.41 64.40,501.22 64.85,501.22 64.85,500.61 65.30,500.61 65.30,499.71 65.75,499.71 65.75,500.10 66.20,500.10 66.20,499.45 66.65,499.45 66.65,499.22 67.10,499.22 67.10,499.21 67.55,499.21 67.55,499.49 68.00,499.49 68.00,500.71 68.45,500.71 68.45,498.85 68.90,498.85 68.90,499.59 69.35,499.59 69.35,499.09 69.80,499.09 69.80,498.17 70.25,498.17 70.25,497.60 70.70,497.60 70.70,499.15 71.15,499.15 71.15,498.48 71.60,498.48 71.60,500.43 72.05,500.43 72.05,499.28 72.50,499.28 72.50,499.71 72.95,499.71 72.95,498.43 73.40,498.43 73.40,497.47 73.85,497.47 73.85,499.70 74.30,499.70 74.30,500.14 74.75,500.14 74.75,500.34 75.20,500.34 75.20,500.07 75.65,500.07 75.65,498.79 76.10,498.79 76.10,498.76 76.55,498.76 76.55,496.74 77.00,496.74 77.00,497.56 77.45,497.56 77.45,499.56 77.90,499.56 77.90,499.27 78.35,499.27 78.35,499.97 78.80,499.97 78.80,499.77 79.25,499.77 79.25,499.52 79.70,499.52 79.70,498.33 80.15,498.33 80.15,496.95 80.60,496.95 80.60,497.70 81.05,497.70 81.05,498.13 81.50,498.13 81.50,500.67 81.95,500.67 81.95,499.48 82.40,499.48 82.40,499.81 82.85,499.81 82.85,500.14 83.30,500.14 83.30,499.04 83.75,499.04 83.75,498.98 84.20,498.98 84.20,499.43 84.65,499.43 84.65,500.32 85.10,500.32 85.10,501.86 85.55,501.86 85.55,499.52 86.00,499.52 86.00,500.76 86.45,500.76 86.45,500.09 86.90,500.09 86.90,499.58 87.35,499.58 87.35,499.77 87.80,499.77 87.80,499.55 88.25,499.55 88.25,499.94 88.70,499.94 88.70,500.66 89.15,500.66 89.15,500.39 89.60,500.39 89.60,499.27 90.05,499.27 90.05,499.28 90.50,499.28 90.50,498.61 90.95,498.61 90.95,499.42 91.40,499.42 91.40,499.89 91.85,499.89 91.85,501.50 92.30,501.50 92.30,500.72 92.75,500.72 92.75,499.38 93.20,499.38 93.20,499.65 93.65,499.65 93.65,497.65 94.10,497.65 94.10,499.19 94.55,499.19 94.55,499.88 95.00,499.88 95.00,499.84 95.45,499.84 95.45,499.82 95.90,499.82 95.90,500.55 96.35,500.55 96.35,499.06 96.80,499.06 96.80,499.19 97.25,499.19 97.25,498.35 97.70,498.35 97.70,499.54 98.15,499.54 98.15,500.35 98.60,500.35 98.60,500.50 99.05,500.50 99.05,498.64 99.50,498.64 99.50,498.94 99.95,498.94 99.95,498.33 100.40,498.33 100.40,499.10 100.85,499.10 100.85,498.36 101.30,498.36 101.30,499.68 101.75,499.68 101.75,498.20 102.20,498.20 102.20,499.16 102.65,499.16 102.65,501.02 103.10,501.02 103.10,500.58 103.55,500.58 103.55,498.91 104.00,498.91 104.00,499.48 104.45,499.48 104.45,500.07 104.90,500.07 104.90,500.48 105.35,500.48 105.35,501.15 105.80,501.15 105.80,501.00 106.25,501.00 106.25,500.58 106.70,500.58 106.70,499.77 107.15,499.77 107.15,498.97 107.60,498.97 107.60,498.48 108.05,498.48 108.05,498.58 108.50,498.58 108.50,499.31 108.95,499.31 108.95,499.93 109.40,499.93 109.40,500.49 109.85,500.49 109.85,499.33 110.30,499.33 110.30,499.58 110.75,499.58 110.75,498.52 111.20,498.52 111.20,498.18 111.65,498.18 111.65,499.72 112.10,499.72 112.10,500.50 112.55,500.50 112.55,500.07 113.00,500.07 113.00,500.97 113.45,500.97 113.45,499.47 113.90,499.47 113.90,499.18 114.35,499.18 114.35,498.65 114.80,498.65 114.80,498.97 115.25,498.97 115.25,500.18 115.70,500.18 115.70,500.51 116.15,500.51 116.15,499.47 116.60,499.47 116.60,498.24 117.05,498.24 117.05,497.60 117.50,497.60 117.50,496.70 117.95,496.70 117.95,498.58 118.40,498.58 118.40,498.75 118.85,498.75 118.85,499.17 119.30,499.17 119.30,500.44 119.75,500.44 119.75,500.47 120.20,500.47 120.20,499.73 120.65,499.73 120.65,498.40 121.10,498.40 121.10,499.32 121.55,499.32 121.55,500.05 122.00,500.05 122.00,500.03 122.45,500.03 122.45,500.90 122.90,500.90 122.90,500.76 123.35,500.76 123.35,498.59 123.80,498.59 123.80,498.65 124.25,498.65 124.25,497.84 124.70,497.84 124.70,497.74 125.15,497.74 125.15,498.74 125.60,498.74 125.60,499.38 126.05,499.38 126.05,501.19 126.50,501.19 126.50,500.46 126.95,500.46 126.95,498.69 127.40,498.69 127.40,498.87 127.85,498.87 127.85,500.00 128.30,500.00 128.30,498.61 128.75,498.61 128.75,499.82 129.20,499.82 129.20,499.64 129.65,499.64 129.65,500.16 130.10,500.16 130.10,499.64 130.55,499.64 130.55,499.24 131.00,499.24 131.00,497.69 131.45,497.69 131.45,498.69 131.90,498.69 131.90,499.56 132.35,499.56 132.35,500.01 132.80,500.01 132.80,500.21 133.00,500.21 133.00,539.00" fill="url(#st2)"/></g>
<rect x="18.50" y="456.70" width="114.50" height="91.70" fill="none" stroke="#c6c6c6" stroke-width="0.8"/>
<rect x="18.30" y="539.00" width="114.90" height="9.60" fill="url(#gg)"/><rect x="18.30" y="539.00" width="114.90" height="9.60" fill="url(#gv)"/>
<text font-size="7.22" class="t" transform="translate(17.50,466.80) scale(0.77,1)" text-anchor="end">800</text>
<text font-size="7.22" class="t" transform="translate(17.50,482.80) scale(0.77,1)" text-anchor="end">600</text>
<text font-size="7.22" class="t" transform="translate(16.60,500.60) scale(0.77,1)" text-anchor="end">400</text>
<text font-size="7.22" class="t" transform="translate(16.20,521.50) scale(0.77,1)" text-anchor="end">200</text>
<text font-size="7.22" class="t" transform="translate(13.50,542.70) scale(0.77,1)" text-anchor="end">0</text>
<text font-size="7.22" class="t" transform="translate(18.90,556.20) scale(0.77,1)" text-anchor="middle">0</text>
<text font-size="7.22" class="t" transform="translate(40.42,556.20) scale(0.77,1)" text-anchor="middle">50</text>
<text font-size="7.22" class="t" transform="translate(61.95,556.20) scale(0.77,1)" text-anchor="middle">100</text>
<text font-size="7.22" class="t" transform="translate(83.47,556.20) scale(0.77,1)" text-anchor="middle">150</text>
<text font-size="7.22" class="t" transform="translate(104.99,556.20) scale(0.77,1)" text-anchor="middle">200</text>
<text font-size="7.22" class="t" transform="translate(126.51,556.20) scale(0.77,1)" text-anchor="middle">250</text>
<text font-size="6.64" class="ax" transform="translate(72.75,564.60) scale(0.963,1)" text-anchor="middle">Gray scale values</text>
<text font-size="6.45" class="ay" transform="translate(6.10,506.15) rotate(-90) scale(1.199,1)" text-anchor="middle">No. of pixels</text>
<text class="pl" x="69.60" y="584.50" text-anchor="middle">(p)</text>
</g>
<g>
<clipPath id="cq"><rect x="174.60" y="455.30" width="113.80" height="81.50"/></clipPath>
<g clip-path="url(#cq)"><polygon points="174.60,536.80 174.60,495.98 175.05,495.98 175.05,495.41 175.50,495.41 175.50,494.80 175.95,494.80 175.95,495.12 176.40,495.12 176.40,495.68 176.85,495.68 176.85,496.15 177.30,496.15 177.30,497.03 177.75,497.03 177.75,496.20 178.20,496.20 178.20,495.34 178.65,495.34 178.65,495.10 179.10,495.10 179.10,495.58 179.55,495.58 179.55,496.52 180.00,496.52 180.00,496.95 180.45,496.95 180.45,496.95 180.90,496.95 180.90,496.45 181.35,496.45 181.35,495.00 181.80,495.00 181.80,495.26 182.25,495.26 182.25,495.06 182.70,495.06 182.70,496.23 183.15,496.23 183.15,496.28 183.60,496.28 183.60,496.00 184.05,496.00 184.05,496.75 184.50,496.75 184.50,497.19 184.95,497.19 184.95,496.13 185.40,496.13 185.40,494.52 185.85,494.52 185.85,496.04 186.30,496.04 186.30,495.37 186.75,495.37 186.75,496.27 187.20,496.27 187.20,498.32 187.65,498.32 187.65,496.99 188.10,496.99 188.10,495.00 188.55,495.00 188.55,495.09 189.00,495.09 189.00,494.10 189.45,494.10 189.45,494.85 189.90,494.85 189.90,496.47 190.35,496.47 190.35,496.21 190.80,496.21 190.80,496.02 191.25,496.02 191.25,496.11 191.70,496.11 191.70,495.50 192.15,495.50 192.15,496.46 192.60,496.46 192.60,495.20 193.05,495.20 193.05,496.10 193.50,496.10 193.50,495.64 193.95,495.64 193.95,496.56 194.40,496.56 194.40,496.92 194.85,496.92 194.85,495.35 195.30,495.35 195.30,495.08 195.75,495.08 195.75,492.98 196.20,492.98 196.20,494.06 196.65,494.06 196.65,494.99 197.10,494.99 197.10,495.68 197.55,495.68 197.55,496.03 198.00,496.03 198.00,497.03 198.45,497.03 198.45,495.67 198.90,495.67 198.90,495.01 199.35,495.01 199.35,494.93 199.80,494.93 199.80,495.63 200.25,495.63 200.25,497.42 200.70,497.42 200.70,497.83 201.15,497.83 201.15,496.52 201.60,496.52 201.60,494.92 202.05,494.92 202.05,495.06 202.50,495.06 202.50,493.88 202.95,493.88 202.95,494.30 203.40,494.30 203.40,494.80 203.85,494.80 203.85,496.47 204.30,496.47 204.30,497.11 204.75,497.11 204.75,495.95 205.20,495.95 205.20,495.40 205.65,495.40 205.65,494.19 206.10,494.19 206.10,494.93 206.55,494.93 206.55,494.47 207.00,494.47 207.00,496.11 207.45,496.11 207.45,496.11 207.90,496.11 207.90,498.02 208.35,498.02 208.35,495.82 208.80,495.82 208.80,494.90 209.25,494.90 209.25,494.12 209.70,494.12 209.70,494.70 210.15,494.70 210.15,496.27 210.60,496.27 210.60,498.08 211.05,498.08 211.05,498.66 211.50,498.66 211.50,495.75 211.95,495.75 211.95,494.69 212.40,494.69 212.40,494.76 212.85,494.76 212.85,494.26 213.30,494.26 213.30,495.62 213.75,495.62 213.75,496.95 214.20,496.95 214.20,496.19 214.65,496.19 214.65,497.30 215.10,497.30 215.10,495.95 215.55,495.95 215.55,495.87 216.00,495.87 216.00,495.40 216.45,495.40 216.45,496.36 216.90,496.36 216.90,496.67 217.35,496.67 217.35,496.01 217.80,496.01 217.80,496.95 218.25,496.95 218.25,495.99 218.70,495.99 218.70,495.58 219.15,495.58 219.15,494.67 219.60,494.67 219.60,495.12 220.05,495.12 220.05,495.23 220.50,495.23 220.50,494.86 220.95,494.86 220.95,495.54 221.40,495.54 221.40,496.12 221.85,496.12 221.85,495.82 222.30,495.82 222.30,496.06 222.75,496.06 222.75,495.93 223.20,495.93 223.20,495.11 223.65,495.11 223.65,495.18 224.10,495.18 224.10,496.04 224.55,496.04 224.55,495.78 225.00,495.78 225.00,496.69 225.45,496.69 225.45,496.79 225.90,496.79 225.90,494.80 226.35,494.80 226.35,494.38 226.80,494.38 226.80,495.35 227.25,495.35 227.25,495.87 227.70,495.87 227.70,496.25 228.15,496.25 228.15,497.05 228.60,497.05 228.60,496.86 229.05,496.86 229.05,495.63 229.50,495.63 229.50,495.11 229.95,495.11 229.95,494.72 230.40,494.72 230.40,495.71 230.85,495.71 230.85,495.99 231.30,495.99 231.30,497.95 231.75,497.95 231.75,496.50 232.20,496.50 232.20,494.90 232.65,494.90 232.65,495.39 233.10,495.39 233.10,493.49 233.55,493.49 233.55,494.06 234.00,494.06 234.00,495.15 234.45,495.15 234.45,495.81 234.90,495.81 234.90,495.97 235.35,495.97 235.35,495.12 235.80,495.12 235.80,495.95 236.25,495.95 236.25,494.90 236.70,494.90 236.70,494.92 237.15,494.92 237.15,495.00 237.60,495.00 237.60,494.92 238.05,494.92 238.05,496.38 238.50,496.38 238.50,495.95 238.95,495.95 238.95,495.06 239.40,495.06 239.40,495.28 239.85,495.28 239.85,492.96 240.30,492.96 240.30,494.49 240.75,494.49 240.75,494.25 241.20,494.25 241.20,496.14 241.65,496.14 241.65,496.93 242.10,496.93 242.10,496.15 242.55,496.15 242.55,496.16 243.00,496.16 243.00,494.86 243.45,494.86 243.45,494.63 243.90,494.63 243.90,496.51 244.35,496.51 244.35,495.72 244.80,495.72 244.80,496.66 245.25,496.66 245.25,496.32 245.70,496.32 245.70,494.59 246.15,494.59 246.15,494.32 246.60,494.32 246.60,495.17 247.05,495.17 247.05,494.80 247.50,494.80 247.50,494.91 247.95,494.91 247.95,495.94 248.40,495.94 248.40,495.26 248.85,495.26 248.85,495.22 249.30,495.22 249.30,495.16 249.75,495.16 249.75,495.08 250.20,495.08 250.20,494.01 250.65,494.01 250.65,495.28 251.10,495.28 251.10,494.93 251.55,494.93 251.55,496.48 252.00,496.48 252.00,495.29 252.45,495.29 252.45,495.96 252.90,495.96 252.90,496.22 253.35,496.22 253.35,496.11 253.80,496.11 253.80,495.53 254.25,495.53 254.25,495.16 254.70,495.16 254.70,496.49 255.15,496.49 255.15,496.74 255.60,496.74 255.60,496.17 256.05,496.17 256.05,494.69 256.50,494.69 256.50,494.55 256.95,494.55 256.95,493.18 257.40,493.18 257.40,495.49 257.85,495.49 257.85,495.35 258.30,495.35 258.30,495.90 258.75,495.90 258.75,495.36 259.20,495.36 259.20,496.08 259.65,496.08 259.65,496.96 260.10,496.96 260.10,495.78 260.55,495.78 260.55,495.14 261.00,495.14 261.00,495.98 261.45,495.98 261.45,496.23 261.90,496.23 261.90,497.58 262.35,497.58 262.35,495.74 262.80,495.74 262.80,495.77 263.25,495.77 263.25,494.62 263.70,494.62 263.70,493.10 264.15,493.10 264.15,493.95 264.60,493.95 264.60,495.70 265.05,495.70 265.05,495.26 265.50,495.26 265.50,496.00 265.95,496.00 265.95,496.19 266.40,496.19 266.40,494.95 266.85,494.95 266.85,494.29 267.30,494.29 267.30,495.89 267.75,495.89 267.75,494.73 268.20,494.73 268.20,496.63 268.65,496.63 268.65,495.32 269.10,495.32 269.10,497.38 269.55,497.38 269.55,495.77 270.00,495.77 270.00,495.98 270.45,495.98 270.45,494.84 270.90,494.84 270.90,495.83 271.35,495.83 271.35,496.54 271.80,496.54 271.80,496.50 272.25,496.50 272.25,496.57 272.70,496.57 272.70,495.54 273.15,495.54 273.15,496.10 273.60,496.10 273.60,495.30 274.05,495.30 274.05,494.92 274.50,494.92 274.50,496.15 274.95,496.15 274.95,496.33 275.40,496.33 275.40,496.21 275.85,496.21 275.85,495.71 276.30,495.71 276.30,494.77 276.75,494.77 276.75,494.92 277.20,494.92 277.20,494.06 277.65,494.06 277.65,494.13 278.10,494.13 278.10,494.73 278.55,494.73 278.55,495.41 279.00,495.41 279.00,496.57 279.45,496.57 279.45,496.03 279.90,496.03 279.90,495.87 280.35,495.87 280.35,495.23 280.80,495.23 280.80,493.34 281.25,493.34 281.25,494.97 281.70,494.97 281.70,495.51 282.15,495.51 282.15,496.97 282.60,496.97 282.60,497.18 283.05,497.18 283.05,495.50 283.50,495.50 283.50,494.73 283.95,494.73 283.95,494.23 284.40,494.23 284.40,494.10 284.85,494.10 284.85,494.53 285.30,494.53 285.30,495.65 285.75,495.65 285.75,496.58 286.20,496.58 286.20,495.95 286.65,495.95 286.65,495.30 287.10,495.30 287.10,496.28 287.55,496.28 287.55,495.60 288.00,495.60 288.00,494.83 288.40,494.83 288.40,536.80" fill="#74b1de"/><polygon points="174.60,536.80 174.60,495.98 175.05,495.98 175.05,495.41 175.50,495.41 175.50,494.80 175.95,494.80 175.95,495.12 176.40,495.12 176.40,495.68 176.85,495.68 176.85,496.15 177.30,496.15 177.30,497.03 177.75,497.03 177.75,496.20 178.20,496.20 178.20,495.34 178.65,495.34 178.65,495.10 179.10,495.10 179.10,495.58 179.55,495.58 179.55,496.52 180.00,496.52 180.00,496.95 180.45,496.95 180.45,496.95 180.90,496.95 180.90,496.45 181.35,496.45 181.35,495.00 181.80,495.00 181.80,495.26 182.25,495.26 182.25,495.06 182.70,495.06 182.70,496.23 183.15,496.23 183.15,496.28 183.60,496.28 183.60,496.00 184.05,496.00 184.05,496.75 184.50,496.75 184.50,497.19 184.95,497.19 184.95,496.13 185.40,496.13 185.40,494.52 185.85,494.52 185.85,496.04 186.30,496.04 186.30,495.37 186.75,495.37 186.75,496.27 187.20,496.27 187.20,498.32 187.65,498.32 187.65,496.99 188.10,496.99 188.10,495.00 188.55,495.00 188.55,495.09 189.00,495.09 189.00,494.10 189.45,494.10 189.45,494.85 189.90,494.85 189.90,496.47 190.35,496.47 190.35,496.21 190.80,496.21 190.80,496.02 191.25,496.02 191.25,496.11 191.70,496.11 191.70,495.50 192.15,495.50 192.15,496.46 192.60,496.46 192.60,495.20 193.05,495.20 193.05,496.10 193.50,496.10 193.50,495.64 193.95,495.64 193.95,496.56 194.40,496.56 194.40,496.92 194.85,496.92 194.85,495.35 195.30,495.35 195.30,495.08 195.75,495.08 195.75,492.98 196.20,492.98 196.20,494.06 196.65,494.06 196.65,494.99 197.10,494.99 197.10,495.68 197.55,495.68 197.55,496.03 198.00,496.03 198.00,497.03 198.45,497.03 198.45,495.67 198.90,495.67 198.90,495.01 199.35,495.01 199.35,494.93 199.80,494.93 199.80,495.63 200.25,495.63 200.25,497.42 200.70,497.42 200.70,497.83 201.15,497.83 201.15,496.52 201.60,496.52 201.60,494.92 202.05,494.92 202.05,495.06 202.50,495.06 202.50,493.88 202.95,493.88 202.95,494.30 203.40,494.30 203.40,494.80 203.85,494.80 203.85,496.47 204.30,496.47 204.30,497.11 204.75,497.11 204.75,495.95 205.20,495.95 205.20,495.40 205.65,495.40 205.65,494.19 206.10,494.19 206.10,494.93 206.55,494.93 206.55,494.47 207.00,494.47 207.00,496.11 207.45,496.11 207.45,496.11 207.90,496.11 207.90,498.02 208.35,498.02 208.35,495.82 208.80,495.82 208.80,494.90 209.25,494.90 209.25,494.12 209.70,494.12 209.70,494.70 210.15,494.70 210.15,496.27 210.60,496.27 210.60,498.08 211.05,498.08 211.05,498.66 211.50,498.66 211.50,495.75 211.95,495.75 211.95,494.69 212.40,494.69 212.40,494.76 212.85,494.76 212.85,494.26 213.30,494.26 213.30,495.62 213.75,495.62 213.75,496.95 214.20,496.95 214.20,496.19 214.65,496.19 214.65,497.30 215.10,497.30 215.10,495.95 215.55,495.95 215.55,495.87 216.00,495.87 216.00,495.40 216.45,495.40 216.45,496.36 216.90,496.36 216.90,496.67 217.35,496.67 217.35,496.01 217.80,496.01 217.80,496.95 218.25,496.95 218.25,495.99 218.70,495.99 218.70,495.58 219.15,495.58 219.15,494.67 219.60,494.67 219.60,495.12 220.05,495.12 220.05,495.23 220.50,495.23 220.50,494.86 220.95,494.86 220.95,495.54 221.40,495.54 221.40,496.12 221.85,496.12 221.85,495.82 222.30,495.82 222.30,496.06 222.75,496.06 222.75,495.93 223.20,495.93 223.20,495.11 223.65,495.11 223.65,495.18 224.10,495.18 224.10,496.04 224.55,496.04 224.55,495.78 225.00,495.78 225.00,496.69 225.45,496.69 225.45,496.79 225.90,496.79 225.90,494.80 226.35,494.80 226.35,494.38 226.80,494.38 226.80,495.35 227.25,495.35 227.25,495.87 227.70,495.87 227.70,496.25 228.15,496.25 228.15,497.05 228.60,497.05 228.60,496.86 229.05,496.86 229.05,495.63 229.50,495.63 229.50,495.11 229.95,495.11 229.95,494.72 230.40,494.72 230.40,495.71 230.85,495.71 230.85,495.99 231.30,495.99 231.30,497.95 231.75,497.95 231.75,496.50 232.20,496.50 232.20,494.90 232.65,494.90 232.65,495.39 233.10,495.39 233.10,493.49 233.55,493.49 233.55,494.06 234.00,494.06 234.00,495.15 234.45,495.15 234.45,495.81 234.90,495.81 234.90,495.97 235.35,495.97 235.35,495.12 235.80,495.12 235.80,495.95 236.25,495.95 236.25,494.90 236.70,494.90 236.70,494.92 237.15,494.92 237.15,495.00 237.60,495.00 237.60,494.92 238.05,494.92 238.05,496.38 238.50,496.38 238.50,495.95 238.95,495.95 238.95,495.06 239.40,495.06 239.40,495.28 239.85,495.28 239.85,492.96 240.30,492.96 240.30,494.49 240.75,494.49 240.75,494.25 241.20,494.25 241.20,496.14 241.65,496.14 241.65,496.93 242.10,496.93 242.10,496.15 242.55,496.15 242.55,496.16 243.00,496.16 243.00,494.86 243.45,494.86 243.45,494.63 243.90,494.63 243.90,496.51 244.35,496.51 244.35,495.72 244.80,495.72 244.80,496.66 245.25,496.66 245.25,496.32 245.70,496.32 245.70,494.59 246.15,494.59 246.15,494.32 246.60,494.32 246.60,495.17 247.05,495.17 247.05,494.80 247.50,494.80 247.50,494.91 247.95,494.91 247.95,495.94 248.40,495.94 248.40,495.26 248.85,495.26 248.85,495.22 249.30,495.22 249.30,495.16 249.75,495.16 249.75,495.08 250.20,495.08 250.20,494.01 250.65,494.01 250.65,495.28 251.10,495.28 251.10,494.93 251.55,494.93 251.55,496.48 252.00,496.48 252.00,495.29 252.45,495.29 252.45,495.96 252.90,495.96 252.90,496.22 253.35,496.22 253.35,496.11 253.80,496.11 253.80,495.53 254.25,495.53 254.25,495.16 254.70,495.16 254.70,496.49 255.15,496.49 255.15,496.74 255.60,496.74 255.60,496.17 256.05,496.17 256.05,494.69 256.50,494.69 256.50,494.55 256.95,494.55 256.95,493.18 257.40,493.18 257.40,495.49 257.85,495.49 257.85,495.35 258.30,495.35 258.30,495.90 258.75,495.90 258.75,495.36 259.20,495.36 259.20,496.08 259.65,496.08 259.65,496.96 260.10,496.96 260.10,495.78 260.55,495.78 260.55,495.14 261.00,495.14 261.00,495.98 261.45,495.98 261.45,496.23 261.90,496.23 261.90,497.58 262.35,497.58 262.35,495.74 262.80,495.74 262.80,495.77 263.25,495.77 263.25,494.62 263.70,494.62 263.70,493.10 264.15,493.10 264.15,493.95 264.60,493.95 264.60,495.70 265.05,495.70 265.05,495.26 265.50,495.26 265.50,496.00 265.95,496.00 265.95,496.19 266.40,496.19 266.40,494.95 266.85,494.95 266.85,494.29 267.30,494.29 267.30,495.89 267.75,495.89 267.75,494.73 268.20,494.73 268.20,496.63 268.65,496.63 268.65,495.32 269.10,495.32 269.10,497.38 269.55,497.38 269.55,495.77 270.00,495.77 270.00,495.98 270.45,495.98 270.45,494.84 270.90,494.84 270.90,495.83 271.35,495.83 271.35,496.54 271.80,496.54 271.80,496.50 272.25,496.50 272.25,496.57 272.70,496.57 272.70,495.54 273.15,495.54 273.15,496.10 273.60,496.10 273.60,495.30 274.05,495.30 274.05,494.92 274.50,494.92 274.50,496.15 274.95,496.15 274.95,496.33 275.40,496.33 275.40,496.21 275.85,496.21 275.85,495.71 276.30,495.71 276.30,494.77 276.75,494.77 276.75,494.92 277.20,494.92 277.20,494.06 277.65,494.06 277.65,494.13 278.10,494.13 278.10,494.73 278.55,494.73 278.55,495.41 279.00,495.41 279.00,496.57 279.45,496.57 279.45,496.03 279.90,496.03 279.90,495.87 280.35,495.87 280.35,495.23 280.80,495.23 280.80,493.34 281.25,493.34 281.25,494.97 281.70,494.97 281.70,495.51 282.15,495.51 282.15,496.97 282.60,496.97 282.60,497.18 283.05,497.18 283.05,495.50 283.50,495.50 283.50,494.73 283.95,494.73 283.95,494.23 284.40,494.23 284.40,494.10 284.85,494.10 284.85,494.53 285.30,494.53 285.30,495.65 285.75,495.65 285.75,496.58 286.20,496.58 286.20,495.95 286.65,495.95 286.65,495.30 287.10,495.30 287.10,496.28 287.55,496.28 287.55,495.60 288.00,495.60 288.00,494.83 288.40,494.83 288.40,536.80" fill="url(#st2)"/></g>
<rect x="174.60" y="455.30" width="113.80" height="90.60" fill="none" stroke="#c6c6c6" stroke-width="0.8"/>
<rect x="174.40" y="536.80" width="114.20" height="9.30" fill="url(#gg)"/><rect x="174.40" y="536.80" width="114.20" height="9.30" fill="url(#gv)"/>
<text font-size="6.91" class="t" transform="translate(173.60,466.01) scale(0.77,1)" text-anchor="end">800</text>
<text font-size="6.91" class="t" transform="translate(173.60,481.51) scale(0.77,1)" text-anchor="end">600</text>
<text font-size="6.91" class="t" transform="translate(172.70,498.81) scale(0.77,1)" text-anchor="end">400</text>
<text font-size="6.91" class="t" transform="translate(172.30,519.21) scale(0.77,1)" text-anchor="end">200</text>
<text font-size="6.91" class="t" transform="translate(169.60,540.11) scale(0.77,1)" text-anchor="end">0</text>
<text font-size="6.91" class="t" transform="translate(175.00,553.70) scale(0.77,1)" text-anchor="middle">0</text>
<text font-size="6.91" class="t" transform="translate(196.39,553.70) scale(0.77,1)" text-anchor="middle">50</text>
<text font-size="6.91" class="t" transform="translate(217.78,553.70) scale(0.77,1)" text-anchor="middle">100</text>
<text font-size="6.91" class="t" transform="translate(239.17,553.70) scale(0.77,1)" text-anchor="middle">150</text>
<text font-size="6.91" class="t" transform="translate(260.56,553.70) scale(0.77,1)" text-anchor="middle">200</text>
<text font-size="6.91" class="t" transform="translate(281.95,553.70) scale(0.77,1)" text-anchor="middle">250</text>
<text font-size="6.36" class="ax" transform="translate(228.50,562.40) scale(0.963,1)" text-anchor="middle">Gray scale values</text>
<text font-size="6.18" class="ay" transform="translate(162.20,504.20) rotate(-90) scale(1.199,1)" text-anchor="middle">No. of pixels</text>
<text class="pl" x="224.60" y="584.50" text-anchor="middle">(q)</text>
</g>
<g>
<clipPath id="cr"><rect x="327.80" y="456.50" width="115.50" height="82.80"/></clipPath>
<g clip-path="url(#cr)"><polygon points="327.80,539.30 327.80,500.19 328.25,500.19 328.25,499.49 328.70,499.49 328.70,498.84 329.15,498.84 329.15,500.77 329.60,500.77 329.60,500.30 330.05,500.30 330.05,502.21 330.50,502.21 330.50,501.12 330.95,501.12 330.95,500.62 331.40,500.62 331.40,499.08 331.85,499.08 331.85,499.17 332.30,499.17 332.30,498.89 332.75,498.89 332.75,500.33 333.20,500.33 333.20,500.89 333.65,500.89 333.65,500.78 334.10,500.78 334.10,500.36 334.55,500.36 334.55,499.50 335.00,499.50 335.00,500.78 335.45,500.78 335.45,500.35 335.90,500.35 335.90,499.85 336.35,499.85 336.35,500.31 336.80,500.31 336.80,501.53 337.25,501.53 337.25,499.97 337.70,499.97 337.70,499.68 338.15,499.68 338.15,500.97 338.60,500.97 338.60,500.50 339.05,500.50 339.05,500.30 339.50,500.30 339.50,499.90 339.95,499.90 339.95,501.13 340.40,501.13 340.40,501.13 340.85,501.13 340.85,499.30 341.30,499.30 341.30,499.96 341.75,499.96 341.75,499.17 342.20,499.17 342.20,500.12 342.65,500.12 342.65,499.70 343.10,499.70 343.10,499.54 343.55,499.54 343.55,499.53 344.00,499.53 344.00,500.96 344.45,500.96 344.45,500.77 344.90,500.77 344.90,499.96 345.35,499.96 345.35,499.29 345.80,499.29 345.80,499.57 346.25,499.57 346.25,500.18 346.70,500.18 346.70,500.04 347.15,500.04 347.15,501.19 347.60,501.19 347.60,502.25 348.05,502.25 348.05,500.92 348.50,500.92 348.50,499.85 348.95,499.85 348.95,499.11 349.40,499.11 349.40,499.82 349.85,499.82 349.85,501.16 350.30,501.16 350.30,501.69 350.75,501.69 350.75,501.09 351.20,501.09 351.20,500.17 351.65,500.17 351.65,499.80 352.10,499.80 352.10,498.12 352.55,498.12 352.55,499.21 353.00,499.21 353.00,499.74 353.45,499.74 353.45,500.90 353.90,500.90 353.90,501.18 354.35,501.18 354.35,500.20 354.80,500.20 354.80,499.40 355.25,499.40 355.25,500.63 355.70,500.63 355.70,500.52 356.15,500.52 356.15,499.31 356.60,499.31 356.60,500.04 357.05,500.04 357.05,500.99 357.50,500.99 357.50,501.76 357.95,501.76 357.95,500.64 358.40,500.64 358.40,500.30 358.85,500.30 358.85,500.55 359.30,500.55 359.30,500.68 359.75,500.68 359.75,499.97 360.20,499.97 360.20,500.72 360.65,500.72 360.65,500.82 361.10,500.82 361.10,499.64 361.55,499.64 361.55,499.01 362.00,499.01 362.00,499.44 362.45,499.44 362.45,499.22 362.90,499.22 362.90,499.71 363.35,499.71 363.35,499.97 363.80,499.97 363.80,499.63 364.25,499.63 364.25,500.41 364.70,500.41 364.70,499.75 365.15,499.75 365.15,499.87 365.60,499.87 365.60,499.87 366.05,499.87 366.05,500.43 366.50,500.43 366.50,500.03 366.95,500.03 366.95,500.45 367.40,500.45 367.40,499.78 367.85,499.78 367.85,499.82 368.30,499.82 368.30,500.35 368.75,500.35 368.75,500.01 369.20,500.01 369.20,500.23 369.65,500.23 369.65,500.32 370.10,500.32 370.10,500.69 370.55,500.69 370.55,500.81 371.00,500.81 371.00,501.39 371.45,501.39 371.45,499.45 371.90,499.45 371.90,500.32 372.35,500.32 372.35,499.84 372.80,499.84 372.80,499.49 373.25,499.49 373.25,499.83 373.70,499.83 373.70,500.25 374.15,500.25 374.15,500.16 374.60,500.16 374.60,501.74 375.05,501.74 375.05,499.83 375.50,499.83 375.50,499.21 375.95,499.21 375.95,499.70 376.40,499.70 376.40,500.34 376.85,500.34 376.85,500.23 377.30,500.23 377.30,501.37 377.75,501.37 377.75,501.10 378.20,501.10 378.20,500.56 378.65,500.56 378.65,499.36 379.10,499.36 379.10,499.99 379.55,499.99 379.55,500.14 380.00,500.14 380.00,499.63 380.45,499.63 380.45,499.87 380.90,499.87 380.90,500.88 381.35,500.88 381.35,501.49 381.80,501.49 381.80,499.97 382.25,499.97 382.25,499.98 382.70,499.98 382.70,499.35 383.15,499.35 383.15,499.07 383.60,499.07 383.60,500.80 384.05,500.80 384.05,501.77 384.50,501.77 384.50,501.55 384.95,501.55 384.95,500.82 385.40,500.82 385.40,500.60 385.85,500.60 385.85,499.94 386.30,499.94 386.30,498.40 386.75,498.40 386.75,499.80 387.20,499.80 387.20,500.10 387.65,500.10 387.65,501.41 388.10,501.41 388.10,500.50 388.55,500.50 388.55,500.15 389.00,500.15 389.00,499.56 389.45,499.56 389.45,499.60 389.90,499.60 389.90,499.43 390.35,499.43 390.35,500.80 390.80,500.80 390.80,499.95 391.25,499.95 391.25,500.70 391.70,500.70 391.70,501.19 392.15,501.19 392.15,501.36 392.60,501.36 392.60,500.17 393.05,500.17 393.05,499.03 393.50,499.03 393.50,499.55 393.95,499.55 393.95,501.21 394.40,501.21 394.40,501.36 394.85,501.36 394.85,501.79 395.30,501.79 395.30,499.68 395.75,499.68 395.75,498.50 396.20,498.50 396.20,498.54 396.65,498.54 396.65,497.88 397.10,497.88 397.10,499.71 397.55,499.71 397.55,500.20 398.00,500.20 398.00,501.69 398.45,501.69 398.45,502.32 398.90,502.32 398.90,501.37 399.35,501.37 399.35,500.48 399.80,500.48 399.80,498.75 400.25,498.75 400.25,500.47 400.70,500.47 400.70,500.68 401.15,500.68 401.15,501.76 401.60,501.76 401.60,501.75 402.05,501.75 402.05,500.61 402.50,500.61 402.50,500.58 402.95,500.58 402.95,499.97 403.40,499.97 403.40,499.95 403.85,499.95 403.85,501.13 404.30,501.13 404.30,501.23 404.75,501.23 404.75,502.08 405.20,502.08 405.20,500.02 405.65,500.02 405.65,500.43 406.10,500.43 406.10,499.41 406.55,499.41 406.55,499.66 407.00,499.66 407.00,499.53 407.45,499.53 407.45,499.95 407.90,499.95 407.90,500.87 408.35,500.87 408.35,500.08 408.80,500.08 408.80,499.92 409.25,499.92 409.25,499.57 409.70,499.57 409.70,498.94 410.15,498.94 410.15,499.47 410.60,499.47 410.60,500.37 411.05,500.37 411.05,500.35 411.50,500.35 411.50,499.51 411.95,499.51 411.95,500.41 412.40,500.41 412.40,499.71 412.85,499.71 412.85,500.60 413.30,500.60 413.30,500.53 413.75,500.53 413.75,500.70 414.20,500.70 414.20,499.40 414.65,499.40 414.65,499.94 415.10,499.94 415.10,499.89 415.55,499.89 415.55,500.76 416.00,500.76 416.00,499.72 416.45,499.72 416.45,499.66 416.90,499.66 416.90,498.76 417.35,498.76 417.35,498.68 417.80,498.68 417.80,499.95 418.25,499.95 418.25,502.32 418.70,502.32 418.70,501.43 419.15,501.43 419.15,501.21 419.60,501.21 419.60,500.95 420.05,500.95 420.05,499.89 420.50,499.89 420.50,499.72 420.95,499.72 420.95,500.34 421.40,500.34 421.40,500.55 421.85,500.55 421.85,502.04 422.30,502.04 422.30,500.71 422.75,500.71 422.75,500.57 423.20,500.57 423.20,498.83 423.65,498.83 423.65,499.06 424.10,499.06 424.10,499.13 424.55,499.13 424.55,500.49 425.00,500.49 425.00,500.99 425.45,500.99 425.45,500.96 425.90,500.96 425.90,500.29 426.35,500.29 426.35,500.62 426.80,500.62 426.80,500.43 427.25,500.43 427.25,499.43 427.70,499.43 427.70,499.71 428.15,499.71 428.15,499.63 428.60,499.63 428.60,501.60 429.05,501.60 429.05,501.36 429.50,501.36 429.50,499.91 429.95,499.91 429.95,499.37 430.40,499.37 430.40,499.76 430.85,499.76 430.85,499.55 431.30,499.55 431.30,499.83 431.75,499.83 431.75,501.42 432.20,501.42 432.20,501.19 432.65,501.19 432.65,500.65 433.10,500.65 433.10,499.43 433.55,499.43 433.55,498.24 434.00,498.24 434.00,499.43 434.45,499.43 434.45,499.49 434.90,499.49 434.90,499.93 435.35,499.93 435.35,501.71 435.80,501.71 435.80,501.43 436.25,501.43 436.25,500.19 436.70,500.19 436.70,499.70 437.15,499.70 437.15,499.60 437.60,499.60 437.60,499.85 438.05,499.85 438.05,501.04 438.50,501.04 438.50,501.96 438.95,501.96 438.95,501.43 439.40,501.43 439.40,499.99 439.85,499.99 439.85,500.50 440.30,500.50 440.30,499.01 440.75,499.01 440.75,498.51 441.20,498.51 441.20,498.86 441.65,498.86 441.65,499.59 442.10,499.59 442.10,501.25 442.55,501.25 442.55,501.23 443.00,501.23 443.00,500.38 443.30,500.38 443.30,539.30" fill="#74b1de"/><polygon points="327.80,539.30 327.80,500.19 328.25,500.19 328.25,499.49 328.70,499.49 328.70,498.84 329.15,498.84 329.15,500.77 329.60,500.77 329.60,500.30 330.05,500.30 330.05,502.21 330.50,502.21 330.50,501.12 330.95,501.12 330.95,500.62 331.40,500.62 331.40,499.08 331.85,499.08 331.85,499.17 332.30,499.17 332.30,498.89 332.75,498.89 332.75,500.33 333.20,500.33 333.20,500.89 333.65,500.89 333.65,500.78 334.10,500.78 334.10,500.36 334.55,500.36 334.55,499.50 335.00,499.50 335.00,500.78 335.45,500.78 335.45,500.35 335.90,500.35 335.90,499.85 336.35,499.85 336.35,500.31 336.80,500.31 336.80,501.53 337.25,501.53 337.25,499.97 337.70,499.97 337.70,499.68 338.15,499.68 338.15,500.97 338.60,500.97 338.60,500.50 339.05,500.50 339.05,500.30 339.50,500.30 339.50,499.90 339.95,499.90 339.95,501.13 340.40,501.13 340.40,501.13 340.85,501.13 340.85,499.30 341.30,499.30 341.30,499.96 341.75,499.96 341.75,499.17 342.20,499.17 342.20,500.12 342.65,500.12 342.65,499.70 343.10,499.70 343.10,499.54 343.55,499.54 343.55,499.53 344.00,499.53 344.00,500.96 344.45,500.96 344.45,500.77 344.90,500.77 344.90,499.96 345.35,499.96 345.35,499.29 345.80,499.29 345.80,499.57 346.25,499.57 346.25,500.18 346.70,500.18 346.70,500.04 347.15,500.04 347.15,501.19 347.60,501.19 347.60,502.25 348.05,502.25 348.05,500.92 348.50,500.92 348.50,499.85 348.95,499.85 348.95,499.11 349.40,499.11 349.40,499.82 349.85,499.82 349.85,501.16 350.30,501.16 350.30,501.69 350.75,501.69 350.75,501.09 351.20,501.09 351.20,500.17 351.65,500.17 351.65,499.80 352.10,499.80 352.10,498.12 352.55,498.12 352.55,499.21 353.00,499.21 353.00,499.74 353.45,499.74 353.45,500.90 353.90,500.90 353.90,501.18 354.35,501.18 354.35,500.20 354.80,500.20 354.80,499.40 355.25,499.40 355.25,500.63 355.70,500.63 355.70,500.52 356.15,500.52 356.15,499.31 356.60,499.31 356.60,500.04 357.05,500.04 357.05,500.99 357.50,500.99 357.50,501.76 357.95,501.76 357.95,500.64 358.40,500.64 358.40,500.30 358.85,500.30 358.85,500.55 359.30,500.55 359.30,500.68 359.75,500.68 359.75,499.97 360.20,499.97 360.20,500.72 360.65,500.72 360.65,500.82 361.10,500.82 361.10,499.64 361.55,499.64 361.55,499.01 362.00,499.01 362.00,499.44 362.45,499.44 362.45,499.22 362.90,499.22 362.90,499.71 363.35,499.71 363.35,499.97 363.80,499.97 363.80,499.63 364.25,499.63 364.25,500.41 364.70,500.41 364.70,499.75 365.15,499.75 365.15,499.87 365.60,499.87 365.60,499.87 366.05,499.87 366.05,500.43 366.50,500.43 366.50,500.03 366.95,500.03 366.95,500.45 367.40,500.45 367.40,499.78 367.85,499.78 367.85,499.82 368.30,499.82 368.30,500.35 368.75,500.35 368.75,500.01 369.20,500.01 369.20,500.23 369.65,500.23 369.65,500.32 370.10,500.32 370.10,500.69 370.55,500.69 370.55,500.81 371.00,500.81 371.00,501.39 371.45,501.39 371.45,499.45 371.90,499.45 371.90,500.32 372.35,500.32 372.35,499.84 372.80,499.84 372.80,499.49 373.25,499.49 373.25,499.83 373.70,499.83 373.70,500.25 374.15,500.25 374.15,500.16 374.60,500.16 374.60,501.74 375.05,501.74 375.05,499.83 375.50,499.83 375.50,499.21 375.95,499.21 375.95,499.70 376.40,499.70 376.40,500.34 376.85,500.34 376.85,500.23 377.30,500.23 377.30,501.37 377.75,501.37 377.75,501.10 378.20,501.10 378.20,500.56 378.65,500.56 378.65,499.36 379.10,499.36 379.10,499.99 379.55,499.99 379.55,500.14 380.00,500.14 380.00,499.63 380.45,499.63 380.45,499.87 380.90,499.87 380.90,500.88 381.35,500.88 381.35,501.49 381.80,501.49 381.80,499.97 382.25,499.97 382.25,499.98 382.70,499.98 382.70,499.35 383.15,499.35 383.15,499.07 383.60,499.07 383.60,500.80 384.05,500.80 384.05,501.77 384.50,501.77 384.50,501.55 384.95,501.55 384.95,500.82 385.40,500.82 385.40,500.60 385.85,500.60 385.85,499.94 386.30,499.94 386.30,498.40 386.75,498.40 386.75,499.80 387.20,499.80 387.20,500.10 387.65,500.10 387.65,501.41 388.10,501.41 388.10,500.50 388.55,500.50 388.55,500.15 389.00,500.15 389.00,499.56 389.45,499.56 389.45,499.60 389.90,499.60 389.90,499.43 390.35,499.43 390.35,500.80 390.80,500.80 390.80,499.95 391.25,499.95 391.25,500.70 391.70,500.70 391.70,501.19 392.15,501.19 392.15,501.36 392.60,501.36 392.60,500.17 393.05,500.17 393.05,499.03 393.50,499.03 393.50,499.55 393.95,499.55 393.95,501.21 394.40,501.21 394.40,501.36 394.85,501.36 394.85,501.79 395.30,501.79 395.30,499.68 395.75,499.68 395.75,498.50 396.20,498.50 396.20,498.54 396.65,498.54 396.65,497.88 397.10,497.88 397.10,499.71 397.55,499.71 397.55,500.20 398.00,500.20 398.00,501.69 398.45,501.69 398.45,502.32 398.90,502.32 398.90,501.37 399.35,501.37 399.35,500.48 399.80,500.48 399.80,498.75 400.25,498.75 400.25,500.47 400.70,500.47 400.70,500.68 401.15,500.68 401.15,501.76 401.60,501.76 401.60,501.75 402.05,501.75 402.05,500.61 402.50,500.61 402.50,500.58 402.95,500.58 402.95,499.97 403.40,499.97 403.40,499.95 403.85,499.95 403.85,501.13 404.30,501.13 404.30,501.23 404.75,501.23 404.75,502.08 405.20,502.08 405.20,500.02 405.65,500.02 405.65,500.43 406.10,500.43 406.10,499.41 406.55,499.41 406.55,499.66 407.00,499.66 407.00,499.53 407.45,499.53 407.45,499.95 407.90,499.95 407.90,500.87 408.35,500.87 408.35,500.08 408.80,500.08 408.80,499.92 409.25,499.92 409.25,499.57 409.70,499.57 409.70,498.94 410.15,498.94 410.15,499.47 410.60,499.47 410.60,500.37 411.05,500.37 411.05,500.35 411.50,500.35 411.50,499.51 411.95,499.51 411.95,500.41 412.40,500.41 412.40,499.71 412.85,499.71 412.85,500.60 413.30,500.60 413.30,500.53 413.75,500.53 413.75,500.70 414.20,500.70 414.20,499.40 414.65,499.40 414.65,499.94 415.10,499.94 415.10,499.89 415.55,499.89 415.55,500.76 416.00,500.76 416.00,499.72 416.45,499.72 416.45,499.66 416.90,499.66 416.90,498.76 417.35,498.76 417.35,498.68 417.80,498.68 417.80,499.95 418.25,499.95 418.25,502.32 418.70,502.32 418.70,501.43 419.15,501.43 419.15,501.21 419.60,501.21 419.60,500.95 420.05,500.95 420.05,499.89 420.50,499.89 420.50,499.72 420.95,499.72 420.95,500.34 421.40,500.34 421.40,500.55 421.85,500.55 421.85,502.04 422.30,502.04 422.30,500.71 422.75,500.71 422.75,500.57 423.20,500.57 423.20,498.83 423.65,498.83 423.65,499.06 424.10,499.06 424.10,499.13 424.55,499.13 424.55,500.49 425.00,500.49 425.00,500.99 425.45,500.99 425.45,500.96 425.90,500.96 425.90,500.29 426.35,500.29 426.35,500.62 426.80,500.62 426.80,500.43 427.25,500.43 427.25,499.43 427.70,499.43 427.70,499.71 428.15,499.71 428.15,499.63 428.60,499.63 428.60,501.60 429.05,501.60 429.05,501.36 429.50,501.36 429.50,499.91 429.95,499.91 429.95,499.37 430.40,499.37 430.40,499.76 430.85,499.76 430.85,499.55 431.30,499.55 431.30,499.83 431.75,499.83 431.75,501.42 432.20,501.42 432.20,501.19 432.65,501.19 432.65,500.65 433.10,500.65 433.10,499.43 433.55,499.43 433.55,498.24 434.00,498.24 434.00,499.43 434.45,499.43 434.45,499.49 434.90,499.49 434.90,499.93 435.35,499.93 435.35,501.71 435.80,501.71 435.80,501.43 436.25,501.43 436.25,500.19 436.70,500.19 436.70,499.70 437.15,499.70 437.15,499.60 437.60,499.60 437.60,499.85 438.05,499.85 438.05,501.04 438.50,501.04 438.50,501.96 438.95,501.96 438.95,501.43 439.40,501.43 439.40,499.99 439.85,499.99 439.85,500.50 440.30,500.50 440.30,499.01 440.75,499.01 440.75,498.51 441.20,498.51 441.20,498.86 441.65,498.86 441.65,499.59 442.10,499.59 442.10,501.25 442.55,501.25 442.55,501.23 443.00,501.23 443.00,500.38 443.30,500.38 443.30,539.30" fill="url(#st2)"/></g>
<rect x="327.80" y="456.50" width="115.50" height="91.90" fill="none" stroke="#c6c6c6" stroke-width="0.8"/>
<rect x="327.60" y="539.30" width="115.90" height="9.30" fill="url(#gg)"/><rect x="327.60" y="539.30" width="115.90" height="9.30" fill="url(#gv)"/>
<text font-size="7.17" class="t" transform="translate(326.80,467.29) scale(0.77,1)" text-anchor="end">800</text>
<text font-size="7.17" class="t" transform="translate(326.80,483.29) scale(0.77,1)" text-anchor="end">600</text>
<text font-size="7.17" class="t" transform="translate(325.90,500.79) scale(0.77,1)" text-anchor="end">400</text>
<text font-size="7.17" class="t" transform="translate(325.50,521.79) scale(0.77,1)" text-anchor="end">200</text>
<text font-size="7.17" class="t" transform="translate(322.80,542.89) scale(0.77,1)" text-anchor="end">0</text>
<text font-size="7.17" class="t" transform="translate(328.20,556.40) scale(0.77,1)" text-anchor="middle">0</text>
<text font-size="7.17" class="t" transform="translate(349.91,556.40) scale(0.77,1)" text-anchor="middle">50</text>
<text font-size="7.17" class="t" transform="translate(371.62,556.40) scale(0.77,1)" text-anchor="middle">100</text>
<text font-size="7.17" class="t" transform="translate(393.33,556.40) scale(0.77,1)" text-anchor="middle">150</text>
<text font-size="7.17" class="t" transform="translate(415.04,556.40) scale(0.77,1)" text-anchor="middle">200</text>
<text font-size="7.17" class="t" transform="translate(436.75,556.40) scale(0.77,1)" text-anchor="middle">250</text>
<text font-size="6.6" class="ax" transform="translate(382.55,564.80) scale(0.963,1)" text-anchor="middle">Gray scale values</text>
<text font-size="6.41" class="ay" transform="translate(315.40,506.05) rotate(-90) scale(1.199,1)" text-anchor="middle">No. of pixels</text>
<text class="pl" x="378.80" y="584.50" text-anchor="middle">(r)</text>
</g>
<g>
<clipPath id="cs"><rect x="483.30" y="456.50" width="114.00" height="82.80"/></clipPath>
<g clip-path="url(#cs)"><polygon points="483.30,539.30 483.30,497.12 483.75,497.12 483.75,498.25 484.20,498.25 484.20,496.87 484.65,496.87 484.65,497.69 485.10,497.69 485.10,497.84 485.55,497.84 485.55,497.49 486.00,497.49 486.00,497.05 486.45,497.05 486.45,498.29 486.90,498.29 486.90,498.99 487.35,498.99 487.35,497.21 487.80,497.21 487.80,497.20 488.25,497.20 488.25,496.65 488.70,496.65 488.70,496.60 489.15,496.60 489.15,498.95 489.60,498.95 489.60,499.65 490.05,499.65 490.05,498.73 490.50,498.73 490.50,498.34 490.95,498.34 490.95,497.99 491.40,497.99 491.40,497.94 491.85,497.94 491.85,497.41 492.30,497.41 492.30,496.87 492.75,496.87 492.75,496.80 493.20,496.80 493.20,497.60 493.65,497.60 493.65,498.21 494.10,498.21 494.10,497.88 494.55,497.88 494.55,497.22 495.00,497.22 495.00,497.39 495.45,497.39 495.45,496.88 495.90,496.88 495.90,498.15 496.35,498.15 496.35,498.76 496.80,498.76 496.80,499.78 497.25,499.78 497.25,499.24 497.70,499.24 497.70,498.40 498.15,498.40 498.15,498.26 498.60,498.26 498.60,499.02 499.05,499.02 499.05,497.71 499.50,497.71 499.50,497.87 499.95,497.87 499.95,498.68 500.40,498.68 500.40,498.20 500.85,498.20 500.85,497.51 501.30,497.51 501.30,498.43 501.75,498.43 501.75,497.70 502.20,497.70 502.20,497.30 502.65,497.30 502.65,497.75 503.10,497.75 503.10,499.28 503.55,499.28 503.55,498.93 504.00,498.93 504.00,498.59 504.45,498.59 504.45,497.56 504.90,497.56 504.90,496.09 505.35,496.09 505.35,496.22 505.80,496.22 505.80,498.09 506.25,498.09 506.25,498.05 506.70,498.05 506.70,497.75 507.15,497.75 507.15,497.65 507.60,497.65 507.60,498.44 508.05,498.44 508.05,496.90 508.50,496.90 508.50,496.37 508.95,496.37 508.95,497.88 509.40,497.88 509.40,497.40 509.85,497.40 509.85,498.21 510.30,498.21 510.30,497.95 510.75,497.95 510.75,499.28 511.20,499.28 511.20,497.99 511.65,497.99 511.65,497.22 512.10,497.22 512.10,497.73 512.55,497.73 512.55,499.03 513.00,499.03 513.00,499.15 513.45,499.15 513.45,499.48 513.90,499.48 513.90,498.23 514.35,498.23 514.35,496.97 514.80,496.97 514.80,498.00 515.25,498.00 515.25,498.17 515.70,498.17 515.70,497.76 516.15,497.76 516.15,497.61 516.60,497.61 516.60,497.59 517.05,497.59 517.05,498.12 517.50,498.12 517.50,497.67 517.95,497.67 517.95,496.83 518.40,496.83 518.40,496.89 518.85,496.89 518.85,495.99 519.30,495.99 519.30,497.03 519.75,497.03 519.75,498.44 520.20,498.44 520.20,498.17 520.65,498.17 520.65,499.66 521.10,499.66 521.10,498.74 521.55,498.74 521.55,498.83 522.00,498.83 522.00,498.31 522.45,498.31 522.45,496.97 522.90,496.97 522.90,497.98 523.35,497.98 523.35,499.94 523.80,499.94 523.80,499.38 524.25,499.38 524.25,499.41 524.70,499.41 524.70,497.94 525.15,497.94 525.15,498.02 525.60,498.02 525.60,497.95 526.05,497.95 526.05,497.42 526.50,497.42 526.50,499.47 526.95,499.47 526.95,500.26 527.40,500.26 527.40,499.95 527.85,499.95 527.85,498.24 528.30,498.24 528.30,497.88 528.75,497.88 528.75,496.13 529.20,496.13 529.20,496.69 529.65,496.69 529.65,497.60 530.10,497.60 530.10,498.49 530.55,498.49 530.55,499.19 531.00,499.19 531.00,499.50 531.45,499.50 531.45,499.27 531.90,499.27 531.90,498.39 532.35,498.39 532.35,498.10 532.80,498.10 532.80,497.74 533.25,497.74 533.25,499.10 533.70,499.10 533.70,497.88 534.15,497.88 534.15,498.57 534.60,498.57 534.60,499.24 535.05,499.24 535.05,498.66 535.50,498.66 535.50,498.72 535.95,498.72 535.95,499.06 536.40,499.06 536.40,497.99 536.85,497.99 536.85,499.09 537.30,499.09 537.30,498.76 537.75,498.76 537.75,499.93 538.20,499.93 538.20,498.62 538.65,498.62 538.65,498.35 539.10,498.35 539.10,496.40 539.55,496.40 539.55,498.52 540.00,498.52 540.00,499.20 540.45,499.20 540.45,499.04 540.90,499.04 540.90,500.53 541.35,500.53 541.35,497.52 541.80,497.52 541.80,497.58 542.25,497.58 542.25,497.67 542.70,497.67 542.70,497.27 543.15,497.27 543.15,497.85 543.60,497.85 543.60,497.28 544.05,497.28 544.05,497.71 544.50,497.71 544.50,499.55 544.95,499.55 544.95,499.16 545.40,499.16 545.40,498.19 545.85,498.19 545.85,498.11 546.30,498.11 546.30,497.47 546.75,497.47 546.75,499.54 547.20,499.54 547.20,499.37 547.65,499.37 547.65,500.71 548.10,500.71 548.10,498.72 548.55,498.72 548.55,496.93 549.00,496.93 549.00,496.16 549.45,496.16 549.45,496.29 549.90,496.29 549.90,496.96 550.35,496.96 550.35,498.06 550.80,498.06 550.80,499.36 551.25,499.36 551.25,500.30 551.70,500.30 551.70,499.81 552.15,499.81 552.15,498.18 552.60,498.18 552.60,497.70 553.05,497.70 553.05,497.47 553.50,497.47 553.50,499.24 553.95,499.24 553.95,498.83 554.40,498.83 554.40,501.18 554.85,501.18 554.85,498.64 555.30,498.64 555.30,499.43 555.75,499.43 555.75,498.46 556.20,498.46 556.20,498.36 556.65,498.36 556.65,497.68 557.10,497.68 557.10,499.32 557.55,499.32 557.55,499.10 558.00,499.10 558.00,498.74 558.45,498.74 558.45,498.58 558.90,498.58 558.90,498.43 559.35,498.43 559.35,498.41 559.80,498.41 559.80,497.91 560.25,497.91 560.25,499.20 560.70,499.20 560.70,498.51 561.15,498.51 561.15,498.81 561.60,498.81 561.60,498.93 562.05,498.93 562.05,498.05 562.50,498.05 562.50,498.43 562.95,498.43 562.95,497.96 563.40,497.96 563.40,498.31 563.85,498.31 563.85,497.66 564.30,497.66 564.30,498.86 564.75,498.86 564.75,498.29 565.20,498.29 565.20,498.44 565.65,498.44 565.65,498.78 566.10,498.78 566.10,497.00 566.55,497.00 566.55,497.80 567.00,497.80 567.00,497.63 567.45,497.63 567.45,498.52 567.90,498.52 567.90,497.94 568.35,497.94 568.35,498.29 568.80,498.29 568.80,498.74 569.25,498.74 569.25,496.32 569.70,496.32 569.70,495.55 570.15,495.55 570.15,497.15 570.60,497.15 570.60,497.81 571.05,497.81 571.05,499.54 571.50,499.54 571.50,499.22 571.95,499.22 571.95,497.53 572.40,497.53 572.40,498.63 572.85,498.63 572.85,497.16 573.30,497.16 573.30,497.67 573.75,497.67 573.75,497.41 574.20,497.41 574.20,497.93 574.65,497.93 574.65,498.84 575.10,498.84 575.10,498.31 575.55,498.31 575.55,497.98 576.00,497.98 576.00,499.17 576.45,499.17 576.45,498.93 576.90,498.93 576.90,499.06 577.35,499.06 577.35,498.88 577.80,498.88 577.80,498.57 578.25,498.57 578.25,498.35 578.70,498.35 578.70,499.24 579.15,499.24 579.15,497.79 579.60,497.79 579.60,498.40 580.05,498.40 580.05,497.94 580.50,497.94 580.50,497.71 580.95,497.71 580.95,498.90 581.40,498.90 581.40,499.95 581.85,499.95 581.85,500.11 582.30,500.11 582.30,498.85 582.75,498.85 582.75,497.73 583.20,497.73 583.20,497.47 583.65,497.47 583.65,496.88 584.10,496.88 584.10,498.96 584.55,498.96 584.55,498.31 585.00,498.31 585.00,499.54 585.45,499.54 585.45,500.33 585.90,500.33 585.90,498.28 586.35,498.28 586.35,497.61 586.80,497.61 586.80,496.93 587.25,496.93 587.25,497.55 587.70,497.55 587.70,499.31 588.15,499.31 588.15,500.68 588.60,500.68 588.60,500.80 589.05,500.80 589.05,498.14 589.50,498.14 589.50,497.04 589.95,497.04 589.95,496.70 590.40,496.70 590.40,497.73 590.85,497.73 590.85,497.96 591.30,497.96 591.30,498.75 591.75,498.75 591.75,498.54 592.20,498.54 592.20,498.29 592.65,498.29 592.65,498.36 593.10,498.36 593.10,497.26 593.55,497.26 593.55,496.76 594.00,496.76 594.00,497.47 594.45,497.47 594.45,497.12 594.90,497.12 594.90,498.17 595.35,498.17 595.35,498.37 595.80,498.37 595.80,497.62 596.25,497.62 596.25,497.90 596.70,497.90 596.70,496.96 597.15,496.96 597.15,497.19 597.30,497.19 597.30,539.30" fill="#74b1de"/><polygon points="483.30,539.30 483.30,497.12 483.75,497.12 483.75,498.25 484.20,498.25 484.20,496.87 484.65,496.87 484.65,497.69 485.10,497.69 485.10,497.84 485.55,497.84 485.55,497.49 486.00,497.49 486.00,497.05 486.45,497.05 486.45,498.29 486.90,498.29 486.90,498.99 487.35,498.99 487.35,497.21 487.80,497.21 487.80,497.20 488.25,497.20 488.25,496.65 488.70,496.65 488.70,496.60 489.15,496.60 489.15,498.95 489.60,498.95 489.60,499.65 490.05,499.65 490.05,498.73 490.50,498.73 490.50,498.34 490.95,498.34 490.95,497.99 491.40,497.99 491.40,497.94 491.85,497.94 491.85,497.41 492.30,497.41 492.30,496.87 492.75,496.87 492.75,496.80 493.20,496.80 493.20,497.60 493.65,497.60 493.65,498.21 494.10,498.21 494.10,497.88 494.55,497.88 494.55,497.22 495.00,497.22 495.00,497.39 495.45,497.39 495.45,496.88 495.90,496.88 495.90,498.15 496.35,498.15 496.35,498.76 496.80,498.76 496.80,499.78 497.25,499.78 497.25,499.24 497.70,499.24 497.70,498.40 498.15,498.40 498.15,498.26 498.60,498.26 498.60,499.02 499.05,499.02 499.05,497.71 499.50,497.71 499.50,497.87 499.95,497.87 499.95,498.68 500.40,498.68 500.40,498.20 500.85,498.20 500.85,497.51 501.30,497.51 501.30,498.43 501.75,498.43 501.75,497.70 502.20,497.70 502.20,497.30 502.65,497.30 502.65,497.75 503.10,497.75 503.10,499.28 503.55,499.28 503.55,498.93 504.00,498.93 504.00,498.59 504.45,498.59 504.45,497.56 504.90,497.56 504.90,496.09 505.35,496.09 505.35,496.22 505.80,496.22 505.80,498.09 506.25,498.09 506.25,498.05 506.70,498.05 506.70,497.75 507.15,497.75 507.15,497.65 507.60,497.65 507.60,498.44 508.05,498.44 508.05,496.90 508.50,496.90 508.50,496.37 508.95,496.37 508.95,497.88 509.40,497.88 509.40,497.40 509.85,497.40 509.85,498.21 510.30,498.21 510.30,497.95 510.75,497.95 510.75,499.28 511.20,499.28 511.20,497.99 511.65,497.99 511.65,497.22 512.10,497.22 512.10,497.73 512.55,497.73 512.55,499.03 513.00,499.03 513.00,499.15 513.45,499.15 513.45,499.48 513.90,499.48 513.90,498.23 514.35,498.23 514.35,496.97 514.80,496.97 514.80,498.00 515.25,498.00 515.25,498.17 515.70,498.17 515.70,497.76 516.15,497.76 516.15,497.61 516.60,497.61 516.60,497.59 517.05,497.59 517.05,498.12 517.50,498.12 517.50,497.67 517.95,497.67 517.95,496.83 518.40,496.83 518.40,496.89 518.85,496.89 518.85,495.99 519.30,495.99 519.30,497.03 519.75,497.03 519.75,498.44 520.20,498.44 520.20,498.17 520.65,498.17 520.65,499.66 521.10,499.66 521.10,498.74 521.55,498.74 521.55,498.83 522.00,498.83 522.00,498.31 522.45,498.31 522.45,496.97 522.90,496.97 522.90,497.98 523.35,497.98 523.35,499.94 523.80,499.94 523.80,499.38 524.25,499.38 524.25,499.41 524.70,499.41 524.70,497.94 525.15,497.94 525.15,498.02 525.60,498.02 525.60,497.95 526.05,497.95 526.05,497.42 526.50,497.42 526.50,499.47 526.95,499.47 526.95,500.26 527.40,500.26 527.40,499.95 527.85,499.95 527.85,498.24 528.30,498.24 528.30,497.88 528.75,497.88 528.75,496.13 529.20,496.13 529.20,496.69 529.65,496.69 529.65,497.60 530.10,497.60 530.10,498.49 530.55,498.49 530.55,499.19 531.00,499.19 531.00,499.50 531.45,499.50 531.45,499.27 531.90,499.27 531.90,498.39 532.35,498.39 532.35,498.10 532.80,498.10 532.80,497.74 533.25,497.74 533.25,499.10 533.70,499.10 533.70,497.88 534.15,497.88 534.15,498.57 534.60,498.57 534.60,499.24 535.05,499.24 535.05,498.66 535.50,498.66 535.50,498.72 535.95,498.72 535.95,499.06 536.40,499.06 536.40,497.99 536.85,497.99 536.85,499.09 537.30,499.09 537.30,498.76 537.75,498.76 537.75,499.93 538.20,499.93 538.20,498.62 538.65,498.62 538.65,498.35 539.10,498.35 539.10,496.40 539.55,496.40 539.55,498.52 540.00,498.52 540.00,499.20 540.45,499.20 540.45,499.04 540.90,499.04 540.90,500.53 541.35,500.53 541.35,497.52 541.80,497.52 541.80,497.58 542.25,497.58 542.25,497.67 542.70,497.67 542.70,497.27 543.15,497.27 543.15,497.85 543.60,497.85 543.60,497.28 544.05,497.28 544.05,497.71 544.50,497.71 544.50,499.55 544.95,499.55 544.95,499.16 545.40,499.16 545.40,498.19 545.85,498.19 545.85,498.11 546.30,498.11 546.30,497.47 546.75,497.47 546.75,499.54 547.20,499.54 547.20,499.37 547.65,499.37 547.65,500.71 548.10,500.71 548.10,498.72 548.55,498.72 548.55,496.93 549.00,496.93 549.00,496.16 549.45,496.16 549.45,496.29 549.90,496.29 549.90,496.96 550.35,496.96 550.35,498.06 550.80,498.06 550.80,499.36 551.25,499.36 551.25,500.30 551.70,500.30 551.70,499.81 552.15,499.81 552.15,498.18 552.60,498.18 552.60,497.70 553.05,497.70 553.05,497.47 553.50,497.47 553.50,499.24 553.95,499.24 553.95,498.83 554.40,498.83 554.40,501.18 554.85,501.18 554.85,498.64 555.30,498.64 555.30,499.43 555.75,499.43 555.75,498.46 556.20,498.46 556.20,498.36 556.65,498.36 556.65,497.68 557.10,497.68 557.10,499.32 557.55,499.32 557.55,499.10 558.00,499.10 558.00,498.74 558.45,498.74 558.45,498.58 558.90,498.58 558.90,498.43 559.35,498.43 559.35,498.41 559.80,498.41 559.80,497.91 560.25,497.91 560.25,499.20 560.70,499.20 560.70,498.51 561.15,498.51 561.15,498.81 561.60,498.81 561.60,498.93 562.05,498.93 562.05,498.05 562.50,498.05 562.50,498.43 562.95,498.43 562.95,497.96 563.40,497.96 563.40,498.31 563.85,498.31 563.85,497.66 564.30,497.66 564.30,498.86 564.75,498.86 564.75,498.29 565.20,498.29 565.20,498.44 565.65,498.44 565.65,498.78 566.10,498.78 566.10,497.00 566.55,497.00 566.55,497.80 567.00,497.80 567.00,497.63 567.45,497.63 567.45,498.52 567.90,498.52 567.90,497.94 568.35,497.94 568.35,498.29 568.80,498.29 568.80,498.74 569.25,498.74 569.25,496.32 569.70,496.32 569.70,495.55 570.15,495.55 570.15,497.15 570.60,497.15 570.60,497.81 571.05,497.81 571.05,499.54 571.50,499.54 571.50,499.22 571.95,499.22 571.95,497.53 572.40,497.53 572.40,498.63 572.85,498.63 572.85,497.16 573.30,497.16 573.30,497.67 573.75,497.67 573.75,497.41 574.20,497.41 574.20,497.93 574.65,497.93 574.65,498.84 575.10,498.84 575.10,498.31 575.55,498.31 575.55,497.98 576.00,497.98 576.00,499.17 576.45,499.17 576.45,498.93 576.90,498.93 576.90,499.06 577.35,499.06 577.35,498.88 577.80,498.88 577.80,498.57 578.25,498.57 578.25,498.35 578.70,498.35 578.70,499.24 579.15,499.24 579.15,497.79 579.60,497.79 579.60,498.40 580.05,498.40 580.05,497.94 580.50,497.94 580.50,497.71 580.95,497.71 580.95,498.90 581.40,498.90 581.40,499.95 581.85,499.95 581.85,500.11 582.30,500.11 582.30,498.85 582.75,498.85 582.75,497.73 583.20,497.73 583.20,497.47 583.65,497.47 583.65,496.88 584.10,496.88 584.10,498.96 584.55,498.96 584.55,498.31 585.00,498.31 585.00,499.54 585.45,499.54 585.45,500.33 585.90,500.33 585.90,498.28 586.35,498.28 586.35,497.61 586.80,497.61 586.80,496.93 587.25,496.93 587.25,497.55 587.70,497.55 587.70,499.31 588.15,499.31 588.15,500.68 588.60,500.68 588.60,500.80 589.05,500.80 589.05,498.14 589.50,498.14 589.50,497.04 589.95,497.04 589.95,496.70 590.40,496.70 590.40,497.73 590.85,497.73 590.85,497.96 591.30,497.96 591.30,498.75 591.75,498.75 591.75,498.54 592.20,498.54 592.20,498.29 592.65,498.29 592.65,498.36 593.10,498.36 593.10,497.26 593.55,497.26 593.55,496.76 594.00,496.76 594.00,497.47 594.45,497.47 594.45,497.12 594.90,497.12 594.90,498.17 595.35,498.17 595.35,498.37 595.80,498.37 595.80,497.62 596.25,497.62 596.25,497.90 596.70,497.90 596.70,496.96 597.15,496.96 597.15,497.19 597.30,497.19 597.30,539.30" fill="url(#st2)"/></g>
<rect x="483.30" y="456.50" width="114.00" height="91.90" fill="none" stroke="#c6c6c6" stroke-width="0.8"/>
<rect x="483.10" y="539.30" width="114.40" height="9.30" fill="url(#gg)"/><rect x="483.10" y="539.30" width="114.40" height="9.30" fill="url(#gv)"/>
<text font-size="7.17" class="t" transform="translate(482.30,467.29) scale(0.77,1)" text-anchor="end">800</text>
<text font-size="7.17" class="t" transform="translate(482.30,483.29) scale(0.77,1)" text-anchor="end">600</text>
<text font-size="7.17" class="t" transform="translate(481.40,500.79) scale(0.77,1)" text-anchor="end">400</text>
<text font-size="7.17" class="t" transform="translate(481.00,521.79) scale(0.77,1)" text-anchor="end">200</text>
<text font-size="7.17" class="t" transform="translate(478.30,542.89) scale(0.77,1)" text-anchor="end">0</text>
<text font-size="7.17" class="t" transform="translate(483.70,556.40) scale(0.77,1)" text-anchor="middle">0</text>
<text font-size="7.17" class="t" transform="translate(505.13,556.40) scale(0.77,1)" text-anchor="middle">50</text>
<text font-size="7.17" class="t" transform="translate(526.56,556.40) scale(0.77,1)" text-anchor="middle">100</text>
<text font-size="7.17" class="t" transform="translate(547.99,556.40) scale(0.77,1)" text-anchor="middle">150</text>
<text font-size="7.17" class="t" transform="translate(569.41,556.40) scale(0.77,1)" text-anchor="middle">200</text>
<text font-size="7.17" class="t" transform="translate(590.84,556.40) scale(0.77,1)" text-anchor="middle">250</text>
<text font-size="6.6" class="ax" transform="translate(537.30,564.80) scale(0.963,1)" text-anchor="middle">Gray scale values</text>
<text font-size="6.41" class="ay" transform="translate(470.90,506.05) rotate(-90) scale(1.199,1)" text-anchor="middle">No. of pixels</text>
<text class="pl" x="533.80" y="584.50" text-anchor="middle">(s)</text>
</g>
<g>
<clipPath id="ct"><rect x="637.50" y="457.20" width="114.50" height="82.60"/></clipPath>
<g clip-path="url(#ct)"><polygon points="637.50,539.80 637.50,497.73 637.95,497.73 637.95,498.10 638.40,498.10 638.40,499.68 638.85,499.68 638.85,499.65 639.30,499.65 639.30,501.34 639.75,501.34 639.75,499.27 640.20,499.27 640.20,498.50 640.65,498.50 640.65,498.70 641.10,498.70 641.10,498.51 641.55,498.51 641.55,499.42 642.00,499.42 642.00,499.70 642.45,499.70 642.45,499.74 642.90,499.74 642.90,499.00 643.35,499.00 643.35,498.98 643.80,498.98 643.80,498.48 644.25,498.48 644.25,498.91 644.70,498.91 644.70,499.03 645.15,499.03 645.15,498.49 645.60,498.49 645.60,498.08 646.05,498.08 646.05,499.06 646.50,499.06 646.50,500.26 646.95,500.26 646.95,499.40 647.40,499.40 647.40,497.81 647.85,497.81 647.85,497.33 648.30,497.33 648.30,498.10 648.75,498.10 648.75,498.44 649.20,498.44 649.20,499.63 649.65,499.63 649.65,500.65 650.10,500.65 650.10,499.98 650.55,499.98 650.55,498.84 651.00,498.84 651.00,498.62 651.45,498.62 651.45,497.78 651.90,497.78 651.90,499.32 652.35,499.32 652.35,499.84 652.80,499.84 652.80,500.81 653.25,500.81 653.25,499.11 653.70,499.11 653.70,498.60 654.15,498.60 654.15,499.04 654.60,499.04 654.60,498.34 655.05,498.34 655.05,498.31 655.50,498.31 655.50,498.18 655.95,498.18 655.95,499.14 656.40,499.14 656.40,499.58 656.85,499.58 656.85,499.88 657.30,499.88 657.30,498.07 657.75,498.07 657.75,498.77 658.20,498.77 658.20,497.62 658.65,497.62 658.65,497.69 659.10,497.69 659.10,499.31 659.55,499.31 659.55,499.59 660.00,499.59 660.00,499.85 660.45,499.85 660.45,498.51 660.90,498.51 660.90,499.30 661.35,499.30 661.35,498.54 661.80,498.54 661.80,497.05 662.25,497.05 662.25,497.68 662.70,497.68 662.70,498.89 663.15,498.89 663.15,500.49 663.60,500.49 663.60,499.01 664.05,499.01 664.05,498.06 664.50,498.06 664.50,499.44 664.95,499.44 664.95,499.27 665.40,499.27 665.40,498.26 665.85,498.26 665.85,497.92 666.30,497.92 666.30,499.36 666.75,499.36 666.75,499.50 667.20,499.50 667.20,500.88 667.65,500.88 667.65,499.02 668.10,499.02 668.10,498.23 668.55,498.23 668.55,498.36 669.00,498.36 669.00,499.40 669.45,499.40 669.45,499.66 669.90,499.66 669.90,500.26 670.35,500.26 670.35,499.42 670.80,499.42 670.80,499.75 671.25,499.75 671.25,499.04 671.70,499.04 671.70,499.33 672.15,499.33 672.15,498.69 672.60,498.69 672.60,499.70 673.05,499.70 673.05,499.60 673.50,499.60 673.50,500.23 673.95,500.23 673.95,500.39 674.40,500.39 674.40,499.30 674.85,499.30 674.85,498.36 675.30,498.36 675.30,499.29 675.75,499.29 675.75,498.70 676.20,498.70 676.20,499.63 676.65,499.63 676.65,500.75 677.10,500.75 677.10,500.95 677.55,500.95 677.55,499.43 678.00,499.43 678.00,498.95 678.45,498.95 678.45,498.78 678.90,498.78 678.90,498.34 679.35,498.34 679.35,498.80 679.80,498.80 679.80,499.71 680.25,499.71 680.25,500.17 680.70,500.17 680.70,498.73 681.15,498.73 681.15,499.49 681.60,499.49 681.60,499.49 682.05,499.49 682.05,498.56 682.50,498.56 682.50,498.92 682.95,498.92 682.95,499.60 683.40,499.60 683.40,500.01 683.85,500.01 683.85,499.29 684.30,499.29 684.30,498.74 684.75,498.74 684.75,498.97 685.20,498.97 685.20,498.09 685.65,498.09 685.65,497.71 686.10,497.71 686.10,499.25 686.55,499.25 686.55,500.05 687.00,500.05 687.00,500.41 687.45,500.41 687.45,500.19 687.90,500.19 687.90,498.64 688.35,498.64 688.35,497.38 688.80,497.38 688.80,497.44 689.25,497.44 689.25,498.42 689.70,498.42 689.70,500.01 690.15,500.01 690.15,499.84 690.60,499.84 690.60,499.82 691.05,499.82 691.05,500.53 691.50,500.53 691.50,499.55 691.95,499.55 691.95,499.07 692.40,499.07 692.40,499.82 692.85,499.82 692.85,500.63 693.30,500.63 693.30,501.24 693.75,501.24 693.75,500.22 694.20,500.22 694.20,500.12 694.65,500.12 694.65,499.73 695.10,499.73 695.10,498.89 695.55,498.89 695.55,497.10 696.00,497.10 696.00,498.32 696.45,498.32 696.45,498.63 696.90,498.63 696.90,499.56 697.35,499.56 697.35,499.85 697.80,499.85 697.80,500.34 698.25,500.34 698.25,500.17 698.70,500.17 698.70,499.23 699.15,499.23 699.15,498.97 699.60,498.97 699.60,499.74 700.05,499.74 700.05,500.40 700.50,500.40 700.50,501.16 700.95,501.16 700.95,499.27 701.40,499.27 701.40,499.86 701.85,499.86 701.85,498.03 702.30,498.03 702.30,498.40 702.75,498.40 702.75,499.39 703.20,499.39 703.20,498.49 703.65,498.49 703.65,499.59 704.10,499.59 704.10,499.46 704.55,499.46 704.55,500.15 705.00,500.15 705.00,500.49 705.45,500.49 705.45,498.34 705.90,498.34 705.90,498.51 706.35,498.51 706.35,499.47 706.80,499.47 706.80,500.70 707.25,500.70 707.25,500.16 707.70,500.16 707.70,500.59 708.15,500.59 708.15,500.43 708.60,500.43 708.60,499.23 709.05,499.23 709.05,496.85 709.50,496.85 709.50,498.56 709.95,498.56 709.95,499.43 710.40,499.43 710.40,500.10 710.85,500.10 710.85,501.89 711.30,501.89 711.30,499.60 711.75,499.60 711.75,500.02 712.20,500.02 712.20,500.35 712.65,500.35 712.65,500.51 713.10,500.51 713.10,499.46 713.55,499.46 713.55,499.63 714.00,499.63 714.00,500.25 714.45,500.25 714.45,501.23 714.90,501.23 714.90,500.69 715.35,500.69 715.35,498.56 715.80,498.56 715.80,498.19 716.25,498.19 716.25,498.76 716.70,498.76 716.70,500.44 717.15,500.44 717.15,499.57 717.60,499.57 717.60,501.49 718.05,501.49 718.05,498.86 718.50,498.86 718.50,498.97 718.95,498.97 718.95,499.04 719.40,499.04 719.40,498.78 719.85,498.78 719.85,499.29 720.30,499.29 720.30,498.90 720.75,498.90 720.75,499.27 721.20,499.27 721.20,499.63 721.65,499.63 721.65,498.36 722.10,498.36 722.10,499.00 722.55,499.00 722.55,499.19 723.00,499.19 723.00,499.23 723.45,499.23 723.45,499.66 723.90,499.66 723.90,498.79 724.35,498.79 724.35,499.89 724.80,499.89 724.80,499.36 725.25,499.36 725.25,500.14 725.70,500.14 725.70,499.90 726.15,499.90 726.15,499.85 726.60,499.85 726.60,499.42 727.05,499.42 727.05,499.04 727.50,499.04 727.50,500.39 727.95,500.39 727.95,499.46 728.40,499.46 728.40,499.25 728.85,499.25 728.85,499.53 729.30,499.53 729.30,498.00 729.75,498.00 729.75,498.97 730.20,498.97 730.20,498.95 730.65,498.95 730.65,499.28 731.10,499.28 731.10,500.85 731.55,500.85 731.55,499.93 732.00,499.93 732.00,500.40 732.45,500.40 732.45,499.38 732.90,499.38 732.90,499.72 733.35,499.72 733.35,499.10 733.80,499.10 733.80,500.29 734.25,500.29 734.25,501.09 734.70,501.09 734.70,500.98 735.15,500.98 735.15,499.91 735.60,499.91 735.60,499.05 736.05,499.05 736.05,498.64 736.50,498.64 736.50,499.33 736.95,499.33 736.95,499.01 737.40,499.01 737.40,499.59 737.85,499.59 737.85,500.14 738.30,500.14 738.30,500.21 738.75,500.21 738.75,499.24 739.20,499.24 739.20,499.08 739.65,499.08 739.65,498.57 740.10,498.57 740.10,497.80 740.55,497.80 740.55,499.47 741.00,499.47 741.00,501.16 741.45,501.16 741.45,501.92 741.90,501.92 741.90,499.40 742.35,499.40 742.35,498.72 742.80,498.72 742.80,497.47 743.25,497.47 743.25,498.45 743.70,498.45 743.70,498.09 744.15,498.09 744.15,498.71 744.60,498.71 744.60,500.04 745.05,500.04 745.05,500.32 745.50,500.32 745.50,498.45 745.95,498.45 745.95,499.61 746.40,499.61 746.40,499.25 746.85,499.25 746.85,498.92 747.30,498.92 747.30,499.71 747.75,499.71 747.75,498.54 748.20,498.54 748.20,499.11 748.65,499.11 748.65,499.10 749.10,499.10 749.10,498.71 749.55,498.71 749.55,497.55 750.00,497.55 750.00,497.55 750.45,497.55 750.45,497.46 750.90,497.46 750.90,498.07 751.35,498.07 751.35,500.29 751.80,500.29 751.80,499.45 752.00,499.45 752.00,539.80" fill="#74b1de"/><polygon points="637.50,539.80 637.50,497.73 637.95,497.73 637.95,498.10 638.40,498.10 638.40,499.68 638.85,499.68 638.85,499.65 639.30,499.65 639.30,501.34 639.75,501.34 639.75,499.27 640.20,499.27 640.20,498.50 640.65,498.50 640.65,498.70 641.10,498.70 641.10,498.51 641.55,498.51 641.55,499.42 642.00,499.42 642.00,499.70 642.45,499.70 642.45,499.74 642.90,499.74 642.90,499.00 643.35,499.00 643.35,498.98 643.80,498.98 643.80,498.48 644.25,498.48 644.25,498.91 644.70,498.91 644.70,499.03 645.15,499.03 645.15,498.49 645.60,498.49 645.60,498.08 646.05,498.08 646.05,499.06 646.50,499.06 646.50,500.26 646.95,500.26 646.95,499.40 647.40,499.40 647.40,497.81 647.85,497.81 647.85,497.33 648.30,497.33 648.30,498.10 648.75,498.10 648.75,498.44 649.20,498.44 649.20,499.63 649.65,499.63 649.65,500.65 650.10,500.65 650.10,499.98 650.55,499.98 650.55,498.84 651.00,498.84 651.00,498.62 651.45,498.62 651.45,497.78 651.90,497.78 651.90,499.32 652.35,499.32 652.35,499.84 652.80,499.84 652.80,500.81 653.25,500.81 653.25,499.11 653.70,499.11 653.70,498.60 654.15,498.60 654.15,499.04 654.60,499.04 654.60,498.34 655.05,498.34 655.05,498.31 655.50,498.31 655.50,498.18 655.95,498.18 655.95,499.14 656.40,499.14 656.40,499.58 656.85,499.58 656.85,499.88 657.30,499.88 657.30,498.07 657.75,498.07 657.75,498.77 658.20,498.77 658.20,497.62 658.65,497.62 658.65,497.69 659.10,497.69 659.10,499.31 659.55,499.31 659.55,499.59 660.00,499.59 660.00,499.85 660.45,499.85 660.45,498.51 660.90,498.51 660.90,499.30 661.35,499.30 661.35,498.54 661.80,498.54 661.80,497.05 662.25,497.05 662.25,497.68 662.70,497.68 662.70,498.89 663.15,498.89 663.15,500.49 663.60,500.49 663.60,499.01 664.05,499.01 664.05,498.06 664.50,498.06 664.50,499.44 664.95,499.44 664.95,499.27 665.40,499.27 665.40,498.26 665.85,498.26 665.85,497.92 666.30,497.92 666.30,499.36 666.75,499.36 666.75,499.50 667.20,499.50 667.20,500.88 667.65,500.88 667.65,499.02 668.10,499.02 668.10,498.23 668.55,498.23 668.55,498.36 669.00,498.36 669.00,499.40 669.45,499.40 669.45,499.66 669.90,499.66 669.90,500.26 670.35,500.26 670.35,499.42 670.80,499.42 670.80,499.75 671.25,499.75 671.25,499.04 671.70,499.04 671.70,499.33 672.15,499.33 672.15,498.69 672.60,498.69 672.60,499.70 673.05,499.70 673.05,499.60 673.50,499.60 673.50,500.23 673.95,500.23 673.95,500.39 674.40,500.39 674.40,499.30 674.85,499.30 674.85,498.36 675.30,498.36 675.30,499.29 675.75,499.29 675.75,498.70 676.20,498.70 676.20,499.63 676.65,499.63 676.65,500.75 677.10,500.75 677.10,500.95 677.55,500.95 677.55,499.43 678.00,499.43 678.00,498.95 678.45,498.95 678.45,498.78 678.90,498.78 678.90,498.34 679.35,498.34 679.35,498.80 679.80,498.80 679.80,499.71 680.25,499.71 680.25,500.17 680.70,500.17 680.70,498.73 681.15,498.73 681.15,499.49 681.60,499.49 681.60,499.49 682.05,499.49 682.05,498.56 682.50,498.56 682.50,498.92 682.95,498.92 682.95,499.60 683.40,499.60 683.40,500.01 683.85,500.01 683.85,499.29 684.30,499.29 684.30,498.74 684.75,498.74 684.75,498.97 685.20,498.97 685.20,498.09 685.65,498.09 685.65,497.71 686.10,497.71 686.10,499.25 686.55,499.25 686.55,500.05 687.00,500.05 687.00,500.41 687.45,500.41 687.45,500.19 687.90,500.19 687.90,498.64 688.35,498.64 688.35,497.38 688.80,497.38 688.80,497.44 689.25,497.44 689.25,498.42 689.70,498.42 689.70,500.01 690.15,500.01 690.15,499.84 690.60,499.84 690.60,499.82 691.05,499.82 691.05,500.53 691.50,500.53 691.50,499.55 691.95,499.55 691.95,499.07 692.40,499.07 692.40,499.82 692.85,499.82 692.85,500.63 693.30,500.63 693.30,501.24 693.75,501.24 693.75,500.22 694.20,500.22 694.20,500.12 694.65,500.12 694.65,499.73 695.10,499.73 695.10,498.89 695.55,498.89 695.55,497.10 696.00,497.10 696.00,498.32 696.45,498.32 696.45,498.63 696.90,498.63 696.90,499.56 697.35,499.56 697.35,499.85 697.80,499.85 697.80,500.34 698.25,500.34 698.25,500.17 698.70,500.17 698.70,499.23 699.15,499.23 699.15,498.97 699.60,498.97 699.60,499.74 700.05,499.74 700.05,500.40 700.50,500.40 700.50,501.16 700.95,501.16 700.95,499.27 701.40,499.27 701.40,499.86 701.85,499.86 701.85,498.03 702.30,498.03 702.30,498.40 702.75,498.40 702.75,499.39 703.20,499.39 703.20,498.49 703.65,498.49 703.65,499.59 704.10,499.59 704.10,499.46 704.55,499.46 704.55,500.15 705.00,500.15 705.00,500.49 705.45,500.49 705.45,498.34 705.90,498.34 705.90,498.51 706.35,498.51 706.35,499.47 706.80,499.47 706.80,500.70 707.25,500.70 707.25,500.16 707.70,500.16 707.70,500.59 708.15,500.59 708.15,500.43 708.60,500.43 708.60,499.23 709.05,499.23 709.05,496.85 709.50,496.85 709.50,498.56 709.95,498.56 709.95,499.43 710.40,499.43 710.40,500.10 710.85,500.10 710.85,501.89 711.30,501.89 711.30,499.60 711.75,499.60 711.75,500.02 712.20,500.02 712.20,500.35 712.65,500.35 712.65,500.51 713.10,500.51 713.10,499.46 713.55,499.46 713.55,499.63 714.00,499.63 714.00,500.25 714.45,500.25 714.45,501.23 714.90,501.23 714.90,500.69 715.35,500.69 715.35,498.56 715.80,498.56 715.80,498.19 716.25,498.19 716.25,498.76 716.70,498.76 716.70,500.44 717.15,500.44 717.15,499.57 717.60,499.57 717.60,501.49 718.05,501.49 718.05,498.86 718.50,498.86 718.50,498.97 718.95,498.97 718.95,499.04 719.40,499.04 719.40,498.78 719.85,498.78 719.85,499.29 720.30,499.29 720.30,498.90 720.75,498.90 720.75,499.27 721.20,499.27 721.20,499.63 721.65,499.63 721.65,498.36 722.10,498.36 722.10,499.00 722.55,499.00 722.55,499.19 723.00,499.19 723.00,499.23 723.45,499.23 723.45,499.66 723.90,499.66 723.90,498.79 724.35,498.79 724.35,499.89 724.80,499.89 724.80,499.36 725.25,499.36 725.25,500.14 725.70,500.14 725.70,499.90 726.15,499.90 726.15,499.85 726.60,499.85 726.60,499.42 727.05,499.42 727.05,499.04 727.50,499.04 727.50,500.39 727.95,500.39 727.95,499.46 728.40,499.46 728.40,499.25 728.85,499.25 728.85,499.53 729.30,499.53 729.30,498.00 729.75,498.00 729.75,498.97 730.20,498.97 730.20,498.95 730.65,498.95 730.65,499.28 731.10,499.28 731.10,500.85 731.55,500.85 731.55,499.93 732.00,499.93 732.00,500.40 732.45,500.40 732.45,499.38 732.90,499.38 732.90,499.72 733.35,499.72 733.35,499.10 733.80,499.10 733.80,500.29 734.25,500.29 734.25,501.09 734.70,501.09 734.70,500.98 735.15,500.98 735.15,499.91 735.60,499.91 735.60,499.05 736.05,499.05 736.05,498.64 736.50,498.64 736.50,499.33 736.95,499.33 736.95,499.01 737.40,499.01 737.40,499.59 737.85,499.59 737.85,500.14 738.30,500.14 738.30,500.21 738.75,500.21 738.75,499.24 739.20,499.24 739.20,499.08 739.65,499.08 739.65,498.57 740.10,498.57 740.10,497.80 740.55,497.80 740.55,499.47 741.00,499.47 741.00,501.16 741.45,501.16 741.45,501.92 741.90,501.92 741.90,499.40 742.35,499.40 742.35,498.72 742.80,498.72 742.80,497.47 743.25,497.47 743.25,498.45 743.70,498.45 743.70,498.09 744.15,498.09 744.15,498.71 744.60,498.71 744.60,500.04 745.05,500.04 745.05,500.32 745.50,500.32 745.50,498.45 745.95,498.45 745.95,499.61 746.40,499.61 746.40,499.25 746.85,499.25 746.85,498.92 747.30,498.92 747.30,499.71 747.75,499.71 747.75,498.54 748.20,498.54 748.20,499.11 748.65,499.11 748.65,499.10 749.10,499.10 749.10,498.71 749.55,498.71 749.55,497.55 750.00,497.55 750.00,497.55 750.45,497.55 750.45,497.46 750.90,497.46 750.90,498.07 751.35,498.07 751.35,500.29 751.80,500.29 751.80,499.45 752.00,499.45 752.00,539.80" fill="url(#st2)"/></g>
<rect x="637.50" y="457.20" width="114.50" height="91.70" fill="none" stroke="#c6c6c6" stroke-width="0.8"/>
<rect x="637.30" y="539.80" width="114.90" height="9.30" fill="url(#gg)"/><rect x="637.30" y="539.80" width="114.90" height="9.30" fill="url(#gv)"/>
<text font-size="7.47" class="t" transform="translate(636.50,468.08) scale(0.77,1)" text-anchor="end">800</text>
<text font-size="7.47" class="t" transform="translate(636.50,484.08) scale(0.77,1)" text-anchor="end">600</text>
<text font-size="7.47" class="t" transform="translate(635.60,501.58) scale(0.77,1)" text-anchor="end">400</text>
<text font-size="7.47" class="t" transform="translate(635.20,522.58) scale(0.77,1)" text-anchor="end">200</text>
<text font-size="7.47" class="t" transform="translate(632.50,543.68) scale(0.77,1)" text-anchor="end">0</text>
<text font-size="7.47" class="t" transform="translate(637.90,556.90) scale(0.77,1)" text-anchor="middle">0</text>
<text font-size="7.47" class="t" transform="translate(659.42,556.90) scale(0.77,1)" text-anchor="middle">50</text>
<text font-size="7.47" class="t" transform="translate(680.95,556.90) scale(0.77,1)" text-anchor="middle">100</text>
<text font-size="7.47" class="t" transform="translate(702.47,556.90) scale(0.77,1)" text-anchor="middle">150</text>
<text font-size="7.47" class="t" transform="translate(723.99,556.90) scale(0.77,1)" text-anchor="middle">200</text>
<text font-size="7.47" class="t" transform="translate(745.51,556.90) scale(0.77,1)" text-anchor="middle">250</text>
<text font-size="6.88" class="ax" transform="translate(691.75,565.10) scale(0.963,1)" text-anchor="middle">Gray scale values</text>
<text font-size="6.68" class="ay" transform="translate(625.10,506.65) rotate(-90) scale(1.199,1)" text-anchor="middle">No. of pixels</text>
<text class="pl" x="688.70" y="584.50" text-anchor="middle">(t)</text>
</g>
</svg></body></html>
